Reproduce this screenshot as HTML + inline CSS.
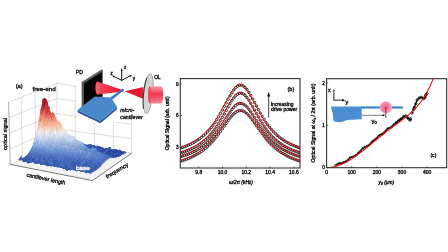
<!DOCTYPE html>
<html><head><meta charset="utf-8"><style>
html,body{margin:0;padding:0;background:#fff;}
body{width:448px;height:252px;overflow:hidden;}
svg{display:block;filter:blur(0.3px);}
text{font-family:'Liberation Sans', Arial, sans-serif;fill:#111;stroke:#111;stroke-width:0.34px;}
.fit{fill:none;stroke:#f01010;stroke-width:1.0;}
.ax{fill:none;stroke:#333;stroke-width:1.1;}
.tk{font-size:5px;}
</style></head><body>
<svg width="448" height="252" viewBox="0 0 448 252">
<defs>
<clipPath id="cb"><rect x="180.3" y="78.6" width="119.69999999999999" height="89.4"/></clipPath>
<clipPath id="cc"><rect x="326.6" y="78.7" width="120.1" height="89"/></clipPath>
<radialGradient id="pink" cx="0.5" cy="0.5" r="0.5"><stop offset="0" stop-color="#f0608a"/><stop offset="0.6" stop-color="#f37fa0"/><stop offset="1" stop-color="#f7b0c4"/></radialGradient>
<linearGradient id="cyl" x1="0" y1="0" x2="0" y2="1"><stop offset="0" stop-color="#f79aa6"/><stop offset="0.45" stop-color="#f2364a"/><stop offset="1" stop-color="#f58a96"/></linearGradient>
<linearGradient id="cone1" x1="0" y1="0" x2="1" y2="0"><stop offset="0" stop-color="#f04a5a"/><stop offset="1" stop-color="#e8102a"/></linearGradient>
</defs>
<rect width="448" height="252" fill="#fff"/>
<g id="pa"><polygon points="10.2,164.4 8.6,102 56.9,83.2 56.9,144" fill="#ffffff" stroke="none"/><polygon points="56.9,144 56.9,83.2 131.8,95.6 131.8,153.1" fill="#ffffff" stroke="none"/><polygon points="10.2,164.4 92.5,180.6 131.8,153.1 56.9,144" fill="#f2f2f2" stroke="none"/><polyline points="10.2,164.4 56.9,144 131.8,153.1" fill="none" stroke="#c8c8c8" stroke-width="0.6"/><polyline points="9.8,148.8 56.9,128.8 131.8,138.7" fill="none" stroke="#c8c8c8" stroke-width="0.6"/><polyline points="9.4,133.2 56.9,113.6 131.8,124.3" fill="none" stroke="#c8c8c8" stroke-width="0.6"/><polyline points="9,117.6 56.9,98.4 131.8,110" fill="none" stroke="#c8c8c8" stroke-width="0.6"/><polyline points="8.6,102 56.9,83.2 131.8,95.6" fill="none" stroke="#c8c8c8" stroke-width="0.6"/><line x1="22.3" y1="159.1" x2="21.1" y2="97.1" stroke="#c8c8c8" stroke-width="0.6"/><line x1="35.7" y1="153.3" x2="35" y2="91.7" stroke="#c8c8c8" stroke-width="0.6"/><line x1="49.1" y1="147.4" x2="48.8" y2="86.3" stroke="#c8c8c8" stroke-width="0.6"/><line x1="56.9" y1="144" x2="56.9" y2="83.2" stroke="#c8c8c8" stroke-width="0.6"/><line x1="75.2" y1="146.2" x2="75.2" y2="86.2" stroke="#c8c8c8" stroke-width="0.6"/><line x1="94.3" y1="148.5" x2="94.3" y2="89.4" stroke="#c8c8c8" stroke-width="0.6"/><line x1="113.3" y1="150.9" x2="113.3" y2="92.5" stroke="#c8c8c8" stroke-width="0.6"/><line x1="131.6" y1="153.1" x2="131.6" y2="95.6" stroke="#c8c8c8" stroke-width="0.6"/><line x1="10.2" y1="164.4" x2="8.6" y2="102" stroke="#888" stroke-width="0.7"/><path d="M59.9 139.8L61.6 139.2L62.2 138.1L60.6 139.4Z" fill="#3f66c0"/><path d="M59.2 139.8L60.9 139.1L61.6 139.1L59.9 139.8Z" fill="#3a5eb2"/><path d="M61.2 139.2L62.8 139.7L63.6 138.6L62 138Z" fill="#3b5fb1"/><path d="M58.6 140.6L60.3 139.8L60.9 139.1L59.2 139.7Z" fill="#3d63bc"/><path d="M60.5 139.2L62.3 139.5L62.9 139.5L61.2 139.1Z" fill="#4068c1"/><path d="M62.5 139.4L64.1 141.2L64.9 140L63.3 138.4Z" fill="#395eb4"/><path d="M57.9 140.2L59.6 139.7L60.3 139.7L58.6 140.7Z" fill="#385aab"/><path d="M59.8 139.8L61.5 139.9L62.3 139.4L60.6 139.1Z" fill="#4168c1"/><path d="M61.9 139.3L63.4 141.7L64.2 141.1L62.6 139.3Z" fill="#385cb3"/><path d="M63.8 141L65.5 141.2L66.2 140.8L64.6 139.8Z" fill="#375cb7"/><path d="M57.2 141.7L58.9 140.8L59.6 139.7L57.9 140Z" fill="#3a5fb6"/><path d="M59.2 139.8L60.9 140L61.6 139.8L59.8 139.8Z" fill="#3d63b7"/><path d="M61.2 139.6L62.7 142.1L63.5 141.7L62 139.2Z" fill="#385cb2"/><path d="M63.1 141.6L64.8 141.9L65.5 141L63.9 140.8Z" fill="#355ab7"/><path d="M56.5 141.6L58.2 140.9L58.9 140.6L57.3 141.7Z" fill="#3b61bc"/><path d="M65.1 141.2L66.8 139.9L67.5 139.8L65.8 140.9Z" fill="#3456a8"/><path d="M58.5 140.8L60.3 140.1L60.9 139.9L59.2 139.6Z" fill="#3c61b4"/><path d="M60.6 139.7L62.1 142.8L62.8 142.1L61.3 139.6Z" fill="#3b61bd"/><path d="M62.5 142L64.2 141.3L64.9 141.7L63.1 141.5Z" fill="#3255ad"/><path d="M55.9 141.8L57.6 140.9L58.3 140.9L56.5 141.6Z" fill="#375bae"/><path d="M64.5 141.8L66.1 139.8L66.8 139.9L65.2 141.2Z" fill="#385db4"/><path d="M57.8 141.1L59.6 140.8L60.2 140L58.5 140.8Z" fill="#3d62b8"/><path d="M66.5 139.9L68 142.6L68.7 142.6L67.2 139.7Z" fill="#3457af"/><path d="M59.9 139.9L61.4 142.9L62.2 142.8L60.7 139.7Z" fill="#375bb1"/><path d="M61.8 142.7L63.6 142L64.2 141.3L62.5 141.9Z" fill="#3255ad"/><path d="M55.2 142.5L56.9 141.5L57.6 140.9L55.8 141.7Z" fill="#385db2"/><path d="M63.8 141.5L65.5 141.3L66.1 139.9L64.6 141.9Z" fill="#385db5"/><path d="M57.2 141.1L58.9 141.3L59.6 140.7L57.8 141Z" fill="#3b60b3"/><path d="M65.8 139.9L67.3 142.5L68.1 142.6L66.6 139.8Z" fill="#3659b1"/><path d="M59.2 140.6L60.8 142.5L61.5 142.8L60 139.9Z" fill="#395db4"/><path d="M67.7 142.5L69.5 141.9L70.1 141L68.5 142.6Z" fill="#3255b2"/><path d="M61.1 142.7L62.8 143.1L63.5 141.9L61.8 142.6Z" fill="#3255af"/><path d="M54.5 142.3L56.2 141.2L56.9 141.5L55.3 142.5Z" fill="#3a5eb5"/><path d="M63.1 142.1L64.9 141.7L65.5 141.2L63.8 141.4Z" fill="#385cb5"/><path d="M56.5 141.6L58.2 141.6L58.9 141.2L57.2 140.9Z" fill="#3d63ba"/><path d="M65.1 141.2L66.7 143L67.5 142.5L65.9 139.8Z" fill="#375db8"/><path d="M58.5 141.1L60.1 142.9L60.9 142.4L59.3 140.5Z" fill="#3a5fb7"/><path d="M67.1 142.4L68.7 141.1L69.5 141.9L67.8 142.6Z" fill="#3559b7"/><path d="M60.5 142.3L62.2 142.8L62.9 142.9L61.1 142.6Z" fill="#3559b5"/><path d="M69.1 142L70.7 140.8L71.4 141.2L69.7 141.1Z" fill="#3659b1"/><path d="M53.9 143.2L55.6 142.7L56.2 141.3L54.5 142.2Z" fill="#385cb2"/><path d="M62.5 143L64.2 141.7L64.8 141.6L63.1 141.9Z" fill="#375cb6"/><path d="M55.8 141.4L57.6 141.3L58.3 141.5L56.5 141.6Z" fill="#3e65bb"/><path d="M64.5 141.5L66 143.4L66.8 142.9L65.2 141Z" fill="#3357af"/><path d="M57.9 141.3L59.4 144L60.2 142.8L58.6 141Z" fill="#3558ab"/><path d="M66.4 142.9L68.1 142.4L68.8 141.2L67.1 142.4Z" fill="#3051a5"/><path d="M59.8 142.7L61.5 143.1L62.2 142.8L60.5 142.2Z" fill="#3559b2"/><path d="M68.4 141.3L70.1 141.6L70.8 140.9L69.1 142.1Z" fill="#385db7"/><path d="M53.2 143.1L54.8 141.4L55.6 142.6L53.9 143.3Z" fill="#3b60b9"/><path d="M61.8 142.8L63.5 141.8L64.2 141.7L62.6 143.1Z" fill="#3456ab"/><path d="M70.3 141L72.1 141.1L72.7 140L71.1 141.4Z" fill="#3c62bb"/><path d="M55.2 142.7L56.9 141.3L57.6 141.3L55.9 141.3Z" fill="#3d62b6"/><path d="M63.8 141.7L65.3 144.6L66.2 143.3L64.6 141.4Z" fill="#3356b0"/><path d="M57.2 141.2L58.7 144.3L59.5 144L58 141.3Z" fill="#385cb5"/><path d="M65.8 143.3L67.4 141.9L68.1 142.2L66.4 142.9Z" fill="#3153aa"/><path d="M59.2 143.9L60.8 143.7L61.6 142.9L59.9 142.5Z" fill="#3254ab"/><path d="M67.7 142.4L69.4 142.5L70.1 141.5L68.5 141.2Z" fill="#3355a7"/><path d="M52.5 143.5L54.2 142.2L54.9 141.4L53.2 143.2Z" fill="#3a5eb2"/><path d="M61.2 143.1L62.8 141.6L63.5 141.9L61.9 142.9Z" fill="#3457aa"/><path d="M69.7 141.6L71.4 141.5L72.1 140.9L70.4 140.9Z" fill="#3a5fb7"/><path d="M54.5 141.5L56.3 141.9L56.9 141.4L55.3 142.8Z" fill="#3f65ba"/><path d="M63.2 141.8L64.7 144L65.4 144.6L63.9 141.6Z" fill="#3458b3"/><path d="M71.6 140.9L73.3 142.1L74 141.2L72.4 139.9Z" fill="#3a5fb7"/><path d="M56.6 141.3L58.1 143.8L58.8 144.3L57.3 141.2Z" fill="#385cb1"/><path d="M65.2 144.5L66.8 142.9L67.4 142L65.7 143.3Z" fill="#3154ae"/><path d="M58.5 144.1L60.2 143.4L60.9 143.5L59.1 143.9Z" fill="#3153ab"/><path d="M67.1 142.1L68.8 142.2L69.5 142.3L67.7 142.3Z" fill="#375bb5"/><path d="M51.8 143.7L53.5 142.5L54.2 142.2L52.6 143.5Z" fill="#3b60b8"/><path d="M60.5 143.7L62.2 142.9L62.8 141.6L61.1 143.1Z" fill="#3558ad"/><path d="M69.1 142.4L70.7 141.2L71.4 141.3L69.7 141.5Z" fill="#395db4"/><path d="M53.8 142.4L55.6 142.1L56.3 141.8L54.6 141.4Z" fill="#4066bb"/><path d="M62.5 141.6L64 144.4L64.8 144L63.3 141.8Z" fill="#3458af"/><path d="M71 141.4L72.7 140.8L73.4 142L71.7 140.8Z" fill="#3b61ba"/><path d="M55.9 141.7L57.4 144.4L58.2 143.8L56.6 141.2Z" fill="#3d64bf"/><path d="M64.4 143.9L66.1 142.8L66.8 142.9L65.2 144.6Z" fill="#2f51aa"/><path d="M73 141.8L74.6 143.1L75.4 142.2L73.7 141Z" fill="#3457ae"/><path d="M57.8 143.6L59.6 143.7L60.2 143.5L58.5 144.2Z" fill="#3051a3"/><path d="M66.4 143.1L68.1 142.2L68.8 142.2L67.1 142Z" fill="#365bb2"/><path d="M51.2 144.3L52.8 142.4L53.6 142.5L51.9 143.7Z" fill="#3a5eb4"/><path d="M59.8 143.6L61.4 142.2L62.2 142.8L60.5 143.7Z" fill="#3355a7"/><path d="M68.4 142.3L70.1 141.5L70.8 141.2L69.1 142.5Z" fill="#3a5fb6"/><path d="M53.2 142.7L54.9 142.1L55.6 142L53.8 142.4Z" fill="#4168be"/><path d="M61.8 142.8L63.4 144.8L64.1 144.4L62.6 141.6Z" fill="#3356ac"/><path d="M70.3 141.3L72 142.1L72.7 140.9L71 141.4Z" fill="#3a5fb5"/><path d="M55.2 141.9L56.8 143.8L57.5 144.3L56 141.6Z" fill="#3a5eb1"/><path d="M63.8 144.3L65.5 143.5L66.1 142.9L64.4 143.9Z" fill="#3356b1"/><path d="M72.4 140.8L74 142.6L74.7 143L73 141.8Z" fill="#3456aa"/><path d="M57.2 144.2L58.9 143.7L59.6 143.7L57.8 143.5Z" fill="#3558af"/><path d="M65.7 143.1L67.4 143.3L68.1 142.2L66.4 143.1Z" fill="#395fbc"/><path d="M50.5 143.8L52.1 141.6L52.9 142.5L51.3 144.4Z" fill="#3e63b9"/><path d="M74.3 142.9L75.9 143.1L76.6 141.7L75 142Z" fill="#3357b1"/><path d="M59.1 143.8L60.8 144L61.5 142.3L59.8 143.7Z" fill="#375bb2"/><path d="M67.7 142.3L69.4 142.5L70.1 141.5L68.4 142.3Z" fill="#375baf"/><path d="M52.5 142.7L54.1 141.1L54.9 142.2L53.2 142.8Z" fill="#4269bd"/><path d="M61.2 142.3L62.7 145.2L63.5 144.7L61.9 142.7Z" fill="#3559b2"/><path d="M69.7 141.6L71.3 142.7L72.1 141.9L70.4 141.1Z" fill="#395cb0"/><path d="M54.5 142.1L56.1 143.5L56.9 143.7L55.3 141.8Z" fill="#3f65bb"/><path d="M63.1 144.7L64.7 143.1L65.5 143.5L63.8 144.4Z" fill="#3458b4"/><path d="M71.7 141.9L73.2 143.4L74 142.5L72.5 140.7Z" fill="#3a5fb9"/><path d="M56.5 143.5L58.2 143.7L58.9 143.7L57.2 144.3Z" fill="#3457aa"/><path d="M65.1 143.6L66.8 144L67.5 143.1L65.8 142.9Z" fill="#3356ab"/><path d="M49.9 144.2L51.5 142.3L52.2 141.7L50.6 143.8Z" fill="#3d61b2"/><path d="M73.6 142.4L75.4 142.8L76 143L74.3 142.9Z" fill="#3459b4"/><path d="M58.5 143.8L60.1 142.1L60.9 143.9L59.2 143.8Z" fill="#3a5fb8"/><path d="M67.1 143.2L68.8 142.2L69.5 142.4L67.8 142.2Z" fill="#3a60b8"/><path d="M51.8 141.9L53.4 140.3L54.2 141.2L52.6 142.8Z" fill="#466dbd"/><path d="M75.6 143L77.2 143.8L78 142.8L76.4 141.6Z" fill="#3051a7"/><path d="M60.5 143.7L62.1 145.6L62.8 145.1L61.3 142.2Z" fill="#3357af"/><path d="M69 142.4L70.7 143.4L71.4 142.5L69.8 141.4Z" fill="#395eb5"/><path d="M53.9 141.2L55.5 141.8L56.2 143.5L54.5 142.2Z" fill="#4268b9"/><path d="M62.5 145.1L64.1 143.5L64.8 143.2L63.2 144.7Z" fill="#3356af"/><path d="M71 142.4L72.6 144L73.4 143.3L71.8 141.7Z" fill="#365bb5"/><path d="M55.8 143.3L57.5 144L58.2 143.7L56.5 143.5Z" fill="#3a5fb7"/><path d="M64.4 143.2L66.1 144.6L66.8 143.8L65.1 143.4Z" fill="#3255aa"/><path d="M49.2 144.4L50.7 141.7L51.5 142.3L49.9 144.2Z" fill="#3d60b0"/><path d="M73 143.2L74.6 143.9L75.4 142.7L73.7 142.3Z" fill="#3355ad"/><path d="M57.8 143.8L59.5 142.8L60.2 142.2L58.6 143.9Z" fill="#3c62b8"/><path d="M66.5 143.9L68 141.9L68.8 142.2L67.1 143.3Z" fill="#395db3"/><path d="M51.2 142.6L52.8 140L53.5 140.4L51.9 142Z" fill="#4c73c1"/><path d="M74.9 142.7L76.6 143.6L77.3 143.7L75.6 142.8Z" fill="#3052a9"/><path d="M59.9 142.1L61.4 145.2L62.1 145.6L60.5 143.6Z" fill="#375bb5"/><path d="M68.4 142.2L70.1 142.9L70.8 143.3L69.1 142.3Z" fill="#395eb5"/><path d="M53.2 140.4L54.9 141.4L55.5 142.1L53.8 141.3Z" fill="#4c74c4"/><path d="M77 143.8L78.6 142L79.2 141.3L77.6 142.9Z" fill="#3355ab"/><path d="M61.8 145.5L63.5 144.2L64.1 143.6L62.5 145.1Z" fill="#3052aa"/><path d="M70.4 143.2L72 144.2L72.7 143.9L71.1 142.3Z" fill="#3458b0"/><path d="M55.2 141.8L56.8 142.3L57.5 144.1L55.9 143.5Z" fill="#3e63b5"/><path d="M63.8 143.7L65.5 143.8L66.2 144.5L64.5 143.1Z" fill="#3456ab"/><path d="M48.5 143L50.1 140.7L50.9 141.8L49.3 144.4Z" fill="#466dbf"/><path d="M72.3 143.9L74 142.9L74.7 143.8L73 143.1Z" fill="#3458b4"/><path d="M57.2 144L58.9 143.1L59.5 142.8L57.9 143.9Z" fill="#3d62b9"/><path d="M65.8 144.5L67.5 143.2L68.1 141.9L66.5 144Z" fill="#3a60bb"/><path d="M50.5 142.1L52.1 138.6L52.9 140L51.3 142.7Z" fill="#527ac6"/><path d="M74.3 143.8L75.9 144.4L76.7 143.5L75.1 142.5Z" fill="#3052ab"/><path d="M59.2 142.7L60.7 145.3L61.5 145.2L60 142.1Z" fill="#375aad"/><path d="M67.8 141.9L69.3 143.8L70.1 142.8L68.5 142.1Z" fill="#3a5eb3"/><path d="M52.5 140.1L54.2 141.2L54.9 141.4L53.2 140.4Z" fill="#557fcf"/><path d="M76.3 143.6L77.9 141.9L78.6 142.1L77 143.8Z" fill="#3559b2"/><path d="M61.1 145.1L62.8 144.3L63.5 144.3L61.9 145.6Z" fill="#3357b2"/><path d="M69.7 142.7L71.4 144.1L72.1 144.1L70.4 143.1Z" fill="#365bb5"/><path d="M54.5 141.3L56.1 141L56.9 142.7L55.2 142Z" fill="#4971c3"/><path d="M78.2 142.1L79.8 143.9L80.6 143.2L79 141.2Z" fill="#3558b0"/><path d="M63.1 144.4L64.8 144.6L65.5 143.7L63.8 143.6Z" fill="#365bb3"/><path d="M47.9 143.7L49.4 140.6L50.2 140.8L48.6 143.1Z" fill="#4d76c8"/><path d="M71.7 144.1L73.4 144.2L74 142.9L72.3 143.8Z" fill="#3357b1"/><path d="M56.5 142.4L58.1 142L58.9 143.3L57.3 144.1Z" fill="#4269bf"/><path d="M65.1 143.8L66.8 143.5L67.5 143.2L65.9 144.6Z" fill="#375cb4"/><path d="M49.9 141.1L51.4 137.1L52.2 138.7L50.7 142.1Z" fill="#5b82c7"/><path d="M73.7 142.9L75.3 144.5L76 144.2L74.3 143.7Z" fill="#3153ab"/><path d="M58.5 143.1L60.1 145.4L60.8 145.3L59.3 142.7Z" fill="#385bb0"/><path d="M67.1 143.3L68.7 144L69.5 143.7L67.9 141.8Z" fill="#3c62bb"/><path d="M51.9 138.7L53.5 139.1L54.2 141.3L52.5 140.3Z" fill="#567bbe"/><path d="M75.6 144.3L77.3 143.3L77.9 142L76.3 143.6Z" fill="#3356ae"/><path d="M60.5 145.2L62.1 143.9L62.9 144.4L61.2 145.2Z" fill="#395fbe"/><path d="M69 143.6L70.7 144.7L71.4 144L69.8 142.6Z" fill="#3559b0"/><path d="M53.8 141L55.5 141.8L56.3 141.2L54.5 141.3Z" fill="#4c73be"/><path d="M77.6 142L79.1 144.3L79.9 143.8L78.3 142Z" fill="#3458b0"/><path d="M62.4 144.4L64.2 144.4L64.9 144.4L63.1 144.3Z" fill="#385eb9"/><path d="M47.2 143.2L48.7 138.3L49.5 140.7L48 143.7Z" fill="#537ac6"/><path d="M71 143.9L72.8 143.8L73.4 144.1L71.7 144.1Z" fill="#3458b2"/><path d="M55.8 141.1L57.4 140.3L58.2 142.3L56.6 142.7Z" fill="#4c74c4"/><path d="M79.5 143.7L81.1 144.4L81.9 143.7L80.3 142.9Z" fill="#2e50a8"/><path d="M64.5 144.5L66.2 143.5L66.8 143.5L65.1 143.7Z" fill="#3e66c5"/><path d="M49.3 141L50.7 135.8L51.5 137.1L50 141.2Z" fill="#6890d0"/><path d="M73 144.1L74.7 144.5L75.4 144.4L73.8 142.8Z" fill="#3154ab"/><path d="M57.9 142L59.5 144.5L60.1 145.4L58.6 143Z" fill="#3d62b6"/><path d="M66.4 143.6L68.1 144.4L68.8 143.8L67.2 143.1Z" fill="#395eb6"/><path d="M51.2 137.2L52.8 137.2L53.5 139.5L51.9 139.1Z" fill="#6e95d4"/><path d="M75 144.5L76.5 142.3L77.3 143.2L75.7 144.4Z" fill="#3559b4"/><path d="M59.8 145.3L61.5 144.1L62.2 144L60.5 145.3Z" fill="#375cb4"/><path d="M68.4 143.7L70 144.9L70.8 144.6L69.1 143.4Z" fill="#3355a9"/><path d="M53.2 139.2L54.8 138.9L55.5 141.9L53.9 141.3Z" fill="#5b84cd"/><path d="M76.9 143.2L78.5 144.5L79.3 144.2L77.7 141.9Z" fill="#3356ae"/><path d="M61.8 144L63.5 144.7L64.2 144.4L62.5 144.5Z" fill="#385cb2"/><path d="M46.6 142.8L48 137.6L48.8 138.3L47.3 143.2Z" fill="#597fc2"/><path d="M70.4 144.6L72.1 144.6L72.8 143.8L71.1 143.8Z" fill="#3356ad"/><path d="M55.2 141.8L56.8 139.8L57.6 140.4L55.9 141.3Z" fill="#537ac3"/><path d="M78.9 144.1L80.6 144.3L81.2 144.3L79.6 143.5Z" fill="#2e50aa"/><path d="M63.8 144.5L65.5 143.5L66.2 143.5L64.5 144.6Z" fill="#375aad"/><path d="M48.5 138.7L50.1 134.7L50.8 135.8L49.3 141.1Z" fill="#799cd5"/><path d="M72.3 143.8L74 144.6L74.7 144.4L73 144Z" fill="#3356af"/><path d="M57.3 140.3L58.8 144.5L59.5 144.5L57.9 142Z" fill="#4369b9"/><path d="M80.9 144.4L82.5 143L83.2 142.9L81.5 143.8Z" fill="#3052a9"/><path d="M65.8 143.6L67.4 144.5L68.2 144.2L66.5 143.4Z" fill="#385cb0"/><path d="M50.5 135.9L52.1 135.8L52.9 137.5L51.3 137.5Z" fill="#85a7dd"/><path d="M74.3 144.5L76 143.3L76.6 142.4L75.1 144.5Z" fill="#3152a4"/><path d="M59.1 144.4L60.8 143.3L61.6 144.3L59.9 145.4Z" fill="#3a5fb5"/><path d="M67.7 144.1L69.4 145.3L70.1 144.8L68.5 143.6Z" fill="#3254a8"/><path d="M52.5 137.2L54.1 137.6L54.9 139.3L53.3 139.5Z" fill="#6b92cf"/><path d="M76.3 142.4L77.9 145.1L78.6 144.4L77 143.1Z" fill="#355ab4"/><path d="M61.1 144.3L62.9 144.5L63.6 144.6L61.8 143.9Z" fill="#395db2"/><path d="M45.9 141.6L47.4 136.4L48.1 137.7L46.6 142.9Z" fill="#678fd0"/><path d="M69.7 144.8L71.4 145.2L72.1 144.4L70.4 144.4Z" fill="#3153aa"/><path d="M54.5 139L56.1 139.1L56.9 140L55.3 141.9Z" fill="#638dd7"/><path d="M78.2 144.2L79.9 145.1L80.6 144.2L78.9 143.9Z" fill="#3053af"/><path d="M63.1 144.7L64.8 143.4L65.5 143.6L63.8 144.6Z" fill="#3d64bd"/><path d="M47.9 138L49.4 132.1L50.2 134.7L48.7 138.7Z" fill="#89a5d2"/><path d="M71.7 144.4L73.3 145.3L74.1 144.5L72.4 143.7Z" fill="#3254a9"/><path d="M56.6 139.9L58.1 143.4L58.8 144.5L57.3 140.3Z" fill="#4f79cb"/><path d="M80.2 144.3L81.9 143.4L82.5 143.1L80.9 144.4Z" fill="#3153ac"/><path d="M65.1 143.6L66.8 144.5L67.5 144.4L65.8 143.5Z" fill="#3a5fb5"/><path d="M49.8 134.9L51.4 131.8L52.2 136.2L50.6 136.2Z" fill="#9cb6e1"/><path d="M73.7 144.6L75.3 143.1L76 143.4L74.4 144.5Z" fill="#3457ab"/><path d="M58.5 144.4L60.1 142.1L60.9 143.5L59.3 144.6Z" fill="#436ac0"/><path d="M82.1 143.1L83.7 144.9L84.5 144.2L82.9 142.8Z" fill="#3153ac"/><path d="M67.1 144.3L68.8 145.3L69.5 145.2L67.8 144Z" fill="#375bb4"/><path d="M51.9 135.9L53.6 137.1L54.2 137.9L52.5 137.5Z" fill="#7d9dd2"/><path d="M75.6 143.4L77.2 145.5L78 145L76.4 142.3Z" fill="#3559b3"/><path d="M60.5 143.4L62.1 143.1L62.9 144.6L61.2 144.5Z" fill="#3e63b6"/><path d="M45.2 141.7L46.7 135.6L47.4 136.4L46 141.7Z" fill="#759bd9"/><path d="M69.1 145.1L70.8 144.9L71.5 145.1L69.7 144.6Z" fill="#3559b5"/><path d="M53.9 137.7L55.4 137L56.2 139.5L54.6 139.4Z" fill="#7399d8"/><path d="M77.6 144.9L79.3 144.7L80 144.9L78.3 144.1Z" fill="#2f52ad"/><path d="M62.5 144.5L64.2 143.6L64.9 143.5L63.2 144.8Z" fill="#3e64bc"/><path d="M47.3 136.8L48.7 130.2L49.5 132.1L48 138.1Z" fill="#96abcf"/><path d="M71 145.1L72.7 145.7L73.4 145.1L71.8 144.2Z" fill="#3356b1"/><path d="M55.9 139.1L57.4 142.5L58.1 143.4L56.6 139.8Z" fill="#557dc6"/><path d="M79.6 145L81.3 144L81.9 143.4L80.2 144.2Z" fill="#3154ad"/><path d="M64.5 143.5L66.1 145.1L66.9 144.4L65.2 143.5Z" fill="#3b60b6"/><path d="M49.1 132.4L50.7 129.3L51.6 132L50 135.1Z" fill="#b0c1df"/><path d="M73.1 145.2L74.7 143.6L75.4 143.1L73.7 144.6Z" fill="#3659b0"/><path d="M57.8 143.3L59.4 141.6L60.2 142.2L58.6 144.5Z" fill="#4972c5"/><path d="M81.5 143.5L83.1 144.7L83.8 144.9L82.3 143Z" fill="#3357b4"/><path d="M66.4 144.3L68.1 145.4L68.8 145.2L67.2 144.2Z" fill="#365ab0"/><path d="M51.3 131.8L52.8 132.4L53.5 137.3L52 136.2Z" fill="#9cb3da"/><path d="M75 143.1L76.6 145L77.3 145.4L75.7 143.3Z" fill="#375db9"/><path d="M59.9 142.2L61.6 143.3L62.2 143.3L60.6 143.7Z" fill="#446abb"/><path d="M44.6 141.3L46 133.7L46.8 135.6L45.3 141.7Z" fill="#86a9e4"/><path d="M83.4 144.8L85.2 144.1L85.8 144.4L84.1 144Z" fill="#2e4fa9"/><path d="M68.4 145.1L70.1 146L70.8 144.9L69.1 145Z" fill="#3254aa"/><path d="M53.2 137.1L54.8 135.9L55.6 137.3L53.9 138Z" fill="#86a7de"/><path d="M76.9 145.3L78.7 144.6L79.3 144.7L77.6 144.8Z" fill="#3256b4"/><path d="M61.8 143.2L63.5 142.8L64.2 143.8L62.6 144.7Z" fill="#3f64b4"/><path d="M46.6 136L48 125.8L48.8 130.2L47.3 136.8Z" fill="#c4d6f4"/><path d="M70.4 144.9L72.1 145.4L72.8 145.6L71.1 145Z" fill="#3255ad"/><path d="M55.3 137L56.8 140.7L57.5 142.5L55.9 139.2Z" fill="#6891d7"/><path d="M78.9 144.7L80.6 144.7L81.3 144L79.6 145Z" fill="#3052aa"/><path d="M63.8 143.7L65.5 145.1L66.2 145L64.6 143.4Z" fill="#3a5eaf"/><path d="M48.5 130.6L50.1 126.8L50.9 129.4L49.3 132.6Z" fill="#d3def2"/><path d="M72.4 145.7L74.1 144.2L74.7 143.6L73.1 145.3Z" fill="#375bb6"/><path d="M57.2 142.3L58.8 140.6L59.6 141.8L58 143.4Z" fill="#5680d2"/><path d="M80.8 144L82.5 145.4L83.2 144.5L81.6 143.4Z" fill="#3458b6"/><path d="M65.8 144.9L67.5 145.7L68.2 145.2L66.5 144.2Z" fill="#395eb7"/><path d="M50.6 129.3L52.2 130.4L52.8 132.8L51.3 132.3Z" fill="#c2d1eb"/><path d="M74.4 143.7L75.9 145.6L76.7 144.9L75.1 143.1Z" fill="#3659b0"/><path d="M59.2 141.7L60.9 142.9L61.6 143.3L59.8 142.2Z" fill="#4b73c2"/><path d="M43.9 140.1L45.4 131.8L46.1 133.7L44.6 141.3Z" fill="#8da8d6"/><path d="M82.8 144.5L84.5 144.8L85.2 144.1L83.5 144.8Z" fill="#2e50a8"/><path d="M67.8 145.1L69.5 146L70.2 145.8L68.5 144.9Z" fill="#3051a2"/><path d="M52.6 132.4L54.1 132.2L54.8 136.3L53.3 137.3Z" fill="#a2bae2"/><path d="M76.3 144.8L78 145L78.7 144.6L77 145.4Z" fill="#3154ad"/><path d="M61.2 143.3L62.8 141.9L63.6 143L61.9 143.5Z" fill="#4d79d1"/><path d="M45.9 134.2L47.4 123.9L48.1 125.8L46.7 136.1Z" fill="#d7e0f3"/><path d="M84.8 144.1L86.4 145.7L87.1 145.1L85.5 144.2Z" fill="#2b4ca4"/><path d="M69.7 145.8L71.4 146.7L72.1 145.3L70.5 144.7Z" fill="#3356b0"/><path d="M54.6 135.9L56.1 139.5L56.8 140.7L55.3 137Z" fill="#7295cc"/><path d="M78.2 144.7L79.9 145.3L80.6 144.6L78.9 144.6Z" fill="#3052aa"/><path d="M63.2 142.8L64.9 143.7L65.5 145L63.8 143.8Z" fill="#3e62b2"/><path d="M47.8 125.9L49.4 122.2L50.2 127.1L48.7 130.7Z" fill="#f8f5f8"/><path d="M71.7 145.4L73.4 144.3L74.1 144.2L72.5 145.7Z" fill="#375bb5"/><path d="M56.5 140.5L58.1 139L58.9 140.9L57.3 142.5Z" fill="#5b81c4"/><path d="M80.2 144.6L81.8 145.6L82.6 145.3L81 143.9Z" fill="#3052ab"/><path d="M65.1 144.8L66.8 146.1L67.5 145.5L65.9 144.8Z" fill="#395fb9"/><path d="M49.9 126.8L51.4 126.2L52.1 130.8L50.6 129.7Z" fill="#e1e5f2"/><path d="M73.7 144.2L75.3 146.1L76.1 145.5L74.5 143.6Z" fill="#365ab3"/><path d="M58.6 140.7L60.3 141.6L60.9 142.9L59.2 141.8Z" fill="#5279c2"/><path d="M43.3 139.6L44.7 131.2L45.4 131.8L44 140.2Z" fill="#9cb4db"/><path d="M82.2 145.2L83.8 145.5L84.5 144.7L82.9 144.3Z" fill="#2e50aa"/><path d="M67.1 145.5L68.8 145.9L69.5 145.9L67.8 145Z" fill="#375cb6"/><path d="M51.8 130.5L53.4 127.9L54.2 132.6L52.7 132.8Z" fill="#c3d1e8"/><path d="M75.6 145.4L77.3 145.9L78 145L76.4 144.7Z" fill="#3051a7"/><path d="M60.5 142.8L62.1 141.1L62.9 142.1L61.3 143.4Z" fill="#527bcc"/><path d="M45.3 132.2L46.7 120.9L47.4 123.9L46 134.2Z" fill="#dfe0e7"/><path d="M84.1 144.7L85.7 145.8L86.5 145.6L84.9 144Z" fill="#2e50ad"/><path d="M69.1 145.8L70.8 145.8L71.5 146.6L69.8 145.7Z" fill="#3255ae"/><path d="M54 132.2L55.6 136.3L56.1 139.5L54.5 136.2Z" fill="#97b4e2"/><path d="M77.6 145L79.4 144.8L80 145.2L78.3 144.6Z" fill="#355ab7"/><path d="M62.5 142L64.2 142.3L64.9 143.9L63.2 143.1Z" fill="#4c75c7"/><path d="M47.2 124.3L48.7 119.1L49.6 122.3L48 126.2Z" fill="#fad8c7"/><path d="M86.1 145.7L87.8 144.7L88.4 144.4L86.7 145.1Z" fill="#2a4aa2"/><path d="M71.1 146.7L72.8 145L73.4 144.3L71.7 145.3Z" fill="#3457ad"/><path d="M55.8 139.3L57.5 138.2L58.3 139.2L56.7 140.7Z" fill="#6f96d5"/><path d="M79.6 145.2L81.2 146L82 145.5L80.3 144.4Z" fill="#3155b2"/><path d="M64.5 143.6L66.2 144.2L66.8 146.1L65.1 145Z" fill="#4067c0"/><path d="M49.3 122.2L50.8 123.4L51.5 126.6L50 127.2Z" fill="#fff1eb"/><path d="M73.1 144.4L74.7 145.9L75.4 146L73.8 144.1Z" fill="#365ab3"/><path d="M57.9 139L59.5 139.3L60.2 141.9L58.6 141Z" fill="#638ccf"/><path d="M42.6 138.3L44 128.8L44.7 131.2L43.3 139.6Z" fill="#b3c8ec"/><path d="M81.5 145.5L83.2 144.9L83.9 145.4L82.2 145.1Z" fill="#2e50aa"/><path d="M66.5 146L68.2 146L68.9 145.8L67.2 145.3Z" fill="#365ab2"/><path d="M51.3 126.2L52.8 126.4L53.6 128.2L52 130.8Z" fill="#dcdee7"/><path d="M75 145.9L76.7 146.1L77.4 145.7L75.7 145.2Z" fill="#3255b1"/><path d="M59.8 141.7L61.5 140.6L62.3 141.2L60.7 143Z" fill="#547bc2"/><path d="M44.6 131.7L46 117.6L46.7 120.9L45.3 132.2Z" fill="#f5e7e2"/><path d="M83.5 145.3L85.1 146.5L85.9 145.7L84.2 144.5Z" fill="#2a499f"/><path d="M68.4 145.7L70.1 146.8L70.9 145.9L69.1 145.7Z" fill="#355ab5"/><path d="M53.4 127.9L54.8 135.3L55.5 136.4L53.9 132.2Z" fill="#b1c3e1"/><path d="M77 145.9L78.7 145L79.4 144.8L77.6 144.9Z" fill="#3559b3"/><path d="M61.9 141.1L63.5 143.6L64.3 142.4L62.5 142Z" fill="#4d73bc"/><path d="M46.5 121.3L48.1 115.7L48.9 119.1L47.3 124.4Z" fill="#f1b79e"/><path d="M85.4 145.7L87.1 145L87.8 144.7L86.1 145.7Z" fill="#2d4fad"/><path d="M70.4 145.9L72.1 145.4L72.8 145L71.2 146.7Z" fill="#3356ac"/><path d="M55.3 136L56.8 136.5L57.6 138.5L56 139.5Z" fill="#83a4d8"/><path d="M78.9 144.8L80.7 145.7L81.3 145.9L79.6 145.1Z" fill="#3052aa"/><path d="M63.9 142.2L65.5 144.4L66.2 144.5L64.5 143.8Z" fill="#4165b3"/><path d="M48.6 119.1L50.1 117.5L50.8 123.9L49.3 122.6Z" fill="#f7c2a9"/><path d="M87.4 144.8L89 145.8L89.7 145.1L88.1 144.3Z" fill="#2d4faa"/><path d="M72.4 145.1L74.1 145.9L74.8 145.8L73.2 144.3Z" fill="#3558ad"/><path d="M57.2 138.3L58.9 138.7L59.6 139.6L57.9 139.3Z" fill="#759bd7"/><path d="M41.9 138.2L43.3 127.1L44 128.8L42.6 138.3Z" fill="#bacae5"/><path d="M80.9 145.9L82.6 146.1L83.2 144.9L81.5 145.4Z" fill="#2d4ea5"/><path d="M65.9 144.2L67.6 145.6L68.2 146L66.6 146.1Z" fill="#3a5fb6"/><path d="M50.6 123.5L52.1 122.3L52.8 126.8L51.3 126.6Z" fill="#eddad3"/><path d="M74.4 145.6L76 146.7L76.8 146L75 145.8Z" fill="#3459b8"/><path d="M59.2 139.4L60.8 138.4L61.6 141L60 141.9Z" fill="#6187c5"/><path d="M44 129.2L45.4 115.2L46.1 117.6L44.7 131.7Z" fill="#fad6c5"/><path d="M82.9 144.9L84.5 146.5L85.2 146.4L83.5 145.2Z" fill="#2d4fac"/><path d="M67.8 145.9L69.5 146.4L70.2 146.7L68.5 145.6Z" fill="#3253a6"/><path d="M52.7 126.4L54.1 132.3L54.8 135.3L53.4 127.9Z" fill="#c5cfe2"/><path d="M76.3 146.1L78.1 145.6L78.7 145L77 145.8Z" fill="#3357b1"/><path d="M61.2 140.7L62.9 141.5L63.5 143.5L61.9 141.1Z" fill="#577ec6"/><path d="M45.9 118L47.4 112.3L48.2 115.8L46.7 121.3Z" fill="#f29b7e"/><path d="M84.8 146.5L86.5 145.5L87.1 145L85.4 145.6Z" fill="#2d4fac"/><path d="M69.8 146.7L71.4 144.2L72.2 145.5L70.5 146Z" fill="#375bb1"/><path d="M54.5 135L56.1 132.5L56.9 136.9L55.3 136.4Z" fill="#9db4da"/><path d="M78.3 145L79.9 146.6L80.7 145.6L79 144.7Z" fill="#2e4ea0"/><path d="M63.2 143.3L64.8 144.3L65.6 144.3L64 142.2Z" fill="#4971c3"/><path d="M47.9 115.7L49.6 117.3L50.3 117.8L48.7 119.5Z" fill="#e99c81"/><path d="M86.7 145.1L88.5 145.1L89.1 145.7L87.4 144.7Z" fill="#2e50aa"/><path d="M71.7 145.5L73.4 146.4L74.2 145.8L72.5 144.9Z" fill="#375bb4"/><path d="M56.6 136.6L58.1 135.2L58.9 139L57.3 138.6Z" fill="#84a1d0"/><path d="M41.3 137.7L42.7 126.2L43.4 127.1L42 138.2Z" fill="#d4e2fa"/><path d="M80.2 145.5L82 145.4L82.6 146L80.9 145.9Z" fill="#3155b1"/><path d="M65.2 144.1L66.9 145L67.5 145.7L65.9 144.2Z" fill="#4269c0"/><path d="M50 117.5L51.5 118.8L52.2 122.7L50.7 123.9Z" fill="#ecb79e"/><path d="M88.7 145.8L90.3 144L91 144.3L89.3 145.2Z" fill="#2e50a8"/><path d="M73.7 145.6L75.4 146.9L76.1 146.6L74.4 145.5Z" fill="#3153ab"/><path d="M58.5 138.9L60.1 137L61 138.6L59.3 139.7Z" fill="#799bd3"/><path d="M43.3 127.5L44.7 113.1L45.4 115.2L44 129.2Z" fill="#ecb89f"/><path d="M82.2 145.9L83.8 146.8L84.6 146.4L83 144.8Z" fill="#2e4faa"/><path d="M67.2 145.5L68.9 145.5L69.5 146.4L67.8 146Z" fill="#395eb6"/><path d="M52 122.3L53.5 129.4L54.1 132.3L52.7 126.4Z" fill="#ecebf1"/><path d="M75.7 146.6L77.4 145.7L78.1 145.5L76.3 146Z" fill="#3154ab"/><path d="M60.6 138.4L62.3 140.2L62.9 141.7L61.3 141Z" fill="#6a93d7"/><path d="M45.3 115.7L46.7 105.6L47.6 112.5L46 118Z" fill="#e36e5c"/><path d="M84.2 146.4L85.8 145.1L86.5 145.5L84.9 146.5Z" fill="#29479a"/><path d="M69.1 146.4L70.9 145.6L71.5 144.3L69.9 146.8Z" fill="#385cb1"/><path d="M53.9 132L55.5 130.8L56.3 132.8L54.7 135.3Z" fill="#beceea"/><path d="M77.7 145.6L79.3 146.9L80 146.5L78.4 144.9Z" fill="#3356b2"/><path d="M62.6 141.4L64.3 142.8L64.9 144.3L63.2 143.5Z" fill="#4f77c4"/><path d="M47.3 112.4L48.8 113.2L49.5 117.6L48 116.1Z" fill="#e78269"/><path d="M86.1 145.6L87.7 146.3L88.5 145.1L86.8 145Z" fill="#2d4ea6"/><path d="M71.2 144.3L72.7 146.9L73.5 146.3L71.8 145.4Z" fill="#395eb7"/><path d="M56 132.6L57.5 133.4L58.3 135.5L56.7 137Z" fill="#a8bde0"/><path d="M40.6 136.8L42 124L42.7 126.2L41.3 137.7Z" fill="#d1d9ea"/><path d="M79.6 146.5L81.4 145.7L82 145.4L80.3 145.4Z" fill="#3052a9"/><path d="M64.5 144L66.3 144.8L66.9 145L65.2 144.1Z" fill="#456dc2"/><path d="M49.2 117.4L50.8 115.1L51.5 119.2L49.9 117.9Z" fill="#ec9a7e"/><path d="M88 145.2L89.7 144.6L90.4 144L88.8 145.8Z" fill="#2e4fa3"/><path d="M73.1 146.2L74.8 146.9L75.5 146.8L73.8 145.5Z" fill="#3458b2"/><path d="M57.9 135.2L59.5 133.7L60.3 137.4L58.7 139Z" fill="#94aed9"/><path d="M42.6 126.6L44 111.8L44.7 113.1L43.3 127.5Z" fill="#f5b095"/><path d="M81.6 145.3L83.2 147.3L83.9 146.7L82.3 145.7Z" fill="#2e4faa"/><path d="M66.5 144.8L68.2 144.8L68.9 145.7L67.2 145.7Z" fill="#4168c0"/><path d="M51.4 118.8L52.8 126.2L53.5 129.4L52 122.3Z" fill="#fbded0"/><path d="M90 144.1L91.7 144.5L92.3 145L90.6 144.3Z" fill="#3254ab"/><path d="M75.1 146.8L76.8 146.5L77.4 145.7L75.7 146.6Z" fill="#3254ac"/><path d="M60 137L61.6 139.4L62.2 140.4L60.6 138.5Z" fill="#7596cd"/><path d="M44.6 113.6L46.1 102L46.8 105.7L45.3 115.7Z" fill="#dc4744"/><path d="M83.5 146.7L85.3 146.3L85.8 145.1L84.2 146.4Z" fill="#2e4faa"/><path d="M68.5 145.6L70.1 144.4L70.9 145.7L69.3 146.5Z" fill="#3f65bf"/><path d="M53.3 129L54.8 127.8L55.6 131.1L54 132.3Z" fill="#d6ddec"/><path d="M77 145.7L78.7 146.7L79.4 146.8L77.7 145.4Z" fill="#2f50a3"/><path d="M61.9 140.1L63.6 140.7L64.2 143L62.5 141.7Z" fill="#638dd5"/><path d="M46.7 105.7L48.1 109.1L48.8 113.6L47.3 112.8Z" fill="#d74f48"/><path d="M85.5 145.2L87.1 146.9L87.8 146.2L86.2 145.4Z" fill="#2e4fa9"/><path d="M70.5 145.6L72.1 147L72.8 146.8L71.3 144.2Z" fill="#395eb5"/><path d="M55.3 130.8L56.9 131.5L57.6 133.8L56 132.9Z" fill="#c9d8f1"/><path d="M39.9 137L41.3 124.4L42 124L40.6 136.8Z" fill="#dfe5f2"/><path d="M79 146.8L80.7 147L81.3 145.6L79.6 146.4Z" fill="#2d4da3"/><path d="M63.9 142.7L65.6 143.4L66.2 144.8L64.6 144.3Z" fill="#4d76ca"/><path d="M48.6 113.3L50.1 112.4L50.9 115.4L49.4 117.6Z" fill="#e47d66"/><path d="M87.5 146.2L89.2 145.4L89.7 144.6L88.1 145.1Z" fill="#2f51a9"/><path d="M72.4 146.7L74.2 146.6L74.8 146.8L73.1 146Z" fill="#375cb9"/><path d="M57.2 133.6L58.8 131.7L59.7 133.9L58 135.6Z" fill="#bbceee"/><path d="M42 124.5L43.4 107.4L44.1 111.8L42.6 126.6Z" fill="#ec9679"/><path d="M81 145.7L82.6 147L83.3 147.2L81.7 145.3Z" fill="#2d4da1"/><path d="M65.8 144.6L67.6 144.8L68.3 145L66.5 144.9Z" fill="#436abe"/><path d="M50.7 115.1L52.1 124L52.8 126.2L51.4 118.8Z" fill="#f8bea5"/><path d="M89.3 144.7L91 145.7L91.7 144.4L90.1 144Z" fill="#3356af"/><path d="M74.4 146.7L76.2 146.4L76.8 146.5L75.1 146.8Z" fill="#3152a8"/><path d="M59.4 133.7L60.9 137.3L61.5 139.5L59.9 137.4Z" fill="#8fabd7"/><path d="M44 112.2L45.4 100.8L46.1 102L44.7 113.6Z" fill="#ba3035"/><path d="M82.9 147.1L84.6 146.6L85.3 146.1L83.5 146.6Z" fill="#2c4da8"/><path d="M67.8 145L69.5 144L70.2 144.5L68.6 145.8Z" fill="#446bc1"/><path d="M52.6 125.9L54.1 124L54.9 128.2L53.4 129.4Z" fill="#f8f0ef"/><path d="M91.3 144.3L92.9 146.3L93.7 145.3L92 144.8Z" fill="#2e4fa6"/><path d="M76.4 146.5L78 147.1L78.8 146.5L77.1 145.6Z" fill="#3356b0"/><path d="M61.3 139.1L62.9 140.8L63.6 141L61.9 140.3Z" fill="#6d95d5"/><path d="M46 102L47.5 104.7L48.1 109.5L46.5 106Z" fill="#b32530"/><path d="M84.8 146.2L86.5 146.8L87.2 146.8L85.6 145.1Z" fill="#2d4fa8"/><path d="M69.9 144.4L71.6 145.9L72.2 147L70.5 145.6Z" fill="#4068c3"/><path d="M54.7 127.8L56.2 128.6L56.9 131.9L55.4 131.2Z" fill="#dce2ef"/><path d="M39.2 137.3L40.7 127.2L41.4 124.4L39.9 137Z" fill="#dde4f4"/><path d="M78.3 146.5L80.1 147.1L80.7 146.8L79 146.7Z" fill="#2f50a8"/><path d="M63.3 140.7L65 142.8L65.6 143.7L63.9 143Z" fill="#5880c9"/><path d="M47.9 109.2L49.4 106.2L50.2 112.8L48.7 113.7Z" fill="#cb4943"/><path d="M86.8 146.8L88.5 145.4L89.1 145.3L87.4 146.2Z" fill="#2e50a9"/><path d="M71.8 146.9L73.5 146.9L74.2 146.5L72.4 146.7Z" fill="#375cb7"/><path d="M56.6 131.6L58.2 130.6L59 131.9L57.4 133.8Z" fill="#d6e4fd"/><path d="M41.3 124.8L42.7 108L43.4 107.4L42 124.5Z" fill="#f38c70"/><path d="M80.3 146.8L81.9 148.3L82.7 146.9L81.1 145.6Z" fill="#2e51ac"/><path d="M65.2 143.4L67 144.1L67.6 144.9L65.9 144.8Z" fill="#4870c2"/><path d="M50 112.4L51.5 121L52.1 124L50.7 115.1Z" fill="#ec9c80"/><path d="M88.7 145.4L90.4 146.2L91.1 145.5L89.5 144.5Z" fill="#3153ac"/><path d="M73.8 146.6L75.5 146.1L76.2 146.5L74.4 146.8Z" fill="#365bb5"/><path d="M58.7 131.7L60.3 134.5L60.9 137.4L59.3 133.7Z" fill="#adc0e1"/><path d="M43.3 107.9L44.7 98.3L45.4 100.8L44 112.2Z" fill="#b3212e"/><path d="M82.2 146.9L83.9 146.1L84.6 146.6L82.9 147.2Z" fill="#2c4da4"/><path d="M67.2 144.9L68.9 144L69.6 144.1L67.9 145.1Z" fill="#4268b6"/><path d="M51.9 123.8L53.5 120.7L54.3 124.3L52.7 126.2Z" fill="#edcab8"/><path d="M90.7 145.5L92.4 145.5L93 146.3L91.4 144.3Z" fill="#2d4ea3"/><path d="M75.7 146.5L77.5 146.9L78.1 147L76.4 146.4Z" fill="#3153a8"/><path d="M60.7 137L62.3 139L62.9 140.8L61.3 139.4Z" fill="#82a5dd"/><path d="M45.3 100.8L46.9 103.7L47.5 105.1L45.9 102Z" fill="#9f1825"/><path d="M84.2 146.6L85.9 147.3L86.6 146.6L84.9 146Z" fill="#2d4fa9"/><path d="M69.2 144.1L70.8 146.3L71.5 145.9L69.9 144.4Z" fill="#436bc2"/><path d="M54 124L55.5 124.7L56.2 129L54.7 128.2Z" fill="#faede9"/><path d="M38.6 138.8L40 128.2L40.7 127.2L39.3 137.3Z" fill="#cbd6ea"/><path d="M92.6 146.2L94.3 146.2L95 145.3L93.3 145.1Z" fill="#2e50ae"/><path d="M77.7 146.9L79.3 147.9L80.1 147L78.4 146.3Z" fill="#3053ad"/><path d="M62.6 140.5L64.3 141.4L64.9 142.8L63.3 140.7Z" fill="#638bce"/><path d="M47.3 104.7L48.9 108.1L49.6 106.3L48 109.5Z" fill="#c23137"/><path d="M86.2 146.7L87.9 145.9L88.5 145.4L86.9 146.8Z" fill="#2d4da3"/><path d="M71.2 145.7L72.9 146.7L73.5 146.9L71.8 147Z" fill="#375ab0"/><path d="M56 128.7L57.5 128.4L58.3 130.9L56.7 131.9Z" fill="#dbe0ed"/><path d="M40.6 127.6L42 109.2L42.7 108L41.3 124.8Z" fill="#f29375"/><path d="M79.7 146.9L81.3 148.7L82 148.2L80.4 146.6Z" fill="#2a4ba4"/><path d="M64.6 142.5L66.3 143L66.9 144.3L65.2 143.6Z" fill="#527ac6"/><path d="M49.4 106.2L50.8 117.6L51.5 121L50 112.4Z" fill="#eb7863"/><path d="M88.1 145.5L89.8 145.8L90.5 146.1L88.8 145.2Z" fill="#3357b4"/><path d="M73.1 146.9L74.8 147.3L75.5 146.2L73.8 146.5Z" fill="#375cb6"/><path d="M58 130.6L59.7 132.5L60.2 134.6L58.7 131.7Z" fill="#d0def7"/><path d="M42.6 108.4L44.1 97.7L44.8 98.3L43.3 107.9Z" fill="#9d1724"/><path d="M81.7 148.2L83.4 147.3L84 146.1L82.3 146.7Z" fill="#2d4ea7"/><path d="M66.5 144.3L68.1 142.2L69 144.2L67.3 145Z" fill="#4e76c6"/><path d="M51.2 120.7L52.8 119.2L53.7 120.9L52.1 124Z" fill="#f1b79d"/><path d="M90 146L91.6 147.2L92.4 145.4L90.8 145.3Z" fill="#2d4ea7"/><path d="M75.1 146.2L76.8 147.4L77.5 146.9L75.8 146.4Z" fill="#385eba"/><path d="M60 134.2L61.6 136.3L62.2 139.2L60.6 137.3Z" fill="#99b3dd"/><path d="M44.6 98.3L46.1 98.9L46.8 103.7L45.3 101.2Z" fill="#961321"/><path d="M83.6 146.2L85.2 147.4L85.9 147.2L84.2 146.5Z" fill="#2f51ac"/><path d="M68.6 144L70.1 146.7L70.9 146.3L69.3 144Z" fill="#4770c8"/><path d="M53.4 120.7L55 123.9L55.6 125.1L54 124.4Z" fill="#f6cdb8"/><path d="M37.9 139.5L39.3 128.6L40 128.2L38.6 138.8Z" fill="#d1dff7"/><path d="M92 145.4L93.7 145.9L94.3 146L92.6 146.3Z" fill="#2d4ea7"/><path d="M77.1 146.8L78.8 147.5L79.4 147.8L77.7 146.8Z" fill="#3052aa"/><path d="M62 138.8L63.5 138.9L64.2 141.5L62.7 140.8Z" fill="#7296cf"/><path d="M46.6 103.3L48.3 105.5L48.8 108.1L47.3 104.7Z" fill="#b0222e"/><path d="M85.6 147.3L87.2 145.7L87.9 145.9L86.2 146.7Z" fill="#3256b5"/><path d="M70.5 146.1L72.3 146.5L72.9 146.7L71.2 145.7Z" fill="#3a5eb1"/><path d="M55.4 124.7L56.9 124.8L57.6 128.8L56.1 129.1Z" fill="#fdf0ed"/><path d="M40 128.6L41.4 114.1L42 109.2L40.6 127.6Z" fill="#e99f84"/><path d="M93.9 146L95.5 146.7L96.3 146.2L94.6 145.2Z" fill="#2b4ca5"/><path d="M79 147.6L80.7 148.4L81.4 148.6L79.8 146.8Z" fill="#2d4eab"/><path d="M64 141.2L65.6 141.6L66.3 143.3L64.6 142.8Z" fill="#6089d0"/><path d="M48.7 107.7L50.1 115.7L50.8 117.6L49.4 106.2Z" fill="#db574d"/><path d="M87.5 146L89.1 146.8L89.8 145.7L88.2 145.4Z" fill="#2f50a4"/><path d="M72.5 146.7L74.1 145.3L74.9 147.3L73.2 147Z" fill="#3a5fb7"/><path d="M57.4 128.4L58.9 129.1L59.6 132.6L58 130.9Z" fill="#d5dae7"/><path d="M42 109.6L43.4 99L44.1 97.7L42.7 108.4Z" fill="#ae1a29"/><path d="M81 148.6L82.6 147L83.3 147.1L81.7 148.2Z" fill="#2b4ba5"/><path d="M65.9 143.2L67.5 141.1L68.3 142.4L66.7 144.4Z" fill="#5982ca"/><path d="M50.7 117.2L52.2 117.6L53 119.5L51.4 121Z" fill="#e89b7f"/><path d="M89.4 145.7L91.1 146.9L91.8 147.1L90.1 145.9Z" fill="#2d4ea6"/><path d="M74.4 147.2L76.1 147.9L76.9 147.3L75.2 146Z" fill="#3355aa"/><path d="M59.4 132.2L61 135.1L61.6 136.6L59.9 134.3Z" fill="#b9cdee"/><path d="M43.9 97.8L45.4 104L46.3 99L44.7 98.3Z" fill="#991422"/><path d="M82.9 147.2L84.6 147.9L85.3 147.3L83.7 146.1Z" fill="#2f51ac"/><path d="M68 142.2L69.6 145.1L70.2 146.6L68.6 144Z" fill="#4870bf"/><path d="M52.7 119.2L54.4 121.7L54.9 124L53.3 120.7Z" fill="#f0b59c"/><path d="M37.2 141.4L38.7 130.2L39.3 128.6L37.9 139.5Z" fill="#c9d9f5"/><path d="M91.4 147.1L93 145.5L93.7 145.8L92.1 145.3Z" fill="#2e4fa6"/><path d="M76.4 147.2L78.1 148.4L78.8 147.4L77.2 146.6Z" fill="#2f50a4"/><path d="M61.4 136.3L63 137.9L63.6 139.2L62 139.2Z" fill="#8faddd"/><path d="M46 98.9L47.6 102.1L48.2 105.7L46.7 103.7Z" fill="#951321"/><path d="M84.9 147.4L86.6 146.1L87.2 145.7L85.6 147.3Z" fill="#3052aa"/><path d="M69.9 146.4L71.6 147L72.3 146.4L70.6 146Z" fill="#3e65bd"/><path d="M54.6 123.8L56.2 122L57 125.1L55.4 125.1Z" fill="#efc9b6"/><path d="M39.3 129.1L40.7 114.5L41.4 114.1L40 128.6Z" fill="#f9b69a"/><path d="M93.3 145.8L94.9 147.4L95.6 146.6L94 145.8Z" fill="#2a4aa3"/><path d="M78.4 147.3L80 148.8L80.8 148.3L79.1 147.5Z" fill="#2f52b0"/><path d="M63.3 138.9L64.9 138.8L65.6 141.9L64.1 141.6Z" fill="#789edc"/><path d="M48.1 105.2L49.5 114.1L50.2 115.7L48.7 107.7Z" fill="#d14642"/><path d="M86.8 145.8L88.6 146.4L89.2 146.7L87.5 145.9Z" fill="#3255ad"/><path d="M71.8 146.5L73.6 145.9L74.2 145.4L72.6 146.8Z" fill="#3c61b4"/><path d="M56.7 124.8L58.2 125.9L58.9 129.6L57.4 128.8Z" fill="#f2e8e6"/><path d="M41.3 114.5L42.7 99L43.4 99L42 109.6Z" fill="#b3212e"/><path d="M95.2 146.7L97 146.1L97.5 145.4L95.8 146.2Z" fill="#2a4aa0"/><path d="M80.4 148.3L82 147.3L82.7 147.1L81.1 148.6Z" fill="#2e50ad"/><path d="M65.2 141.7L66.9 141.3L67.6 141.2L66 143.3Z" fill="#5e85c5"/><path d="M50 115.3L51.5 114.7L52.3 118L50.7 117.6Z" fill="#e48269"/><path d="M88.8 146.6L90.4 147.2L91.2 146.8L89.5 145.6Z" fill="#2c4ca1"/><path d="M73.9 145.3L75.5 147.7L76.2 147.8L74.5 147.3Z" fill="#3b62bf"/><path d="M58.7 129.1L60.3 131.4L60.9 135.2L59.3 132.6Z" fill="#cfdaee"/><path d="M43.3 99L44.8 102.5L45.5 104L44 97.7Z" fill="#9b1422"/><path d="M82.3 147.1L84 148.2L84.7 147.8L83 147Z" fill="#2d4ea6"/><path d="M67.3 141.1L68.9 143.8L69.5 145.1L68 142.3Z" fill="#5b84cf"/><path d="M52 117.6L53.6 117.5L54.2 121.8L52.6 119.5Z" fill="#e1977c"/><path d="M36.6 142.2L38 132.6L38.7 130.2L37.3 141.4Z" fill="#b4c7e7"/><path d="M90.7 146.8L92.5 146.6L93 145.5L91.4 147.1Z" fill="#3155b5"/><path d="M75.8 147.6L77.4 148.9L78.2 148.2L76.5 147Z" fill="#3052aa"/><path d="M60.7 134.8L62.3 135.3L62.9 138.2L61.3 136.6Z" fill="#a6bce2"/><path d="M45.3 104L47 101.4L47.6 102.4L46 98.9Z" fill="#9d1423"/><path d="M84.3 147.9L86 147.1L86.6 146.1L84.9 147.3Z" fill="#2f50a7"/><path d="M69.3 144.7L70.9 145.5L71.6 147L69.9 146.6Z" fill="#4268bd"/><path d="M53.9 121.6L55.5 119.1L56.4 122.3L54.8 124Z" fill="#fbbea4"/><path d="M38.6 130.7L40 115.8L40.7 114.5L39.3 129.1Z" fill="#f5b89e"/><path d="M92.7 145.5L94.3 147.5L95 147.3L93.4 145.7Z" fill="#2d4faa"/><path d="M77.7 148.2L79.5 147.8L80.1 148.7L78.5 147.2Z" fill="#2e50a8"/><path d="M62.6 137.9L64.3 138.1L65 139.1L63.3 139.3Z" fill="#8caadc"/><path d="M47.4 102L48.8 111.8L49.5 114.1L48.1 105.2Z" fill="#c23238"/><path d="M86.2 146.2L87.8 147.7L88.6 146.3L86.9 145.7Z" fill="#355ab6"/><path d="M71.2 147L72.9 145.8L73.6 145.9L71.8 146.5Z" fill="#4067be"/><path d="M56.1 122L57.7 124.3L58.3 126.3L56.7 125.2Z" fill="#f3cebc"/><path d="M40.6 114.9L42.1 104.9L42.7 99L41.3 114.5Z" fill="#b12c32"/><path d="M94.6 147.3L96.3 146.3L96.9 146L95.2 146.6Z" fill="#2c4eaa"/><path d="M79.7 148.7L81.4 148.5L82.1 147.3L80.3 148.3Z" fill="#2e50ac"/><path d="M64.7 138.9L66.2 137.8L66.9 141.6L65.4 142Z" fill="#7597cf"/><path d="M49.3 113.8L50.9 113.3L51.7 115L50.1 115.7Z" fill="#d46656"/><path d="M88.2 146.2L89.8 147.8L90.5 147.1L88.8 146.5Z" fill="#2d4ea4"/><path d="M73.2 145.9L74.9 146.2L75.5 147.7L73.9 145.3Z" fill="#3f66be"/><path d="M58.1 125.9L59.6 130.1L60.3 131.7L58.6 129.4Z" fill="#e1e0e6"/><path d="M42.6 99.1L44.1 104.1L44.9 102.4L43.3 99Z" fill="#981422"/><path d="M96.5 146.1L98.2 147.1L98.9 146.5L97.3 145.3Z" fill="#2c4ea8"/><path d="M81.7 147.4L83.3 149L84.1 148L82.4 147Z" fill="#3052af"/><path d="M66.7 141.3L68.2 143.8L68.9 143.8L67.4 141.1Z" fill="#5f87cc"/><path d="M51.4 114.7L52.9 114.8L53.6 117.9L52.1 118Z" fill="#e8826a"/><path d="M35.9 143.5L37.3 133.4L38 132.6L36.6 142.2Z" fill="#a6bcdf"/><path d="M90.1 147.1L91.8 147.1L92.5 146.5L90.7 146.7Z" fill="#3053b1"/><path d="M75.2 147.5L76.9 147.4L77.5 148.8L75.8 147.6Z" fill="#3559b5"/><path d="M60.1 131.3L61.6 132.8L62.3 135.7L60.8 135.2Z" fill="#c1d1eb"/><path d="M44.6 102.2L46.2 104.2L46.9 101.3L45.3 104Z" fill="#941321"/><path d="M83.6 148.1L85.4 147.3L86 147L84.3 147.8Z" fill="#2e4fa6"/><path d="M68.6 143.5L70.4 144.7L70.9 145.8L69.2 145Z" fill="#4e76c7"/><path d="M53.3 117.6L54.9 116.2L55.7 119.5L54.1 121.8Z" fill="#ea987c"/><path d="M37.9 133.1L39.4 119.6L40 115.8L38.6 130.7Z" fill="#fdceb5"/><path d="M92 146.5L93.6 148L94.4 147.4L92.8 145.4Z" fill="#2d4faa"/><path d="M77.1 148.7L78.8 149.1L79.5 147.8L77.8 148.1Z" fill="#2f51ab"/><path d="M62 135.3L63.6 135.6L64.3 138.5L62.8 138.2Z" fill="#a4bce5"/><path d="M46.7 101.2L48.2 115.2L48.9 111.8L47.4 102Z" fill="#bd2b34"/><path d="M85.6 147.1L87.3 147.3L87.9 147.6L86.3 146.1Z" fill="#3052a9"/><path d="M70.6 145.5L72.2 145.4L73 146L71.3 147.1Z" fill="#4268bb"/><path d="M55.4 119.2L57 121.5L57.6 124.6L56 122.3Z" fill="#ffc5a9"/><path d="M40 116.2L41.4 107.4L42.1 104.9L40.7 114.9Z" fill="#c73e3d"/><path d="M94 147.4L95.6 146.3L96.3 146.3L94.6 147.3Z" fill="#2b4ca4"/><path d="M79.1 147.9L80.7 146.9L81.5 148.5L79.8 148.8Z" fill="#3255b1"/><path d="M64 138.4L65.6 136L66.4 138.1L64.8 139.2Z" fill="#94afdc"/><path d="M48.6 111.5L50.2 110.9L51 113.6L49.4 114.1Z" fill="#d4534a"/><path d="M87.5 147.6L89.2 148.3L89.9 147.6L88.3 146.1Z" fill="#2c4ca2"/><path d="M72.5 145.9L74.2 147.4L74.9 146.2L73.2 145.8Z" fill="#4167be"/><path d="M57.4 124.2L59 127.9L59.6 130.1L58.1 125.9Z" fill="#f9e8e1"/><path d="M41.9 105.3L43.4 109.5L44.3 103.8L42.7 99Z" fill="#a71927"/><path d="M95.9 146.3L97.5 147.4L98.3 146.9L96.6 145.9Z" fill="#2c4da7"/><path d="M81 148.4L82.8 148.7L83.4 148.9L81.8 147.2Z" fill="#2f51ae"/><path d="M66.1 137.8L67.6 142.6L68.2 143.8L66.6 141.5Z" fill="#698ecb"/><path d="M50.7 113.3L52.4 114.2L53 115.2L51.4 115.1Z" fill="#e26b5a"/><path d="M35.2 144.9L36.7 137.4L37.3 133.4L35.9 143.5Z" fill="#96afda"/><path d="M89.5 147.7L91.2 146.5L91.9 147L90.1 147Z" fill="#2f51ab"/><path d="M74.6 146.1L76.2 147.6L76.9 147.7L75.2 147.7Z" fill="#3b60b9"/><path d="M59.4 129.7L61.1 131.5L61.6 133.2L60 131.6Z" fill="#dfe6f6"/><path d="M43.9 104L45.6 104.2L46.3 104.1L44.7 102.1Z" fill="#961421"/><path d="M97.8 146.9L99.5 147.3L100.1 145.8L98.5 146.4Z" fill="#2c4eac"/><path d="M83.1 149L84.7 147.1L85.4 147.3L83.6 148.1Z" fill="#2e50a8"/><path d="M67.9 143.5L69.7 143.9L70.3 144.8L68.6 143.5Z" fill="#5279c2"/><path d="M52.7 114.9L54.3 114.5L55.1 116.5L53.5 118Z" fill="#e57b65"/><path d="M37.3 133.8L38.7 120.9L39.4 119.6L38 133.1Z" fill="#e9ccbe"/><path d="M91.4 147L93.1 147.8L93.8 147.9L92.2 146.4Z" fill="#2c4ea7"/><path d="M76.5 147.5L78.2 148.1L78.9 149L77.2 148.8Z" fill="#3255ae"/><path d="M61.4 132.8L63.1 134.7L63.7 136L62.1 135.7Z" fill="#b9cae8"/><path d="M46.1 103.8L47.5 114.2L48.2 115.2L46.8 101.2Z" fill="#c23137"/><path d="M84.9 147.4L86.6 148L87.3 147.1L85.6 147Z" fill="#3153ab"/><path d="M69.9 144.6L71.5 143.8L72.3 145.7L70.7 145.8Z" fill="#4c74c4"/><path d="M54.8 116.2L56.4 119.1L56.9 121.8L55.3 119.5Z" fill="#e5967a"/><path d="M39.3 120L40.7 109.4L41.4 107.4L40 116.2Z" fill="#d9554c"/><path d="M93.4 147.9L95.1 146.8L95.7 146.3L94 147.4Z" fill="#2b4ba3"/><path d="M78.5 149.1L80.2 148.2L80.8 147L79.1 147.8Z" fill="#3254ac"/><path d="M63.3 135.7L64.9 135.1L65.7 136.2L64.1 138.5Z" fill="#a8bee2"/><path d="M48.1 115.2L49.6 113.7L50.3 110.9L48.7 111.4Z" fill="#da554c"/><path d="M86.9 147.1L88.6 148.1L89.3 148.2L87.5 147.4Z" fill="#2c4ca1"/><path d="M71.9 145.4L73.6 145.9L74.2 147.4L72.6 145.9Z" fill="#4065b4"/><path d="M56.8 121.4L58.3 126.1L58.9 127.9L57.4 124.2Z" fill="#f3cdbb"/><path d="M41.2 107.5L42.8 111.5L43.6 109.4L42 104.9Z" fill="#be2c35"/><path d="M95.3 146.4L97 147.2L97.6 147.3L96 146.2Z" fill="#2e50aa"/><path d="M80.5 147L82.1 148.9L82.8 148.6L81.1 148.5Z" fill="#3155b0"/><path d="M65.4 136L66.9 140.8L67.6 142.6L66.1 137.8Z" fill="#8cade1"/><path d="M50.1 110.9L51.7 113.6L52.3 114.5L50.7 113.7Z" fill="#dd594f"/><path d="M34.5 145.6L36 138L36.7 137.4L35.2 144.9Z" fill="#8aa8da"/><path d="M88.9 148.2L90.6 147.5L91.2 146.6L89.5 147.6Z" fill="#2d4ea5"/><path d="M73.9 147.2L75.6 147.4L76.3 147.6L74.6 146Z" fill="#3b5fb3"/><path d="M58.8 127.5L60.4 130.2L61 131.7L59.3 129.9Z" fill="#e5e4eb"/><path d="M43.4 109.5L44.8 108.7L45.5 103.9L44.1 103.7Z" fill="#af202d"/><path d="M97.2 147.2L98.9 146.7L99.6 147.2L97.8 146.8Z" fill="#2b4ba6"/><path d="M82.4 148.6L84 147.4L84.7 147.2L83.1 149Z" fill="#3052ac"/><path d="M67.3 142.3L69 142.4L69.7 144.1L68 143.8Z" fill="#5e86cb"/><path d="M52 114.3L53.6 113.1L54.4 114.8L52.7 115.3Z" fill="#e36859"/><path d="M36.6 137.8L38 124.4L38.7 120.9L37.3 133.8Z" fill="#f3e5e2"/><path d="M90.8 146.6L92.5 147.9L93.2 147.7L91.4 146.9Z" fill="#2f51ac"/><path d="M75.9 147.4L77.6 148.2L78.2 148.2L76.5 147.5Z" fill="#375cb4"/><path d="M60.7 131.3L62.3 131.8L63 134.9L61.3 133.1Z" fill="#ccd6ea"/><path d="M45.4 103.8L46.8 115.6L47.5 114.1L46.1 103.8Z" fill="#bd3236"/><path d="M99.1 147.1L100.7 148.7L101.5 148L99.9 145.7Z" fill="#2747a4"/><path d="M84.3 147.2L86 148L86.7 147.9L85 147.3Z" fill="#3356b0"/><path d="M69.3 143.9L71 143.7L71.7 144L70 144.9Z" fill="#557dc7"/><path d="M54.1 114.5L55.7 117.7L56.3 119.3L54.7 116.2Z" fill="#e68269"/><path d="M38.6 121.3L40.1 113.7L40.8 109.4L39.3 120Z" fill="#f27864"/><path d="M92.7 147.6L94.4 148L95.1 146.8L93.4 147.9Z" fill="#2b4ba3"/><path d="M77.8 148.1L79.6 148.6L80.2 148.1L78.5 149.1Z" fill="#3254ac"/><path d="M62.7 134.7L64.3 133.2L65.1 135.4L63.5 136.1Z" fill="#bdceeb"/><path d="M47.3 114L48.9 112L49.7 113.4L48.1 115.2Z" fill="#d3574d"/><path d="M86.3 147.8L87.9 149.3L88.7 147.9L87 147Z" fill="#2f50aa"/><path d="M71.3 143.9L73 144.6L73.6 146.1L72 145.7Z" fill="#517bcf"/><path d="M56.2 118.9L57.6 124.6L58.3 126.1L56.8 121.4Z" fill="#fbc0a6"/><path d="M40.5 109.5L42.1 113L42.9 111.4L41.4 107.4Z" fill="#cb393c"/><path d="M94.7 146.9L96.3 147.8L97 147.1L95.4 146.3Z" fill="#2f51ac"/><path d="M79.8 148.1L81.4 149.3L82.2 148.9L80.6 146.9Z" fill="#3255ae"/><path d="M64.8 135.1L66.3 140.4L66.9 140.8L65.5 136Z" fill="#9db8e4"/><path d="M49.3 113.6L51 113.8L51.7 113.5L50.1 110.9Z" fill="#d7524a"/><path d="M33.9 145.9L35.3 138.3L36 138L34.6 145.6Z" fill="#86a5d6"/><path d="M88.2 148L89.9 147.3L90.6 147.5L88.9 148.2Z" fill="#2f51ab"/><path d="M73.3 145.9L74.9 145.9L75.6 147.4L74 147.4Z" fill="#436ac1"/><path d="M58.1 125.7L59.7 127.1L60.3 130.2L58.7 127.6Z" fill="#f4e4df"/><path d="M42.6 111.4L44.3 110.2L44.9 108.3L43.3 109.1Z" fill="#c7353a"/><path d="M96.6 147L98.2 148.3L98.9 146.7L97.2 147.1Z" fill="#28479c"/><path d="M81.8 148.9L83.4 147.7L84.1 147.4L82.4 148.7Z" fill="#3357b3"/><path d="M66.7 140.5L68.3 140.3L69 142.8L67.4 142.6Z" fill="#78a1e1"/><path d="M51.3 113.4L53 113L53.8 113.3L52.1 114.5Z" fill="#e45e53"/><path d="M35.9 138.5L37.4 128.4L38 124.4L36.6 137.8Z" fill="#e1e3ec"/><path d="M90.2 147.5L91.8 148.7L92.5 147.7L90.9 146.5Z" fill="#2e4fa6"/><path d="M75.2 147.2L76.9 148.5L77.6 148.2L75.9 147.4Z" fill="#3a5fb6"/><path d="M60.1 129.9L61.7 129.8L62.4 132.2L60.8 131.7Z" fill="#dadde7"/><path d="M44.7 108.3L46.2 118.8L46.9 115.6L45.4 103.8Z" fill="#d54442"/><path d="M98.6 146.7L100.2 148.2L100.8 148.6L99.2 146.9Z" fill="#27469f"/><path d="M83.7 147.5L85.3 149.1L86.1 147.8L84.4 147.1Z" fill="#3458b3"/><path d="M68.7 142.5L70.3 142.2L71 144L69.4 144.1Z" fill="#648dd5"/><path d="M53.5 113.1L55 117.3L55.7 117.7L54.1 114.5Z" fill="#d56b59"/><path d="M38 124.8L39.5 120.7L40.1 113.7L38.6 121.3Z" fill="#f1987a"/><path d="M92.1 147.7L93.8 147L94.5 147.9L92.7 147.6Z" fill="#2d4ea5"/><path d="M77.2 148.1L78.8 147.3L79.6 148.7L77.8 148.2Z" fill="#3457ab"/><path d="M62 131.9L63.6 130.1L64.4 133.5L62.8 134.9Z" fill="#ced8ea"/><path d="M46.7 115.6L48.4 113.5L49 112L47.3 114Z" fill="#d9584e"/><path d="M100.5 148.6L102.1 147.2L102.8 146.8L101.1 148Z" fill="#2747a5"/><path d="M85.7 147.7L87.4 148.8L88 149.2L86.4 147.6Z" fill="#2c4ca2"/><path d="M70.6 143.7L72.3 144.8L73 144.9L71.3 143.9Z" fill="#5881ce"/><path d="M55.5 117.3L57 122.5L57.6 124.6L56.2 118.9Z" fill="#ffb193"/><path d="M39.9 114L41.5 115.6L42.3 112.7L40.7 109.4Z" fill="#da4c47"/><path d="M94 147.9L95.7 148.5L96.4 147.5L94.8 146.7Z" fill="#2d4eaa"/><path d="M79.1 148.5L80.8 149.5L81.5 149.1L79.9 148Z" fill="#3153ac"/><path d="M64.2 133.2L65.7 137.4L66.3 140.4L64.8 135.1Z" fill="#a7bbdc"/><path d="M48.7 112.1L50.4 112.5L51.1 113.7L49.4 113.7Z" fill="#db524a"/><path d="M33.2 147.9L34.7 139.9L35.3 138.3L33.9 145.9Z" fill="#81a3d9"/><path d="M87.7 149.2L89.4 148.3L89.9 147.3L88.3 147.8Z" fill="#2f52ad"/><path d="M72.6 144.7L74.3 145.1L75 146.2L73.3 146.2Z" fill="#507bd2"/><path d="M57.4 124.2L59 123.5L59.7 127.5L58.1 126.1Z" fill="#fad3bf"/><path d="M42 112.9L43.6 111.9L44.3 109.9L42.6 111.1Z" fill="#d0403f"/><path d="M96 147.6L97.7 147.2L98.3 148.3L96.7 146.9Z" fill="#2e50ae"/><path d="M81.1 149.2L82.8 148.1L83.5 147.7L81.8 148.9Z" fill="#3051a7"/><path d="M66 140.2L67.7 139.6L68.4 140.5L66.7 140.8Z" fill="#7e9dd0"/><path d="M50.7 113.7L52.3 112.2L53.1 113.1L51.4 113.5Z" fill="#d65249"/><path d="M35.2 138.7L36.7 130.1L37.4 128.4L35.9 138.5Z" fill="#d4dbe9"/><path d="M89.6 147.3L91.2 149.2L91.9 148.5L90.3 147.3Z" fill="#2f51ad"/><path d="M74.7 145.9L76.2 148.3L76.9 148.4L75.2 147.2Z" fill="#3d62b7"/><path d="M59.5 127.1L61.2 129L61.7 130.2L60.1 130.2Z" fill="#fdf7f7"/><path d="M44.1 109.9L45.5 118.4L46.2 118.8L44.8 108.3Z" fill="#e35a50"/><path d="M97.9 148.2L99.5 149.1L100.3 148L98.7 146.6Z" fill="#2849a6"/><path d="M83.1 147.8L84.8 148.5L85.4 149L83.8 147.4Z" fill="#3355ad"/><path d="M68.1 140.3L69.7 140.9L70.4 142.5L68.8 142.8Z" fill="#749ad7"/><path d="M52.8 113L54.5 114.6L55 117.3L53.5 113.1Z" fill="#e36557"/><path d="M37.3 128.8L38.8 120.4L39.5 120.3L37.9 124.8Z" fill="#ebae94"/><path d="M91.5 148.6L93.1 146.7L93.9 147.1L92.1 147.8Z" fill="#3153ae"/><path d="M76.6 148.4L78.3 147.6L78.9 147.4L77.2 148.2Z" fill="#3b61b9"/><path d="M61.4 129.9L63.1 130L63.8 130.2L62.2 132.2Z" fill="#e6e7f0"/><path d="M46.1 118.8L47.7 115.1L48.3 113.4L46.7 115.2Z" fill="#eb705e"/><path d="M99.8 148L101.6 147.6L102.2 147.2L100.6 148.7Z" fill="#2849a7"/><path d="M85 148.9L86.7 149.2L87.4 148.7L85.8 147.6Z" fill="#2e4fa6"/><path d="M70 142.2L71.6 141.7L72.3 144.8L70.7 144Z" fill="#628ace"/><path d="M54.8 116.9L56.4 120.2L57 122.4L55.5 117.3Z" fill="#e99275"/><path d="M39.3 120.7L40.8 121.3L41.5 115.2L40 113.7Z" fill="#ea7e67"/><path d="M93.5 147L95.1 148.8L95.8 148.4L94.1 147.8Z" fill="#2b4ba3"/><path d="M78.6 147.3L80.3 148.3L80.9 149.4L79.2 148.6Z" fill="#375cb7"/><path d="M63.5 130.1L65.1 134.3L65.6 137.4L64.1 133.2Z" fill="#cddaf1"/><path d="M48 113.7L49.6 115.1L50.4 112.6L48.8 112Z" fill="#de544c"/><path d="M101.8 147.2L103.3 149.3L104.1 148.4L102.5 146.7Z" fill="#25449f"/><path d="M32.5 149.1L34 142.7L34.7 139.9L33.2 147.9Z" fill="#698ec9"/><path d="M87 148.7L88.7 148.1L89.4 148.2L87.7 149.2Z" fill="#3154b2"/><path d="M72 144.6L73.7 145L74.4 145.3L72.6 144.7Z" fill="#527ac6"/><path d="M56.8 122.1L58.4 124.7L59.2 123.7L57.5 124.6Z" fill="#ffc7ad"/><path d="M41.3 115.5L42.8 116.7L43.6 111.5L42 112.5Z" fill="#dc564d"/><path d="M95.4 148.5L97.1 147.7L97.7 147.3L96 147.5Z" fill="#2e4fab"/><path d="M80.5 149.4L82.1 147.6L82.9 148.1L81.2 149.2Z" fill="#365bb9"/><path d="M65.5 137L67 137.4L67.7 139.9L66.2 140.4Z" fill="#9ab4e0"/><path d="M50 112.6L51.6 115.6L52.4 112.2L50.7 113.6Z" fill="#e2574e"/><path d="M34.6 140.3L36 132.9L36.7 130.1L35.3 138.7Z" fill="#c5d0e3"/><path d="M88.9 148.3L90.6 148.7L91.3 149.1L89.7 147.2Z" fill="#3053ae"/><path d="M74 145L75.6 147.9L76.3 148.3L74.7 145.9Z" fill="#436abd"/><path d="M58.9 123.5L60.4 125.5L61 129.3L59.5 127.5Z" fill="#f3d4c5"/><path d="M43.4 111.5L44.9 122.3L45.6 118.4L44.1 109.8Z" fill="#df6556"/><path d="M97.4 147.2L98.9 149.5L99.6 148.9L98 148Z" fill="#2747a3"/><path d="M82.4 148.2L84.1 149.2L84.8 148.4L83.2 147.6Z" fill="#375cb9"/><path d="M67.4 139.7L69 139.1L69.7 141.2L68 140.6Z" fill="#7f9ccd"/><path d="M52.1 112.2L53.6 118.3L54.5 114.6L52.8 112.9Z" fill="#dd6053"/><path d="M36.6 130.5L38.2 126L38.8 120.4L37.3 128.8Z" fill="#f0c5af"/><path d="M90.9 149.2L92.6 148.1L93.2 146.7L91.5 148.6Z" fill="#3154b0"/><path d="M75.9 148.2L77.6 147.2L78.3 147.7L76.6 148.4Z" fill="#3b60b5"/><path d="M60.7 129L62.3 127.1L63.1 130.3L61.5 130.2Z" fill="#f4ecec"/><path d="M45.3 118.3L47 118.7L47.6 115.1L46.1 118.8Z" fill="#e47b65"/><path d="M99.3 149L101 148L101.6 147.6L99.9 147.9Z" fill="#2848a5"/><path d="M84.4 148.3L86.1 149.7L86.8 149L85 148.8Z" fill="#3053b0"/><path d="M69.4 141L71.1 141.7L71.8 141.9L70.1 142.5Z" fill="#7196d0"/><path d="M54.2 114.4L55.7 119.4L56.4 120.2L54.8 116.9Z" fill="#e9836a"/><path d="M38.5 120.5L40.2 122.7L41 121.1L39.3 120.3Z" fill="#e5957a"/><path d="M92.9 146.7L94.4 149L95.1 148.8L93.5 147Z" fill="#3052ac"/><path d="M77.9 147.6L79.6 148.8L80.3 148.4L78.6 147.3Z" fill="#3c62ba"/><path d="M62.8 130L64.3 133.7L65 134.3L63.5 130.1Z" fill="#d8ddea"/><path d="M47.3 115.3L48.9 117.4L49.8 114.8L48.1 113.4Z" fill="#e56658"/><path d="M101.2 147.6L102.8 149L103.5 149.2L101.9 147.1Z" fill="#234096"/><path d="M31.8 149.9L33.3 144.3L34 142.7L32.5 149.1Z" fill="#5d82c2"/><path d="M86.4 149.1L88.1 148.5L88.7 148.2L87 148.7Z" fill="#2e4fa4"/><path d="M71.4 141.7L73.1 144.3L73.7 145.1L72.1 144.8Z" fill="#5c83c8"/><path d="M56.2 119.8L57.7 123.7L58.4 124.7L56.8 122.1Z" fill="#f3b297"/><path d="M40.7 121.3L42.2 120.6L42.9 116.3L41.4 115.1Z" fill="#e78068"/><path d="M94.8 148.7L96.5 148.1L97.1 147.6L95.4 148.4Z" fill="#2c4da6"/><path d="M79.9 148.4L81.5 146.9L82.2 147.8L80.6 149.5Z" fill="#3a5fb8"/><path d="M64.8 133.9L66.4 134.7L67 137.8L65.5 137.4Z" fill="#b5c7e5"/><path d="M49.4 115L51.1 114.1L51.7 115.5L50.2 112.5Z" fill="#d2554b"/><path d="M103.1 149.1L104.7 149.6L105.4 149.2L103.8 148.1Z" fill="#213e96"/><path d="M33.9 143.1L35.4 136.9L36.1 132.9L34.6 140.3Z" fill="#c3d6f7"/><path d="M88.3 148.1L89.9 150L90.7 148.5L89 148.1Z" fill="#2b4a9e"/><path d="M73.4 144.8L75 147.1L75.6 147.9L74.1 145Z" fill="#4971c2"/><path d="M58.1 124.5L59.8 125.6L60.5 125.8L58.9 123.5Z" fill="#ffcfb6"/><path d="M42.7 116.3L44.2 123.8L44.9 122.2L43.5 111.5Z" fill="#ec836b"/><path d="M96.7 147.6L98.3 149.8L99 149.5L97.4 147.1Z" fill="#28479f"/><path d="M81.8 147.7L83.6 148.1L84.2 149.1L82.4 148.2Z" fill="#375bb3"/><path d="M66.8 137.4L68.4 137.8L69.1 139.4L67.5 140Z" fill="#9fb9e4"/><path d="M51.4 115.3L53 117.7L53.7 118.3L52.2 112.2Z" fill="#e86e5d"/><path d="M35.9 133.3L37.6 129.6L38.1 125.9L36.5 130.5Z" fill="#ebdad3"/><path d="M90.2 148.6L92 148.1L92.6 148L91 149.2Z" fill="#3052ae"/><path d="M75.3 147.7L76.9 146.5L77.7 147.3L76 148.3Z" fill="#4168bd"/><path d="M60.1 125.5L61.7 125.3L62.5 127.4L60.9 129.3Z" fill="#fcded0"/><path d="M44.8 122.2L46.3 120.5L47 118.3L45.5 118Z" fill="#f79677"/><path d="M98.7 149.5L100.2 147.7L101 148L99.3 149Z" fill="#2746a0"/><path d="M83.8 148.9L85.4 150.2L86.2 149.6L84.5 148.2Z" fill="#2d4ea3"/><path d="M68.8 139.1L70.3 142L71.1 141.8L69.3 141.2Z" fill="#81a2d9"/><path d="M53.4 118.1L55 120.8L55.8 119.4L54.2 114.4Z" fill="#f58b70"/><path d="M38 126.3L39.5 126.1L40.2 122.3L38.7 120.4Z" fill="#f8b499"/><path d="M92.2 148.1L93.8 149.7L94.5 148.9L93 146.7Z" fill="#2f51ab"/><path d="M77.3 147.2L79 148.6L79.6 148.7L77.9 147.6Z" fill="#4169c5"/><path d="M62.2 127.1L63.7 131.6L64.4 133.7L62.8 130Z" fill="#e2e1e7"/><path d="M46.8 118.7L48.4 116.2L49.1 117.3L47.5 115.1Z" fill="#e97461"/><path d="M100.6 148L102.1 150.1L102.9 148.9L101.3 147.5Z" fill="#24439d"/><path d="M31.2 151.2L32.7 146.2L33.4 144.3L31.9 149.9Z" fill="#5981ca"/><path d="M85.8 149.6L87.5 148.8L88.1 148.5L86.3 149Z" fill="#3052ac"/><path d="M70.7 141.6L72.4 141.9L73 144.3L71.4 141.7Z" fill="#729adb"/><path d="M55.5 119L57.1 120.3L57.7 123.7L56.2 119.8Z" fill="#e99a7e"/><path d="M39.9 122.6L41.6 123L42.3 120.2L40.7 120.9Z" fill="#ec9c7f"/><path d="M94.1 148.8L95.9 148.5L96.5 148.1L94.8 148.7Z" fill="#2a4a9f"/><path d="M79.2 148.7L80.9 148.5L81.6 146.9L79.9 148.5Z" fill="#3c62b9"/><path d="M64.1 133.4L65.7 133.1L66.4 135L64.7 134.2Z" fill="#cbd6eb"/><path d="M48.8 117.4L50.3 117.1L51 114L49.5 114.7Z" fill="#e26758"/><path d="M102.5 148.7L104.1 149.9L104.8 149.5L103.1 148.9Z" fill="#213e97"/><path d="M33.2 144.7L34.7 137.7L35.4 136.9L33.9 143.1Z" fill="#a2b8df"/><path d="M87.7 148.5L89.4 149.6L90 150L88.4 148Z" fill="#3053af"/><path d="M72.7 144L74.4 145.4L75 147.1L73.4 144.8Z" fill="#537bc6"/><path d="M57.5 123.4L59.1 123.4L59.8 125.5L58.1 124.7Z" fill="#f9c2a9"/><path d="M42 120.2L43.5 127.3L44.3 123.8L42.8 116.3Z" fill="#f4a386"/><path d="M96.1 148L97.7 150.1L98.4 149.8L96.8 147.5Z" fill="#2848a2"/><path d="M81.2 146.9L82.9 148.3L83.6 148.3L81.8 147.9Z" fill="#395daf"/><path d="M66.2 134.7L67.7 135.4L68.4 138.1L66.9 137.8Z" fill="#bacdee"/><path d="M50.8 114L52.4 117.5L53.1 117.7L51.5 115.2Z" fill="#e16a5a"/><path d="M104.4 149.6L106 148.1L106.7 147.9L105.1 149.4Z" fill="#2342a1"/><path d="M35.3 137.3L36.9 132.4L37.5 129.5L35.8 133.1Z" fill="#d8d8e0"/><path d="M89.7 150L91.4 149.3L92 148.1L90.3 148.4Z" fill="#2c4ca1"/><path d="M74.6 146.9L76.3 145.9L77.1 146.7L75.4 147.9Z" fill="#4267b4"/><path d="M59.4 125.4L61.1 124L61.9 125.6L60.2 125.9Z" fill="#f0c3ab"/><path d="M44.1 123.8L45.8 121.8L46.3 120.1L44.6 122.1Z" fill="#f8a689"/><path d="M98 149.8L99.7 149.1L100.3 147.7L98.7 149.5Z" fill="#2747a4"/><path d="M83.2 148L84.8 149.8L85.5 150.1L83.8 148.9Z" fill="#3255ad"/><path d="M68.2 137.8L69.8 139L70.4 142L68.7 139.1Z" fill="#93afdd"/><path d="M52.9 117.3L54.4 121.8L55.1 120.8L53.5 117.9Z" fill="#f29274"/><path d="M37.3 129.9L38.8 130.3L39.5 125.7L38 125.9Z" fill="#f2cfbd"/><path d="M91.6 148.2L93.3 148.9L93.9 149.6L92.3 147.9Z" fill="#2f52ac"/><path d="M76.7 146.6L78.4 147.1L79 148.5L77.3 147.3Z" fill="#4269be"/><path d="M61.6 125.3L63.1 130L63.7 131.6L62.2 127.1Z" fill="#e2d2cc"/><path d="M46.1 120.5L47.8 118.6L48.3 116.2L46.7 118.6Z" fill="#e57d66"/><path d="M100 147.7L101.5 150.3L102.2 150.1L100.7 147.9Z" fill="#2747a6"/><path d="M30.5 151.5L32.1 148.5L32.7 146.2L31.2 151.2Z" fill="#4f77c3"/><path d="M85.1 150.1L86.8 149.1L87.5 148.8L85.7 149.6Z" fill="#2f51aa"/><path d="M70 141.9L71.8 141.4L72.5 142.1L70.7 141.6Z" fill="#7699d1"/><path d="M54.8 120.5L56.4 123.9L57.2 120.3L55.6 119Z" fill="#ec9b7f"/><path d="M39.3 126.1L40.9 126.5L41.6 122.6L40.1 122.3Z" fill="#fbb99e"/><path d="M93.5 149.6L95.3 148.7L95.9 148.4L94.1 148.7Z" fill="#2c4da6"/><path d="M78.6 148.4L80.2 147L81 148.4L79.3 148.7Z" fill="#3b5fb2"/><path d="M63.5 131.2L65.1 131.5L65.8 133.4L64.2 133.7Z" fill="#c8ccd8"/><path d="M48.1 116.3L49.7 118.7L50.5 116.8L48.7 117.2Z" fill="#df705d"/><path d="M101.9 150L103.5 150.1L104.2 149.8L102.6 148.6Z" fill="#203c93"/><path d="M32.6 146.6L34.1 141.7L34.7 137.7L33.2 144.7Z" fill="#88a3cf"/><path d="M87.1 148.8L88.7 150.4L89.4 149.5L87.8 148.4Z" fill="#3053af"/><path d="M72.1 141.8L73.7 144.6L74.4 145.6L72.7 144.2Z" fill="#638cd1"/><path d="M56.9 120.2L58.4 124L59.2 123.7L57.5 123.7Z" fill="#e4a58c"/><path d="M41.4 122.6L42.9 129.6L43.6 127.3L42.1 120.2Z" fill="#fabea3"/><path d="M95.5 148.4L97.1 150.1L97.8 150L96.2 148Z" fill="#2a4ba6"/><path d="M80.6 148.4L82.2 149.4L83 148.1L81.3 146.9Z" fill="#3a5fb3"/><path d="M65.5 133.1L67.1 133.8L67.8 135.7L66.1 135Z" fill="#d0ddf3"/><path d="M50.1 116.8L51.7 121L52.5 117.3L50.9 114Z" fill="#d86d5b"/><path d="M103.8 149.9L105.4 148.3L106.1 148.2L104.5 149.6Z" fill="#213e97"/><path d="M34.6 138.1L36.2 136.6L36.8 132.4L35.3 137.3Z" fill="#c8d1e4"/><path d="M89 149.5L90.7 148.7L91.4 149.1L89.7 150Z" fill="#2c4da3"/><path d="M74 145.3L75.6 144L76.4 146.2L74.8 147.1Z" fill="#557ecc"/><path d="M58.8 123.5L60.4 122.8L61.2 124.2L59.6 125.6Z" fill="#eab39b"/><path d="M43.4 127.3L45 126.4L45.6 121.6L44.1 123.4Z" fill="#ebb198"/><path d="M97.4 150L99 148L99.7 149L98.1 149.8Z" fill="#26459d"/><path d="M82.6 148L84.2 149.2L84.9 149.8L83.2 148Z" fill="#385cb4"/><path d="M67.5 135.4L69.2 137.4L69.7 139.4L68.1 138.1Z" fill="#aabfe2"/><path d="M52.2 117.1L53.7 121.4L54.4 121.8L52.9 117.3Z" fill="#f28e72"/><path d="M105.7 148.3L107.4 148.6L108 148.7L106.3 147.9Z" fill="#24439c"/><path d="M36.6 132.7L38.1 134.9L38.9 129.9L37.4 129.5Z" fill="#e7e1e1"/><path d="M91 149.2L92.6 150L93.3 148.7L91.7 148.1Z" fill="#2e50a8"/><path d="M76 146L77.7 147.1L78.4 147.3L76.6 146.7Z" fill="#4870c2"/><path d="M60.9 124L62.4 129L63.1 130L61.6 125.3Z" fill="#edcebf"/><path d="M45.4 122L47 122.5L47.7 118.4L46.1 120.1Z" fill="#f09577"/><path d="M99.3 149L100.9 150.8L101.6 150.2L100.1 147.7Z" fill="#2747a8"/><path d="M29.8 152.6L31.3 148.8L32.1 148.5L30.5 151.5Z" fill="#4970c0"/><path d="M84.5 149.7L86.1 148.6L86.9 149.1L85.2 150.1Z" fill="#3255ae"/><path d="M69.5 139L71 138.4L71.7 141.7L70.2 142.1Z" fill="#93b1e3"/><path d="M54.1 121.5L55.9 122.1L56.4 123.9L54.9 120.4Z" fill="#eca185"/><path d="M38.7 130.2L40.4 127.7L41 126.1L39.4 125.7Z" fill="#efc6b1"/><path d="M92.9 148.7L94.6 149.8L95.3 148.7L93.6 149.6Z" fill="#2b4ba2"/><path d="M78 147.2L79.6 146.2L80.4 147.2L78.7 148.6Z" fill="#456cc1"/><path d="M62.8 129.6L64.4 129.6L65.2 131.9L63.5 131.5Z" fill="#f1eef2"/><path d="M47.4 118.6L49 120.6L49.8 118.4L48.2 116.2Z" fill="#e57c65"/><path d="M101.2 150.1L102.9 150.7L103.6 149.9L101.9 149.8Z" fill="#22409c"/><path d="M31.9 148.9L33.4 143.1L34.1 141.7L32.6 146.6Z" fill="#7da2dd"/><path d="M86.4 149.1L88.2 149.8L88.8 150.3L87.2 148.7Z" fill="#3155b0"/><path d="M71.5 141.4L73 144.4L73.7 144.6L72.2 141.8Z" fill="#688dc8"/><path d="M56.2 123.8L57.8 124.2L58.5 123.9L57 120.2Z" fill="#f2ad92"/><path d="M40.7 126.1L42.2 132.1L43 129.6L41.5 122.5Z" fill="#f6cdb9"/><path d="M94.9 148.6L96.4 151.3L97.2 150L95.6 148.3Z" fill="#2a4aa7"/><path d="M80 147L81.6 147.7L82.3 149.3L80.6 148.5Z" fill="#3e63b8"/><path d="M64.9 131.6L66.5 133.7L67.2 134.2L65.4 133.4Z" fill="#d4dbe9"/><path d="M49.5 118.3L51 121.6L51.8 120.9L50.2 116.6Z" fill="#e7846b"/><path d="M103.2 150L104.9 149.8L105.5 148.3L103.8 149.9Z" fill="#203d94"/><path d="M33.9 142.1L35.5 139.8L36.1 136.2L34.6 137.7Z" fill="#b9cae8"/><path d="M88.4 150.3L90.1 149.3L90.7 148.8L89 149.4Z" fill="#2e50a7"/><path d="M73.4 144.5L75 142.9L75.8 144.2L74.2 145.6Z" fill="#618acf"/><path d="M58.2 123.9L59.7 120.4L60.6 123L58.9 123.8Z" fill="#eaa68c"/><path d="M42.8 129.6L44.4 127.2L45 126L43.4 127Z" fill="#f2cab5"/><path d="M96.8 150L98.5 148.8L99.1 148.1L97.5 150Z" fill="#28489f"/><path d="M81.9 149.2L83.6 149.7L84.3 149L82.7 147.9Z" fill="#3659ae"/><path d="M66.9 133.8L68.5 134.7L69.1 137.6L67.4 135.6Z" fill="#c8d7f1"/><path d="M51.5 120.9L53.1 121.8L53.8 121.3L52.3 117.1Z" fill="#ea8e71"/><path d="M105.1 148.5L106.7 149.7L107.4 148.5L105.8 148.2Z" fill="#2645a2"/><path d="M35.9 136.6L37.5 135.7L38.3 134.7L36.7 132.4Z" fill="#d5d9e6"/><path d="M90.3 148.8L92.1 149.6L92.7 149.9L91 149.1Z" fill="#2f51ab"/><path d="M75.5 144.1L77.1 145.9L77.7 147.1L76 146.2Z" fill="#4f74bc"/><path d="M60.3 122.8L61.7 128.8L62.4 129L61 124Z" fill="#f2c8b2"/><path d="M44.8 126.4L46.3 127.5L47 122L45.5 121.6Z" fill="#efaf95"/><path d="M98.8 148.1L100.3 150.6L101 150.7L99.4 148.9Z" fill="#2746a3"/><path d="M29.1 154.2L30.7 150.6L31.4 148.8L29.8 152.6Z" fill="#456cc0"/><path d="M83.9 149L85.5 148.3L86.2 148.8L84.6 149.9Z" fill="#375bb2"/><path d="M68.9 137.3L70.4 140.1L71.2 138.5L69.5 139.4Z" fill="#a6bee6"/><path d="M53.5 121L55.1 124.1L55.9 122.1L54.2 121.4Z" fill="#f2a487"/><path d="M107 148.6L108.7 148.4L109.3 148.5L107.6 148.7Z" fill="#2645a2"/><path d="M38.1 134.9L39.6 132.7L40.2 127.4L38.7 129.8Z" fill="#f7e9e5"/><path d="M92.3 149.9L94 149.6L94.7 149.7L93 148.6Z" fill="#2d4ea8"/><path d="M77.3 147L79 146.1L79.7 146.4L78 147.4Z" fill="#4971c1"/><path d="M62.2 128.7L63.9 130.2L64.6 129.9L62.8 129.9Z" fill="#f3e6e3"/><path d="M46.8 122.4L48.3 124.1L49.1 120.3L47.6 118.3Z" fill="#eb9477"/><path d="M100.6 150.6L102.3 151.1L103 150.5L101.3 149.9Z" fill="#22419e"/><path d="M31.2 149.2L32.8 146.2L33.4 143.2L31.9 148.9Z" fill="#6b95d7"/><path d="M85.8 148.7L87.5 150.2L88.2 149.7L86.5 149.1Z" fill="#3458b3"/><path d="M70.9 138.4L72.5 141.1L73 144.4L71.4 141.6Z" fill="#82a1d5"/><path d="M55.6 121.9L57.1 125L57.9 124L56.1 123.7Z" fill="#e9a990"/><path d="M40.1 127.4L41.6 135.6L42.3 132.1L40.8 126.1Z" fill="#f2ddd5"/><path d="M94.2 149.5L95.8 151.4L96.5 151.2L95 148.6Z" fill="#2746a1"/><path d="M79.3 146.3L81.1 147.2L81.7 148L79.9 147.2Z" fill="#4871c6"/><path d="M64.2 129.6L65.8 130.8L66.5 133.7L64.8 131.9Z" fill="#e5e5eb"/><path d="M48.8 120.3L50.4 123.6L51.2 121.4L49.6 118.2Z" fill="#ec9275"/><path d="M102.6 150.6L104.2 149.2L104.9 149.6L103.2 149.9Z" fill="#23419f"/><path d="M33.2 143.5L34.9 142.5L35.5 139.4L33.8 141.9Z" fill="#9db5dc"/><path d="M87.8 149.7L89.5 149L90.1 149.3L88.5 150.4Z" fill="#3053ab"/><path d="M72.7 144.2L74.5 143.8L75.1 142.9L73.5 144.6Z" fill="#6b95da"/><path d="M57.6 124.1L59.1 121.3L59.8 120.4L58.3 124Z" fill="#fbae91"/><path d="M42.1 132.1L43.8 129.7L44.3 127.1L42.7 129.3Z" fill="#f7ddd1"/><path d="M96.2 151.3L97.8 149.3L98.5 148.8L96.8 149.9Z" fill="#2848a4"/><path d="M81.3 147.7L83 148.4L83.6 149.7L82 149.3Z" fill="#3a5eb1"/><path d="M66.2 133.4L67.9 133.6L68.5 135L66.8 134Z" fill="#d7e0f2"/><path d="M50.8 121.2L52.4 124.8L53.2 121.4L51.6 120.5Z" fill="#f09f82"/><path d="M104.5 149.7L106.2 149.6L106.8 149.6L105.2 148.3Z" fill="#24439f"/><path d="M35.3 139.8L36.8 139.9L37.5 135.3L36 136.2Z" fill="#c3d1ea"/><path d="M89.7 149.3L91.4 150.3L92.1 149.5L90.4 148.7Z" fill="#3153ac"/><path d="M74.8 142.9L76.5 144.9L77 146.1L75.4 144.1Z" fill="#6087cb"/><path d="M59.7 120.4L61.1 126.9L61.8 128.8L60.3 122.8Z" fill="#f6bda3"/><path d="M44 127.3L45.7 129.3L46.5 127.2L44.8 126Z" fill="#ffd3bb"/><path d="M98.1 148.8L99.7 151.1L100.4 150.6L98.9 148Z" fill="#2849a4"/><path d="M28.4 154.5L30 151.4L30.7 150.6L29.2 154.2Z" fill="#3c61b1"/><path d="M83.3 149.7L85 148.7L85.6 148.4L83.9 149.1Z" fill="#385baf"/><path d="M68.3 134.7L69.9 137.6L70.4 140.1L68.8 137.4Z" fill="#aabcdb"/><path d="M52.9 121.4L54.4 126.3L55.2 124L53.6 121Z" fill="#eba58a"/><path d="M106.4 149.7L108.1 148.9L108.7 148.4L107 148.4Z" fill="#2646a2"/><path d="M37.3 135.7L38.9 136.6L39.6 132.3L37.9 134.7Z" fill="#e1e5f1"/><path d="M91.7 149.4L93.4 150L94 149.5L92.3 149.9Z" fill="#2d4ea6"/><path d="M76.7 145.8L78.3 145.1L79.1 146.3L77.5 147.2Z" fill="#527bc8"/><path d="M61.5 128.5L63.2 128.4L63.9 130.2L62.2 128.7Z" fill="#edd8d0"/><path d="M46.2 127.5L47.7 126.2L48.5 123.7L46.9 122Z" fill="#e8ac93"/><path d="M100 150.4L101.7 151.1L102.4 151L100.6 150.5Z" fill="#213d95"/><path d="M30.5 151L32.1 147.1L32.8 146.2L31.2 149.2Z" fill="#5c83c6"/><path d="M85.2 148.3L86.9 149.4L87.5 150.2L85.9 148.7Z" fill="#395fba"/><path d="M70.1 139.9L71.8 139L72.4 141.4L70.9 138.4Z" fill="#93acd5"/><path d="M54.8 123.9L56.5 125.7L57.2 124.9L55.6 121.9Z" fill="#fbb89c"/><path d="M108.3 148.6L110 147.2L110.6 146.9L109 148.7Z" fill="#2d4fad"/><path d="M39.3 132.3L40.9 138.9L41.7 135.5L40.1 127.4Z" fill="#e7e6ec"/><path d="M93.7 149.4L95.2 151.9L95.9 151.3L94.4 149.4Z" fill="#2746a1"/><path d="M78.7 146.2L80.4 147.1L81.1 147.3L79.3 146.3Z" fill="#4a72c0"/><path d="M63.5 130.1L65.1 128.3L65.9 131.2L64.1 129.8Z" fill="#f1e4e0"/><path d="M48.1 123.9L49.7 126.7L50.6 123.3L48.9 120.2Z" fill="#f6ac90"/><path d="M102 151.1L103.6 149.8L104.3 149.3L102.6 150.7Z" fill="#22409c"/><path d="M32.6 146.6L34.3 143.8L34.8 142.1L33.2 143.2Z" fill="#8faee0"/><path d="M87.2 150.2L88.8 148.5L89.5 149.1L87.8 149.8Z" fill="#365bb6"/><path d="M72.2 141L73.7 141L74.4 144L72.9 144.4Z" fill="#799dd6"/><path d="M56.9 124.9L58.6 123.4L59.2 121.3L57.6 124.1Z" fill="#f4ae92"/><path d="M41.5 135.5L43.1 133.2L43.7 129.4L42.1 131.7Z" fill="#efebed"/><path d="M95.6 151.3L97.2 149.6L97.9 149.3L96.3 151.3Z" fill="#2747a3"/><path d="M80.7 147L82.3 149.3L83 148.6L81.3 147.7Z" fill="#3f64b5"/><path d="M65.6 130.8L67.2 133.9L67.9 133.9L66.2 133.7Z" fill="#e1e5f1"/><path d="M50.2 123.2L51.7 127.2L52.6 124.7L51 121.1Z" fill="#f3ae93"/><path d="M103.9 149.3L105.5 150.8L106.2 149.4L104.5 149.6Z" fill="#224099"/><path d="M34.6 142.4L36.2 142.8L36.9 139.6L35.3 139.4Z" fill="#b4cbf2"/><path d="M89.1 149L90.7 150.7L91.5 150.1L89.8 149.2Z" fill="#2f51a7"/><path d="M74.1 143.8L75.8 143.1L76.4 144.9L74.8 142.9Z" fill="#678dcb"/><path d="M59 121.3L60.5 126.8L61.1 126.9L59.7 120.4Z" fill="#f4b297"/><path d="M43.4 129.7L45 130.8L45.8 129L44.2 127.1Z" fill="#e5c8b9"/><path d="M97.5 149.3L99.1 151.7L99.8 151.1L98.2 148.8Z" fill="#26449d"/><path d="M27.7 154.6L29.4 152.1L30.1 151.4L28.5 154.6Z" fill="#3c60b1"/><path d="M82.6 148.5L84.3 148.1L85 148.8L83.4 149.7Z" fill="#3b5fb2"/><path d="M67.6 133.5L69.3 135.5L69.8 137.7L68.2 134.7Z" fill="#c9d6ed"/><path d="M52.1 124.6L53.8 126.8L54.5 126.3L53 121.3Z" fill="#f5b69b"/><path d="M105.8 149.6L107.5 148.7L108.1 148.8L106.4 149.7Z" fill="#2747a5"/><path d="M36.7 139.9L38.2 139.8L39 136.3L37.4 135.3Z" fill="#cedbf3"/><path d="M91.1 150.1L92.8 149.7L93.4 149.9L91.7 149.3Z" fill="#3154b1"/><path d="M76.1 144.7L77.7 143.5L78.5 145.4L76.8 146.1Z" fill="#6089cf"/><path d="M60.9 126.5L62.6 127.4L63.3 128.7L61.6 128.7Z" fill="#f0d0c0"/><path d="M45.5 129.3L47.1 126L47.8 125.8L46.1 127.4Z" fill="#fdccb3"/><path d="M99.4 150.9L101.1 151.5L101.8 151L100.1 150.3Z" fill="#213f99"/><path d="M29.8 151.8L31.5 149L32.1 147.1L30.5 151Z" fill="#547cc4"/><path d="M84.6 148.7L86.2 150.3L87 149.4L85.3 148.3Z" fill="#3c62bd"/><path d="M69.6 137.3L71.1 141.2L71.9 139.1L70.2 140.1Z" fill="#a5bde5"/><path d="M54.2 126.2L55.8 127.5L56.6 125.4L55 123.7Z" fill="#f6bea5"/><path d="M107.8 149L109.3 147L110 147.3L108.4 148.6Z" fill="#2e50ab"/><path d="M38.7 136.3L40.2 140.9L41 138.8L39.5 132.3Z" fill="#d4dff4"/><path d="M93 149.8L94.6 151.7L95.3 151.9L93.8 149.3Z" fill="#27459c"/><path d="M78.1 145.1L79.8 146.3L80.4 147.1L78.7 146.4Z" fill="#537ac6"/><path d="M62.9 128.4L64.5 130.5L65.2 128.4L63.6 130.2Z" fill="#e9d6cf"/><path d="M47.5 125.9L49.1 129L49.9 126.5L48.3 123.7Z" fill="#f5bfa6"/><path d="M101.4 151.1L103.1 150.5L103.7 149.8L102 151.1Z" fill="#213f99"/><path d="M31.9 147.5L33.5 146.9L34.2 143.7L32.5 146.5Z" fill="#7ca1dd"/><path d="M86.5 149.4L88.2 148.7L88.9 148.6L87.3 150.3Z" fill="#395db6"/><path d="M71.6 139L73.2 139.8L73.8 141.4L72.2 141.4Z" fill="#91abd7"/><path d="M56.3 125.6L57.9 124L58.6 123.3L56.9 124.9Z" fill="#f2b298"/><path d="M109.7 147.2L111.2 149.6L111.9 150L110.4 146.8Z" fill="#27469d"/><path d="M40.8 138.9L42.4 136.6L43 132.8L41.4 135.2Z" fill="#d8dfee"/><path d="M95 151.9L96.6 149.7L97.3 149.7L95.6 151.4Z" fill="#2848a4"/><path d="M80.1 146.8L81.7 148.9L82.3 149.2L80.8 147Z" fill="#456cc0"/><path d="M65 128.3L66.5 132.1L67.2 133.9L65.5 130.9Z" fill="#e1dde0"/><path d="M49.5 126.5L51.1 128.3L51.9 127.1L50.3 123.1Z" fill="#f2bca3"/><path d="M103.3 149.9L105 150.2L105.6 150.8L104 149.2Z" fill="#2544a0"/><path d="M33.9 144L35.5 145L36.3 142.4L34.7 142.1Z" fill="#95b1de"/><path d="M88.5 148.6L90.2 150.3L90.8 150.6L89.2 149Z" fill="#365bb6"/><path d="M73.6 141L75.2 142.7L75.9 143.4L74.2 144Z" fill="#7495cc"/><path d="M58.3 123.2L59.8 129.3L60.6 126.8L59 121.3Z" fill="#f7bda3"/><path d="M42.8 133.1L44.3 134.6L45.1 130.4L43.6 129.4Z" fill="#ece1de"/><path d="M96.9 149.7L98.5 151.7L99.2 151.6L97.6 149.3Z" fill="#2746a2"/><path d="M27.1 156L28.7 153.2L29.4 152.1L27.7 154.6Z" fill="#3c62b9"/><path d="M82 149.2L83.7 147.9L84.4 148.2L82.6 148.5Z" fill="#4269bf"/><path d="M66.9 133.6L68.6 135L69.2 135.7L67.6 133.5Z" fill="#d0d9e9"/><path d="M51.5 127.1L53.2 127.5L54 126.7L52.3 124.4Z" fill="#f6c1a8"/><path d="M105.3 150.8L106.9 149.2L107.5 148.7L105.8 149.5Z" fill="#24429a"/><path d="M36 142.8L37.7 141.3L38.3 139.4L36.7 139.5Z" fill="#a7bbdb"/><path d="M90.4 150.5L92.2 150.5L92.8 149.7L91 150Z" fill="#3053ad"/><path d="M75.5 143.2L77.1 142.9L77.9 143.7L76.2 145Z" fill="#6c92d0"/><path d="M60.3 126.5L61.9 129L62.7 127.6L61 126.5Z" fill="#e9c3b0"/><path d="M44.9 130.8L46.4 129.8L47.1 126L45.4 129.2Z" fill="#eecbb9"/><path d="M98.8 151.5L100.5 151.7L101.2 151.3L99.5 150.8Z" fill="#22409c"/><path d="M29.1 152.5L30.8 149.9L31.5 149L29.9 151.8Z" fill="#547ece"/><path d="M84 148.1L85.6 149.9L86.3 150.3L84.6 148.6Z" fill="#3d63bc"/><path d="M69 135.3L70.5 138.9L71.1 141.2L69.6 137.3Z" fill="#b5c9eb"/><path d="M53.5 126.6L55.3 126.9L56 127.3L54.3 125.9Z" fill="#e8b9a2"/><path d="M107.1 149L108.8 147.5L109.4 147.1L107.8 149.1Z" fill="#2e4fa9"/><path d="M38 139.5L39.6 143.8L40.4 140.8L38.8 136.2Z" fill="#b8cbea"/><path d="M92.4 149.6L94 151.7L94.7 151.6L93.1 149.7Z" fill="#2b4ca7"/><path d="M77.5 143.6L79.2 144.7L79.7 146.4L78.1 145.4Z" fill="#6089ce"/><path d="M62.3 127.4L64 128.7L64.6 130.5L62.9 128.4Z" fill="#f1d6ca"/><path d="M46.9 126L48.4 129.3L49.2 129L47.6 125.7Z" fill="#ffd1b7"/><path d="M100.7 151.4L102.4 150.5L103.1 150.4L101.3 151.1Z" fill="#2443a3"/><path d="M31.2 149.3L32.8 150.1L33.5 146.5L31.9 147.1Z" fill="#638bcd"/><path d="M85.9 150.2L87.7 149.1L88.3 148.8L86.5 149.3Z" fill="#375baf"/><path d="M70.9 141.1L72.5 138.7L73.3 140.1L71.6 139Z" fill="#a9c3ed"/><path d="M55.7 127.4L57.2 124.2L57.9 124L56.2 125.5Z" fill="#efb59b"/><path d="M109.1 147.1L110.6 150.5L111.3 149.5L109.8 147.2Z" fill="#2c4dab"/><path d="M40.1 140.8L41.7 139.6L42.4 136.2L40.7 138.6Z" fill="#ccddf9"/><path d="M94.4 151.6L96 149.8L96.6 149.7L95.1 151.9Z" fill="#28479f"/><path d="M79.4 146.1L81.1 146.3L81.7 148.9L80 146.9Z" fill="#4e76c6"/><path d="M64.2 130.3L65.9 131.7L66.6 132.1L65 128.3Z" fill="#eee3e0"/><path d="M48.8 128.8L50.4 132.6L51.2 127.9L49.7 126.3Z" fill="#f8d4c3"/><path d="M102.7 150.6L104.4 150.6L105 150.1L103.3 149.8Z" fill="#2545a1"/><path d="M33.2 146.9L34.8 148.1L35.6 144.7L34 143.7Z" fill="#84a8e2"/><path d="M87.9 148.8L89.5 150.1L90.2 150.2L88.6 148.5Z" fill="#395eb7"/><path d="M72.9 139.8L74.6 141.1L75.1 142.9L73.5 141.2Z" fill="#8daada"/><path d="M57.7 124L59.2 128.5L59.9 129.3L58.4 123.2Z" fill="#fdc7ad"/><path d="M110.9 149.3L112.6 150.2L113.3 149.6L111.5 149.8Z" fill="#223f9a"/><path d="M42.1 136.6L43.7 137.7L44.5 134.2L42.9 132.8Z" fill="#dbdfeb"/><path d="M96.3 149.7L97.9 151.9L98.6 151.6L97 149.6Z" fill="#2b4dad"/><path d="M26.4 156.2L28.1 154.4L28.7 153.2L27.1 156Z" fill="#365aaf"/><path d="M81.4 148.7L83 147.5L83.8 148L82.1 149.3Z" fill="#4268bb"/><path d="M66.3 131.7L68 133.4L68.6 135L66.9 133.8Z" fill="#dfe3ee"/><path d="M50.8 128.1L52.5 130.6L53.3 127.2L51.7 126.7Z" fill="#edc6b2"/><path d="M104.6 150.1L106.3 149.8L106.9 149.2L105.3 150.8Z" fill="#234096"/><path d="M35.3 145L36.9 145.4L37.6 141L36 142.4Z" fill="#9bb6e4"/><path d="M89.8 150.1L91.5 149.9L92.2 150.4L90.5 150.6Z" fill="#3052a9"/><path d="M74.8 142.8L76.4 140.7L77.2 143.2L75.6 143.5Z" fill="#7b9dd2"/><path d="M59.6 129.2L61.2 130.2L62 128.8L60.4 126.4Z" fill="#f1d1c2"/><path d="M44.2 134.6L45.8 133.3L46.4 129.4L44.9 130.4Z" fill="#eaddd9"/><path d="M98.2 151.4L99.9 152.3L100.6 151.6L98.8 151.4Z" fill="#213e97"/><path d="M28.5 153.6L30.2 152L30.8 149.9L29.1 152.4Z" fill="#4a72c3"/><path d="M83.4 148L85 149.6L85.7 149.9L84.1 148.1Z" fill="#446cc7"/><path d="M68.3 134.7L69.9 135.5L70.5 138.9L69 135.3Z" fill="#ccdaf3"/><path d="M52.9 127.3L54.5 129.3L55.3 126.7L53.7 126.4Z" fill="#fbccb3"/><path d="M106.5 149.4L108.2 148.8L108.8 147.6L107.1 148.9Z" fill="#2b4ba1"/><path d="M37.4 141L38.9 146.3L39.7 143.7L38.2 139.3Z" fill="#9fb7df"/><path d="M91.8 150.3L93.4 151.7L94.1 151.6L92.5 149.6Z" fill="#2b4ba1"/><path d="M76.8 142.9L78.5 144.7L79.2 144.9L77.5 143.6Z" fill="#6d95d5"/><path d="M61.6 128.9L63.4 128.4L64 128.8L62.3 127.3Z" fill="#f2d1c1"/><path d="M46.1 129.7L47.8 132.8L48.6 129L47 126Z" fill="#f4d2c1"/><path d="M100.1 151.7L101.8 151.6L102.5 150.5L100.7 151.3Z" fill="#22409b"/><path d="M30.5 150.1L32.2 151L33 149.8L31.2 149Z" fill="#577ec5"/><path d="M85.3 149.8L87 148.9L87.7 149.1L86 150.3Z" fill="#385bad"/><path d="M70.2 138.6L71.9 137.9L72.6 138.9L71 141.2Z" fill="#acc2e7"/><path d="M54.9 126.9L56.7 126.3L57.2 124.2L55.7 127.5Z" fill="#eab59d"/><path d="M108.5 147.5L110 150.2L110.7 150.4L109.2 147Z" fill="#2949a0"/><path d="M39.5 143.8L41 143.2L41.7 139.2L40.2 140.4Z" fill="#a6bce0"/><path d="M93.7 151.6L95.5 151.1L96 149.8L94.4 151.6Z" fill="#2949a1"/><path d="M78.8 144.6L80.4 147L81.2 146.6L79.4 146.4Z" fill="#5981ca"/><path d="M63.7 128.5L65.3 129.3L65.9 131.7L64.3 130.5Z" fill="#f9e6de"/><path d="M48.3 128.9L49.8 132.8L50.5 132.6L49 128.6Z" fill="#f4ddd4"/><path d="M102.1 150.5L103.7 151.9L104.4 150.4L102.7 150.4Z" fill="#24429e"/><path d="M32.6 150L34.2 150.3L35 147.7L33.4 146.5Z" fill="#638bce"/><path d="M87.2 149.1L88.9 150.2L89.6 150L88 148.7Z" fill="#3b61b9"/><path d="M72.3 138.7L73.9 139.5L74.5 141.3L72.8 140.1Z" fill="#97aed3"/><path d="M57 124.2L58.5 130.9L59.3 128.4L57.7 123.9Z" fill="#f8c5ad"/><path d="M110.3 150.3L112.1 150.1L112.7 150.1L111 149.2Z" fill="#213e97"/><path d="M41.5 139.5L43 140.7L43.8 137.4L42.2 136.2Z" fill="#c0cde5"/><path d="M95.7 149.8L97.3 152.3L98 151.8L96.4 149.7Z" fill="#2949a4"/><path d="M25.7 157.4L27.4 155.2L28.1 154.4L26.4 156.2Z" fill="#3457ae"/><path d="M80.8 146.4L82.4 146.4L83.1 147.7L81.5 148.9Z" fill="#4e76c7"/><path d="M65.6 131.4L67.4 132.6L67.9 133.6L66.3 131.7Z" fill="#f2f0f5"/><path d="M50.3 132.5L51.8 133.6L52.6 130.2L51 127.9Z" fill="#e1cfc8"/><path d="M104 150.5L105.7 149.7L106.3 149.8L104.6 150.1Z" fill="#2747a1"/><path d="M34.7 148.1L36.4 146.4L37 145.1L35.4 144.6Z" fill="#84a8e2"/><path d="M89.2 149.9L91 149.8L91.6 150L89.8 150.2Z" fill="#375cb6"/><path d="M74.2 141.1L75.8 140L76.6 140.9L75 142.9Z" fill="#96b4e4"/><path d="M59 128.1L60.6 131L61.4 130.1L59.6 128.9Z" fill="#f4d8cc"/><path d="M112.3 150.1L113.9 149.2L114.6 149.1L112.8 149.7Z" fill="#213e96"/><path d="M43.6 137.7L45.1 136.1L45.8 132.9L44.2 134.2Z" fill="#d9dce6"/><path d="M97.6 151.6L99.3 152.5L99.9 152.2L98.3 151.3Z" fill="#23419f"/><path d="M27.8 154.7L29.6 153.4L30.1 151.8L28.4 153.5Z" fill="#446cc2"/><path d="M82.8 147.5L84.4 149.5L85.1 149.5L83.4 147.9Z" fill="#4167b9"/><path d="M67.7 133.2L69.2 137.4L70 135.8L68.3 134.7Z" fill="#d0d9ec"/><path d="M52.3 130.5L53.9 132L54.7 128.9L53.1 127.1Z" fill="#f5d6c8"/><path d="M105.9 150L107.6 149.1L108.2 148.7L106.5 149.3Z" fill="#29489e"/><path d="M36.6 145.2L38.3 148.3L39.1 146.2L37.5 140.9Z" fill="#85a4d6"/><path d="M91.2 149.8L92.8 152L93.5 151.7L91.9 150.2Z" fill="#3053b1"/><path d="M76.3 140.7L77.9 143.6L78.5 144.7L76.8 143.1Z" fill="#82a7e3"/><path d="M61 130.1L62.7 129.9L63.3 128.3L61.7 128.6Z" fill="#f2d5c8"/><path d="M45.5 133.2L47.1 135.4L48 132.5L46.3 129.4Z" fill="#fef3f2"/><path d="M99.5 152.3L101.2 151.1L101.9 151.4L100.1 151.6Z" fill="#213f99"/><path d="M29.8 152.1L31.5 152.8L32.3 150.6L30.6 149.9Z" fill="#4e75c0"/><path d="M84.7 149.4L86.4 148.8L87.1 149L85.4 149.9Z" fill="#3a5dac"/><path d="M69.7 135.5L71.2 136.4L71.9 138.3L70.4 138.9Z" fill="#c5d5f1"/><path d="M54.3 129.2L55.9 128.7L56.6 126.1L55 126.6Z" fill="#f3c5ad"/><path d="M107.8 148.7L109.4 151.3L110.1 150.1L108.6 147.5Z" fill="#2c4fb0"/><path d="M38.8 146.2L40.5 144.4L41.1 142.9L39.5 143.4Z" fill="#91aedd"/><path d="M93.1 151.6L94.8 150.7L95.5 151L93.7 151.6Z" fill="#2b4ca6"/><path d="M78.2 144.4L79.8 146.2L80.5 146.9L78.9 144.6Z" fill="#5a80c1"/><path d="M63 128.2L64.6 131.6L65.4 129.5L63.7 128.5Z" fill="#fee3d6"/><path d="M47.5 132.6L49.1 135.8L50 132.6L48.4 128.8Z" fill="#eee3e1"/><path d="M101.4 151.5L103.2 151.8L103.8 151.8L102.2 150.4Z" fill="#22409b"/><path d="M31.9 150.8L33.6 151.2L34.3 150.1L32.6 149.7Z" fill="#5176bb"/><path d="M86.7 149L88.3 150.6L89 150.1L87.3 149Z" fill="#3c62bb"/><path d="M71.6 138L73.3 139.2L73.9 139.8L72.2 138.9Z" fill="#b2c8eb"/><path d="M56.4 126.1L57.9 131.4L58.6 130.9L57.1 124.2Z" fill="#f1c7b2"/><path d="M109.7 149.9L111.4 150.9L112.1 149.9L110.3 150.2Z" fill="#22409c"/><path d="M40.8 143.2L42.4 143.1L43.2 140.3L41.6 139.2Z" fill="#afc4e7"/><path d="M95.1 150.9L96.6 153.3L97.4 152.2L95.8 149.8Z" fill="#2849a6"/><path d="M25 156.9L26.7 155.4L27.4 155.2L25.8 157.4Z" fill="#3357af"/><path d="M80.1 146.8L81.8 145.6L82.5 146.7L80.7 146.6Z" fill="#5b85d3"/><path d="M65.1 129.3L66.7 131.3L67.3 132.7L65.6 131.7Z" fill="#efe4e2"/><path d="M49.6 132.5L51.2 134.5L52 133.4L50.3 132.2Z" fill="#ebe7e9"/><path d="M103.4 151.9L105.1 150.1L105.7 149.7L104 150.4Z" fill="#26459f"/><path d="M34 150.3L35.6 149.3L36.3 146.1L34.7 147.7Z" fill="#5f84c0"/><path d="M88.6 150L90.3 150.7L91 149.8L89.2 149.8Z" fill="#3659ae"/><path d="M73.5 139.6L75.2 137.8L75.9 140.3L74.3 141.3Z" fill="#a9c0e8"/><path d="M58.3 130.7L59.9 132L60.7 130.8L59.1 128Z" fill="#f4ddd4"/><path d="M111.6 150.1L113.4 149.6L114 149.2L112.3 150.2Z" fill="#23419a"/><path d="M42.9 140.7L44.4 140.6L45.1 135.7L43.6 137.3Z" fill="#cad8f0"/><path d="M97 152.1L98.6 152.9L99.3 152.4L97.7 151.5Z" fill="#203c92"/><path d="M27.1 155.5L28.9 154.1L29.5 153.3L27.7 154.6Z" fill="#3e63b8"/><path d="M82.1 146.5L83.8 147.2L84.4 149.5L82.7 147.6Z" fill="#4c75c6"/><path d="M67.1 132.3L68.7 135.1L69.2 137.3L67.7 133.2Z" fill="#dfe5f3"/><path d="M51.6 133.5L53.2 134.8L54 131.6L52.4 130.2Z" fill="#ebe2e1"/><path d="M105.3 149.9L106.9 148.3L107.6 149.1L106 150Z" fill="#2f51ad"/><path d="M36.1 146.1L37.6 150.8L38.4 148.2L36.8 145Z" fill="#759ddd"/><path d="M90.6 149.7L92.2 152.2L92.9 152L91.3 149.8Z" fill="#3052a9"/><path d="M75.6 140.1L77.3 141.8L77.8 143.6L76.3 140.7Z" fill="#92afe0"/><path d="M60.3 130.8L62 131.3L62.7 129.6L61 129.8Z" fill="#e7d2c9"/><path d="M113.5 149.3L115.2 150L115.9 149.2L114.2 149.1Z" fill="#234096"/><path d="M44.8 136L46.5 139.3L47.3 135.1L45.7 132.9Z" fill="#e2e6f2"/><path d="M98.9 152.5L100.6 151.3L101.2 151.2L99.6 152.3Z" fill="#23419d"/><path d="M29.1 153.5L30.8 154.8L31.6 152.5L29.9 151.8Z" fill="#466dc0"/><path d="M84 149.4L85.7 148.2L86.4 149L84.7 149.5Z" fill="#4166b9"/><path d="M69 137.3L70.7 136.1L71.4 136.6L69.7 135.5Z" fill="#c9d5ec"/><path d="M53.7 131.9L55.3 131L56 128.3L54.4 128.8Z" fill="#f9dbcd"/><path d="M107.3 149L108.8 151.4L109.5 151.2L108 148.6Z" fill="#294baa"/><path d="M38.1 148.3L39.7 147.5L40.4 144.1L38.8 145.9Z" fill="#7a9cd4"/><path d="M92.5 151.9L94.2 151L94.8 150.8L93.1 151.7Z" fill="#2a4a9f"/><path d="M77.6 143.2L79.2 143.8L79.8 146.2L78.1 144.6Z" fill="#7098d9"/><path d="M62.4 129.6L63.9 132.9L64.7 131.5L63.1 128.2Z" fill="#f6e2da"/><path d="M46.9 135.2L48.5 137.5L49.3 135.7L47.7 132.3Z" fill="#e7e9f2"/><path d="M100.8 151.2L102.6 152L103.2 151.7L101.4 151.4Z" fill="#24429e"/><path d="M31.2 152.7L32.9 153.1L33.6 150.9L32 150.5Z" fill="#547fd2"/><path d="M86 148.8L87.7 150.2L88.3 150.6L86.7 148.9Z" fill="#3d63b8"/><path d="M71 136.4L72.7 138.2L73.3 139.3L71.6 138.2Z" fill="#bdcfed"/><path d="M55.7 128.3L57.2 132.9L58 131.3L56.5 126.1Z" fill="#e6c8b9"/><path d="M109.1 151.1L110.8 151.1L111.5 150.7L109.8 149.8Z" fill="#213f99"/><path d="M40.1 144.4L41.8 145.1L42.5 142.8L40.9 142.8Z" fill="#94aed9"/><path d="M94.5 150.7L96 153.1L96.7 153.2L95.2 150.8Z" fill="#2746a1"/><path d="M24.4 158.4L26.1 156L26.7 155.4L25 156.9Z" fill="#3356af"/><path d="M79.5 146L81.3 146.1L81.9 145.8L80.2 147Z" fill="#5a81c6"/><path d="M64.3 131.4L66 132.6L66.7 131.3L65.1 129.3Z" fill="#feefea"/><path d="M48.9 135.7L50.5 136.7L51.3 134.2L49.7 132.3Z" fill="#dedfe6"/><path d="M102.8 151.7L104.4 152.1L105.1 150.1L103.4 151.8Z" fill="#23419b"/><path d="M33.3 151.2L35 149.4L35.7 148.9L33.9 150.2Z" fill="#5d86cc"/><path d="M88 150.4L89.7 150.4L90.3 150.6L88.6 149.9Z" fill="#3558ac"/><path d="M72.9 139.2L74.6 137.9L75.3 137.9L73.7 139.9Z" fill="#b5c9ea"/><path d="M57.7 131L59.3 133.8L60.1 131.8L58.4 130.4Z" fill="#f6e8e4"/><path d="M111.1 150.8L112.7 150.8L113.3 149.5L111.7 149.9Z" fill="#23419c"/><path d="M42.2 143.1L43.8 142.6L44.5 140.2L42.9 140.3Z" fill="#b8cef2"/><path d="M96.4 153.1L98.1 153.1L98.7 152.7L97.1 151.9Z" fill="#22409c"/><path d="M26.4 155.7L28.2 155L28.8 154.1L27.1 155.5Z" fill="#3d62b9"/><path d="M81.5 145.7L83.1 148L83.8 147.4L82.1 146.5Z" fill="#5279c2"/><path d="M66.4 131.1L67.9 135.4L68.6 135.1L67.1 132.3Z" fill="#dadbe2"/><path d="M50.9 134.3L52.6 135.4L53.4 134.7L51.7 133.2Z" fill="#e4e3e9"/><path d="M104.7 150.4L106.4 149.1L107 148.3L105.4 150Z" fill="#2f51a9"/><path d="M35.3 149L37 152.4L37.7 150.7L36.2 146.1Z" fill="#5e86c9"/><path d="M89.9 150.4L91.5 152.5L92.2 152.2L90.7 149.6Z" fill="#3255b0"/><path d="M75 137.9L76.6 140.8L77.2 141.9L75.5 140.3Z" fill="#96acd0"/><path d="M59.7 131.8L61.3 132.4L62.1 131.1L60.4 130.6Z" fill="#e9dad5"/><path d="M112.9 149.6L114.6 150.4L115.3 149.9L113.6 149.1Z" fill="#234097"/><path d="M44.2 140.6L45.8 142L46.6 139L45 135.7Z" fill="#ccdbf6"/><path d="M98.3 152.8L100 151.4L100.6 151.3L99 152.5Z" fill="#23429b"/><path d="M28.5 154.1L30.1 155.7L31 154.6L29.3 153.2Z" fill="#3e64b7"/><path d="M83.5 147.2L85 146.5L85.8 148.5L84.2 149.5Z" fill="#496fbd"/><path d="M68.4 134.8L70 134.9L70.7 136.3L69.1 137.3Z" fill="#d8e1f4"/><path d="M53.1 134.8L54.8 132.1L55.3 130.6L53.7 131.6Z" fill="#eee2de"/><path d="M106.7 148.3L108.2 151.7L108.9 151.3L107.3 149Z" fill="#2a4ba5"/><path d="M37.5 150.7L39.2 148.9L39.8 147.1L38.1 147.9Z" fill="#6085c2"/><path d="M91.9 152.1L93.5 150.8L94.2 151L92.5 152Z" fill="#2f52af"/><path d="M77 141.6L78.7 143.2L79.2 144.1L77.6 143.5Z" fill="#82a3d9"/><path d="M61.7 131L63.3 134.7L64.1 132.8L62.5 129.5Z" fill="#f5eae8"/><path d="M114.8 149.9L116.4 151L117.2 149.4L115.5 149.1Z" fill="#2444a3"/><path d="M46.3 139.2L47.8 141.9L48.6 137.1L47.1 135Z" fill="#cbd7ec"/><path d="M100.2 151.4L101.9 152.3L102.6 151.9L100.9 151.1Z" fill="#25449f"/><path d="M30.6 154.7L32.2 154.6L33 152.7L31.3 152.4Z" fill="#456dc2"/><path d="M85.4 148.2L87.1 150L87.7 150.2L86.1 148.8Z" fill="#4269be"/><path d="M70.3 136L72.1 136.9L72.6 138.3L71 136.4Z" fill="#c7d4ec"/><path d="M55 130.7L56.6 134.7L57.4 132.8L55.8 128.2Z" fill="#f2e0d9"/><path d="M108.5 151.2L110.2 151.5L110.9 150.9L109.1 151Z" fill="#213f99"/><path d="M39.5 147.5L41.1 148.2L41.8 144.7L40.3 144.1Z" fill="#84a5db"/><path d="M93.9 150.9L95.4 154.1L96.1 153L94.6 150.6Z" fill="#294aa7"/><path d="M23.7 158.1L25.5 157.8L26.1 156L24.4 158.4Z" fill="#2f51aa"/><path d="M78.9 143.8L80.5 144.3L81.2 146.3L79.6 146.2Z" fill="#6d97db"/><path d="M63.7 132.6L65.3 134.6L66.1 132.3L64.5 131.2Z" fill="#e4e1e3"/><path d="M48.3 137.2L49.9 140.9L50.6 136.3L49.1 135.4Z" fill="#d0daec"/><path d="M102.2 151.9L103.9 151.1L104.5 152L102.8 151.6Z" fill="#2646a6"/><path d="M32.7 153.1L34.3 152L35 149.4L33.3 150.9Z" fill="#537bc5"/><path d="M87.3 150L89.1 149.6L89.7 150.5L88 150.6Z" fill="#385bad"/><path d="M72.3 138.2L73.9 136L74.7 138.1L73.1 139.3Z" fill="#c6d7f4"/><path d="M57 132.6L58.7 134.1L59.4 133.7L57.8 130.9Z" fill="#f4eded"/><path d="M110.4 151L112.1 151.3L112.8 150.6L111.1 150.6Z" fill="#213e96"/><path d="M41.5 145.1L43.2 145L43.9 142.2L42.3 142.7Z" fill="#9fb8e3"/><path d="M95.8 152.9L97.4 153.7L98.1 152.9L96.4 153Z" fill="#213e97"/><path d="M25.7 156.3L27.5 155.4L28.2 154.9L26.4 155.6Z" fill="#385caf"/><path d="M80.9 146L82.5 147.3L83.2 148L81.6 145.6Z" fill="#5981c8"/><path d="M65.7 132.2L67.3 135.5L68 135.4L66.5 131Z" fill="#e5e4ea"/><path d="M50.3 136.5L51.9 138.3L52.7 135L51.1 134.1Z" fill="#d6dae6"/><path d="M104.2 152.1L105.7 149.1L106.4 149.1L104.7 150.3Z" fill="#2d4da6"/><path d="M34.7 149.4L36.3 153.8L37.1 152.3L35.5 148.8Z" fill="#537ac2"/><path d="M89.4 150.2L90.9 152.7L91.6 152.5L90 150.3Z" fill="#3255ae"/><path d="M74.3 137.9L76.1 139.1L76.6 140.8L75 137.9Z" fill="#b2c5e6"/><path d="M59.1 133.8L60.8 133.1L61.4 132.2L59.8 131.6Z" fill="#f6eded"/><path d="M112.4 150.8L114.1 150L114.7 150.2L113 149.4Z" fill="#25439d"/><path d="M43.5 142.4L45.2 144.3L46 141.7L44.3 140.2Z" fill="#a4b8da"/><path d="M97.7 153.1L99.4 151.8L100 151.4L98.4 152.9Z" fill="#234198"/><path d="M27.8 155L29.5 156.1L30.3 155.6L28.6 154Z" fill="#3c62b7"/><path d="M82.8 147.9L84.6 147.3L85.2 146.6L83.4 147.4Z" fill="#5781d0"/><path d="M67.7 135.2L69.5 134.8L70.1 135.1L68.3 134.9Z" fill="#e1e6f4"/><path d="M52.4 135.4L54 132.5L54.7 132L53.1 134.8Z" fill="#ebe7e9"/><path d="M106.1 149.1L107.6 152.1L108.3 151.7L106.8 148.3Z" fill="#2c4eaa"/><path d="M36.8 152.4L38.5 151.1L39.1 148.6L37.4 150.5Z" fill="#567cc2"/><path d="M91.3 152.4L92.9 151L93.6 150.9L91.9 152.2Z" fill="#3154b0"/><path d="M76.3 140.5L78 142L78.6 143.3L76.9 141.7Z" fill="#90acd9"/><path d="M61.1 132.1L62.7 134.2L63.4 134.7L61.8 130.9Z" fill="#f5f0f2"/><path d="M114.3 150.2L115.9 151.1L116.6 150.9L115 149.7Z" fill="#23419f"/><path d="M45.6 141.8L47.2 144.1L48 141.7L46.4 138.9Z" fill="#aec2e3"/><path d="M99.6 151.5L101.3 153.2L102 152.2L100.3 151.3Z" fill="#2645a1"/><path d="M29.9 155.6L31.7 155.3L32.3 154.3L30.6 154.4Z" fill="#3c60b3"/><path d="M84.9 146.5L86.4 149.3L87.1 150L85.4 148.3Z" fill="#4870c1"/><path d="M69.8 134.9L71.3 138.3L72.1 137L70.4 136Z" fill="#d5e0f5"/><path d="M54.4 132L56 137.3L56.7 134.6L55.2 130.6Z" fill="#ffffff"/><path d="M107.9 151.6L109.6 150.6L110.3 151.4L108.5 151.1Z" fill="#2443a1"/><path d="M38.8 148.9L40.5 149.4L41.2 148L39.6 147.1Z" fill="#6c93d1"/><path d="M93.3 150.8L94.9 153L95.5 154.1L94 150.9Z" fill="#2949a0"/><path d="M23 159L24.8 157.7L25.5 157.6L23.6 158Z" fill="#2e51ad"/><path d="M78.2 143.1L79.9 142.4L80.6 144.6L78.9 144.1Z" fill="#7797cb"/><path d="M63.1 134.6L64.7 132.1L65.4 134.5L63.8 132.4Z" fill="#e6e4e8"/><path d="M116.2 150.9L117.8 151.1L118.5 150.5L116.9 149.3Z" fill="#22419d"/><path d="M47.7 141.9L49.2 142.8L50.1 140.7L48.4 137.1Z" fill="#b2c3e0"/><path d="M101.6 152.3L103.3 151.8L103.9 151.2L102.2 151.9Z" fill="#2848a7"/><path d="M32 154.6L33.7 153.7L34.3 151.7L32.6 152.7Z" fill="#4a74c8"/><path d="M86.7 149.8L88.5 149.4L89.1 149.8L87.4 150.2Z" fill="#3e64b7"/><path d="M71.7 136.9L73.3 136.1L74 136.1L72.4 138.4Z" fill="#c7d4ea"/><path d="M56.4 134.5L58 136L58.8 133.9L57.2 132.5Z" fill="#e1dfe4"/><path d="M109.8 151.4L111.6 151L112.2 151.1L110.5 150.9Z" fill="#213e96"/><path d="M40.9 148.2L42.5 147.2L43.2 144.6L41.6 144.7Z" fill="#85a6da"/><path d="M95.2 154L96.9 153.1L97.5 153.6L95.8 152.7Z" fill="#23419f"/><path d="M25.1 157.8L26.8 157.3L27.5 155.3L25.8 156Z" fill="#375bb4"/><path d="M80.3 144.3L81.9 145.4L82.5 147.3L80.9 146.3Z" fill="#648ccf"/><path d="M65 134.4L66.7 135.4L67.4 135.4L65.9 132.2Z" fill="#e0e2ea"/><path d="M49.7 140.9L51.3 139.9L52.1 138L50.5 136.2Z" fill="#ccd9f0"/><path d="M103.5 151.4L105.1 149.6L105.8 149.1L104.2 152.1Z" fill="#2b4ba0"/><path d="M34 151.7L35.6 155.4L36.4 153.8L34.8 149.4Z" fill="#4d75c4"/><path d="M88.8 149.6L90.4 151.9L91 152.6L89.4 150.2Z" fill="#395fba"/><path d="M73.8 136.1L75.4 138.6L76 139.2L74.3 138.1Z" fill="#c7d8f4"/><path d="M58.4 133.9L60 136L60.8 132.8L59.1 133.4Z" fill="#e7e6ea"/><path d="M111.8 151.2L113.5 150.7L114.1 149.9L112.3 150.7Z" fill="#24429d"/><path d="M42.9 144.8L44.5 147.2L45.3 144L43.7 142.2Z" fill="#9bb7e6"/><path d="M97.1 153.7L98.8 152.2L99.4 151.8L97.7 153.1Z" fill="#2647a7"/><path d="M27.1 155.4L28.8 157.4L29.6 155.9L27.9 154.8Z" fill="#385bad"/><path d="M82.2 147.1L83.8 146.3L84.6 147.3L82.9 148Z" fill="#567ec6"/><path d="M67 135.3L68.8 134.3L69.5 134.8L67.7 135.3Z" fill="#e0e4ef"/><path d="M51.8 138.3L53.4 136.7L54 132.5L52.4 135Z" fill="#ebedf6"/><path d="M105.5 149.1L107 152.3L107.7 152.1L106.2 149Z" fill="#2a4aa2"/><path d="M36.1 153.8L37.8 152.7L38.5 150.8L36.7 152.1Z" fill="#5078c8"/><path d="M90.7 152.6L92.3 150.1L93 151.1L91.4 152.5Z" fill="#3254ac"/><path d="M75.7 138.8L77.3 141.6L78 142.1L76.3 140.6Z" fill="#adc7f0"/><path d="M60.4 132.9L62.1 134.4L62.8 134.1L61.2 132Z" fill="#f3eef0"/><path d="M113.7 150L115.3 151.1L116 151.1L114.3 150.1Z" fill="#23429d"/><path d="M44.9 144.1L46.5 146.5L47.4 143.9L45.7 141.5Z" fill="#99b2dc"/><path d="M99 151.9L100.7 153.2L101.4 153.1L99.8 151.4Z" fill="#2747a5"/><path d="M29.2 155.9L30.9 156.8L31.7 155.1L29.9 155.4Z" fill="#3c62ba"/><path d="M84.2 147.2L85.8 149.1L86.5 149.3L84.9 146.5Z" fill="#4d73bf"/><path d="M69.1 134.7L70.7 137.6L71.4 138.2L69.8 134.9Z" fill="#d4ddef"/><path d="M53.8 132.5L55.3 138.5L56 137.3L54.5 132Z" fill="#dddde4"/><path d="M107.3 152L109 152.3L109.6 150.6L107.9 151.5Z" fill="#22409a"/><path d="M38.1 151.1L39.8 151.9L40.5 149L38.9 148.6Z" fill="#5b81c4"/><path d="M92.6 151L94.2 153.3L94.9 152.9L93.3 150.8Z" fill="#2c4ca2"/><path d="M22.3 159.3L24 157.5L24.8 157.8L23 159.1Z" fill="#2c4da4"/><path d="M77.6 141.9L79.3 141.7L80 142.6L78.4 143.3Z" fill="#8aa6d4"/><path d="M62.4 133.9L64 137.2L64.7 132.1L63 134.5Z" fill="#eaeaf1"/><path d="M115.6 151L117.3 150.8L117.9 150.9L116.2 150.8Z" fill="#2341a0"/><path d="M47 144L48.6 144.2L49.4 142.5L47.8 141.5Z" fill="#a3b9df"/><path d="M101 153.2L102.6 151.2L103.3 151.7L101.6 152.2Z" fill="#25439b"/><path d="M31.3 155.3L33 155.1L33.7 153.4L31.9 154.4Z" fill="#436bc1"/><path d="M86.1 149.1L87.8 148.1L88.5 149.6L86.8 150Z" fill="#4166b4"/><path d="M71.1 138.2L72.7 136.1L73.4 136.1L71.7 136.9Z" fill="#c1cce0"/><path d="M55.7 137.2L57.3 138.7L58.1 135.7L56.5 134.3Z" fill="#dfe5f3"/><path d="M109.3 150.7L111 150.9L111.6 151.1L109.9 151.5Z" fill="#2646a3"/><path d="M40.2 149.3L41.9 149L42.6 146.8L40.8 147.9Z" fill="#739ad8"/><path d="M94.6 152.7L96.3 153.6L96.9 153.2L95.2 154.1Z" fill="#23429d"/><path d="M24.4 157.9L26.2 157.8L26.9 157L25 157.7Z" fill="#3052a7"/><path d="M79.7 142.4L81.4 144.3L81.9 145.7L80.3 144.6Z" fill="#7699d1"/><path d="M64.5 132.1L66 136.6L66.8 135.3L65.1 134.3Z" fill="#e9eaf2"/><path d="M117.5 151.1L119.2 150L119.8 149.6L118.1 150.6Z" fill="#213f99"/><path d="M49.1 142.8L50.6 143L51.3 139.5L49.8 140.5Z" fill="#afc2e1"/><path d="M103 152L104.5 150L105.2 149.7L103.6 151.5Z" fill="#2c4ca2"/><path d="M33.4 153.5L35 156.7L35.8 155.3L34.2 151.6Z" fill="#4166b7"/><path d="M88.1 149.4L89.7 152.1L90.4 151.9L88.8 149.6Z" fill="#3c62bb"/><path d="M73.1 136.1L74.8 137.4L75.3 138.6L73.8 136.1Z" fill="#cedaf1"/><path d="M57.8 135.9L59.5 136L60.2 135.9L58.5 133.7Z" fill="#dbdde5"/><path d="M111.2 151L112.9 151.6L113.5 150.6L111.8 151.2Z" fill="#234099"/><path d="M42.2 147L43.9 148.9L44.7 147L43 144.5Z" fill="#7c9dd3"/><path d="M96.5 153.3L98.1 152.1L98.8 152.3L97.2 153.7Z" fill="#2746a3"/><path d="M26.4 157.1L28.1 158.9L29 157.2L27.3 155.3Z" fill="#3355aa"/><path d="M81.6 145.4L83.2 145.2L84 146.5L82.3 147.3Z" fill="#628acc"/><path d="M66.4 135.3L68.2 135.5L68.8 134.3L67.1 135.4Z" fill="#d2d4de"/><path d="M51.1 139.9L52.7 139.9L53.4 136.3L51.7 138Z" fill="#c6d1e5"/><path d="M104.9 149.6L106.4 152.9L107.1 152.3L105.6 149Z" fill="#2c4da8"/><path d="M35.5 155.3L37.1 154.6L37.8 152.4L36.1 153.4Z" fill="#476fc4"/><path d="M90 151.8L91.7 150.1L92.4 150.2L90.8 152.7Z" fill="#3558ad"/><path d="M75.1 138.3L76.6 141.4L77.3 141.6L75.8 138.8Z" fill="#a9bddf"/><path d="M59.8 135.9L61.4 136.8L62.2 134.1L60.6 132.8Z" fill="#ececf3"/><path d="M113.1 150.7L114.8 151.2L115.4 151L113.8 149.9Z" fill="#25439e"/><path d="M44.3 147.1L45.9 147.8L46.7 146.3L45.1 143.8Z" fill="#82a2d4"/><path d="M98.4 152.4L100.2 152.6L100.8 153.1L99.1 151.8Z" fill="#2848a4"/><path d="M28.5 157.3L30.3 157.1L31 156.6L29.3 155.7Z" fill="#385cb4"/><path d="M83.6 146.3L85.2 148.2L85.8 149.1L84.2 147.1Z" fill="#5881ce"/><path d="M68.5 134.3L70.1 137.4L70.7 137.6L69.2 134.6Z" fill="#dde4f3"/><path d="M53.1 136.4L54.7 140.1L55.4 138.5L53.9 132.5Z" fill="#d7dcea"/><path d="M106.7 152.2L108.5 151.8L109.1 152.1L107.3 151.8Z" fill="#23419c"/><path d="M37.5 152.7L39.2 153.1L39.9 151.7L38.3 150.7Z" fill="#527ac6"/><path d="M92.1 150.1L93.6 153.1L94.3 153.3L92.7 151Z" fill="#2f51a6"/><path d="M21.6 159.3L23.4 158.1L24.1 157.5L22.4 159.4Z" fill="#2d4da4"/><path d="M77 141.3L78.7 140.9L79.4 141.9L77.7 142.1Z" fill="#a0bae5"/><path d="M61.8 134.1L63.6 135L64.1 137.2L62.5 133.7Z" fill="#d9dae2"/><path d="M115 150.9L116.7 151.6L117.3 150.8L115.6 150.9Z" fill="#2342a0"/><path d="M46.4 146.5L48 147.1L48.7 143.8L47.1 143.7Z" fill="#90addd"/><path d="M100.4 153.1L102.1 152.6L102.6 151.3L101 153.2Z" fill="#26459f"/><path d="M30.7 156.8L32.4 155.6L33.1 154.8L31.3 155Z" fill="#3e65bb"/><path d="M85.5 148.9L87.3 149.1L87.9 148.2L86.2 149.2Z" fill="#4b74c6"/><path d="M70.4 137.5L72 135.2L72.8 136.2L71.2 138.3Z" fill="#d8e3f6"/><path d="M55.1 138.3L56.7 140.2L57.5 138.5L55.9 136.9Z" fill="#cbd6eb"/><path d="M108.7 152.2L110.4 151.2L111 150.9L109.3 150.6Z" fill="#2646a0"/><path d="M39.6 151.9L41.3 150.6L41.9 148.7L40.3 149Z" fill="#6189cc"/><path d="M93.9 153.1L95.7 153.6L96.3 153.6L94.6 152.6Z" fill="#294aab"/><path d="M23.7 157.6L25.5 157.4L26.2 157.7L24.4 158Z" fill="#3559b4"/><path d="M79.1 141.7L80.6 144.9L81.3 144.4L79.7 142.4Z" fill="#82a0d2"/><path d="M63.8 137.1L65.4 139L66.2 136.4L64.6 132.1Z" fill="#d9deeb"/><path d="M116.9 150.9L118.6 150.9L119.2 150L117.5 151.1Z" fill="#223f99"/><path d="M48.3 144L50 145.2L50.8 142.7L49.1 142.4Z" fill="#a1b9e0"/><path d="M102.3 151.5L104 150.3L104.6 150.1L103 152Z" fill="#2f51ab"/><path d="M32.7 154.8L34.3 157.8L35.1 156.6L33.5 153.4Z" fill="#4169c5"/><path d="M87.6 148.1L89.1 151.2L89.7 152.1L88.2 149.3Z" fill="#3d61b1"/><path d="M72.4 136.2L74.1 137.2L74.8 137.4L73.1 136.1Z" fill="#d7e1f5"/><path d="M57.2 138.7L58.8 138.1L59.5 135.6L57.9 135.6Z" fill="#dbe2f1"/><path d="M110.6 150.9L112.3 150.7L112.9 151.5L111.2 151Z" fill="#26449e"/><path d="M41.6 148.9L43.2 149.7L44 148.7L42.4 146.8Z" fill="#6f95d1"/><path d="M95.9 153.7L97.5 151.6L98.2 152.2L96.6 153.4Z" fill="#2948a2"/><path d="M25.8 157.7L27.5 159L28.3 158.8L26.6 156.9Z" fill="#3153ac"/><path d="M81 144.1L82.6 143.8L83.3 145.5L81.7 145.7Z" fill="#779dda"/><path d="M65.8 136.5L67.5 136.2L68.2 135.2L66.5 135Z" fill="#d3d7e3"/><path d="M118.8 150.1L120.5 150.2L121.1 150.4L119.4 149.5Z" fill="#2647a5"/><path d="M50.5 143L52.1 142L52.7 139.5L51.2 139.5Z" fill="#b8c9e6"/><path d="M104.3 150.1L105.8 152.8L106.5 152.9L105 149.6Z" fill="#2d50ae"/><path d="M34.8 156.6L36.6 155.7L37.2 154.3L35.4 155.1Z" fill="#3f65bb"/><path d="M89.4 152L91.2 151.1L91.7 150.1L90.1 151.9Z" fill="#3b61bb"/><path d="M74.5 137.1L76.1 139.7L76.7 141.4L75.1 138.3Z" fill="#bdceed"/><path d="M59.1 135.7L60.8 137.4L61.6 136.6L59.8 135.6Z" fill="#e4e9f6"/><path d="M112.5 151.5L114.1 151.8L114.8 151L113.2 150.5Z" fill="#24439f"/><path d="M43.6 148.7L45.3 150.7L46 147.5L44.4 146.8Z" fill="#6d92cd"/><path d="M97.8 152.2L99.5 153.3L100.2 152.6L98.4 152.3Z" fill="#2a4ba7"/><path d="M27.9 158.9L29.7 158.1L30.3 156.8L28.6 157Z" fill="#3457b2"/><path d="M83 145.2L84.6 147.5L85.2 148.2L83.6 146.3Z" fill="#658fd9"/><path d="M67.8 135.2L69.4 138.4L70.2 137.3L68.6 134.2Z" fill="#cbd1df"/><path d="M52.4 139.7L54 142.9L54.9 140L53.2 136.2Z" fill="#c5d3ec"/><path d="M106.2 152.8L107.9 152L108.5 151.8L106.7 152.1Z" fill="#2545a3"/><path d="M36.9 154.6L38.6 153.8L39.3 152.8L37.6 152.4Z" fill="#476ebb"/><path d="M91.4 150.1L93 152.8L93.7 153.1L92.1 150.1Z" fill="#365ab1"/><path d="M21 160L22.7 158.5L23.4 158.1L21.6 159.3Z" fill="#3054b3"/><path d="M76.4 141.2L78 140.1L78.8 141.1L77.1 141.5Z" fill="#acc4eb"/><path d="M61.2 136.7L62.8 137.2L63.5 134.9L61.9 134Z" fill="#dcdee7"/><path d="M114.4 151L116.1 151.5L116.7 151.5L115 150.8Z" fill="#2444a4"/><path d="M45.7 147.7L47.3 148.6L48.1 146.8L46.4 146.1Z" fill="#80a4dd"/><path d="M99.7 152.5L101.5 152.5L102.1 152.5L100.4 153.2Z" fill="#2848a5"/><path d="M30 157.1L31.8 156.3L32.4 155.5L30.6 156.7Z" fill="#3b61b8"/><path d="M84.9 148L86.5 147.4L87.2 149.1L85.6 149.1Z" fill="#517ac7"/><path d="M69.8 137.3L71.5 136L72.1 135.2L70.5 137.6Z" fill="#d0d8e8"/><path d="M54.4 139.9L56.1 141.8L56.9 140L55.2 138.1Z" fill="#c0cfe8"/><path d="M108.1 151.9L109.8 152.3L110.4 151.1L108.7 152.2Z" fill="#2646a3"/><path d="M38.9 153L40.6 152.6L41.2 150.2L39.5 151.7Z" fill="#567ec9"/><path d="M93.3 152.8L95.1 153.1L95.7 153.5L93.9 153.1Z" fill="#2c4fae"/><path d="M23 158.3L24.9 157.9L25.5 157.5L23.7 157.6Z" fill="#3457af"/><path d="M78.5 140.8L80 144L80.6 144.9L79.1 141.7Z" fill="#85a0cb"/><path d="M63.3 134.8L64.8 139.4L65.5 139L63.9 136.8Z" fill="#d0d9eb"/><path d="M116.3 151.5L118 150.9L118.6 150.8L116.9 150.8Z" fill="#23419e"/><path d="M47.7 147L49.3 148.5L50.1 144.8L48.5 143.7Z" fill="#8baadc"/><path d="M101.8 152.7L103.3 150L104 150.4L102.3 151.6Z" fill="#3153ac"/><path d="M32.1 155.5L33.7 158.5L34.4 157.7L32.8 154.7Z" fill="#385bb0"/><path d="M86.9 148.8L88.5 151.3L89.2 151.2L87.6 148.1Z" fill="#4871c7"/><path d="M71.8 135.2L73.5 137.1L74.2 137.2L72.4 136.2Z" fill="#d1d9e9"/><path d="M56.5 140.2L58.2 139.2L58.8 137.8L57.2 138.3Z" fill="#d0ddf3"/><path d="M110 151.2L111.6 152L112.3 150.8L110.6 150.8Z" fill="#2848a1"/><path d="M40.9 150.4L42.6 152.2L43.4 149.4L41.7 148.6Z" fill="#5f86c6"/><path d="M95.3 153.6L96.9 152L97.6 151.6L96 153.7Z" fill="#2e50ae"/><path d="M25.2 157.4L26.8 159.9L27.6 158.9L25.9 157.5Z" fill="#2d4c9f"/><path d="M80.4 144.8L82 143L82.7 144L81 144.4Z" fill="#7d9dd1"/><path d="M65.3 139L66.9 136.4L67.5 135.9L65.9 136.2Z" fill="#d9e1f1"/><path d="M118.2 150.9L119.8 151.2L120.5 150.1L118.8 149.9Z" fill="#24439d"/><path d="M49.8 145.2L51.4 144.2L52.1 141.7L50.5 142.6Z" fill="#a9c0e7"/><path d="M103.7 150.3L105.2 153.4L105.9 152.8L104.4 150Z" fill="#2c4da6"/><path d="M34.1 157.8L35.9 156.4L36.5 155.4L34.7 156.4Z" fill="#385db2"/><path d="M88.8 151L90.4 150L91.2 151.2L89.5 152.1Z" fill="#4068c3"/><path d="M73.8 136.9L75.4 139.4L76.1 139.7L74.5 137Z" fill="#c4d3eb"/><path d="M58.5 137.9L60.1 141.6L60.9 137.1L59.3 135.6Z" fill="#d1daed"/><path d="M111.9 150.7L113.6 151.6L114.2 151.7L112.5 151.5Z" fill="#25439b"/><path d="M43 149.4L44.6 151.7L45.4 150.6L43.8 148.5Z" fill="#6188c9"/><path d="M97.2 151.7L98.9 152.8L99.5 153.2L97.8 152.2Z" fill="#2d4fab"/><path d="M27.2 158.9L29 158.7L29.7 157.9L27.9 158.8Z" fill="#3053ad"/><path d="M82.4 143.8L84 146.3L84.6 147.5L83 145.3Z" fill="#6c93d1"/><path d="M67.2 135.9L68.8 138.5L69.5 138.3L67.9 135.1Z" fill="#d1d9e9"/><path d="M120.1 150L121.7 152.3L122.4 151.4L120.8 150.2Z" fill="#23419f"/><path d="M51.8 141.7L53.4 145.9L54.2 142.8L52.6 139.4Z" fill="#a5b8d9"/><path d="M105.5 152.6L107.3 152.7L107.9 152L106.2 152.8Z" fill="#24439d"/><path d="M36.2 155.7L37.8 155.9L38.6 153.5L36.9 154.3Z" fill="#4269bc"/><path d="M90.8 151L92.4 153.4L93.1 152.7L91.5 150Z" fill="#3559ae"/><path d="M20.3 160L22.1 159.1L22.8 158.5L21 160Z" fill="#2d4ea8"/><path d="M75.8 139.4L77.5 140.6L78.2 140.3L76.5 141.4Z" fill="#abbfe0"/><path d="M60.5 137.2L62.1 139.6L62.9 136.9L61.3 136.3Z" fill="#d0d8e8"/><path d="M113.8 151.7L115.5 152.2L116.1 151.3L114.5 150.8Z" fill="#2545a6"/><path d="M45.1 150.6L46.7 150.9L47.4 148.2L45.8 147.4Z" fill="#6c94d5"/><path d="M99.2 153.2L100.8 151.5L101.5 152.6L99.8 152.6Z" fill="#2d4eac"/><path d="M29.3 158.1L31.1 157.8L31.7 156.2L30 156.8Z" fill="#385cb4"/><path d="M84.3 147.3L86 147.3L86.7 147.6L85 148.2Z" fill="#5d86d0"/><path d="M69.2 138.3L70.8 134.9L71.6 136.1L69.9 137.4Z" fill="#dce4f3"/><path d="M53.8 142.9L55.4 143.5L56.2 141.6L54.6 139.7Z" fill="#baceef"/><path d="M107.5 152.1L109.2 151.7L109.8 152.2L108.1 151.8Z" fill="#2a4bad"/><path d="M38.2 153.8L40 153.6L40.6 152.3L38.9 152.7Z" fill="#4e76c3"/><path d="M92.7 152.6L94.5 152.7L95.1 153.2L93.3 152.9Z" fill="#2f51ab"/><path d="M22.4 158.7L24.1 159.2L24.9 157.7L23.1 158.1Z" fill="#3255ae"/><path d="M77.8 140.1L79.4 143L80 143.9L78.5 140.8Z" fill="#8da3c8"/><path d="M62.6 136.8L64.1 141.2L64.9 139.4L63.3 134.8Z" fill="#c8d2e4"/><path d="M115.7 151.4L117.4 150.9L118 150.9L116.3 151.6Z" fill="#24439e"/><path d="M47 148.4L48.7 150L49.5 148.3L47.8 146.7Z" fill="#759bd7"/><path d="M101.1 152.7L102.8 151.9L103.3 150L101.8 152.7Z" fill="#2e4fa7"/><path d="M31.4 156.2L33 158.6L33.8 158.4L32.2 155.4Z" fill="#395fb9"/><path d="M86.3 147.4L87.9 150.9L88.5 151.3L86.9 148.8Z" fill="#4b75ca"/><path d="M71.1 136.1L72.8 137.4L73.5 137L71.9 135.2Z" fill="#d6dceb"/><path d="M55.9 141.8L57.5 141.6L58.2 138.9L56.5 139.8Z" fill="#c8d9f5"/><path d="M109.4 152.2L111.1 152L111.7 151.8L110.1 151Z" fill="#294aaa"/><path d="M40.3 152.5L41.9 153.1L42.7 152L41.1 150.2Z" fill="#5981cc"/><path d="M94.7 153.2L96.3 152L97 152L95.4 153.7Z" fill="#2d4ea5"/><path d="M24.5 157.7L26.1 160.5L26.9 159.8L25.3 157.3Z" fill="#3256b3"/><path d="M79.7 143.8L81.4 142.7L82.1 143.1L80.5 144.9Z" fill="#88a7d8"/><path d="M64.6 139.4L66.2 137.2L66.9 136.4L65.3 139Z" fill="#ced8eb"/><path d="M117.6 150.9L119.3 151.1L119.9 151L118.2 150.7Z" fill="#25439f"/><path d="M49.2 148.5L50.8 146.5L51.4 143.8L49.9 144.8Z" fill="#8ba8d7"/><path d="M103.1 150L104.6 153.6L105.3 153.4L103.8 150.3Z" fill="#2f51ae"/><path d="M33.5 158.4L35.2 156.6L35.9 156.3L34.1 157.7Z" fill="#385db7"/><path d="M88.2 151.2L89.9 149.9L90.6 150.1L88.9 151.2Z" fill="#446cc3"/><path d="M73.2 136.7L74.8 139.2L75.5 139.3L73.9 136.9Z" fill="#cedbf2"/><path d="M57.9 139L59.5 141.1L60.2 141.6L58.6 137.7Z" fill="#c1d0e8"/><path d="M111.3 151.8L112.9 152.9L113.6 151.4L112 150.6Z" fill="#2645a0"/><path d="M42.3 152.1L44 153.3L44.8 151.5L43.1 149.3Z" fill="#5d86cf"/><path d="M96.6 152.1L98.2 154.1L99 152.7L97.3 151.6Z" fill="#2d4ea7"/><path d="M26.5 159.7L28.3 159.8L29 158.6L27.3 158.7Z" fill="#3155b7"/><path d="M81.8 143L83.5 144.5L84 146.3L82.4 143.8Z" fill="#7d9fd5"/><path d="M66.6 136.4L68.1 139.3L68.9 138.4L67.3 135.8Z" fill="#d0d9ea"/><path d="M119.5 150.9L121.1 152.7L121.8 152.2L120.2 149.9Z" fill="#2342a1"/><path d="M51.1 143.9L52.7 147.1L53.5 145.8L51.9 141.6Z" fill="#9fb9e4"/><path d="M104.9 153.2L106.6 153.5L107.3 152.6L105.6 152.4Z" fill="#24439e"/><path d="M35.5 156.5L37.3 156.2L38 155.6L36.2 155.4Z" fill="#3e63b8"/><path d="M90.2 150L91.8 152.3L92.4 153.4L90.8 151Z" fill="#3a60b8"/><path d="M19.6 160.3L21.5 159.7L22.1 159.1L20.3 159.9Z" fill="#2d4fab"/><path d="M75.1 139L76.9 139.7L77.5 140.7L75.8 139.4Z" fill="#bdcfee"/><path d="M59.9 141.6L61.5 143.1L62.2 139.3L60.7 137Z" fill="#c0cfea"/><path d="M113.2 151.4L114.9 152L115.5 152.1L113.8 151.6Z" fill="#2544a0"/><path d="M44.3 151.5L46 152.6L46.8 150.5L45.1 150.3Z" fill="#5e87d0"/><path d="M98.5 152.8L100.3 152.2L100.9 151.6L99.3 153.3Z" fill="#2f51ad"/><path d="M28.6 158.8L30.5 158L31.1 157.5L29.3 158Z" fill="#2f4fa0"/><path d="M83.7 146L85.3 146L86 147.5L84.4 147.5Z" fill="#6188c9"/><path d="M68.6 138.4L70.3 137.3L70.8 134.9L69.3 138.4Z" fill="#d1d8e8"/><path d="M121.4 152.1L123.1 152L123.7 151.5L122 151.2Z" fill="#22409b"/><path d="M53.2 145.9L54.8 146.3L55.5 143.1L54 142.5Z" fill="#9db6e0"/><path d="M106.9 152.7L108.6 152.9L109.2 151.7L107.5 152Z" fill="#2849a6"/><path d="M37.6 155.8L39.3 154.7L40 153.3L38.3 153.5Z" fill="#4971c5"/><path d="M92.1 153.2L93.7 154.3L94.5 152.7L92.8 152.4Z" fill="#2f51aa"/><path d="M21.7 159.2L23.4 160.4L24.2 159L22.5 158.4Z" fill="#2f51aa"/><path d="M77.2 140.4L78.8 142.5L79.4 143L77.9 140.1Z" fill="#afc6ee"/><path d="M61.9 139.3L63.5 141.6L64.2 141.1L62.7 136.8Z" fill="#c2d1e9"/><path d="M115.1 152.1L116.8 151.9L117.4 150.9L115.7 151.3Z" fill="#2544a0"/><path d="M46.4 150.7L48 151.9L48.9 149.7L47.2 148.2Z" fill="#6993d8"/><path d="M100.5 151.7L102.2 151.3L102.8 151.8L101.2 152.8Z" fill="#3154ae"/><path d="M30.7 157.5L32.4 159.8L33.2 158.5L31.5 156.1Z" fill="#3153a5"/><path d="M85.7 147.2L87.3 150L87.9 150.9L86.4 147.4Z" fill="#527bc8"/><path d="M70.6 134.9L72.1 138.4L72.9 137.3L71.2 136Z" fill="#d7ddeb"/><path d="M55.2 143.4L56.9 143.3L57.6 141.2L55.9 141.4Z" fill="#b0c4e5"/><path d="M108.8 151.8L110.5 152.4L111.1 151.9L109.4 152.2Z" fill="#294aa7"/><path d="M39.6 153.5L41.3 154.2L42.1 152.8L40.4 152.2Z" fill="#517ac8"/><path d="M94.1 152.8L95.7 151.7L96.4 152.1L94.8 153.3Z" fill="#3255ad"/><path d="M23.8 159L25.5 161.6L26.3 160.4L24.6 157.6Z" fill="#2e50ac"/><path d="M79.1 142.8L80.7 141.8L81.5 142.9L79.8 144Z" fill="#98b3e0"/><path d="M64 141.1L65.6 140.5L66.2 137.2L64.5 139.1Z" fill="#c8d6ef"/><path d="M117 151L118.7 151.6L119.3 151L117.6 150.8Z" fill="#2646a2"/><path d="M48.5 149.9L50.2 147.4L50.8 146.2L49.1 148.5Z" fill="#7b9ed7"/><path d="M102.4 151.7L104 153.9L104.7 153.5L103.2 149.9Z" fill="#2c4da6"/><path d="M32.8 158.5L34.6 157.4L35.2 156.6L33.5 158.5Z" fill="#3558af"/><path d="M87.6 150.8L89.2 148.4L90 150.1L88.3 151.3Z" fill="#476ec1"/><path d="M72.6 137L74.1 139.9L74.9 139.1L73.3 136.7Z" fill="#c6d2e7"/><path d="M57.2 141.4L58.8 143.4L59.6 140.9L58 138.9Z" fill="#b5c5e1"/><path d="M110.7 151.8L112.4 152.5L113 152.7L111.4 151.7Z" fill="#2747a6"/><path d="M41.6 152.9L43.3 154.1L44.1 153.1L42.4 151.8Z" fill="#5178c5"/><path d="M96 152L97.7 153.3L98.3 154.1L96.7 152Z" fill="#2f51aa"/><path d="M25.9 160.3L27.7 160.1L28.4 159.6L26.6 159.5Z" fill="#2a4ba5"/><path d="M81.1 142.7L82.7 145.3L83.4 144.6L81.8 143Z" fill="#88a7d9"/><path d="M65.9 137.3L67.5 139.7L68.3 139.2L66.7 136.4Z" fill="#d2dbee"/><path d="M119 150.9L120.5 153.2L121.2 152.6L119.6 150.8Z" fill="#22409c"/><path d="M50.5 146.3L52.1 150.1L52.9 146.9L51.3 143.8Z" fill="#83a2d4"/><path d="M104.3 153.4L106.1 152.8L106.7 153.4L104.9 153.2Z" fill="#2646a4"/><path d="M34.8 156.8L36.5 157.7L37.3 156L35.5 156.3Z" fill="#3a5fb3"/><path d="M89.6 149.9L91.2 152.4L91.9 152.3L90.3 150Z" fill="#4168c0"/><path d="M18.9 160L20.8 159.9L21.5 159.7L19.6 160.4Z" fill="#2a499e"/><path d="M74.5 138.9L76.2 140L76.9 139.7L75.1 139Z" fill="#bac9e4"/><path d="M59.3 140.8L60.9 143L61.6 143L60 141.2Z" fill="#b8cced"/><path d="M112.6 152.7L114.3 152.8L115 151.8L113.3 151.3Z" fill="#24439e"/><path d="M43.7 153.1L45.4 154L46.2 152.3L44.5 151.3Z" fill="#5179c3"/><path d="M98 154.1L99.7 152.5L100.3 152.1L98.6 152.6Z" fill="#2e50aa"/><path d="M28 159.8L29.8 158.7L30.4 157.9L28.6 158.6Z" fill="#3052a8"/><path d="M83.1 144.3L84.8 145.4L85.4 146.3L83.7 146.3Z" fill="#7499d4"/><path d="M67.9 139.2L69.6 138.9L70.2 137.1L68.5 138.3Z" fill="#c2ccde"/><path d="M120.8 152.6L122.5 152.4L123.1 151.8L121.4 152Z" fill="#223f9a"/><path d="M52.5 146.9L54.1 148.8L54.9 146L53.3 145.5Z" fill="#83a2d4"/><path d="M106.3 153.4L108 152.8L108.6 152.7L106.9 152.5Z" fill="#2646a3"/><path d="M36.9 156.2L38.7 155.6L39.3 154.4L37.6 155.8Z" fill="#446cc2"/><path d="M91.5 152L93.2 152.8L93.8 154.2L92.1 153.3Z" fill="#3153a9"/><path d="M21 159.7L22.8 160.4L23.5 160.3L21.8 159Z" fill="#2f52b0"/><path d="M76.6 139.5L78.1 142.7L78.8 142.5L77.2 140.3Z" fill="#a9bde0"/><path d="M61.3 143L62.9 144.1L63.7 141.3L62 139.2Z" fill="#a8bad9"/><path d="M114.5 151.9L116.2 151.5L116.9 151.8L115.1 152.1Z" fill="#223f94"/><path d="M45.8 152.5L47.5 152.6L48.2 151.7L46.5 150.4Z" fill="#5e88d3"/><path d="M99.9 152.4L101.5 150.6L102.2 151.4L100.5 151.8Z" fill="#3559b1"/><path d="M30.1 157.9L31.7 160.9L32.5 159.7L30.8 157.4Z" fill="#2f51a8"/><path d="M85.1 146L86.7 149.1L87.3 150L85.7 147.2Z" fill="#5980c6"/><path d="M69.9 137.3L71.5 138.4L72.2 138.3L70.7 134.9Z" fill="#d1d7e6"/><path d="M122.7 151.9L124.4 152.3L125 151.3L123.3 151.4Z" fill="#2343a2"/><path d="M54.6 146.3L56.2 145.4L56.9 142.9L55.3 143.1Z" fill="#9fb7df"/><path d="M108.2 152.8L109.9 152.5L110.5 152.3L108.9 151.7Z" fill="#2b4cac"/><path d="M38.9 154.5L40.6 156.5L41.4 153.9L39.7 153.3Z" fill="#476fc0"/><path d="M93.5 154.3L95.2 152.3L95.8 151.7L94 152.7Z" fill="#2f50a2"/><path d="M23.1 160.2L24.9 161.3L25.6 161.5L23.9 158.8Z" fill="#2a4ba8"/><path d="M78.5 142.4L80.1 140.7L80.9 142L79.2 143Z" fill="#a1b8df"/><path d="M63.3 141.5L64.9 139.3L65.7 140.2L63.9 141.1Z" fill="#bfcfea"/><path d="M116.4 151.8L118.1 152.5L118.8 151.4L117.1 150.8Z" fill="#2747a7"/><path d="M47.9 151.9L49.6 150.3L50.1 147.4L48.4 149.7Z" fill="#6890cf"/><path d="M101.9 151.3L103.4 154.2L104.1 153.8L102.5 151.6Z" fill="#2e50ad"/><path d="M32.1 159.7L33.9 159.2L34.5 157.4L32.8 158.3Z" fill="#3255ad"/><path d="M87 149.9L88.6 148.5L89.3 148.5L87.7 150.9Z" fill="#4d74c0"/><path d="M71.9 138L73.5 141.1L74.3 139.9L72.7 137Z" fill="#cbd9f2"/><path d="M56.5 143.1L58.2 144.8L59 143.2L57.4 141.2Z" fill="#a9bee0"/><path d="M110.1 152.3L111.8 152.8L112.5 152.4L110.8 151.7Z" fill="#2949a8"/><path d="M41 154L42.7 156.1L43.5 153.9L41.8 152.7Z" fill="#4c75c9"/><path d="M95.4 151.7L97.2 152.3L97.7 153.3L96 152.1Z" fill="#3558b1"/><path d="M25.2 161.5L27 161.3L27.7 159.9L25.9 160.1Z" fill="#2848a5"/><path d="M80.5 141.8L82.2 143.9L82.7 145.3L81.2 142.7Z" fill="#94b1e0"/><path d="M65.3 140.4L66.9 141.7L67.7 139.4L66.1 137.2Z" fill="#c6d4ec"/><path d="M118.4 151.3L119.9 153.3L120.6 153.1L119.1 150.8Z" fill="#2342a0"/><path d="M49.9 147.4L51.5 151.3L52.2 150L50.6 146.2Z" fill="#7498d2"/><path d="M103.7 153.7L105.4 154.1L106.1 152.8L104.3 153.3Z" fill="#2646a3"/><path d="M34.2 157.6L35.9 158.2L36.7 157.6L34.9 156.6Z" fill="#375baf"/><path d="M89 148.4L90.6 152.1L91.2 152.4L89.6 149.9Z" fill="#456cbf"/><path d="M18.3 158.9L20 158.2L20.8 160L19 160.2Z" fill="#3357b1"/><path d="M73.9 139.7L75.5 141L76.3 139.8L74.6 138.8Z" fill="#bacae5"/><path d="M58.6 143.3L60.2 144.2L61 142.9L59.4 140.7Z" fill="#adc1e2"/><path d="M112 152.4L113.7 153.1L114.4 152.6L112.6 152.6Z" fill="#23419b"/><path d="M43 154L44.8 154.4L45.5 153.8L43.8 152.9Z" fill="#4f78c8"/><path d="M97.3 153.1L99 152.5L99.7 152.5L98.1 154.1Z" fill="#2e4fa6"/><path d="M27.3 160.1L29.1 159.3L29.8 158.6L28 159.8Z" fill="#3052ad"/><path d="M82.4 145.1L84.2 145.1L84.8 145.6L83.1 144.3Z" fill="#84a7e0"/><path d="M67.3 139.5L69 139.4L69.7 138.6L67.9 139Z" fill="#cedaf1"/><path d="M120.2 153.1L121.9 152.2L122.6 152.3L120.8 152.5Z" fill="#203d94"/><path d="M51.9 150L53.6 149.2L54.3 148.6L52.7 146.7Z" fill="#769ad5"/><path d="M105.7 152.9L107.4 153.7L108 152.7L106.3 153.4Z" fill="#2848a6"/><path d="M36.3 157.7L38 156.8L38.7 155.4L36.9 155.9Z" fill="#3e64b8"/><path d="M90.9 152.1L92.6 153.2L93.3 153L91.6 152Z" fill="#3a5fba"/><path d="M20.4 159.9L22.2 160L22.9 160.3L21.1 159.6Z" fill="#2f52ad"/><path d="M75.9 139.7L77.5 142.2L78.2 142.7L76.6 139.5Z" fill="#b4c8e9"/><path d="M60.6 142.7L62.2 145.5L63 143.9L61.4 142.7Z" fill="#a3bae0"/><path d="M113.9 152.7L115.6 153.1L116.2 151.5L114.6 151.7Z" fill="#24439d"/><path d="M45.1 153.9L46.8 154.8L47.5 152.2L45.9 152.2Z" fill="#5077c4"/><path d="M99.3 152.8L101 151.9L101.6 150.7L99.9 152.4Z" fill="#3659b2"/><path d="M29.4 158.6L31.1 161.1L31.8 160.8L30.2 157.8Z" fill="#2f51ac"/><path d="M84.5 145.3L86 148.4L86.7 149.1L85.1 146Z" fill="#668fd1"/><path d="M69.3 138.8L70.9 140.1L71.7 138.1L70 137Z" fill="#ced8ec"/><path d="M122.1 152.4L123.8 151.7L124.4 152.1L122.7 151.8Z" fill="#22409c"/><path d="M54 148.8L55.6 148.2L56.2 145L54.7 145.9Z" fill="#88a8db"/><path d="M107.6 152.9L109.3 152.3L109.9 152.4L108.2 152.8Z" fill="#27469c"/><path d="M38.3 155.5L40 156.2L40.7 156.4L39.1 154.3Z" fill="#4268b9"/><path d="M92.8 152.9L94.5 151.2L95.2 152.4L93.6 154.3Z" fill="#3558ae"/><path d="M22.5 160.1L24.2 161.9L25 161.2L23.2 160Z" fill="#2848a2"/><path d="M77.9 142.6L79.6 142L80.2 140.8L78.5 142.5Z" fill="#a6bce1"/><path d="M62.7 144.1L64.3 143.2L64.9 139.3L63.3 141.2Z" fill="#b4c6e6"/><path d="M115.8 151.5L117.6 152L118.2 152.4L116.4 151.7Z" fill="#24439c"/><path d="M47.2 152.5L48.9 152.3L49.5 150L47.8 151.7Z" fill="#5f88cf"/><path d="M101.3 150.7L102.8 154.4L103.5 154.1L102 151.3Z" fill="#3052ac"/><path d="M31.5 160.8L33.3 159.9L33.9 158.9L32.1 159.5Z" fill="#2a4a9f"/><path d="M86.3 149L88 147.8L88.7 148.7L87.1 150Z" fill="#567ec8"/><path d="M71.3 138L72.9 141.3L73.6 141L72 137.9Z" fill="#bfcde5"/><path d="M124 152.1L125.6 153.2L126.3 152.2L124.7 151.2Z" fill="#2443a4"/><path d="M55.9 145.2L57.6 147.5L58.4 144.5L56.7 142.9Z" fill="#99b2dc"/><path d="M109.5 152.3L111.2 153.7L111.9 152.6L110.2 152.1Z" fill="#2746a0"/><path d="M40.3 156.4L42 157.9L42.8 155.9L41.2 153.8Z" fill="#4167bc"/><path d="M94.8 152.4L96.4 153.9L97.2 152.3L95.5 151.7Z" fill="#3559b1"/><path d="M24.5 161.1L26.4 161.1L27.1 161.1L25.2 161.4Z" fill="#2645a0"/><path d="M79.9 140.7L81.5 143.4L82.1 143.9L80.5 141.8Z" fill="#a8c1eb"/><path d="M64.7 139.3L66.2 143.7L67 141.6L65.4 140.1Z" fill="#bdceeb"/><path d="M117.7 152.3L119.4 153.2L120 153.2L118.5 151.2Z" fill="#2342a0"/><path d="M49.2 150.1L50.8 153.1L51.6 151.2L50 147.4Z" fill="#6993d6"/><path d="M103.1 154L104.9 154.3L105.5 154L103.8 153.5Z" fill="#24429b"/><path d="M33.5 159.1L35.2 159.2L36 157.9L34.3 157.3Z" fill="#385eba"/><path d="M88.4 148.5L90 150.7L90.6 152L89.1 148.4Z" fill="#4e77c8"/><path d="M17.6 159.9L19.4 158.2L20.1 158.4L18.3 159.1Z" fill="#395eb9"/><path d="M73.2 140.9L75 141L75.7 140.8L74 139.5Z" fill="#b6c7e4"/><path d="M57.9 144.6L59.6 146.4L60.4 143.9L58.7 143Z" fill="#a5bde6"/><path d="M111.4 152.6L113.1 153.7L113.8 153L112.1 152.2Z" fill="#2544a1"/><path d="M42.4 156L44.1 156.4L44.8 154.1L43.2 153.7Z" fill="#456cbd"/><path d="M96.7 152.3L98.5 152.5L99.1 152.6L97.4 153.3Z" fill="#375dbc"/><path d="M26.7 161.3L28.4 159.7L29.1 159.2L27.3 160Z" fill="#2e50ab"/><path d="M81.8 143.6L83.5 143.5L84.2 145.2L82.5 145.3Z" fill="#88a7d8"/><path d="M66.7 141.7L68.4 139.8L69 139.2L67.3 139.3Z" fill="#c8d6ef"/><path d="M119.7 153.2L121.3 152.2L122 152.3L120.3 153.1Z" fill="#2342a0"/><path d="M51.2 151.2L52.9 152.1L53.6 148.9L52 149.6Z" fill="#6892d6"/><path d="M105.1 154L106.8 154.2L107.4 153.5L105.8 152.8Z" fill="#2746a3"/><path d="M35.6 158.1L37.4 157.1L38 156.6L36.2 157.6Z" fill="#3d64bd"/><path d="M90.3 151.8L92 151.9L92.6 153.2L90.9 152.2Z" fill="#3e65bf"/><path d="M19.7 158.4L21.4 155.6L22.1 160.2L20.5 160.1Z" fill="#375bae"/><path d="M75.2 140.7L76.9 142.4L77.6 142.2L76 139.6Z" fill="#b1c4e4"/><path d="M60 143.9L61.6 146.6L62.4 145.4L60.8 142.6Z" fill="#9ab2d9"/><path d="M113.3 153L115.1 152.2L115.7 152.9L113.9 152.5Z" fill="#24439f"/><path d="M44.4 154.2L46.2 155.4L46.9 154.7L45.2 153.6Z" fill="#4d76cb"/><path d="M98.7 152.8L100.3 151.1L101 151.9L99.4 152.8Z" fill="#385cb6"/><path d="M28.7 159.2L30.4 162.2L31.2 161L29.5 158.5Z" fill="#2b4aa2"/><path d="M83.9 144.9L85.4 147.4L86.1 148.3L84.5 145.3Z" fill="#6f94d1"/><path d="M68.6 139.2L70.3 141.2L71.1 139.9L69.4 138.5Z" fill="#cfddf5"/><path d="M121.5 152.4L123.3 152.3L123.9 151.8L122.1 152.4Z" fill="#213f9a"/><path d="M53.2 149.1L54.9 150.2L55.7 147.8L53.9 148.5Z" fill="#7499d3"/><path d="M107 153.6L108.8 152.7L109.3 152.3L107.6 152.8Z" fill="#2a4ba6"/><path d="M37.6 156.7L39.3 157.4L40.1 156L38.4 155.3Z" fill="#3d61b1"/><path d="M92.3 153.2L93.9 150.6L94.6 151.3L93 153.1Z" fill="#3e64bc"/><path d="M21.8 159.8L23.5 162.1L24.3 161.8L22.6 160.1Z" fill="#2a4ba6"/><path d="M77.2 142.1L78.9 141.2L79.6 142L77.9 142.7Z" fill="#adc3e8"/><path d="M62 145.4L63.8 144.4L64.3 142.8L62.6 143.7Z" fill="#9eb5da"/><path d="M115.3 153L117 152.7L117.6 151.9L115.9 151.4Z" fill="#25439d"/><path d="M46.6 154.8L48.2 152.2L48.9 152L47.2 152.2Z" fill="#547bc4"/><path d="M100.7 151.8L102.2 154.3L102.9 154.4L101.4 150.6Z" fill="#3154ae"/><path d="M30.8 161L32.5 159.3L33.3 159.8L31.5 160.8Z" fill="#2c4da7"/><path d="M85.7 148.2L87.4 146.9L88.1 148L86.5 149.1Z" fill="#6088cd"/><path d="M70.7 139.7L72.2 142.9L73 141.2L71.4 138Z" fill="#cbdcf8"/><path d="M123.5 151.7L125.1 153.5L125.7 153.1L124.1 152Z" fill="#2343a2"/><path d="M55.3 148.1L56.9 149.5L57.7 147.2L56.1 145Z" fill="#82a1d4"/><path d="M108.9 152.3L110.6 153.7L111.3 153.6L109.6 152.2Z" fill="#27469f"/><path d="M39.7 155.9L41.4 158.1L42.1 157.8L40.5 156.1Z" fill="#4067c2"/><path d="M94.3 151.2L96 152.7L96.5 153.9L94.8 152.4Z" fill="#385cb2"/><path d="M23.9 161.8L25.7 161.6L26.4 161.1L24.6 161Z" fill="#2849a8"/><path d="M79.2 141.9L80.8 145.1L81.6 143.3L80 140.7Z" fill="#a9c2eb"/><path d="M64 143L65.6 145.1L66.4 143.6L64.8 139.3Z" fill="#adc1e2"/><path d="M117.2 151.9L118.8 153.8L119.5 153.1L117.8 152.2Z" fill="#22409b"/><path d="M48.5 152.2L50.2 153.7L51 153L49.4 149.9Z" fill="#5b83cb"/><path d="M102.5 154.3L104.3 153.7L104.9 154.2L103.1 153.9Z" fill="#26459d"/><path d="M32.9 160L34.7 159.5L35.3 158.9L33.5 158.9Z" fill="#3051a8"/><path d="M87.8 147.9L89.3 150.9L90 150.7L88.4 148.5Z" fill="#5279c4"/><path d="M72.6 141.1L74.4 141.1L75 140.8L73.2 140.8Z" fill="#bfd1ef"/><path d="M57.3 147.3L58.9 149.3L59.7 146L58.1 144.3Z" fill="#89a7d7"/><path d="M110.8 153.5L112.6 153.1L113.2 153.6L111.5 152.5Z" fill="#25439e"/><path d="M41.8 157.8L43.5 157.2L44.2 156.1L42.5 155.7Z" fill="#3d62b7"/><path d="M96.2 153.8L97.8 152.2L98.5 152.5L96.8 152.2Z" fill="#3456ab"/><path d="M26 161.2L27.8 160.4L28.4 159.7L26.7 161.3Z" fill="#2d50ae"/><path d="M81.2 143.2L82.9 143.1L83.6 143.7L81.8 143.9Z" fill="#8da6ce"/><path d="M66.1 143.6L67.8 141.9L68.3 139.7L66.6 141.4Z" fill="#b6c7e4"/><path d="M119.1 153.1L120.8 152.9L121.4 152.2L119.7 153.2Z" fill="#23419f"/><path d="M50.6 152.9L52.2 154.1L53 151.8L51.4 150.9Z" fill="#547bc1"/><path d="M104.5 154.2L106.2 153.6L106.8 154.1L105.1 154Z" fill="#2747a3"/><path d="M34.9 159.1L36.6 159.2L37.3 157L35.6 157.9Z" fill="#395fba"/><path d="M89.7 150.3L91.4 151.6L92 152.1L90.3 152Z" fill="#4167b9"/><path d="M19 158.4L20.7 160.6L21.4 155.6L19.7 158.5Z" fill="#3d63b9"/><path d="M74.7 140.7L76.3 143.2L77 142.3L75.4 140.6Z" fill="#acbfdf"/><path d="M59.3 146.1L61 148.9L61.8 146.4L60.1 143.8Z" fill="#91afdf"/><path d="M112.8 153.7L114.5 152.8L115.1 152.3L113.3 153Z" fill="#2544a0"/><path d="M43.8 156.3L45.5 156.3L46.3 155.2L44.6 154Z" fill="#466dc1"/><path d="M98.1 152.7L99.7 150.3L100.4 151.2L98.8 152.8Z" fill="#3d64be"/><path d="M28.1 159.7L29.7 162.5L30.5 162.1L28.9 159.1Z" fill="#2a4ba7"/><path d="M83.3 143.5L84.8 147.9L85.5 147.3L83.9 144.9Z" fill="#80a4de"/><path d="M68 139.8L69.6 142.2L70.4 141L68.8 139.1Z" fill="#c8d7f1"/><path d="M121 152.3L122.7 152.3L123.3 152.3L121.5 152.4Z" fill="#213e96"/><path d="M52.7 152.1L54.4 151.1L55 149.8L53.4 148.8Z" fill="#6890d1"/><path d="M106.4 154.1L108 154.7L108.7 152.6L107 153.4Z" fill="#2747a4"/><path d="M37 157.2L38.7 158.2L39.5 157.2L37.7 156.5Z" fill="#3b5fb0"/><path d="M91.6 152L93.3 150.9L93.9 150.7L92.4 153.3Z" fill="#436bc3"/><path d="M21.3 155.6L22.8 161.6L23.5 162.1L21.8 160.1Z" fill="#3457b0"/><path d="M76.6 142.3L78.3 141.3L79 141.3L77.3 142.2Z" fill="#b2c6e8"/><path d="M61.4 146.5L63.1 144.8L63.7 144.2L62 145.3Z" fill="#96afd8"/><path d="M114.7 152.3L116.4 153.3L117 152.5L115.3 153Z" fill="#2544a0"/><path d="M45.9 155.4L47.7 153.9L48.2 152.2L46.6 154.8Z" fill="#4f78c7"/><path d="M100.1 151.1L101.6 154.7L102.3 154.3L100.8 151.7Z" fill="#3254ac"/><path d="M30.2 162.1L32 160.9L32.5 159.4L30.8 160.9Z" fill="#2a4aa5"/><path d="M85.1 147.1L86.8 146.6L87.5 147.1L85.9 148.3Z" fill="#6288c3"/><path d="M70 140.9L71.7 142.6L72.3 142.9L70.8 139.6Z" fill="#c1d4f3"/><path d="M122.9 152.2L124.5 153.4L125.1 153.4L123.6 151.6Z" fill="#213e97"/><path d="M54.6 150L56.3 151.1L57.1 149.2L55.4 147.8Z" fill="#698cc5"/><path d="M108.3 152.7L110 154L110.7 153.6L109 152.2Z" fill="#28479f"/><path d="M39 157.2L40.7 158.8L41.5 157.9L39.8 155.9Z" fill="#3a5fb3"/><path d="M93.6 150.7L95.2 153.1L95.9 152.7L94.3 151.2Z" fill="#3f66bc"/><path d="M23.2 162L25 162.1L25.7 161.5L23.9 161.7Z" fill="#25439c"/><path d="M78.7 141.2L80.3 143.5L80.9 145.1L79.3 141.8Z" fill="#a5bce3"/><path d="M63.3 144.4L65.1 144.8L65.8 145L64.1 142.7Z" fill="#a0b6db"/><path d="M116.6 152.5L118.2 154L118.9 153.8L117.3 151.8Z" fill="#2444a6"/><path d="M47.9 152.2L49.5 155.9L50.4 153.5L48.7 151.9Z" fill="#557dca"/><path d="M101.9 154.1L103.7 154.3L104.3 153.8L102.6 154.3Z" fill="#2b4dad"/><path d="M32.2 159.5L33.9 160.6L34.7 159.3L32.8 159.9Z" fill="#2f50a6"/><path d="M87.2 146.9L88.8 149.8L89.4 150.9L87.8 147.8Z" fill="#5d85ce"/><path d="M72.1 142.8L73.8 141.8L74.4 140.9L72.7 140.9Z" fill="#b2c3e1"/><path d="M56.7 149.4L58.4 149.6L59.1 149.2L57.5 147Z" fill="#7a9ed8"/><path d="M110.2 153.5L112 153.7L112.6 153.1L110.8 153.5Z" fill="#2746a4"/><path d="M41.1 157.9L42.8 158.9L43.5 157L41.8 157.6Z" fill="#3759ac"/><path d="M95.5 152.6L97.2 151.9L97.9 152.2L96.3 153.9Z" fill="#375aae"/><path d="M25.3 161.7L27 160.1L27.8 160.4L26 161.2Z" fill="#2a4aa1"/><path d="M80.6 145.1L82.4 143.8L82.9 143.1L81.3 143Z" fill="#91aad4"/><path d="M65.5 145.1L67.1 142.9L67.7 141.7L66 143.5Z" fill="#a9bddf"/><path d="M118.5 153.8L120.1 152.3L120.8 152.8L119.1 153Z" fill="#213e98"/><path d="M49.9 153.5L51.6 154.5L52.4 154L50.7 152.7Z" fill="#4d73bd"/><path d="M103.9 153.8L105.6 153.4L106.2 153.7L104.5 154.3Z" fill="#2a4aa5"/><path d="M34.3 159.5L36.1 158.6L36.8 159L34.9 158.9Z" fill="#365ab4"/><path d="M89.1 150.7L90.8 151.3L91.4 151.6L89.7 150.3Z" fill="#456cba"/><path d="M74.1 140.9L75.6 143.6L76.4 143.2L74.8 140.6Z" fill="#afc2e2"/><path d="M58.7 149.2L60.3 150.5L61.1 148.7L59.5 145.9Z" fill="#799dd5"/><path d="M112.2 153.1L113.9 152.6L114.5 152.8L112.8 153.7Z" fill="#2746a0"/><path d="M43.1 157.1L44.8 158.3L45.6 156L43.9 156Z" fill="#3d62b6"/><path d="M97.5 152.4L99.2 151.2L99.8 150.4L98.2 152.8Z" fill="#3f66bd"/><path d="M27.4 160.4L29.1 162.8L29.8 162.4L28.2 159.6Z" fill="#2a4ba8"/><path d="M82.7 143L84.2 146.8L84.8 147.9L83.3 143.5Z" fill="#88a9dd"/><path d="M67.4 141.9L69 142.7L69.8 142.1L68.2 139.7Z" fill="#bccde9"/><path d="M120.4 152.9L122.1 152.9L122.7 152.3L121 152.2Z" fill="#2444a5"/><path d="M52.1 154.1L53.7 153.4L54.3 150.7L52.7 151.7Z" fill="#5e88d4"/><path d="M105.8 153.7L107.4 152.6L108.1 154.6L106.4 154.2Z" fill="#2848a2"/><path d="M36.4 159.2L38 159.5L38.8 157.9L37.1 157Z" fill="#385db4"/><path d="M91 151.6L92.7 150.6L93.4 151.1L91.7 152.2Z" fill="#4770c6"/><path d="M20.5 160.5L22.2 158.2L22.8 161.6L21.3 155.6Z" fill="#395db1"/><path d="M76 143.1L77.7 143L78.3 141.3L76.6 142.1Z" fill="#afc4e7"/><path d="M60.8 148.9L62.5 147.1L63 144.8L61.4 146.2Z" fill="#8daadb"/><path d="M114.1 152.9L115.8 152.9L116.4 153.2L114.7 152.2Z" fill="#26459e"/><path d="M45.3 156.3L47 155L47.6 153.8L45.8 155.3Z" fill="#4870c1"/><path d="M99.5 150.3L101 154.3L101.7 154.7L100.2 151.1Z" fill="#3457ab"/><path d="M29.5 162.4L31.3 161.8L31.9 160.8L30.1 162.1Z" fill="#25449e"/><path d="M84.5 147.8L86.2 146.5L86.9 146.7L85.1 147.2Z" fill="#698dc6"/><path d="M69.4 142L71 143.3L71.8 142.4L70.1 140.7Z" fill="#c3d7f8"/><path d="M122.3 152.2L123.9 153.7L124.6 153.3L122.9 152.1Z" fill="#2443a3"/><path d="M54 150.8L55.6 153.4L56.4 150.8L54.8 149.7Z" fill="#6790d5"/><path d="M107.8 154.6L109.4 154.4L110.1 153.8L108.5 152.6Z" fill="#2747a3"/><path d="M38.4 157.9L40.1 159.7L40.9 158.6L39.2 157Z" fill="#3a60ba"/><path d="M93 151L94.7 152.6L95.3 153.1L93.7 150.6Z" fill="#446cc3"/><path d="M22.5 161.3L24.3 160.3L25 162.1L23.3 162.1Z" fill="#2c4daa"/><path d="M78 141.3L79.6 143.8L80.3 143.5L78.7 141.1Z" fill="#b0c6ea"/><path d="M62.7 144.9L64.4 147.7L65.1 144.5L63.5 144.1Z" fill="#97b0d9"/><path d="M116 153.1L117.6 154.3L118.3 153.9L116.7 152.4Z" fill="#22419e"/><path d="M47.3 153.9L48.9 156.5L49.7 155.8L48.1 152.2Z" fill="#4b73c1"/><path d="M101.4 154.6L103.1 154.6L103.7 154.2L102 154Z" fill="#28489f"/><path d="M31.5 161L33.3 161.1L34 160.4L32.3 159.3Z" fill="#2c4da3"/><path d="M86.6 146.6L88.1 150.1L88.8 149.8L87.2 146.9Z" fill="#638cd0"/><path d="M71.4 142.3L73.1 143.4L73.8 141.6L72 142.8Z" fill="#b7cbed"/><path d="M56.1 151L57.7 151.6L58.4 149.2L56.8 149.1Z" fill="#678cc8"/><path d="M109.7 153.8L111.3 154.4L112 153.6L110.3 153.4Z" fill="#2849a9"/><path d="M40.4 158.6L42.3 158.5L42.9 158.7L41.2 157.7Z" fill="#3a60bb"/><path d="M95 153L96.6 151.3L97.3 152.1L95.6 152.8Z" fill="#3d62b6"/><path d="M24.7 162.1L26.5 161L27.1 160.1L25.3 161.7Z" fill="#2b4ca4"/><path d="M79.9 143.3L81.6 142.1L82.4 143.8L80.7 145.1Z" fill="#9eb7df"/><path d="M64.7 144.7L66.5 144.7L67.1 142.9L65.5 145.1Z" fill="#abc2e9"/><path d="M117.9 153.9L119.6 153.7L120.2 152.4L118.5 153.8Z" fill="#223f9a"/><path d="M49.3 155.8L51 156.2L51.7 154.2L50.1 153.3Z" fill="#476ebc"/><path d="M103.3 154.3L105.1 153.7L105.6 153.5L103.9 153.8Z" fill="#2d4ea9"/><path d="M33.7 160.6L35.4 158.9L36.1 158.6L34.3 159.4Z" fill="#3153a5"/><path d="M88.5 149.4L90.2 150.7L90.8 151.4L89.1 150.8Z" fill="#4f77c6"/><path d="M73.4 141.6L75 144.6L75.7 143.5L74.2 140.8Z" fill="#b5caed"/><path d="M58.1 149.2L59.7 152.4L60.5 150.3L58.8 148.9Z" fill="#6b93d3"/><path d="M111.6 153.7L113.2 154L113.9 152.6L112.2 153Z" fill="#2949a6"/><path d="M42.5 158.8L44.3 158.3L45 158.1L43.3 156.9Z" fill="#3a60b8"/><path d="M96.9 152.2L98.5 150.4L99.2 151.3L97.6 152.5Z" fill="#4269bf"/><path d="M26.8 160.1L28.4 163.2L29.2 162.7L27.5 160.3Z" fill="#2949a4"/><path d="M82 143.6L83.5 147.5L84.2 146.8L82.7 143Z" fill="#87a4d4"/><path d="M66.8 143L68.4 146.6L69.1 142.4L67.5 141.6Z" fill="#acc1e3"/><path d="M119.8 152.5L121.5 153.1L122.1 152.8L120.4 152.9Z" fill="#23419d"/><path d="M51.3 154.4L53.1 154.1L53.8 153.1L52 153.9Z" fill="#547ecd"/><path d="M105.2 153.6L106.9 154.2L107.5 152.6L105.8 153.8Z" fill="#2f52b0"/><path d="M35.7 158.7L37.4 160.1L38.2 159.3L36.3 158.9Z" fill="#365ab3"/><path d="M90.4 151.3L92.1 150.6L92.8 150.7L91.1 151.7Z" fill="#486fbe"/><path d="M75.4 143.5L77.1 142.5L77.8 142.8L76 143Z" fill="#a7bcdf"/><path d="M60.2 150.5L61.9 148.6L62.4 146.8L60.7 148.7Z" fill="#7a9dd4"/><path d="M113.5 152.7L115.2 153.4L115.8 152.9L114.1 152.8Z" fill="#2b4cab"/><path d="M44.6 158.3L46.4 156.8L46.9 154.9L45.3 156Z" fill="#436abf"/><path d="M98.9 151.2L100.4 154.2L101.1 154.2L99.6 150.3Z" fill="#3a5fb5"/><path d="M28.8 162.6L30.6 162.1L31.3 161.7L29.5 162.3Z" fill="#24429c"/><path d="M83.9 146.6L85.6 145.5L86.3 146.7L84.6 147.9Z" fill="#7ca0da"/><path d="M68.8 142.4L70.4 145.7L71.2 143L69.5 141.8Z" fill="#b0c4e7"/><path d="M121.7 152.7L123.3 155L124 153.6L122.4 152.1Z" fill="#22409c"/><path d="M53.4 153.3L55.1 153.6L55.8 153.3L54.2 150.7Z" fill="#5a82ca"/><path d="M107.2 152.6L108.9 153.6L109.5 154.4L107.8 154.7Z" fill="#2c4ead"/><path d="M37.7 159.3L39.4 160.9L40.2 159.5L38.5 157.8Z" fill="#3457af"/><path d="M92.4 150.6L94.1 151.1L94.7 152.5L93 151Z" fill="#4a73ca"/><path d="M22 158.2L23.6 161.6L24.4 160.5L22.7 161.6Z" fill="#355ab5"/><path d="M77.4 142.8L79 145.2L79.7 143.7L78.1 141.2Z" fill="#a7bde3"/><path d="M62.1 147L63.7 149L64.5 147.5L62.9 144.7Z" fill="#90aee0"/><path d="M115.4 152.7L117 154.7L117.7 154.2L116.1 153Z" fill="#23419c"/><path d="M46.6 154.9L48.3 157.9L49.1 156.4L47.4 153.8Z" fill="#456bbc"/><path d="M100.8 154L102.5 154L103.1 154.5L101.4 154.6Z" fill="#2c4da7"/><path d="M30.9 161.9L32.7 161.3L33.4 160.8L31.6 160.8Z" fill="#2a4aa1"/><path d="M85.9 146.5L87.6 148.5L88.1 150.1L86.6 146.6Z" fill="#6a93d3"/><path d="M70.7 143.1L72.5 143.7L73.2 143.2L71.5 142.2Z" fill="#b0c4e6"/><path d="M55.4 153.3L57.1 153.6L57.8 151.3L56.2 150.7Z" fill="#5f87cf"/><path d="M109.1 154.3L110.8 154.9L111.4 154.2L109.7 153.6Z" fill="#2646a4"/><path d="M39.8 159.6L41.5 159.9L42.3 158.4L40.5 158.4Z" fill="#3151a1"/><path d="M94.3 152.5L96 151.2L96.7 151.3L95.1 153.1Z" fill="#4269be"/><path d="M24 160.5L25.7 158.8L26.5 161.1L24.8 162.2Z" fill="#2f50a4"/><path d="M79.3 143.7L81.1 143.8L81.7 142.2L79.9 143.4Z" fill="#a7bde3"/><path d="M64.2 147.6L65.8 146.6L66.5 144.4L64.9 144.4Z" fill="#96afd8"/><path d="M117.3 154.2L119.1 154L119.6 153.6L117.9 153.7Z" fill="#22409c"/><path d="M48.6 156.3L50.4 156.5L51.1 156L49.4 155.5Z" fill="#4770c6"/><path d="M102.7 154.6L104.5 154.2L105 153.7L103.3 154.2Z" fill="#2a4a9f"/><path d="M33 161L34.7 159.2L35.4 158.9L33.7 160.6Z" fill="#3357b0"/><path d="M87.8 149.8L89.6 150.5L90.2 150.8L88.5 149.4Z" fill="#557dc7"/><path d="M72.7 143.1L74.4 144.4L75.1 144.5L73.5 141.5Z" fill="#a2b5d7"/><path d="M57.4 151.4L59.1 153.7L59.8 152.3L58.2 149.1Z" fill="#638cd1"/><path d="M111 154.3L112.7 153.1L113.3 153.9L111.6 153.6Z" fill="#2847a2"/><path d="M41.9 158.4L43.5 160.2L44.3 158.1L42.5 158.6Z" fill="#3659b0"/><path d="M96.3 151.5L98 151.1L98.6 150.5L97 152.3Z" fill="#4369bb"/><path d="M26.1 160.9L27.7 163.5L28.5 163.2L26.9 160Z" fill="#2d50b3"/><path d="M81.4 142.1L82.9 146.8L83.6 147.5L82.1 143.6Z" fill="#8fabd9"/><path d="M66.1 144.5L67.8 146L68.5 146.5L66.9 142.9Z" fill="#99afd4"/><path d="M119.2 153.7L120.9 153.7L121.5 152.9L119.9 152.3Z" fill="#224099"/><path d="M50.7 156.2L52.4 155.9L53.1 153.8L51.4 154.1Z" fill="#4a71c1"/><path d="M104.6 153.8L106.4 153.9L107 154L105.2 153.4Z" fill="#2d4ea7"/><path d="M35 158.9L36.7 160.7L37.5 160L35.8 158.6Z" fill="#3559b1"/><path d="M89.8 150.7L91.5 149.5L92.2 150.7L90.5 151.4Z" fill="#4e74bf"/><path d="M74.8 144.5L76.5 144L77.1 142.5L75.4 143.3Z" fill="#abc1e7"/><path d="M59.5 152.4L61.2 150.7L61.8 148.5L60.1 150.2Z" fill="#6990ce"/><path d="M112.9 154L114.6 153.7L115.3 153.2L113.6 152.5Z" fill="#27469d"/><path d="M43.9 158.4L45.7 157L46.3 156.6L44.6 158.3Z" fill="#3c61b5"/><path d="M98.3 150.4L99.9 153L100.5 154.2L98.9 151.2Z" fill="#3d63b7"/><path d="M28.2 163.1L29.9 161.8L30.6 162.1L28.8 162.6Z" fill="#2646a4"/><path d="M83.3 147.4L85 146L85.7 145.6L83.9 146.7Z" fill="#81a3da"/><path d="M68.2 146.5L69.8 147.5L70.6 145.5L68.9 142.3Z" fill="#9ab3dc"/><path d="M121.1 152.9L122.9 153.5L123.4 155L121.8 152.6Z" fill="#22409c"/><path d="M52.7 154L54.4 155.3L55.2 153.3L53.5 153Z" fill="#537bc8"/><path d="M106.6 154.1L108.2 154.4L108.9 153.7L107.3 152.6Z" fill="#3054b3"/><path d="M37.1 159.9L38.8 161.7L39.6 160.8L37.9 159.1Z" fill="#2f50a8"/><path d="M91.8 150.6L93.4 152.3L94.1 151.2L92.4 150.6Z" fill="#4b74c6"/><path d="M76.8 142.5L78.4 145.5L79.1 145.2L77.5 142.6Z" fill="#a7bee6"/><path d="M61.5 148.6L63.1 150.9L63.9 148.8L62.3 146.8Z" fill="#799ad0"/><path d="M114.9 153.1L116.4 155.8L117.1 154.6L115.6 152.7Z" fill="#23419e"/><path d="M46 156.6L47.6 158.9L48.4 157.8L46.8 154.8Z" fill="#4167bc"/><path d="M100.2 153.9L101.9 154.7L102.5 154.1L100.8 154Z" fill="#3051a9"/><path d="M30.2 162.2L32 162L32.7 161.1L30.9 161.7Z" fill="#2a4ba7"/><path d="M85.4 145.6L86.9 148.4L87.6 148.5L86 146.5Z" fill="#789eda"/><path d="M70.2 145.6L71.8 145.4L72.5 143.4L70.9 142.9Z" fill="#acc3ea"/><path d="M54.7 153.4L56.4 154.6L57.2 153.3L55.5 153Z" fill="#547cc6"/><path d="M108.5 153.6L110.2 153.8L110.8 154.8L109.1 154.3Z" fill="#2949a4"/><path d="M39.2 160.8L40.9 160.7L41.6 159.6L39.9 159.3Z" fill="#3459b8"/><path d="M93.7 151.1L95.5 151.1L96.1 151.3L94.4 152.6Z" fill="#446aba"/><path d="M23.4 161.6L25 157.4L25.8 158.9L24.1 160.7Z" fill="#3a5fb6"/><path d="M78.8 145.2L80.5 144.6L81.1 143.5L79.4 143.4Z" fill="#a4bde6"/><path d="M63.6 148.9L65.2 147L65.9 146.3L64.1 147.4Z" fill="#8ba9db"/><path d="M116.7 154.6L118.5 154.5L119.1 153.8L117.3 154.1Z" fill="#23419f"/><path d="M48 157.8L49.7 157.9L50.4 156.2L48.8 156.1Z" fill="#4167bc"/><path d="M102.1 154.1L103.9 154L104.5 154.2L102.7 154.6Z" fill="#3052ae"/><path d="M32.3 161.4L34.1 159.8L34.7 159.2L33 161.1Z" fill="#3458b5"/><path d="M87.3 148.2L89 149.4L89.6 150.5L87.9 150Z" fill="#5d84ca"/><path d="M72.2 143.4L73.8 146.1L74.6 144.2L72.9 143Z" fill="#a7bee4"/><path d="M56.8 153.4L58.4 155.1L59.2 153.6L57.6 151.2Z" fill="#567ec8"/><path d="M110.4 154.8L112.2 154.3L112.7 153.1L111 154.3Z" fill="#2747a0"/><path d="M41.2 159.7L43 159.7L43.7 160.1L42 158.3Z" fill="#3559b1"/><path d="M95.7 151.4L97.4 150.8L98 151.1L96.3 151.6Z" fill="#456bbb"/><path d="M25.5 158.8L27.1 159.6L27.8 163.5L26.1 161.2Z" fill="#3357b2"/><path d="M80.8 143.5L82.3 148.4L83 146.7L81.5 142.1Z" fill="#9bb8e8"/><path d="M65.5 146.5L67.1 148.1L67.9 145.7L66.3 144.4Z" fill="#a0bbe9"/><path d="M118.6 154L120.4 154L121 153.5L119.2 153.5Z" fill="#2342a2"/><path d="M50 156.4L51.8 157.1L52.5 155.6L50.7 155.9Z" fill="#4269b9"/><path d="M104 154.2L105.8 154.4L106.4 153.9L104.7 153.6Z" fill="#3154b2"/><path d="M34.4 159.3L36.1 160.3L36.8 160.7L35.1 158.8Z" fill="#3558ae"/><path d="M89.2 150.4L90.9 149.5L91.6 149.7L89.9 150.8Z" fill="#577fc8"/><path d="M74.1 144.2L75.9 144.7L76.5 143.8L74.7 144.4Z" fill="#aec6ee"/><path d="M58.9 153.7L60.6 152L61.2 150.4L59.4 152.2Z" fill="#5c83c6"/><path d="M112.3 153.2L114 154.4L114.7 153.5L112.9 153.9Z" fill="#2a4ba8"/><path d="M43.3 160.2L45.1 158.4L45.7 157L43.9 158.1Z" fill="#3b60b7"/><path d="M97.7 151L99.2 154.4L100 153L98.4 150.4Z" fill="#4066ba"/><path d="M27.5 163.4L29.3 162.8L29.9 161.9L28.2 163.1Z" fill="#24429b"/><path d="M82.7 146.6L84.3 144.5L85.1 146.1L83.4 147.5Z" fill="#88a8db"/><path d="M67.5 145.6L69.2 147.1L69.9 147.4L68.1 146.2Z" fill="#90acd9"/><path d="M120.5 153.5L122.1 154.9L122.9 153.5L121.2 152.8Z" fill="#2342a1"/><path d="M52.1 155.8L53.7 157L54.5 155L52.9 153.8Z" fill="#4c76ca"/><path d="M106 153.8L107.6 154.9L108.3 154.3L106.6 153.9Z" fill="#2a4aa0"/><path d="M36.4 160.5L38.2 161.3L38.9 161.6L37.2 159.7Z" fill="#2e50a8"/><path d="M91.2 149.6L92.9 150.9L93.5 152.3L91.8 150.6Z" fill="#4f77c3"/><path d="M76.1 143.8L77.8 145.3L78.5 145.5L76.9 142.5Z" fill="#9eb4d9"/><path d="M60.8 150.6L62.5 152.2L63.3 150.7L61.6 148.4Z" fill="#6a8fca"/><path d="M114.3 153.4L115.9 155.3L116.5 155.8L115 153.1Z" fill="#23429e"/><path d="M45.4 157L47 159.4L47.7 158.9L46.1 156.5Z" fill="#3d62b7"/><path d="M99.6 152.7L101.3 154.3L101.9 154.7L100.2 154Z" fill="#3254a8"/><path d="M29.6 162L31.3 162.7L32.1 161.9L30.2 162.1Z" fill="#2848a1"/><path d="M84.7 146L86.3 149.7L87 148.3L85.4 145.5Z" fill="#799dd8"/><path d="M69.6 147.4L71.2 147.4L71.9 145L70.2 145.3Z" fill="#8fa9d5"/><path d="M54.1 155.2L55.8 155.6L56.6 154.4L54.9 153.2Z" fill="#4d74c0"/><path d="M107.9 154.3L109.6 154.4L110.2 153.9L108.5 153.5Z" fill="#2e51af"/><path d="M38.5 161.6L40.3 160.9L41 160.5L39.2 160.6Z" fill="#2f52b0"/><path d="M93.1 152.2L94.8 150.8L95.5 151.3L93.7 151.1Z" fill="#476db9"/><path d="M78.1 145.4L79.9 145.1L80.5 144.3L78.7 145.1Z" fill="#94add5"/><path d="M62.9 150.9L64.6 149.6L65.2 147L63.5 148.6Z" fill="#7ea0d8"/><path d="M116.2 155.7L117.9 154.4L118.5 154.3L116.8 154.4Z" fill="#213e96"/><path d="M47.4 158.8L49.1 159.2L49.8 157.6L48.1 157.5Z" fill="#3a5fb5"/><path d="M101.5 154.6L103.2 154.9L103.9 154L102.1 154Z" fill="#3051a9"/><path d="M31.7 162.1L33.5 161L34.1 159.8L32.3 161.3Z" fill="#3153ae"/><path d="M86.7 148L88.3 150.2L89 149.5L87.3 148.2Z" fill="#5d82bf"/><path d="M71.5 145.1L73.1 147.4L73.9 146L72.3 143.3Z" fill="#92aad0"/><path d="M56.1 154.4L57.8 156.1L58.6 154.9L56.9 153.2Z" fill="#4b72be"/><path d="M109.8 153.8L111.6 154.2L112.2 154.2L110.5 154.9Z" fill="#2b4ca9"/><path d="M40.6 160.6L42.3 161L43 159.5L41.3 159.5Z" fill="#3255ad"/><path d="M95.1 151.4L96.7 149.2L97.4 151L95.8 151.5Z" fill="#4a70bb"/><path d="M24.8 157.5L26.4 160.5L27.2 159.9L25.4 158.9Z" fill="#3f65bc"/><path d="M80.2 144.2L81.7 148.4L82.4 148.3L80.9 143.4Z" fill="#8faedf"/><path d="M64.9 147L66.5 149.5L67.3 147.9L65.6 146.2Z" fill="#89a7d8"/><path d="M118.1 154.4L119.7 154.8L120.4 153.9L118.7 153.8Z" fill="#223f9a"/><path d="M49.4 157.9L51.2 157.5L51.9 156.9L50.2 156.1Z" fill="#4269bf"/><path d="M103.4 154L105.1 154.9L105.8 154.2L104 154.1Z" fill="#3154b1"/><path d="M33.7 159.9L35.4 161.7L36.2 160.2L34.5 159.2Z" fill="#3559b2"/><path d="M88.6 149.4L90.2 148.4L91 149.7L89.3 150.5Z" fill="#6189cf"/><path d="M73.5 146L75.2 145.5L75.9 144.4L74.2 144Z" fill="#a0b8e0"/><path d="M58.2 155L59.9 154.8L60.5 151.9L58.8 153.4Z" fill="#547bc5"/><path d="M111.7 154.3L113.5 154.3L114.1 154.2L112.4 153.1Z" fill="#2948a0"/><path d="M42.6 159.7L44.4 158.6L45.1 158.3L43.4 160.2Z" fill="#385db5"/><path d="M97.1 150.8L98.7 153.6L99.3 154.4L97.8 151Z" fill="#4167ba"/><path d="M26.9 159.6L28.6 162.4L29.3 162.9L27.6 163.5Z" fill="#2c4ca6"/><path d="M82.2 148.3L83.8 146.2L84.4 144.5L82.7 146.6Z" fill="#8babdf"/><path d="M66.9 148L68.5 149L69.3 146.9L67.7 145.6Z" fill="#8fadde"/><path d="M120 153.8L121.6 155.3L122.3 154.8L120.7 153.4Z" fill="#2342a0"/><path d="M51.4 157L53.2 157.3L53.9 156.8L52.2 155.5Z" fill="#4066b5"/><path d="M105.4 154.2L107.1 154.9L107.7 154.8L106 153.7Z" fill="#2e50ab"/><path d="M35.8 160L37.5 162.2L38.3 161.2L36.5 160.4Z" fill="#2f51a8"/><path d="M90.6 149.6L92.3 150.1L92.9 151L91.2 149.6Z" fill="#577ec5"/><path d="M75.5 144.5L77.2 145.8L77.9 145.1L76.2 143.7Z" fill="#9eb5db"/><path d="M60.2 152.1L61.9 153.6L62.6 151.9L61 150.4Z" fill="#668fd5"/><path d="M113.7 154.1L115.3 155.7L116 155.2L114.4 153.4Z" fill="#2545a2"/><path d="M44.7 158.4L46.4 160L47.1 159.3L45.5 156.9Z" fill="#3a5eb2"/><path d="M99 154.2L100.7 154.5L101.3 154.3L99.7 152.6Z" fill="#3558ad"/><path d="M28.9 162.9L30.7 161.7L31.4 162.6L29.6 161.8Z" fill="#2a4aa5"/><path d="M84.2 144.5L85.7 148.5L86.3 149.7L84.8 145.9Z" fill="#7c9dd3"/><path d="M68.9 146.9L70.6 148L71.3 147.2L69.5 147.2Z" fill="#94b3e5"/><path d="M53.5 156.8L55.2 157.6L55.9 155.3L54.3 154.9Z" fill="#4369b8"/><path d="M107.3 154.8L108.9 156.2L109.6 154.2L108 154.1Z" fill="#27469b"/><path d="M37.8 161.1L39.7 161.4L40.3 160.8L38.5 161.6Z" fill="#2d4fa8"/><path d="M92.5 150.9L94.2 150.5L94.9 150.9L93.2 152.3Z" fill="#4f77c5"/><path d="M77.5 145.1L79.3 144.8L79.9 145L78.1 145.4Z" fill="#9eb7e0"/><path d="M62.3 152.1L64 151.4L64.6 149.3L62.9 150.6Z" fill="#6e96d6"/><path d="M115.6 155.1L117.2 154.2L117.9 154.4L116.3 155.8Z" fill="#2444a6"/><path d="M46.7 159.2L48.4 160.1L49.2 159L47.4 158.5Z" fill="#365ab1"/><path d="M100.9 154.2L102.6 153.5L103.3 154.8L101.5 154.7Z" fill="#3355ac"/><path d="M31 162.7L32.7 161L33.5 160.9L31.7 162Z" fill="#2b4ba0"/><path d="M86 149.5L87.7 150.5L88.4 150.1L86.8 147.9Z" fill="#648ccf"/><path d="M70.9 147.2L72.5 149.3L73.3 147.2L71.7 145Z" fill="#91afe0"/><path d="M55.5 155.4L57.2 157.1L58 155.9L56.3 154.2Z" fill="#4870c1"/><path d="M109.2 154.3L110.9 155.2L111.6 154.2L109.9 153.7Z" fill="#2d4fac"/><path d="M39.9 160.9L41.7 161.2L42.4 160.8L40.6 160.4Z" fill="#3052ab"/><path d="M94.5 151.1L96.1 149L96.8 149.2L95.2 151.5Z" fill="#5a83d1"/><path d="M79.6 144.8L81.1 148.4L81.8 148.3L80.3 144.2Z" fill="#8eacdd"/><path d="M64.2 149.5L65.9 151.5L66.7 149.3L65 146.9Z" fill="#7899cf"/><path d="M117.5 154.5L119.2 154.8L119.8 154.6L118.1 154.3Z" fill="#213f99"/><path d="M48.8 159.2L50.6 158.3L51.2 157.2L49.5 157.6Z" fill="#3a5eb0"/><path d="M102.9 154.8L104.5 153.6L105.2 154.9L103.5 153.9Z" fill="#2f50a4"/><path d="M33 161.1L34.8 161.7L35.5 161.5L33.8 159.8Z" fill="#3255af"/><path d="M88 150.1L89.7 148.6L90.3 148.4L88.6 149.5Z" fill="#6790d4"/><path d="M72.9 147.4L74.6 145.4L75.3 145.3L73.5 145.8Z" fill="#a2bdeb"/><path d="M57.6 156L59.3 155.8L60 154.4L58.2 154.7Z" fill="#4b73c3"/><path d="M111.1 154.2L112.9 154.5L113.5 154.2L111.7 154.2Z" fill="#2a4aa4"/><path d="M42 161L43.8 159.6L44.4 158.6L42.6 159.5Z" fill="#3558ad"/><path d="M96.5 149.2L98 153.4L98.7 153.6L97.1 150.8Z" fill="#4a73c8"/><path d="M26.2 160.3L27.8 158.3L28.6 162.5L26.9 159.6Z" fill="#3a5fb7"/><path d="M81.5 148.3L83.2 146.7L83.8 146.1L82.2 148.3Z" fill="#7e9fd3"/><path d="M66.2 149.3L67.9 151.2L68.7 148.7L67 147.7Z" fill="#7ea1da"/><path d="M119.4 154.6L121 155.7L121.7 155.1L120.1 153.7Z" fill="#23419f"/><path d="M50.8 157.3L52.5 158.6L53.3 157.1L51.5 156.8Z" fill="#3d61b1"/><path d="M104.8 154.8L106.5 155.4L107.1 154.7L105.4 154.1Z" fill="#2f51ad"/><path d="M35.1 161.4L36.8 162.8L37.6 162.1L35.9 160Z" fill="#2e50aa"/><path d="M90 148.4L91.7 150L92.3 150.2L90.5 149.7Z" fill="#5f87ca"/><path d="M74.9 145.3L76.5 148.2L77.3 145.6L75.6 144.3Z" fill="#98b1db"/><path d="M59.6 154.7L61.3 154.7L62 153.3L60.4 151.8Z" fill="#5c86d3"/><path d="M113.1 154.1L114.7 156.6L115.4 155.6L113.8 154Z" fill="#2545a5"/><path d="M44 158.7L45.8 160L46.5 159.9L44.8 158.3Z" fill="#3d63bf"/><path d="M98.4 153.3L100.1 154L100.7 154.4L99 154.3Z" fill="#375aae"/><path d="M28.2 162.4L29.9 160.3L30.8 161.9L29 163Z" fill="#2e4fa7"/><path d="M83.5 146.1L85 149L85.7 148.5L84.2 144.5Z" fill="#87a8de"/><path d="M68.3 148.9L69.9 150.1L70.7 147.7L69 146.8Z" fill="#7f9ed0"/><path d="M52.8 157.1L54.5 158.4L55.3 157.4L53.6 156.6Z" fill="#3f65b7"/><path d="M106.7 154.7L108.4 154.6L109 156.1L107.3 154.6Z" fill="#28479c"/><path d="M37.2 162.1L39 161.3L39.7 161.3L37.9 161Z" fill="#3154b3"/><path d="M91.9 150L93.6 149.9L94.3 150.8L92.6 151.1Z" fill="#5b84cf"/><path d="M76.9 145.7L78.5 146.5L79.3 144.8L77.5 144.9Z" fill="#9fb8e2"/><path d="M61.6 153.6L63.3 152.9L64 151.1L62.3 151.8Z" fill="#628ace"/><path d="M115 155.6L116.7 154.7L117.3 154.2L115.6 155.2Z" fill="#23419b"/><path d="M46.1 159.8L47.8 160.4L48.6 159.9L46.8 159Z" fill="#3558af"/><path d="M100.3 154.4L102.1 153.8L102.7 153.6L100.9 154.3Z" fill="#395eb7"/><path d="M30.3 161.9L32.1 161.2L32.8 161L31.1 162.8Z" fill="#2f50a7"/><path d="M85.5 148.1L87 151.5L87.8 150.4L86.1 149.3Z" fill="#6790d5"/><path d="M70.3 147.7L71.9 149.9L72.7 149.2L71 147Z" fill="#81a1d4"/><path d="M54.9 157.5L56.5 158.4L57.3 156.9L55.7 155.2Z" fill="#4167b8"/><path d="M108.7 156.1L110.4 154.9L111 155L109.3 154.1Z" fill="#2b4caa"/><path d="M39.3 161.4L41.1 161.4L41.8 161.1L39.9 160.8Z" fill="#3052aa"/><path d="M93.9 150.9L95.5 148.5L96.2 149.1L94.6 151.2Z" fill="#5d85ce"/><path d="M79 144.7L80.5 149.4L81.2 148.4L79.6 144.8Z" fill="#8aa8d8"/><path d="M63.6 151.3L65.3 152L66 151.4L64.4 149.3Z" fill="#668ac3"/><path d="M116.9 154.3L118.6 154.8L119.2 154.7L117.5 154.4Z" fill="#2544a1"/><path d="M48.2 160L50 158.9L50.6 158.1L48.8 159Z" fill="#375bae"/><path d="M102.3 153.6L104 153.7L104.6 153.8L103 154.9Z" fill="#385eb8"/><path d="M32.4 161.1L34.1 162.4L34.9 161.6L33.1 160.9Z" fill="#2f4fa4"/><path d="M87.4 150.5L89.1 149L89.7 148.6L88 150.1Z" fill="#5f85c3"/><path d="M72.4 149.2L74.1 147.4L74.6 145.4L72.9 147.2Z" fill="#90addd"/><path d="M56.9 157L58.7 156.7L59.3 155.5L57.6 155.7Z" fill="#4870c3"/><path d="M110.6 155.1L112.3 154.2L112.9 154.4L111.2 154.1Z" fill="#2c4da7"/><path d="M41.4 161.2L43.1 159.5L43.8 159.5L42 161Z" fill="#3356ab"/><path d="M95.9 149L97.4 152.5L98.1 153.4L96.6 149.2Z" fill="#537ccb"/><path d="M80.9 148.3L82.5 146.7L83.2 146.7L81.5 148.3Z" fill="#7d9cce"/><path d="M65.6 151.4L67.3 152.2L68.1 151L66.4 149.1Z" fill="#6b91ce"/><path d="M118.8 154.6L120.4 156.3L121.1 155.6L119.5 154.4Z" fill="#213e98"/><path d="M50.2 158.2L51.8 159.8L52.6 158.3L50.9 157.1Z" fill="#3d62b6"/><path d="M104.2 153.7L105.9 155.4L106.5 155.3L104.8 154.8Z" fill="#3255b0"/><path d="M34.5 161.5L36.2 162.8L36.9 162.7L35.2 161.3Z" fill="#2c4da5"/><path d="M89.4 148.7L91.1 149.7L91.7 150L90 148.4Z" fill="#6891d3"/><path d="M74.3 145.4L75.9 148.4L76.6 148.1L75 145.2Z" fill="#96b2e1"/><path d="M58.9 155.7L60.6 156.7L61.3 154.4L59.7 154.4Z" fill="#496fba"/><path d="M112.5 154.3L114.1 156.2L114.8 156.5L113.2 154Z" fill="#24419a"/><path d="M43.4 159.6L45.1 161.6L45.9 159.8L44.2 158.6Z" fill="#375ab1"/><path d="M97.8 153.1L99.5 153.6L100.1 154.1L98.4 153.4Z" fill="#3d62b6"/><path d="M27.7 158.4L29.3 162.3L30.1 160.5L28.4 162.5Z" fill="#385cb5"/><path d="M82.9 146.7L84.4 150.1L85.2 149L83.6 146.1Z" fill="#7595c9"/><path d="M67.7 151.1L69.4 150.1L70.1 149.9L68.4 148.6Z" fill="#799ed9"/><path d="M52.2 158.4L53.9 158.9L54.7 158.2L53 156.9Z" fill="#4066be"/><path d="M106.1 155.2L107.9 155.3L108.5 154.7L106.7 154.6Z" fill="#2d4fa8"/><path d="M36.6 162.7L38.4 161.8L39 161.2L37.2 162Z" fill="#2b4ba1"/><path d="M91.3 149.9L93 149.4L93.7 150.1L91.9 150.2Z" fill="#5f87cc"/><path d="M76.3 148.1L78 147.5L78.6 146.2L77 145.4Z" fill="#8fabd8"/><path d="M61 154.6L62.7 154.4L63.3 152.6L61.6 153.2Z" fill="#5a83cd"/><path d="M114.4 156.5L116.1 156.1L116.7 154.6L115 155.4Z" fill="#22409c"/><path d="M45.4 159.8L47.2 160.9L47.9 160.2L46.1 159.6Z" fill="#375bb5"/><path d="M99.7 154L101.5 153.8L102.1 153.9L100.3 154.4Z" fill="#395eb3"/><path d="M29.7 160.5L31.3 158.5L32.1 161.5L30.5 162.1Z" fill="#3b61bc"/><path d="M84.8 148.7L86.4 151L87.1 151.4L85.6 148.1Z" fill="#5f85c1"/><path d="M69.6 150L71.3 150.6L72.1 149.8L70.4 147.6Z" fill="#7799cf"/><path d="M54.2 158.2L56 158.8L56.7 158.2L55 157.2Z" fill="#3f65bc"/><path d="M108.1 154.6L109.7 154.4L110.4 154.9L108.8 156.2Z" fill="#2a499f"/><path d="M38.6 161.3L40.4 162.4L41.1 161.3L39.3 161.3Z" fill="#3053ae"/><path d="M93.3 150.2L94.9 148.4L95.6 148.6L94 150.9Z" fill="#5d84c5"/><path d="M78.3 146.2L79.9 148.9L80.5 149.4L79 144.7Z" fill="#8baadb"/><path d="M63 152.9L64.6 153.8L65.4 151.7L63.7 151.1Z" fill="#6087c8"/><path d="M116.3 154.8L118 155.5L118.7 154.7L117 154.2Z" fill="#25449e"/><path d="M47.5 160.3L49.3 159.6L49.9 158.8L48.1 160Z" fill="#385db5"/><path d="M101.6 153.9L103.4 154.4L104 153.8L102.3 153.5Z" fill="#395eb5"/><path d="M31.7 161.3L33.6 161.6L34.2 162.4L32.5 161Z" fill="#3254ac"/><path d="M86.9 151.4L88.4 148.2L89.1 149L87.5 150.5Z" fill="#6c97dc"/><path d="M71.7 149.9L73.4 149.2L74 147.2L72.3 149.2Z" fill="#81a2d7"/><path d="M56.3 158.4L58.1 157.6L58.7 156.5L57 156.7Z" fill="#4066b7"/><path d="M110 154.9L111.6 155.7L112.3 154.2L110.6 155Z" fill="#2c4eab"/><path d="M40.7 161.5L42.5 160.1L43.1 159.5L41.4 161.3Z" fill="#375cb6"/><path d="M95.3 148.5L96.8 152.3L97.5 152.5L96 149Z" fill="#5a84d0"/><path d="M80.3 149.3L82 148.7L82.5 146.7L80.8 148.2Z" fill="#86a9e2"/><path d="M65 151.8L66.7 152.8L67.4 152.1L65.7 151.1Z" fill="#638ac9"/><path d="M118.2 154.6L119.9 155.6L120.5 156.2L118.9 154.5Z" fill="#2342a1"/><path d="M49.5 158.9L51.2 160.3L52 159.6L50.3 158Z" fill="#3c62bc"/><path d="M103.6 153.7L105.3 155.3L105.9 155.3L104.3 153.6Z" fill="#3559b1"/><path d="M33.8 162.2L35.6 163.4L36.3 162.7L34.6 161.4Z" fill="#2d4ea9"/><path d="M88.7 149.1L90.4 150.1L91.1 149.6L89.4 148.6Z" fill="#5f83bd"/><path d="M73.6 147.3L75.3 150.3L76 148.3L74.4 145.4Z" fill="#89a6d6"/><path d="M58.3 156.6L60 157.8L60.8 156.4L59.1 155.4Z" fill="#4a74cb"/><path d="M112 154.2L113.5 156.4L114.2 156.2L112.6 154.2Z" fill="#26449a"/><path d="M42.8 159.5L44.4 162.7L45.2 161.5L43.5 159.4Z" fill="#3356ad"/><path d="M97.2 152.2L98.9 153.5L99.5 153.7L97.8 153.2Z" fill="#436bbf"/><path d="M82.3 146.7L83.8 150.5L84.5 150.1L83 146.6Z" fill="#7ca0d9"/><path d="M67 152.1L68.7 152.8L69.4 149.9L67.7 150.8Z" fill="#6f98db"/><path d="M51.6 159.6L53.3 160L54 158.6L52.3 158.2Z" fill="#375aac"/><path d="M105.5 155.2L107.2 155.8L107.9 155.2L106.1 155.1Z" fill="#2e50a9"/><path d="M35.9 162.7L37.7 162.6L38.4 161.8L36.6 162.7Z" fill="#2d4fac"/><path d="M90.7 149.6L92.5 149.6L93.1 149.6L91.3 150Z" fill="#6087c6"/><path d="M75.6 148.2L77.3 149.8L78 147.2L76.3 147.8Z" fill="#85a5d8"/><path d="M60.4 156.6L62.1 155.4L62.7 154.1L61.1 154.3Z" fill="#557fd1"/><path d="M113.8 156.1L115.5 155.6L116.2 155.9L114.5 156.5Z" fill="#2343a2"/><path d="M44.8 161.5L46.5 162.2L47.3 160.7L45.6 159.6Z" fill="#3356b0"/><path d="M99.1 153.6L100.8 152.5L101.5 154L99.8 154.2Z" fill="#3a5dac"/><path d="M29.1 162.3L30.8 160.8L31.4 158.5L29.7 160.6Z" fill="#3b60b6"/><path d="M84.2 149.9L85.8 151.3L86.6 150.9L84.9 148.6Z" fill="#6890d2"/><path d="M69 150L70.7 152.6L71.4 150.4L69.7 149.7Z" fill="#7095d1"/><path d="M53.6 158.7L55.3 160.3L56.1 158.5L54.3 158Z" fill="#3b60b6"/><path d="M107.5 155.3L109.2 154.2L109.8 154.6L108 154.7Z" fill="#355bbc"/><path d="M38 161.9L39.7 162.7L40.5 162.2L38.7 161.2Z" fill="#2e50a9"/><path d="M92.7 149.7L94.3 148.3L95 148.5L93.4 150.3Z" fill="#648bc9"/><path d="M77.7 147.2L79.2 151.4L80 148.7L78.4 146.1Z" fill="#83a4d9"/><path d="M62.4 154.3L64 155.2L64.8 153.5L63.1 152.6Z" fill="#5980c8"/><path d="M115.7 156L117.4 156.2L118.1 155.3L116.4 154.6Z" fill="#23419c"/><path d="M46.9 160.8L48.7 160.3L49.3 159.5L47.5 160.2Z" fill="#365ab2"/><path d="M101.1 153.9L102.8 153.3L103.4 154.4L101.6 153.9Z" fill="#3d64bc"/><path d="M31.2 158.5L32.8 162.4L33.6 161.7L31.8 161.5Z" fill="#395db5"/><path d="M86.2 151L87.8 148.2L88.5 148.2L86.9 151.5Z" fill="#668cc9"/><path d="M71 150.5L72.7 150.6L73.4 149L71.7 149.6Z" fill="#789bd4"/><path d="M55.6 158.7L57.4 158.6L58.1 157.3L56.3 158.2Z" fill="#4066bd"/><path d="M109.4 154.5L111.1 155.8L111.7 155.6L110 154.8Z" fill="#2c4ca5"/><path d="M40.1 162.3L41.9 161.1L42.5 160.1L40.7 161.4Z" fill="#355ab5"/><path d="M94.7 148.5L96.2 152.5L96.9 152.2L95.4 148.5Z" fill="#5e87cf"/><path d="M79.6 148.7L81.3 147.4L82 148.5L80.3 149.3Z" fill="#7c9cd0"/><path d="M64.4 153.7L66 155L66.8 152.5L65.1 151.6Z" fill="#6088ce"/><path d="M117.6 155.3L119.3 156.7L120 155.5L118.3 154.5Z" fill="#2444a5"/><path d="M48.9 159.6L50.6 160.6L51.4 160.2L49.6 158.7Z" fill="#3b62bd"/><path d="M103 154.3L104.8 154.7L105.3 155.2L103.7 153.6Z" fill="#375cb3"/><path d="M33.2 161.4L34.9 163.7L35.6 163.3L33.9 162.1Z" fill="#2e51ad"/><path d="M88.2 148.3L89.9 149.3L90.5 150.1L88.7 149.1Z" fill="#6c91cd"/><path d="M73 149.1L74.7 151L75.4 150.3L73.8 147.1Z" fill="#7899cd"/><path d="M57.7 157.5L59.4 158.6L60.1 157.6L58.4 156.4Z" fill="#436bc0"/><path d="M111.3 155.5L112.9 156.8L113.6 156.3L112.1 154.1Z" fill="#2848a3"/><path d="M42.1 160.1L43.9 161.6L44.5 162.7L42.9 159.5Z" fill="#365ab3"/><path d="M96.6 151.9L98.3 153.1L98.9 153.5L97.2 152.2Z" fill="#4870c2"/><path d="M81.6 148.4L83.2 151.1L83.9 150.4L82.4 146.7Z" fill="#789cd6"/><path d="M66.4 152.6L68.1 153.4L68.8 152.6L67.1 151.8Z" fill="#6188ca"/><path d="M50.9 160.1L52.6 161.1L53.4 159.7L51.7 159.4Z" fill="#375cb5"/><path d="M104.9 155L106.7 154.8L107.3 155.8L105.5 155.2Z" fill="#3256b1"/><path d="M35.2 163.2L37 163.9L37.7 162.5L36 162.5Z" fill="#2a4ba5"/><path d="M90.1 150L91.8 148.9L92.5 149.6L90.7 149.6Z" fill="#6b94d5"/><path d="M75 150.2L76.7 150.7L77.4 149.5L75.8 148Z" fill="#7394ca"/><path d="M59.8 157.8L61.4 155.4L62.1 155.1L60.3 156.6Z" fill="#486fbe"/><path d="M113.2 156.3L115 155.8L115.6 155.6L113.8 156.1Z" fill="#2646a5"/><path d="M44.1 162.6L45.9 162.9L46.6 162L44.9 161.2Z" fill="#2f52b0"/><path d="M98.5 153.5L100.2 151.5L100.9 152.7L99.2 153.8Z" fill="#466ec1"/><path d="M83.6 150.2L85.3 150.9L85.9 151.2L84.3 149.7Z" fill="#668ecf"/><path d="M68.4 152.7L70.1 153.4L70.8 152.4L69.2 149.9Z" fill="#6289c7"/><path d="M53 159.8L54.7 160.9L55.4 160.1L53.7 158.5Z" fill="#385db5"/><path d="M106.9 155.8L108.5 153.9L109.2 154.2L107.5 155.3Z" fill="#3458b2"/><path d="M37.3 162.6L39.1 163L39.8 162.6L38.1 161.7Z" fill="#2c4ca1"/><path d="M92.1 149.8L93.7 147.6L94.4 148.5L92.8 149.8Z" fill="#7097d5"/><path d="M77 149.5L78.7 150.7L79.3 151.4L77.8 147.1Z" fill="#7a9ed8"/><path d="M61.7 155.3L63.4 157L64.2 155L62.5 154Z" fill="#527ac8"/><path d="M115.1 155.7L116.8 154.8L117.5 156.1L115.8 156Z" fill="#24419a"/><path d="M46.2 162.1L48 161.4L48.6 160.2L46.9 160.6Z" fill="#3458b2"/><path d="M100.5 152.6L102.2 153.6L102.8 153.5L101.1 154.1Z" fill="#3e63b4"/><path d="M30.4 160.7L32.2 161.8L32.9 162.4L31.3 158.5Z" fill="#3e64bf"/><path d="M85.6 151.3L87.3 149.8L87.8 148.2L86.3 151Z" fill="#6a92d1"/><path d="M70.5 152.5L72.2 150.6L72.8 150.4L71.1 150.3Z" fill="#6c91cb"/><path d="M55.1 160.2L56.8 159.7L57.4 158.4L55.7 158.4Z" fill="#3d64be"/><path d="M108.8 154.2L110.5 155.3L111.1 155.7L109.4 154.4Z" fill="#3256b2"/><path d="M39.4 162.7L41.2 161.8L41.8 161L40.1 162.3Z" fill="#3052a9"/><path d="M94.1 148.3L95.6 151.7L96.3 152.5L94.8 148.4Z" fill="#6691da"/><path d="M79.1 151.4L80.7 148.5L81.3 147.5L79.7 148.5Z" fill="#7a9bd0"/><path d="M63.7 155L65.4 156.6L66.2 154.7L64.5 153.4Z" fill="#547cc9"/><path d="M117.1 156L118.7 157.2L119.4 156.6L117.8 155.1Z" fill="#2342a2"/><path d="M48.2 160.3L50 161L50.7 160.4L49 159.4Z" fill="#3456a7"/><path d="M102.5 153.4L104.1 154.9L104.8 154.7L103 154.3Z" fill="#3d63bc"/><path d="M32.5 162.2L34.3 161.3L34.9 163.7L33.3 161.4Z" fill="#3255ae"/><path d="M87.5 148.3L89.2 150.2L89.9 149.3L88.2 148.2Z" fill="#7499d3"/><path d="M72.4 150.4L74 152.3L74.8 150.8L73.2 148.9Z" fill="#7093cc"/><path d="M57 158.5L58.8 158.7L59.5 158.5L57.8 157.3Z" fill="#4167bd"/><path d="M110.7 155.5L112.4 156.6L113.1 156.7L111.4 155.3Z" fill="#26459d"/><path d="M41.4 161.1L43.2 162.4L43.9 161.5L42.2 160Z" fill="#3356ac"/><path d="M96 152.2L97.6 153.7L98.3 153L96.7 151.9Z" fill="#4a71c1"/><path d="M81.1 147.5L82.6 151.7L83.3 151.1L81.7 148.3Z" fill="#7194cc"/><path d="M65.8 154.9L67.4 155.1L68.2 153.1L66.5 152.4Z" fill="#5f89d4"/><path d="M50.3 160.3L52 161.7L52.8 160.9L51 159.9Z" fill="#3255a9"/><path d="M104.4 154.6L106.1 155.2L106.7 154.9L104.9 155.1Z" fill="#3458ae"/><path d="M34.6 163.5L36.4 163.5L37.1 163.7L35.3 163.1Z" fill="#2949a3"/><path d="M89.5 149.2L91.3 149.5L91.9 149L90.2 150.1Z" fill="#6e94d2"/><path d="M74.4 150.8L76.1 149.6L76.8 150.6L75 150Z" fill="#799ed9"/><path d="M59.1 158.6L60.9 157.6L61.4 155.4L59.7 157.8Z" fill="#476fc4"/><path d="M112.7 156.7L114.4 156.7L115 155.8L113.2 156.1Z" fill="#24429d"/><path d="M43.5 161.3L45.3 162.7L46 162.8L44.2 162.6Z" fill="#2d4ea7"/><path d="M97.9 153L99.7 152.8L100.2 151.6L98.6 153.6Z" fill="#4971c3"/><path d="M83 151L84.8 150.8L85.4 150.8L83.6 150.1Z" fill="#6b94d5"/><path d="M67.8 153.2L69.4 154.6L70.2 153.2L68.5 152.4Z" fill="#6089d0"/><path d="M52.3 160.9L54 162L54.8 160.7L53.1 159.6Z" fill="#3355ad"/><path d="M106.3 154.9L108 154.4L108.6 154L107 155.9Z" fill="#3254a6"/><path d="M36.7 163.8L38.5 163.4L39.2 162.8L37.4 162.4Z" fill="#2f52b1"/><path d="M91.5 149.2L93.2 148.1L93.8 147.6L92.2 149.8Z" fill="#789eda"/><path d="M76.4 150.5L78 152.9L78.8 150.5L77.2 149.3Z" fill="#6f96d3"/><path d="M61.1 155.5L62.8 157.9L63.5 156.8L61.9 155.1Z" fill="#4c75c5"/><path d="M114.6 155.9L116.3 155.6L116.9 154.9L115.2 155.8Z" fill="#2847a1"/><path d="M45.6 162.9L47.4 161.8L48 161.1L46.2 162Z" fill="#2e4fa6"/><path d="M99.9 151.6L101.6 153.3L102.2 153.6L100.5 152.7Z" fill="#476ec0"/><path d="M84.9 150.8L86.6 149.7L87.3 149.8L85.7 151.3Z" fill="#6990cf"/><path d="M69.8 153.4L71.5 152.7L72.1 150.5L70.4 152.4Z" fill="#658ccc"/><path d="M54.4 160.8L56.1 160.9L56.8 159.4L55 160Z" fill="#3457ab"/><path d="M108.2 154L109.9 155.6L110.6 155.3L108.9 154.2Z" fill="#3457af"/><path d="M38.8 162.9L40.5 161.8L41.2 161.7L39.4 162.7Z" fill="#3255af"/><path d="M93.5 147.6L95 152.6L95.7 151.7L94.2 148.3Z" fill="#638bcc"/><path d="M78.4 150.6L80.1 149L80.7 148.5L79.1 151.4Z" fill="#789cd5"/><path d="M63.1 156.8L64.8 157.6L65.6 156.4L63.9 154.8Z" fill="#456bb7"/><path d="M116.6 154.8L118.2 156.8L118.8 157.1L117.1 156Z" fill="#22409c"/><path d="M47.6 161.3L49.3 162.1L50.1 160.7L48.4 160.1Z" fill="#3558b0"/><path d="M101.8 153.4L103.6 154L104.1 154.9L102.5 153.3Z" fill="#3d62b3"/><path d="M31.9 161.6L33.6 160.3L34.4 161.5L32.6 162.4Z" fill="#3659ab"/><path d="M86.9 149.9L88.6 150.9L89.3 150L87.7 148.2Z" fill="#7198d5"/><path d="M71.8 150.6L73.5 152.7L74.2 152.2L72.5 150.3Z" fill="#6b91cd"/><path d="M56.4 159.6L58.1 160.3L58.8 158.4L57.1 158.3Z" fill="#3e64bb"/><path d="M110.2 155.1L111.9 156.1L112.5 156.6L110.7 155.5Z" fill="#2b4ca5"/><path d="M40.8 161.7L42.5 163.9L43.3 162.2L41.6 160.9Z" fill="#3255b0"/><path d="M95.4 151.4L97.2 152.5L97.7 153.7L96 152.2Z" fill="#4f77c3"/><path d="M80.5 148.5L82 152.5L82.7 151.6L81.2 147.4Z" fill="#7092ca"/><path d="M65.2 156.6L66.8 156.4L67.5 154.7L65.9 154.5Z" fill="#5078c5"/><path d="M49.7 160.7L51.4 162L52.1 161.6L50.4 160.2Z" fill="#3457ae"/><path d="M103.8 154.7L105.4 155.8L106.1 155.1L104.4 154.5Z" fill="#395eb7"/><path d="M34 161.4L35.7 161.5L36.4 163.6L34.7 163.7Z" fill="#3153ab"/><path d="M88.9 150.1L90.7 149.7L91.3 149.4L89.5 149.1Z" fill="#6f94d0"/><path d="M73.8 152.2L75.4 152.6L76.1 149.6L74.5 150.6Z" fill="#7299d7"/><path d="M58.4 158.6L60.2 158.5L60.9 157.4L59.1 158.5Z" fill="#446cc3"/><path d="M112.1 156.4L113.8 156.3L114.4 156.6L112.7 156.7Z" fill="#2646a4"/><path d="M42.9 162.2L44.6 163.4L45.3 162.6L43.6 161.2Z" fill="#3154b0"/><path d="M97.4 153.6L99 152.2L99.7 152.7L97.9 153Z" fill="#4c74c6"/><path d="M82.4 151.5L84.1 152L84.7 150.7L83 150.8Z" fill="#6992d4"/><path d="M67.1 154.9L68.8 156.5L69.6 154.3L67.9 153Z" fill="#5982ce"/><path d="M51.7 161.5L53.5 162.1L54.2 161.8L52.4 160.7Z" fill="#3254ae"/><path d="M105.7 155.2L107.4 153.8L108.1 154.5L106.3 155Z" fill="#395eb5"/><path d="M36 163.5L37.8 164.1L38.5 163.2L36.7 163.7Z" fill="#2b4ba6"/><path d="M90.9 149.6L92.5 147.4L93.2 148.2L91.5 149.3Z" fill="#83a8e4"/><path d="M75.9 149.5L77.4 153.2L78.1 152.9L76.5 150.3Z" fill="#6b92d1"/><path d="M60.5 157.5L62.1 159L62.9 157.7L61.3 155.4Z" fill="#466dbf"/><path d="M114 156.7L115.7 156.5L116.3 155.5L114.6 155.7Z" fill="#2746a0"/><path d="M44.9 162.6L46.7 162.1L47.4 161.8L45.6 162.9Z" fill="#2f51aa"/><path d="M99.3 152.8L101.1 152.6L101.6 153.3L100 151.5Z" fill="#4d75c5"/><path d="M84.3 150.7L86 152.2L86.7 149.7L84.9 150.7Z" fill="#658cc9"/><path d="M69.2 154.5L70.9 154.2L71.5 152.4L69.8 153.1Z" fill="#597fc0"/><path d="M53.8 161.9L55.6 161.3L56.2 160.7L54.4 160.6Z" fill="#3357b0"/><path d="M107.6 154.5L109.4 155.1L109.9 155.6L108.3 153.9Z" fill="#3457aa"/><path d="M38.1 163.4L39.9 163L40.5 161.8L38.7 162.9Z" fill="#3053ad"/><path d="M92.9 148L94.4 152.8L95.1 152.6L93.6 147.5Z" fill="#668fd0"/><path d="M77.9 152.9L79.5 151.3L80.1 149L78.4 150.4Z" fill="#749bda"/><path d="M62.5 157.8L64.3 157.4L64.9 157.5L63.2 156.6Z" fill="#4a73ca"/><path d="M115.9 155.5L117.6 156.8L118.2 156.8L116.6 154.8Z" fill="#2747a3"/><path d="M47 161.9L48.7 162.4L49.4 162L47.7 161.1Z" fill="#3153ab"/><path d="M101.2 153L102.9 154.5L103.6 154L101.8 153.4Z" fill="#4166b7"/><path d="M86.3 149.7L88 151.5L88.7 150.7L87 149.7Z" fill="#6a90cc"/><path d="M71.2 152.6L72.8 154.7L73.6 152.5L71.9 150.5Z" fill="#668ecf"/><path d="M55.8 160.9L57.5 160.8L58.2 160.1L56.5 159.4Z" fill="#3557a9"/><path d="M109.6 155.3L111.2 157.2L111.9 156L110.3 155Z" fill="#2e50a9"/><path d="M40.2 161.8L41.9 163.8L42.6 163.8L40.9 161.6Z" fill="#2f51ab"/><path d="M94.8 152.4L96.6 152.1L97.1 152.6L95.5 151.3Z" fill="#5780cc"/><path d="M79.9 149L81.4 154.2L82.1 152.5L80.5 148.4Z" fill="#6d93d0"/><path d="M64.5 157.5L66.2 157.7L66.9 156.1L65.2 156.3Z" fill="#4870c3"/><path d="M49 162L50.8 162.1L51.5 161.8L49.8 160.6Z" fill="#3254ab"/><path d="M103.2 153.8L104.9 154.3L105.5 155.8L103.8 154.8Z" fill="#3b60b5"/><path d="M33.3 160.4L35.1 161L35.8 161.8L34 161.7Z" fill="#395cae"/><path d="M88.3 150.8L90.1 149.9L90.7 149.6L88.9 149.9Z" fill="#6f95d3"/><path d="M73.2 152.5L74.9 152.9L75.6 152.4L73.8 151.9Z" fill="#6b95d9"/><path d="M57.9 160.2L59.6 159L60.2 158.3L58.5 158.4Z" fill="#3f66bb"/><path d="M111.5 156L113.2 155.7L113.8 156.4L112.1 156.6Z" fill="#2b4ca7"/><path d="M42.2 163.8L44 163.4L44.7 163.2L43 162Z" fill="#2c4ca3"/><path d="M96.7 152.5L98.4 152L99.1 152.3L97.5 153.7Z" fill="#537dce"/><path d="M81.7 152.4L83.4 153L84.1 151.7L82.5 151.3Z" fill="#6087c9"/><path d="M66.5 156.3L68.2 157.1L69 156.4L67.3 154.6Z" fill="#5079c9"/><path d="M51.1 161.8L52.9 162L53.5 162L51.7 161.3Z" fill="#3154ad"/><path d="M105.1 155.8L106.9 154.7L107.4 153.8L105.7 155.2Z" fill="#385cb0"/><path d="M35.4 161.6L37 160L37.8 164.1L36.2 163.7Z" fill="#375bb6"/><path d="M90.3 149.8L92 148.1L92.6 147.4L91 149.7Z" fill="#7c9fd6"/><path d="M75.2 152.4L76.8 154.4L77.5 153.2L76 149.5Z" fill="#678fd0"/><path d="M59.8 158.4L61.6 159.3L62.3 158.9L60.6 157.3Z" fill="#436abf"/><path d="M113.4 156.3L115.2 156.8L115.8 156.4L114 156.7Z" fill="#2746a1"/><path d="M44.3 163.3L46.1 163.1L46.7 162.1L44.9 162.5Z" fill="#2e50a8"/><path d="M98.7 152.3L100.5 152.5L101.1 152.6L99.3 152.8Z" fill="#5079c8"/><path d="M83.7 151.9L85.5 150.8L86.1 152.2L84.4 150.6Z" fill="#668dcd"/><path d="M68.6 156.5L70.3 155.6L70.9 153.9L69.3 154.2Z" fill="#567ec8"/><path d="M53.1 162L54.9 161.9L55.6 161.2L53.7 161.8Z" fill="#3052aa"/><path d="M107.1 153.8L108.8 155L109.4 155L107.6 154.5Z" fill="#385bae"/><path d="M37.5 164L39.2 162.2L39.9 162.8L38.1 163.4Z" fill="#2e50a7"/><path d="M92.3 147.4L93.8 152.3L94.5 152.8L93 148Z" fill="#6990ce"/><path d="M77.2 153.1L78.9 153.4L79.5 151L77.8 152.8Z" fill="#648cce"/><path d="M61.9 158.9L63.5 159.8L64.2 157.2L62.6 157.5Z" fill="#446cc3"/><path d="M115.3 156.4L117 157L117.7 156.7L116 155.4Z" fill="#254399"/><path d="M46.3 162.2L48.1 163.2L48.8 162.2L47 161.7Z" fill="#3154ad"/><path d="M100.7 152.4L102.3 154.2L103 154.4L101.3 153Z" fill="#4267b4"/><path d="M85.7 152.2L87.4 152.3L88.1 151.3L86.5 149.6Z" fill="#638ac9"/><path d="M70.5 154.1L72.2 155.1L73 154.6L71.3 152.3Z" fill="#5c83c8"/><path d="M55.1 161.3L56.9 162.2L57.6 160.5L55.8 160.6Z" fill="#3152a5"/><path d="M109 154.8L110.7 156.5L111.3 157.1L109.6 155.3Z" fill="#2e4ea2"/><path d="M39.5 162.8L41.2 164.1L42 163.7L40.3 161.7Z" fill="#3052ab"/><path d="M94.2 152.7L96 152.3L96.6 152L94.8 152.4Z" fill="#577fc9"/><path d="M79.2 151L80.8 154.3L81.5 154.2L79.9 148.9Z" fill="#668ece"/><path d="M63.9 157.3L65.7 157.6L66.3 157.5L64.5 157.4Z" fill="#456cbc"/><path d="M48.4 162.2L50.1 163.3L50.8 161.9L49.1 161.8Z" fill="#3459b7"/><path d="M102.6 154.2L104.3 155.2L104.9 154.4L103.2 153.8Z" fill="#4066ba"/><path d="M87.7 151.4L89.4 151.3L90 149.9L88.3 150.6Z" fill="#688ecb"/><path d="M72.6 154.7L74.2 155.1L74.9 152.6L73.3 152.3Z" fill="#648ed6"/><path d="M57.2 160.7L59 160.2L59.6 158.9L57.8 160.2Z" fill="#3d62ba"/><path d="M110.9 157.1L112.6 156.8L113.2 155.7L111.5 155.9Z" fill="#2c4ca5"/><path d="M41.6 163.6L43.4 163.8L44.1 163.2L42.2 163.7Z" fill="#2d4fad"/><path d="M96.1 152.1L97.9 151.7L98.5 152.2L96.8 152.6Z" fill="#5780c9"/><path d="M81.1 154.1L82.8 155.1L83.5 152.7L81.9 152.1Z" fill="#5c84ce"/><path d="M65.9 157.5L67.6 159.4L68.3 156.8L66.7 156Z" fill="#476fc2"/><path d="M50.4 161.9L52.1 163.2L52.9 161.9L51.1 161.7Z" fill="#3051a7"/><path d="M104.5 154.3L106.2 153.8L106.9 154.8L105.2 155.8Z" fill="#3f66be"/><path d="M34.8 161.3L36.4 156.3L37.2 160.3L35.5 162Z" fill="#466ec1"/><path d="M89.7 150.1L91.4 149.4L92 148.1L90.3 149.8Z" fill="#7698cf"/><path d="M74.6 152.7L76.2 155.1L76.9 154.3L75.3 152.2Z" fill="#5d84c7"/><path d="M59.2 159L60.9 160.4L61.7 159L59.9 158.2Z" fill="#4269c0"/><path d="M112.8 155.7L114.6 156L115.2 156.8L113.4 156.5Z" fill="#2b4ca5"/><path d="M43.6 163.3L45.4 163.6L46.1 162.9L44.3 163.1Z" fill="#2e4fa9"/><path d="M98.1 152.2L99.9 152L100.5 152.6L98.7 152.4Z" fill="#567fcb"/><path d="M83.2 152.9L84.9 151.8L85.5 150.8L83.7 151.8Z" fill="#678fd0"/><path d="M67.9 157L69.7 156.5L70.3 155.4L68.5 156.3Z" fill="#4b71bc"/><path d="M52.5 161.9L54.3 162.3L54.9 161.8L53.1 162Z" fill="#3356b1"/><path d="M106.4 154.8L108.2 155.3L108.8 154.9L107.2 153.7Z" fill="#3e64bd"/><path d="M36.9 160L38.5 160.7L39.3 162.5L37.6 164.1Z" fill="#3b61ba"/><path d="M91.7 148.1L93.2 152.7L93.9 152.3L92.4 147.4Z" fill="#759cdc"/><path d="M76.6 154.4L78.3 152.9L79 153.2L77.2 152.9Z" fill="#6189cf"/><path d="M61.2 159L63 159.6L63.7 159.7L61.9 158.7Z" fill="#4067be"/><path d="M114.7 156.7L116.4 157.5L117.1 156.8L115.4 156.2Z" fill="#2849a8"/><path d="M45.7 163L47.5 163L48.2 163.1L46.4 162Z" fill="#3052aa"/><path d="M100.1 152.4L101.7 154.4L102.4 154.2L100.7 152.4Z" fill="#4e79cd"/><path d="M85.1 150.8L86.8 152.4L87.5 152.2L85.7 152.1Z" fill="#6b95da"/><path d="M69.9 155.5L71.6 156.9L72.3 154.8L70.7 153.8Z" fill="#5881cd"/><path d="M54.5 161.8L56.2 162.8L57 162L55.2 161.1Z" fill="#3559b7"/><path d="M108.4 154.7L110 156.6L110.7 156.5L109.1 154.8Z" fill="#365bb5"/><path d="M38.9 162.2L40.6 164.7L41.3 164L39.6 162.7Z" fill="#2e4fa6"/><path d="M93.6 152L95.3 151.6L96 152.3L94.2 152.8Z" fill="#5e87d1"/><path d="M78.5 153.2L80.2 155L80.9 154.3L79.3 150.9Z" fill="#6089ce"/><path d="M63.3 159.8L65 159L65.7 157.4L64 157.2Z" fill="#446cc0"/><path d="M47.7 163L49.5 163.3L50.2 163.1L48.5 162Z" fill="#2f52ab"/><path d="M102 154L103.7 155L104.3 155.2L102.6 154.2Z" fill="#446cc4"/><path d="M87.1 152.2L88.9 151.8L89.5 151.1L87.7 151.1Z" fill="#6891d3"/><path d="M71.9 154.9L73.7 154.7L74.4 154.9L72.6 154.4Z" fill="#577ec5"/><path d="M56.6 162.1L58.4 161L59 160L57.2 160.5Z" fill="#395eb6"/><path d="M110.3 156.4L112 155.5L112.7 156.7L111 157.2Z" fill="#2f52ad"/><path d="M40.9 163.9L42.7 164.5L43.4 163.7L41.6 163.5Z" fill="#2b4ba3"/><path d="M95.5 152.3L97.3 152.6L97.9 151.8L96.1 152Z" fill="#5980c7"/><path d="M80.5 154L82.2 156L82.9 154.9L81.2 153.8Z" fill="#527ac5"/><path d="M65.3 157.4L67 159.7L67.7 159.3L66 157.3Z" fill="#4167ba"/><path d="M49.8 163.1L51.5 164.5L52.3 163L50.6 161.7Z" fill="#2e50aa"/><path d="M104 155.2L105.6 153.8L106.3 153.9L104.5 154.4Z" fill="#446cc2"/><path d="M89.1 151.3L90.7 149.1L91.4 149.2L89.6 150Z" fill="#7ea3e0"/><path d="M73.9 154.9L75.6 157L76.4 154.9L74.7 152.6Z" fill="#5b84d0"/><path d="M58.6 160.1L60.3 161.6L61 160.2L59.3 158.8Z" fill="#3e64bd"/><path d="M112.2 156.7L113.9 157.1L114.6 156L112.9 155.6Z" fill="#2f52ae"/><path d="M43 163.8L44.8 163.2L45.5 163.5L43.6 163.2Z" fill="#3053b0"/><path d="M97.5 151.8L99.3 152.3L99.9 152.1L98.1 152.3Z" fill="#5880c7"/><path d="M82.6 155.1L84.3 153.1L84.8 151.6L83.2 152.6Z" fill="#6189d0"/><path d="M67.4 159.3L69 158.6L69.6 156.2L68 156.7Z" fill="#476fc2"/><path d="M51.8 163.1L53.6 163.1L54.3 162.1L52.6 161.8Z" fill="#3053ab"/><path d="M105.9 153.8L107.6 155.1L108.2 155.2L106.4 154.8Z" fill="#3e63b7"/><path d="M36.3 156.3L37.8 155.7L38.5 161.1L37 160.4Z" fill="#5279c4"/><path d="M91.1 149.2L92.6 153.3L93.3 152.7L91.8 148.1Z" fill="#6b91cf"/><path d="M76 155L77.7 154.4L78.3 152.9L76.5 154.3Z" fill="#5980c3"/><path d="M60.6 160.2L62.3 161.5L63 159.4L61.4 158.9Z" fill="#3d63ba"/><path d="M114.2 155.9L115.8 157.8L116.5 157.4L114.8 156.6Z" fill="#2848a3"/><path d="M45 163.5L46.8 164.7L47.5 162.8L45.8 162.8Z" fill="#2e50aa"/><path d="M99.5 152L101.2 152.9L101.7 154.4L100.1 152.4Z" fill="#527ac8"/><path d="M84.5 151.8L86.2 153L86.9 152.3L85.2 150.7Z" fill="#6a93d4"/><path d="M69.3 156.3L71 158.7L71.7 156.7L70.1 155.3Z" fill="#4b72c0"/><path d="M53.9 162.2L55.7 162.3L56.3 162.7L54.6 161.7Z" fill="#3255ad"/><path d="M107.8 155L109.5 156.7L110.1 156.6L108.5 154.6Z" fill="#3457aa"/><path d="M38.3 160.7L40 163L40.6 164.7L38.9 162.3Z" fill="#3354a6"/><path d="M93 152.5L94.7 152.8L95.4 151.7L93.6 152Z" fill="#587ec0"/><path d="M78 152.9L79.6 155.9L80.3 154.9L78.7 153Z" fill="#5f89d4"/><path d="M62.6 159.5L64.4 160.2L65 158.7L63.3 159.7Z" fill="#3b5fb0"/><path d="M47.1 162.9L48.9 163.6L49.6 163.1L47.7 162.9Z" fill="#3053ad"/><path d="M101.4 154.2L103.1 153.8L103.7 155L102 153.9Z" fill="#4972c8"/><path d="M86.5 152.3L88.2 151.5L88.9 151.7L87.1 152.2Z" fill="#658dcd"/><path d="M71.4 156.9L73 157.1L73.7 154.6L72.1 154.7Z" fill="#5781d1"/><path d="M56 162.7L57.7 161L58.3 160.8L56.6 162.1Z" fill="#385ebb"/><path d="M109.7 156.5L111.5 156.7L112.1 155.6L110.3 156.4Z" fill="#3457b3"/><path d="M40.3 164.5L42.1 164.7L42.8 164.4L41 163.8Z" fill="#2e51b2"/><path d="M94.9 151.7L96.7 151.7L97.3 152.5L95.6 152.4Z" fill="#5f88cf"/><path d="M79.9 154.7L81.6 156.8L82.3 155.9L80.7 153.9Z" fill="#4f76c1"/><path d="M64.7 158.7L66.3 160.4L67.1 159.6L65.4 157.4Z" fill="#4269bf"/><path d="M49.2 163L50.9 164.6L51.6 164.4L49.9 162.9Z" fill="#2b4ba4"/><path d="M103.3 154.9L105.1 153.9L105.7 153.9L104 155.2Z" fill="#4166b6"/><path d="M88.5 151.9L90.2 149.9L90.8 149.1L89.1 151.3Z" fill="#7093cb"/><path d="M73.4 154.6L75 157.8L75.7 157L74.1 154.6Z" fill="#5781d4"/><path d="M57.9 161L59.7 161.3L60.4 161.4L58.7 159.9Z" fill="#385db2"/><path d="M111.7 155.5L113.4 156.8L114 157L112.3 156.8Z" fill="#2f51ab"/><path d="M42.4 164.5L44.2 163.9L44.8 163.2L43 163.7Z" fill="#2d4ea6"/><path d="M96.9 152.5L98.6 152.8L99.3 152.2L97.6 151.7Z" fill="#5b83cb"/><path d="M82 156L83.6 153.2L84.2 152.9L82.6 155.1Z" fill="#587fc8"/><path d="M66.7 159.6L68.5 158.5L69.1 158.3L67.3 159.3Z" fill="#4066ba"/><path d="M51.3 164.5L53 163L53.7 162.8L51.9 162.8Z" fill="#2c4ca2"/><path d="M105.3 153.9L107 154.8L107.6 155.1L105.9 153.8Z" fill="#4065b5"/><path d="M90.5 149.1L92 153.9L92.7 153.3L91.2 149.1Z" fill="#678ecc"/><path d="M75.4 157L77.1 156L77.7 154.1L76 154.7Z" fill="#557ec9"/><path d="M60 161.4L61.7 162.4L62.4 161.3L60.7 159.9Z" fill="#3a61be"/><path d="M113.6 156.8L115.2 158.2L115.9 157.7L114.3 155.9Z" fill="#2b4ca9"/><path d="M44.4 163.2L46.2 164.8L46.9 164.5L45.1 163.3Z" fill="#2f52b1"/><path d="M98.9 152.1L100.5 154.4L101.2 152.9L99.6 151.9Z" fill="#567fcb"/><path d="M83.9 153.1L85.5 154.7L86.3 152.7L84.6 151.6Z" fill="#6189cd"/><path d="M68.7 158.4L70.3 160.1L71.1 158.5L69.5 156.2Z" fill="#4267b7"/><path d="M53.2 162.9L55 163.8L55.7 162.2L54 162Z" fill="#3153ac"/><path d="M107.3 154.8L108.9 156.6L109.5 156.6L107.9 154.9Z" fill="#3658a9"/><path d="M37.7 155.7L39.2 164.2L40 163.1L38.2 160.9Z" fill="#4269bc"/><path d="M92.4 153.2L94.1 153.5L94.8 152.6L93 152.3Z" fill="#608ad4"/><path d="M77.4 154.1L78.9 157.4L79.7 155.8L78.1 152.8Z" fill="#5880cb"/><path d="M62.1 161.5L63.8 160.4L64.5 160L62.7 159.3Z" fill="#3e65be"/><path d="M46.5 164.6L48.2 164.7L48.9 163.4L47.2 162.7Z" fill="#2d4ea6"/><path d="M100.8 152.8L102.6 153.8L103.2 154L101.5 154.4Z" fill="#4970bc"/><path d="M85.9 152.8L87.6 153.3L88.2 151.5L86.5 152.1Z" fill="#648bcc"/><path d="M70.8 158.6L72.5 157.7L73.1 156.8L71.4 156.5Z" fill="#4870c0"/><path d="M55.3 162.3L57.1 162.1L57.7 161L56 162.8Z" fill="#375cb8"/><path d="M109.1 156.5L110.9 156.2L111.5 156.5L109.7 156.4Z" fill="#375cba"/><path d="M39.7 162.7L41.4 163L42.1 164.7L40.4 164.7Z" fill="#3052a9"/><path d="M94.4 152.7L96.1 152.3L96.7 151.8L95 151.6Z" fill="#5f87cb"/><path d="M79.3 155.6L81 157.6L81.7 156.7L80.1 154.6Z" fill="#4d75c4"/><path d="M64 160.1L65.7 160.8L66.5 160.3L64.8 158.6Z" fill="#3d62b7"/><path d="M48.5 163.3L50.2 165.2L51 164.5L49.3 162.9Z" fill="#2a4aa1"/><path d="M102.8 153.9L104.5 154.3L105.1 154L103.4 155Z" fill="#476fc2"/><path d="M87.9 151.7L89.6 150.9L90.2 149.9L88.5 151.9Z" fill="#7499d5"/><path d="M72.7 156.9L74.3 159.2L75.1 157.7L73.5 154.5Z" fill="#4c75c6"/><path d="M57.3 161.1L59 162.8L59.8 161.2L58 160.8Z" fill="#3659ad"/><path d="M111.1 156.6L112.8 155.7L113.4 156.8L111.7 155.5Z" fill="#3457af"/><path d="M41.7 164.6L43.5 164.7L44.2 163.8L42.3 164.4Z" fill="#2a4a9f"/><path d="M96.3 151.8L98.1 151.9L98.7 152.7L96.9 152.5Z" fill="#618ad2"/><path d="M81.4 156.8L83 154.4L83.6 153.2L82 156Z" fill="#5279c2"/><path d="M66.1 160.4L67.9 159.5L68.4 158.5L66.7 159.5Z" fill="#3f65b9"/><path d="M50.6 164.5L52.3 162.4L53 163L51.3 164.5Z" fill="#2d4ea7"/><path d="M104.7 154L106.5 154.6L107 154.8L105.3 153.8Z" fill="#456bbd"/><path d="M89.9 149.9L91.4 154.5L92.1 153.8L90.6 149.1Z" fill="#658cca"/><path d="M74.8 157.8L76.5 156.3L77.1 155.7L75.3 156.9Z" fill="#496fba"/><path d="M59.4 161.1L61.1 162.4L61.8 162.3L60 161.2Z" fill="#395ebb"/><path d="M113 156.6L114.7 157.7L115.3 158.1L113.6 156.7Z" fill="#2b4ca7"/><path d="M43.8 163.8L45.5 165.4L46.2 164.7L44.5 163.1Z" fill="#2d4faa"/><path d="M98.3 152.5L100 154L100.6 154.4L99 152.1Z" fill="#5a85d4"/><path d="M83.3 153.2L84.9 155.6L85.7 154.5L84 152.9Z" fill="#5c84ca"/><path d="M68.1 158.5L69.8 159.9L70.5 160L68.8 158.2Z" fill="#4269bf"/><path d="M52.6 163L54.3 164.5L55.1 163.7L53.3 162.7Z" fill="#2e50aa"/><path d="M106.7 154.5L108.3 156.4L108.9 156.6L107.3 154.8Z" fill="#3f66bf"/><path d="M91.8 153.7L93.5 153.9L94.2 153.3L92.4 153Z" fill="#5b84cd"/><path d="M76.7 155.8L78.3 158.9L79.1 157.3L77.5 154.1Z" fill="#4f77c7"/><path d="M61.4 162.3L63.2 161.9L63.8 160.2L62 161.3Z" fill="#375bb2"/><path d="M45.8 164.6L47.6 165.2L48.3 164.5L46.5 164.3Z" fill="#2a4ba6"/><path d="M100.2 154.4L102 153.6L102.6 153.8L100.9 152.7Z" fill="#537ccd"/><path d="M85.3 154.6L87 153.8L87.7 153L86 152.6Z" fill="#5a7fc0"/><path d="M70.1 160L71.8 159.4L72.4 157.4L70.7 158.3Z" fill="#4369bd"/><path d="M54.7 163.8L56.5 162.9L57.1 162L55.4 162.1Z" fill="#3255ac"/><path d="M108.6 156.5L110.3 156.7L110.9 156.2L109.1 156.5Z" fill="#3659b1"/><path d="M39.1 164.2L40.7 154.1L41.4 163.3L39.8 163.1Z" fill="#4064b3"/><path d="M93.8 153.4L95.5 153.1L96.1 152.2L94.4 152.5Z" fill="#6089d0"/><path d="M78.7 157.2L80.4 158.2L81.1 157.5L79.5 155.5Z" fill="#476ebd"/><path d="M63.4 160.3L65.1 162.8L65.9 160.6L64.2 159.9Z" fill="#3a5eb4"/><path d="M47.9 164.5L49.6 165.4L50.4 165L48.7 163.2Z" fill="#2a4aa3"/><path d="M102.2 153.8L103.9 153.5L104.5 154.4L102.7 153.9Z" fill="#496fba"/><path d="M87.3 153.3L88.9 150.7L89.6 150.8L87.8 151.6Z" fill="#6f94d0"/><path d="M72.1 157.4L73.7 160.1L74.5 159.1L72.9 156.7Z" fill="#4166b5"/><path d="M56.7 162.1L58.5 162.6L59.1 162.7L57.4 161Z" fill="#3558ad"/><path d="M110.5 156.3L112.2 157.2L112.8 155.7L111.1 156.6Z" fill="#3558b0"/><path d="M41.1 163L42.9 163.9L43.5 164.7L41.8 164.7Z" fill="#3153ac"/><path d="M95.7 152.3L97.4 152.7L98.1 152L96.4 151.7Z" fill="#628ace"/><path d="M80.8 157.6L82.5 156L83 154.4L81.4 156.8Z" fill="#4f76c4"/><path d="M65.4 160.7L67.3 160.1L67.8 159.4L66.1 160.3Z" fill="#426ac5"/><path d="M50 165.1L51.8 163.7L52.3 162.5L50.6 164.5Z" fill="#2e50ab"/><path d="M104.1 154.3L105.9 154.2L106.5 154.5L104.7 154Z" fill="#466cbb"/><path d="M89.3 150.7L90.8 154.9L91.5 154.4L90 149.8Z" fill="#648bcb"/><path d="M74.2 159.2L75.9 158.3L76.4 156.3L74.7 157.5Z" fill="#466dbe"/><path d="M58.7 162.7L60.4 163.2L61.2 162.3L59.5 161Z" fill="#3458b0"/><path d="M112.5 155.7L114.1 157.6L114.7 157.7L113 156.6Z" fill="#3052a9"/><path d="M43.1 164.6L45 165L45.6 165.3L43.9 163.7Z" fill="#2c4ca4"/><path d="M97.7 151.9L99.4 153.6L100 154L98.3 152.5Z" fill="#5e88d4"/><path d="M82.7 154.5L84.3 156.2L85.1 155.4L83.4 153.1Z" fill="#5981ca"/><path d="M67.4 159.5L69.1 160.7L69.9 159.8L68.2 158.4Z" fill="#4066ba"/><path d="M52 162.5L53.7 164.2L54.4 164.4L52.7 162.9Z" fill="#3052aa"/><path d="M106.1 154.3L107.7 156L108.4 156.4L106.7 154.5Z" fill="#4067bb"/><path d="M91.2 154.3L92.9 155.1L93.6 153.7L91.9 153.5Z" fill="#5b84d1"/><path d="M76.2 156.3L77.7 159.4L78.4 158.8L76.9 155.7Z" fill="#4972c5"/><path d="M60.8 162.3L62.6 161.8L63.2 161.7L61.4 162.3Z" fill="#385db8"/><path d="M45.2 165.2L47 164.2L47.7 165.1L45.8 164.5Z" fill="#274597"/><path d="M99.6 153.8L101.4 154.4L102 153.6L100.2 154.4Z" fill="#517ac8"/><path d="M84.7 155.4L86.3 155.9L87 153.5L85.3 154.3Z" fill="#5b84d0"/><path d="M69.5 159.7L71.2 160.2L71.9 159.1L70.1 159.9Z" fill="#436bc5"/><path d="M54.1 164.4L55.9 163.3L56.5 162.7L54.7 163.7Z" fill="#3052ab"/><path d="M108 156.2L109.7 155.3L110.3 156.7L108.6 156.6Z" fill="#375aac"/><path d="M93.2 153.8L94.9 153.9L95.5 152.9L93.8 153.2Z" fill="#5d86ce"/><path d="M78.1 158.8L79.8 159.3L80.5 157.9L78.8 157Z" fill="#4269bb"/><path d="M62.8 161.8L64.5 162.9L65.2 162.7L63.6 160.1Z" fill="#3356a9"/><path d="M47.2 165L49 165.9L49.7 165.2L48 164.3Z" fill="#2847a0"/><path d="M101.6 153.6L103.3 154L104 153.6L102.2 153.8Z" fill="#547dcd"/><path d="M86.7 153.9L88.4 152L88.9 150.7L87.3 153.3Z" fill="#6f98d9"/><path d="M71.5 159.1L73.1 161.8L73.9 160L72.3 157.4Z" fill="#4168bf"/><path d="M56.1 162.9L57.8 163.6L58.5 162.4L56.8 161.9Z" fill="#3356ab"/><path d="M109.9 156.6L111.7 156.3L112.3 157.1L110.5 156.2Z" fill="#3b62c0"/><path d="M40.6 154.1L42.1 158.7L42.8 164.2L41.3 163.4Z" fill="#4970bd"/><path d="M95.1 153.1L96.8 153.7L97.5 152.5L95.8 152.1Z" fill="#5f87cc"/><path d="M80.1 158.1L81.9 156.7L82.4 155.9L80.7 157.5Z" fill="#476ebb"/><path d="M64.9 162.7L66.6 160.9L67.2 160L65.5 160.5Z" fill="#3d63bd"/><path d="M49.3 165.3L51.1 164.8L51.7 163.7L50 165.1Z" fill="#2c4da9"/><path d="M103.5 153.6L105.3 153.7L105.9 154.3L104.2 154.4Z" fill="#5079ca"/><path d="M88.7 150.7L90.2 155.5L90.9 154.9L89.4 150.7Z" fill="#658ecf"/><path d="M73.5 160L75.3 159.4L75.9 158L74.1 159Z" fill="#4268bc"/><path d="M58.1 162.4L59.9 163L60.6 163.1L58.7 162.6Z" fill="#3457b0"/><path d="M111.8 157L113.5 158.3L114.2 157.5L112.6 155.6Z" fill="#2f50a4"/><path d="M42.5 164L44.2 161.1L44.9 165L43.3 164.8Z" fill="#375cb7"/><path d="M97.1 152.4L98.7 154.5L99.4 153.6L97.8 151.8Z" fill="#5f88d1"/><path d="M82.1 156.1L83.7 157.1L84.5 156L82.8 154.4Z" fill="#527ac5"/><path d="M66.8 160.1L68.6 161L69.3 160.6L67.6 159.3Z" fill="#3f65ba"/><path d="M51.3 163.8L53 165.7L53.8 164.1L52.1 162.4Z" fill="#3052ac"/><path d="M105.5 154L107.1 156.7L107.8 155.9L106.2 154.3Z" fill="#4770c7"/><path d="M90.6 154.7L92.3 155.5L93 154.9L91.3 154.1Z" fill="#567fca"/><path d="M75.5 158L77.1 160.6L77.9 159.3L76.3 156.2Z" fill="#456cbf"/><path d="M60.2 163.2L61.9 161.6L62.6 161.8L60.8 162.3Z" fill="#3659b0"/><path d="M44.5 164.9L46.4 165.2L47 164.3L45.2 165.3Z" fill="#2b4ba1"/><path d="M99 153.4L100.8 153.6L101.4 154.3L99.6 153.9Z" fill="#537bc4"/><path d="M84.1 156.1L85.9 155.4L86.5 155.7L84.7 155.2Z" fill="#547dc8"/><path d="M68.9 160.6L70.7 160.2L71.3 160L69.5 159.6Z" fill="#3f64b9"/><path d="M53.4 164.1L55.2 163.3L55.9 163.3L54.1 164.5Z" fill="#3053ac"/><path d="M107.4 155.8L109.2 156L109.8 155.4L108 156.4Z" fill="#4067be"/><path d="M92.6 155L94.3 154.9L94.9 153.6L93.2 153.6Z" fill="#5981cc"/><path d="M77.5 159.2L79.2 160L79.9 159L78.2 158.5Z" fill="#4067bd"/><path d="M62.2 161.8L63.9 163.3L64.6 162.8L62.9 161.6Z" fill="#365bb5"/><path d="M46.6 164.3L48.4 165.6L49.1 165.9L47.2 165Z" fill="#2b4ca7"/><path d="M101 154.3L102.8 153.7L103.4 153.9L101.6 153.5Z" fill="#537bc7"/><path d="M86.2 155.9L87.8 153.3L88.3 152L86.6 153.6Z" fill="#648dd1"/><path d="M70.9 159.9L72.6 161.5L73.2 161.8L71.6 159Z" fill="#395cae"/><path d="M55.4 163.4L57.2 163.9L57.9 163.4L56.1 162.7Z" fill="#3559b5"/><path d="M109.4 155.4L111.1 155.9L111.7 156.5L110 156.8Z" fill="#3a5eb0"/><path d="M94.5 153.8L96.3 153.2L96.9 153.6L95.2 152.9Z" fill="#608ad1"/><path d="M79.5 159.2L81.3 157.9L81.8 156.7L80.1 158Z" fill="#476fc1"/><path d="M64.2 162.9L66 161.5L66.6 160.8L64.9 162.7Z" fill="#395fb9"/><path d="M48.7 165.9L50.5 164.8L51.1 164.7L49.3 165.2Z" fill="#2a4ba6"/><path d="M102.9 153.9L104.6 154.6L105.3 153.7L103.6 153.5Z" fill="#4f76c1"/><path d="M88.1 152L89.6 156.5L90.3 155.5L88.8 150.6Z" fill="#668fd4"/><path d="M72.9 161.8L74.7 159.9L75.2 159.1L73.5 159.8Z" fill="#3e64ba"/><path d="M57.5 163.4L59.2 163.9L59.9 162.9L58.2 162.3Z" fill="#3457b0"/><path d="M111.3 156.3L113 157.6L113.6 158.2L111.9 156.9Z" fill="#3457b0"/><path d="M42 158.7L43.6 160.5L44.3 161.4L42.7 164.2Z" fill="#4871c6"/><path d="M96.5 153.5L98.2 154.2L98.8 154.4L97.2 152.3Z" fill="#5d86d0"/><path d="M81.5 156.8L83.1 158L83.9 156.8L82.2 155.8Z" fill="#4f77c6"/><path d="M66.2 160.9L67.9 162.7L68.7 160.8L67 159.9Z" fill="#395daf"/><path d="M50.7 164.7L52.5 165.5L53.2 165.6L51.5 163.6Z" fill="#2b4ca5"/><path d="M105 153.6L106.5 156.1L107.2 156.6L105.6 154Z" fill="#476fc2"/><path d="M90 155.3L91.7 155.8L92.4 155.3L90.7 154.5Z" fill="#5983d2"/><path d="M74.9 159.2L76.5 161.6L77.3 160.5L75.6 157.9Z" fill="#4066bc"/><path d="M59.5 163L61.3 163.2L61.9 161.7L60.2 163.2Z" fill="#365ab2"/><path d="M44.1 161.1L45.6 165.2L46.3 165.2L44.7 165.1Z" fill="#375bb7"/><path d="M98.4 154.3L100.2 154.6L100.8 153.6L99.1 153.3Z" fill="#577fc8"/><path d="M83.5 157L85.3 156.2L85.8 155.4L84.1 155.9Z" fill="#537bc7"/><path d="M68.2 160.9L70 160.9L70.7 160.1L68.8 160.5Z" fill="#3f65bb"/><path d="M52.8 165.7L54.6 163.9L55.2 163.3L53.4 164Z" fill="#2d4ea3"/><path d="M106.8 156.5L108.6 155.7L109.2 156L107.4 155.7Z" fill="#4269c1"/><path d="M92 155.3L93.7 155.6L94.3 154.7L92.6 154.8Z" fill="#557eca"/><path d="M76.9 160.5L78.5 161.9L79.3 159.7L77.6 159Z" fill="#3b60b6"/><path d="M61.6 161.7L63.2 164.1L64 163.2L62.3 161.7Z" fill="#3456ac"/><path d="M46 165L47.7 166.3L48.5 165.5L46.7 164.2Z" fill="#2d4ea9"/><path d="M100.4 153.7L102.2 153.9L102.8 153.7L101 154.4Z" fill="#5a84d1"/><path d="M85.5 155.6L87.2 154.1L87.8 153.3L86.2 155.9Z" fill="#5c83c8"/><path d="M70.3 160L71.9 162.9L72.7 161.3L71 159.8Z" fill="#395db1"/><path d="M54.8 163.4L56.6 164L57.3 163.8L55.5 163.2Z" fill="#3457b1"/><path d="M108.7 156L110.5 156.5L111.1 156L109.4 155.3Z" fill="#3c61b2"/><path d="M94 154.9L95.7 154.4L96.3 153.1L94.6 153.6Z" fill="#567bbe"/><path d="M78.9 159.9L80.7 158.7L81.2 157.8L79.5 159.2Z" fill="#4269bc"/><path d="M63.6 163.2L65.4 162.7L66 161.5L64.2 162.8Z" fill="#3558af"/><path d="M48 165.5L49.9 165.8L50.5 164.8L48.7 165.9Z" fill="#2a4ba4"/><path d="M102.4 153.7L104.1 154.6L104.7 154.4L103 153.8Z" fill="#5279c4"/><path d="M87.5 153.3L89 157.2L89.7 156.5L88.2 151.9Z" fill="#5e86cd"/><path d="M72.3 161.4L74 160.4L74.6 159.8L73 161.8Z" fill="#3b60b6"/><path d="M56.8 163.8L58.6 164.2L59.3 163.7L57.5 163.2Z" fill="#3153aa"/><path d="M110.7 155.8L112.3 158L113 157.6L111.3 156.2Z" fill="#385cb2"/><path d="M95.9 153.1L97.6 155.2L98.3 154.1L96.5 153.4Z" fill="#5d86cf"/><path d="M80.9 158L82.5 158.9L83.3 157.8L81.6 156.6Z" fill="#4b75c8"/><path d="M65.6 161.5L67.3 163.1L68 162.6L66.3 160.7Z" fill="#3a60b9"/><path d="M50.1 164.8L51.9 165.5L52.6 165.4L50.8 164.6Z" fill="#2e50ac"/><path d="M104.3 154.3L105.9 156.4L106.6 156L105 153.6Z" fill="#4367b0"/><path d="M89.4 156.4L91.1 156.4L91.8 155.6L90.1 155.1Z" fill="#5077c1"/><path d="M74.3 159.9L75.9 162.4L76.7 161.5L75 159.1Z" fill="#3b60b6"/><path d="M58.9 163.8L60.7 163.8L61.3 162.9L59.6 162.8Z" fill="#3458b1"/><path d="M43.3 160.5L45 159.1L45.6 165.2L43.9 161.2Z" fill="#4268b7"/><path d="M97.9 154L99.5 155.4L100.2 154.4L98.5 154.2Z" fill="#5a83d1"/><path d="M82.9 158L84.7 156.8L85.2 156L83.4 156.8Z" fill="#5079c7"/><path d="M67.7 162.7L69.3 162.6L70 160.6L68.3 160.6Z" fill="#395db3"/><path d="M52.1 165.4L54 165.1L54.6 163.9L52.9 165.7Z" fill="#2d4fa9"/><path d="M106.2 155.9L108 155.8L108.6 155.8L106.9 156.6Z" fill="#4268bb"/><path d="M91.4 155.7L93.2 155.6L93.8 155.5L92 155.2Z" fill="#5279c3"/><path d="M76.3 161.3L77.9 162.7L78.7 161.7L77 160.2Z" fill="#375cb5"/><path d="M60.9 163L62.6 164.2L63.3 164L61.7 161.6Z" fill="#3457ae"/><path d="M45.3 165L47.1 163.7L47.8 166.3L46 165.1Z" fill="#2e4fa4"/><path d="M99.8 154.5L101.5 155L102.2 153.8L100.5 153.5Z" fill="#557dc5"/><path d="M84.9 156.3L86.6 154.6L87.2 154.1L85.5 155.6Z" fill="#5d85cb"/><path d="M69.7 160.6L71.3 163.3L72 162.8L70.4 159.9Z" fill="#375baf"/><path d="M54.2 164L55.9 165L56.7 163.9L54.9 163.3Z" fill="#3559b5"/><path d="M108.2 155.7L109.9 156.5L110.5 156.4L108.8 155.9Z" fill="#3f64b6"/><path d="M93.4 155.6L95 153.7L95.7 154.2L93.9 154.8Z" fill="#5f89d5"/><path d="M78.4 161.9L80 160.6L80.6 158.6L78.9 159.6Z" fill="#3f66be"/><path d="M63 164.1L64.8 162.7L65.4 162.5L63.6 163Z" fill="#3355ab"/><path d="M47.4 166.2L49.3 165.7L49.9 165.7L48.1 165.3Z" fill="#2b4ca7"/><path d="M101.8 153.8L103.5 154.4L104.1 154.6L102.4 153.6Z" fill="#5983d0"/><path d="M86.9 154.1L88.5 157.4L89.1 157.1L87.6 153.2Z" fill="#5981c9"/><path d="M71.7 162.8L73.4 162.5L74 160.4L72.3 161.1Z" fill="#375aae"/><path d="M56.2 163.9L58 164.3L58.7 164.1L56.9 163.7Z" fill="#3356af"/><path d="M110.1 156.2L111.7 158.5L112.4 157.9L110.8 155.8Z" fill="#3d64c0"/><path d="M95.3 154.2L97 155.8L97.7 155.1L96 153Z" fill="#567cc1"/><path d="M80.2 158.7L81.9 160.2L82.7 158.7L81 157.7Z" fill="#466ec3"/><path d="M65 162.6L66.7 163.7L67.4 163L65.7 161.4Z" fill="#375bb3"/><path d="M49.4 165.7L51.2 166.6L51.9 165.3L50.2 164.7Z" fill="#2c4ca6"/><path d="M103.8 154.3L105.4 156.6L106 156.3L104.4 154.2Z" fill="#4a72c1"/><path d="M88.8 157L90.5 157.6L91.2 156.2L89.5 156.1Z" fill="#4e75c3"/><path d="M73.7 160.4L75.3 162.6L76 162.4L74.4 159.8Z" fill="#3c62bc"/><path d="M58.3 164.2L60.1 163.5L60.7 163.6L58.9 163.7Z" fill="#3458b2"/><path d="M97.3 155L98.9 155.9L99.6 155.2L98 153.8Z" fill="#5279c2"/><path d="M82.3 158.9L83.9 159.1L84.6 156.7L82.9 157.7Z" fill="#4d77cc"/><path d="M67 163L68.8 163.1L69.4 162.3L67.6 162.4Z" fill="#3456ab"/><path d="M51.5 165.4L53.2 164.1L54 165.1L52.2 165.5Z" fill="#3053ae"/><path d="M105.6 156.2L107.4 156.7L108 155.8L106.3 155.8Z" fill="#456cc0"/><path d="M90.8 156.4L92.5 155.2L93.2 155.6L91.4 155.6Z" fill="#5982cf"/><path d="M75.6 162.2L77.4 163.2L78.1 162.5L76.4 161.2Z" fill="#3458b1"/><path d="M60.3 163.6L62 164.8L62.8 164L61 162.8Z" fill="#3458b4"/><path d="M44.9 159.1L46.4 165.9L47.2 164L45.5 165.2Z" fill="#3c61b7"/><path d="M99.2 155.3L101 154.3L101.6 154.8L99.8 154.3Z" fill="#5882ce"/><path d="M84.3 157L86 155.3L86.6 154.6L84.9 156.3Z" fill="#5c84cd"/><path d="M69 162.3L70.7 164.2L71.4 163.2L69.8 160.6Z" fill="#3960be"/><path d="M53.6 165.1L55.3 165.7L56 164.8L54.3 163.8Z" fill="#2f50a8"/><path d="M107.6 155.9L109.3 155.2L109.9 156.5L108.2 155.8Z" fill="#4770c6"/><path d="M92.8 155.7L94.5 155.2L95.1 153.8L93.4 155.6Z" fill="#5b84cd"/><path d="M77.7 162.6L79.4 160.9L80 160.3L78.3 161.8Z" fill="#395db5"/><path d="M62.3 164.1L64.2 163.6L64.7 162.7L63 164.1Z" fill="#3355ac"/><path d="M46.8 163.7L48.5 164L49.2 165.9L47.5 166.3Z" fill="#3356b0"/><path d="M101.2 154.8L102.8 155.7L103.5 154.2L101.9 153.7Z" fill="#5278bf"/><path d="M86.3 154.6L87.9 157.3L88.5 157.4L87 154Z" fill="#567cc2"/><path d="M71.1 163.3L72.7 161.1L73.5 162.3L71.7 162.8Z" fill="#385db7"/><path d="M55.6 164.8L57.3 165.9L58 164.1L56.3 163.7Z" fill="#2e4fa4"/><path d="M109.6 156.2L111.2 158.1L111.8 158.5L110.2 156.2Z" fill="#3e65bf"/><path d="M94.8 153.8L96.4 155.5L97.1 155.7L95.4 154.1Z" fill="#5a82c9"/><path d="M79.7 160.6L81.3 161.2L82.1 160L80.4 158.5Z" fill="#4067bc"/><path d="M64.4 162.8L66.1 163.9L66.8 163.6L65.1 162.4Z" fill="#365ab2"/><path d="M48.8 165.7L50.7 165.8L51.3 166.5L49.5 165.6Z" fill="#2c4ea9"/><path d="M103.2 154.2L104.8 156.1L105.4 156.5L103.8 154.3Z" fill="#4e76c4"/><path d="M88.2 157.2L90 157.3L90.6 157.4L88.8 156.8Z" fill="#4d74c3"/><path d="M73 162.3L74.7 164L75.5 162.4L73.8 160.3Z" fill="#375bb2"/><path d="M57.6 164.2L59.4 164.5L60.1 163.5L58.3 164.1Z" fill="#355ab5"/><path d="M96.7 155.5L98.3 156.9L99.1 155.7L97.4 154.8Z" fill="#557ecd"/><path d="M81.7 160.1L83.5 159.2L84.1 158.9L82.3 158.6Z" fill="#4770c6"/><path d="M66.4 163.6L68.2 163L68.8 162.9L67 162.8Z" fill="#365ab4"/><path d="M50.9 166.5L52.7 164.9L53.3 164.1L51.5 165.4Z" fill="#2f51aa"/><path d="M105.1 156.4L106.8 156L107.4 156.6L105.7 156.1Z" fill="#4268b7"/><path d="M90.2 157.5L91.9 157.1L92.5 155.2L90.8 156.1Z" fill="#547dcb"/><path d="M75 162.3L76.8 163.4L77.5 163L75.7 162.1Z" fill="#3458b3"/><path d="M59.7 163.5L61.4 165.6L62.1 164.7L60.4 163.5Z" fill="#3153ab"/><path d="M98.7 155.8L100.4 154.4L101 154.4L99.2 155.3Z" fill="#5982ce"/><path d="M83.7 159.1L85.4 156.7L85.9 155.2L84.2 156.8Z" fill="#5781cf"/><path d="M68.4 162.8L70.1 165.1L70.8 164.1L69.2 162.2Z" fill="#3255ae"/><path d="M53 164.1L54.7 165.9L55.4 165.6L53.6 165Z" fill="#3155b1"/><path d="M107 156.6L108.7 157.1L109.3 155.3L107.6 155.8Z" fill="#466ec2"/><path d="M92.1 155.3L93.9 156.3L94.5 155.1L92.7 155.6Z" fill="#547abf"/><path d="M77.1 163.1L78.8 161.7L79.4 160.9L77.7 162.6Z" fill="#3659b0"/><path d="M61.7 164.7L63.5 163.8L64.2 163.5L62.3 164Z" fill="#3255ad"/><path d="M46.2 165.8L47.8 162.5L48.6 164.2L46.8 163.8Z" fill="#3b60b9"/><path d="M100.6 154.3L102.3 156.3L103 155.5L101.2 154.6Z" fill="#5279c2"/><path d="M85.7 155.2L87.2 159.1L88 157.2L86.4 154.5Z" fill="#567dc6"/><path d="M70.5 164.2L72.2 163.1L72.8 161.2L71 163.2Z" fill="#3457ad"/><path d="M55 165.5L56.7 166.1L57.4 165.7L55.7 164.6Z" fill="#2d4ea8"/><path d="M109 155.2L110.6 157.6L111.2 158.1L109.6 156.2Z" fill="#4167bc"/><path d="M94.1 155.1L95.8 157.1L96.5 155.3L94.9 153.7Z" fill="#5c85d0"/><path d="M79 161L80.7 162.1L81.5 161L79.7 160.3Z" fill="#3d63bc"/><path d="M63.7 163.6L65.5 164.6L66.2 163.7L64.5 162.7Z" fill="#3559b2"/><path d="M48.2 164.1L50 164.5L50.6 165.9L48.9 165.9Z" fill="#3457b1"/><path d="M102.5 155.4L104.2 157.7L104.9 156L103.3 154.1Z" fill="#4e76c5"/><path d="M87.6 157L89.3 159L90 157.2L88.3 157Z" fill="#4d76c5"/><path d="M72.5 161.2L74.1 164L74.8 163.9L73.1 162.1Z" fill="#385eba"/><path d="M57.1 165.8L58.8 165.3L59.5 164.3L57.7 164Z" fill="#2d4da0"/><path d="M96.1 155.2L97.8 156.9L98.4 156.8L96.8 155.4Z" fill="#5279c6"/><path d="M81.1 161.1L82.8 161.1L83.4 159L81.7 159.9Z" fill="#4167bd"/><path d="M65.8 163.7L67.6 163.2L68.2 163L66.4 163.6Z" fill="#385db8"/><path d="M50.2 165.8L52.1 165.2L52.7 164.9L51 166.6Z" fill="#2e4fa5"/><path d="M104.5 155.9L106.2 155.2L106.9 156.1L105.1 156.5Z" fill="#4c74c6"/><path d="M89.6 157.3L91.3 158L92 156.8L90.2 157.4Z" fill="#5079ca"/><path d="M74.4 163.8L76.1 164.3L76.9 163.1L75.2 162.2Z" fill="#3052aa"/><path d="M59 164.4L60.9 164.8L61.5 165.6L59.8 163.4Z" fill="#2f50a4"/><path d="M98.1 156.9L99.8 155.9L100.4 154.4L98.6 155.7Z" fill="#537bc5"/><path d="M83.1 159.3L84.8 158.3L85.3 156.6L83.7 159.1Z" fill="#4a70bd"/><path d="M67.8 162.9L69.5 164.9L70.2 165.1L68.5 162.8Z" fill="#3356b1"/><path d="M52.3 164.9L54.1 165.6L54.7 165.8L53 164.1Z" fill="#3153aa"/><path d="M106.4 156L108.2 156.3L108.8 157L107 156.6Z" fill="#4a73cb"/><path d="M91.6 157L93.2 157.8L93.9 156.1L92.3 155.1Z" fill="#547dc8"/><path d="M76.5 163.3L78.2 161.9L78.8 161.7L77.1 163.1Z" fill="#3558ae"/><path d="M61.1 165.6L62.9 164.5L63.5 163.7L61.7 164.6Z" fill="#3153aa"/><path d="M100 154.4L101.7 156.1L102.3 156.2L100.7 154.3Z" fill="#547ac2"/><path d="M85.1 156.6L86.6 160.7L87.4 159L85.8 155.2Z" fill="#5078c8"/><path d="M69.9 165.1L71.6 163.6L72.2 162.9L70.4 164.1Z" fill="#3357b5"/><path d="M54.3 165.7L56.2 165.4L56.8 166L55 165.4Z" fill="#2e4fa9"/><path d="M108.4 156.9L110 158.4L110.7 157.5L109.1 155.2Z" fill="#446bc2"/><path d="M93.5 156.1L95.2 158L95.9 156.9L94.3 154.9Z" fill="#5178c2"/><path d="M78.4 161.8L80.1 163.1L80.9 161.9L79.2 160.8Z" fill="#395eb7"/><path d="M63.1 163.8L64.8 165.8L65.6 164.4L63.8 163.4Z" fill="#365bba"/><path d="M47.6 162.7L49.2 159.3L49.9 164.8L48.3 164.4Z" fill="#4166b6"/><path d="M102 156L103.7 156.6L104.3 157.6L102.7 155.3Z" fill="#4f78cb"/><path d="M87 158.9L88.7 159.8L89.4 158.9L87.8 156.9Z" fill="#4b74c9"/><path d="M71.8 163L73.5 165.3L74.2 163.9L72.6 161.1Z" fill="#3153a7"/><path d="M56.4 166.1L58.2 165L58.9 165.1L57 165.8Z" fill="#2d4da3"/><path d="M95.5 156.9L97.2 156.9L97.9 156.8L96.2 155.1Z" fill="#5077c1"/><path d="M80.5 162.1L82.2 160.9L82.8 160.8L81.1 160.9Z" fill="#3e65bd"/><path d="M65.2 164.5L66.9 164.8L67.6 163.1L65.8 163.5Z" fill="#3457ae"/><path d="M49.6 164.6L51.4 164.6L52.1 165.4L50.3 166Z" fill="#3558b0"/><path d="M104 157.6L105.7 156.2L106.2 155.3L104.5 155.8Z" fill="#4d76c8"/><path d="M89 158.9L90.7 158.7L91.4 157.8L89.7 157.1Z" fill="#4b73c4"/><path d="M73.8 163.8L75.6 163.7L76.3 164.2L74.4 163.7Z" fill="#3053ad"/><path d="M58.4 165.2L60.2 165.9L60.9 164.7L59.1 164.2Z" fill="#3154ac"/><path d="M97.5 156.8L99.2 155.9L99.8 155.7L98.1 156.9Z" fill="#557ecd"/><path d="M82.5 161.1L84.2 159.3L84.8 158.1L83.1 159.1Z" fill="#456cbd"/><path d="M67.2 163.1L68.9 165.3L69.6 164.9L67.9 162.8Z" fill="#365bb8"/><path d="M51.7 165.3L53.4 166.2L54.2 165.4L52.4 164.8Z" fill="#3255ad"/><path d="M105.9 155.3L107.6 156.4L108.2 156.4L106.4 156.1Z" fill="#4a71c0"/><path d="M91 157.9L92.7 158.3L93.4 157.6L91.7 156.7Z" fill="#4f78c9"/><path d="M75.9 164.3L77.7 163.2L78.2 161.9L76.4 163.2Z" fill="#3559b3"/><path d="M60.5 164.7L62.3 164.4L62.9 164.5L61.2 165.6Z" fill="#2f50a4"/><path d="M99.4 155.9L101.1 156.4L101.8 156L100.1 154.4Z" fill="#577fca"/><path d="M84.5 158.2L86.1 161L86.7 160.7L85.2 156.6Z" fill="#456cba"/><path d="M69.2 164.8L71 164L71.6 163.6L69.9 165.1Z" fill="#2f51a8"/><path d="M53.7 165.4L55.5 166.2L56.2 165.4L54.3 165.7Z" fill="#3255b0"/><path d="M107.8 156.2L109.6 157.5L110.1 158.3L108.4 156.8Z" fill="#4167b9"/><path d="M92.9 157.6L94.6 158.5L95.3 157.8L93.7 155.9Z" fill="#4f78c7"/><path d="M77.9 162L79.5 164L80.3 163L78.6 161.6Z" fill="#365ab1"/><path d="M62.5 164.5L64.3 165.5L64.9 165.7L63.2 163.7Z" fill="#3559b7"/><path d="M101.4 155.8L103.1 157.3L103.8 156.5L102 155.9Z" fill="#4f77c5"/><path d="M86.4 160.6L88.2 160.2L88.8 159.5L87.1 158.6Z" fill="#4167b7"/><path d="M71.2 163.6L72.9 165.8L73.6 165.2L72 162.8Z" fill="#2e4fa6"/><path d="M55.8 165.4L57.6 166.1L58.2 165.1L56.4 166.1Z" fill="#2f50a7"/><path d="M94.9 157.8L96.6 158.6L97.3 156.6L95.6 156.7Z" fill="#4d76c5"/><path d="M79.9 163.1L81.7 162L82.2 160.9L80.4 161.9Z" fill="#3a5fb6"/><path d="M64.6 165.7L66.3 164.2L67 164.6L65.2 164.3Z" fill="#3357b2"/><path d="M49.1 159.3L50.7 160.6L51.3 164.9L49.8 164.9Z" fill="#4870c3"/><path d="M103.3 156.4L105 157.6L105.7 156.1L104 157.6Z" fill="#4a72c4"/><path d="M88.4 159.7L90.2 158.7L90.8 158.5L89 158.8Z" fill="#4871c4"/><path d="M73.2 165.2L74.9 165.6L75.6 163.6L73.9 163.6Z" fill="#2e4fa9"/><path d="M57.8 165.1L59.5 166.6L60.3 165.7L58.5 165Z" fill="#3053ad"/><path d="M96.9 156.8L98.7 156.7L99.2 155.9L97.5 156.9Z" fill="#557ecc"/><path d="M81.9 161.2L83.5 159.4L84.2 159.2L82.5 161.1Z" fill="#466ec3"/><path d="M66.5 164.6L68.2 166L69 165.2L67.3 163Z" fill="#3053aa"/><path d="M51 164.7L52.8 163.8L53.5 166.1L51.7 165.5Z" fill="#3557aa"/><path d="M105.3 156.2L106.9 157.7L107.6 156.2L106 155.2Z" fill="#4b72c0"/><path d="M90.4 158.6L92.1 159L92.8 158.1L91 157.7Z" fill="#4c74c5"/><path d="M75.2 163.8L77.1 163.7L77.6 163.1L75.9 164.3Z" fill="#2f4fa2"/><path d="M59.9 165.8L61.6 165.9L62.3 164.4L60.5 164.6Z" fill="#3154ab"/><path d="M98.8 156L100.5 157L101.2 156.3L99.5 155.7Z" fill="#567eca"/><path d="M83.9 159.2L85.5 162.7L86.2 160.9L84.6 158.1Z" fill="#4269bb"/><path d="M68.6 165.2L70.4 164.9L71 164L69.2 164.8Z" fill="#2f50a7"/><path d="M53.1 166L54.8 167L55.6 166.1L53.8 165.3Z" fill="#3357b5"/><path d="M107.3 156.1L108.8 158.7L109.6 157.5L107.9 156.2Z" fill="#4972c8"/><path d="M92.3 158.2L94.1 158.4L94.7 158.3L93 157.4Z" fill="#4b73c3"/><path d="M77.2 163.2L79 164.1L79.6 163.9L78 161.9Z" fill="#375cb8"/><path d="M61.9 164.5L63.6 166L64.3 165.3L62.6 164.4Z" fill="#3459b5"/><path d="M100.8 156.1L102.4 158.7L103.2 157.1L101.5 155.7Z" fill="#4b72be"/><path d="M85.8 160.8L87.5 161.6L88.2 159.9L86.4 160.4Z" fill="#456eca"/><path d="M70.6 164L72.3 166L73 165.7L71.3 163.5Z" fill="#2e4fa6"/><path d="M55.1 166.1L57 165.9L57.6 166L55.8 165.3Z" fill="#3153ab"/><path d="M94.3 158.2L96 159.1L96.7 158.4L95 157.6Z" fill="#466dbc"/><path d="M79.3 163.9L81 162.7L81.6 161.8L79.8 163Z" fill="#375bb3"/><path d="M63.9 165.3L65.7 165.9L66.3 164.2L64.6 165.7Z" fill="#2f50a6"/><path d="M102.7 157.1L104.5 157.8L105.1 157.4L103.4 156.3Z" fill="#4a73c3"/><path d="M87.8 160.1L89.5 160.5L90.1 158.6L88.4 159.5Z" fill="#4770c6"/><path d="M72.6 165.6L74.4 166L75 165.4L73.3 164.9Z" fill="#2a4ba6"/><path d="M57.2 165.9L58.9 167.3L59.7 166.4L57.9 164.9Z" fill="#2e50a9"/><path d="M96.3 158.5L98.1 157.1L98.6 156.5L96.9 156.6Z" fill="#547ecf"/><path d="M81.3 162.1L83 160.7L83.6 159.4L81.8 161.1Z" fill="#4167b8"/><path d="M66 164.2L67.6 167.1L68.4 165.9L66.7 164.5Z" fill="#3053af"/><path d="M50.5 160.6L52.1 159.3L52.8 164.2L51.2 165Z" fill="#4a72c2"/><path d="M104.7 157.4L106.4 157.9L107.1 157.5L105.4 156Z" fill="#4971c4"/><path d="M89.8 158.7L91.5 159.2L92.2 158.8L90.4 158.4Z" fill="#4a72c3"/><path d="M74.7 165.6L76.4 164.1L77 163.6L75.3 163.6Z" fill="#3254ae"/><path d="M59.2 166.5L61 165.1L61.7 165.7L59.8 165.7Z" fill="#3053ac"/><path d="M98.2 156.6L99.9 158L100.6 156.8L98.9 155.8Z" fill="#5178c2"/><path d="M83.3 159.4L84.9 163.4L85.6 162.6L84 159.1Z" fill="#3f64b8"/><path d="M68 165.9L69.8 164.8L70.4 164.8L68.6 165Z" fill="#3153ae"/><path d="M52.6 163.8L54.2 166.5L54.9 167L53.1 166.1Z" fill="#3457b0"/><path d="M106.6 157.4L108.3 159.1L109 158.6L107.4 156Z" fill="#4267b8"/><path d="M91.7 158.9L93.4 159.8L94.1 158.2L92.4 158Z" fill="#486fbf"/><path d="M76.6 163.7L78.4 164.5L79.1 163.9L77.3 163Z" fill="#3356ac"/><path d="M61.3 165.8L63 166.8L63.7 165.8L62 164.4Z" fill="#3153ac"/><path d="M100.2 156.7L101.9 158.9L102.5 158.6L100.9 156Z" fill="#4c74c5"/><path d="M85.2 162.6L86.9 163L87.6 161.3L85.9 160.6Z" fill="#3b60b7"/><path d="M70 164.7L71.7 166.8L72.4 165.9L70.7 163.9Z" fill="#2d4ea6"/><path d="M54.5 166.9L56.4 166.6L57 165.8L55.2 166Z" fill="#3053ac"/><path d="M93.7 158.2L95.5 159.3L96.1 159L94.4 158.1Z" fill="#466dbb"/><path d="M78.6 164L80.4 163L81 162.7L79.3 163.9Z" fill="#3152a3"/><path d="M63.3 165.8L65.1 165.7L65.8 165.8L64 165.1Z" fill="#3052ac"/><path d="M102.2 158.6L104 157.6L104.5 157.6L102.8 156.9Z" fill="#466cb9"/><path d="M87.2 161.5L88.9 161.3L89.6 160.2L87.9 159.8Z" fill="#3f64b6"/><path d="M72 165.8L73.8 166.1L74.4 165.9L72.6 165.5Z" fill="#29489f"/><path d="M56.6 165.8L58.3 167.1L59 167.2L57.3 165.8Z" fill="#3052ad"/><path d="M95.7 159.1L97.5 158.7L98 157L96.3 158.5Z" fill="#496fbd"/><path d="M80.7 162.9L82.4 161.2L83 160.6L81.3 162.1Z" fill="#4066bc"/><path d="M65.3 165.7L67.1 166.7L67.7 167L66.1 164.1Z" fill="#2e4fa7"/><path d="M104.1 157.6L105.9 157.8L106.5 157.8L104.7 157.3Z" fill="#466cbb"/><path d="M89.2 160.4L90.8 161.4L91.5 158.9L89.9 158.5Z" fill="#4268b7"/><path d="M74 166L75.8 165.1L76.4 164L74.6 165.6Z" fill="#2f51ac"/><path d="M58.7 167.2L60.4 165.7L61 165.1L59.3 166.5Z" fill="#3154ae"/><path d="M97.6 157.1L99.5 157.4L100 157.9L98.3 156.4Z" fill="#557ecb"/><path d="M82.7 160.6L84.3 163.7L84.9 163.4L83.4 159.4Z" fill="#426ac4"/><path d="M67.4 167L69.1 165.2L69.7 164.7L68 165.9Z" fill="#2f51ab"/><path d="M52 159.3L53.6 164.7L54.2 166.6L52.5 164.2Z" fill="#446cc0"/><path d="M106.1 157.6L107.7 159.9L108.4 159L106.8 157.3Z" fill="#4268bc"/><path d="M91.2 159L92.8 160.4L93.6 159.6L91.8 158.6Z" fill="#486fc2"/><path d="M76 164.1L77.8 165L78.5 164.3L76.7 163.6Z" fill="#3356ad"/><path d="M60.7 165.1L62.4 167.1L63.1 166.7L61.3 165.6Z" fill="#2f50a7"/><path d="M99.6 157.7L101.3 159.1L102 158.8L100.3 156.6Z" fill="#4f79cf"/><path d="M84.6 163.3L86.4 163.2L87 162.7L85.3 162.3Z" fill="#3456a9"/><path d="M69.4 164.7L71.1 167.3L71.8 166.7L70.1 164.6Z" fill="#2d4fa9"/><path d="M53.9 166.5L55.6 162.9L56.3 166.6L54.7 167Z" fill="#375cb5"/><path d="M93.1 159.7L94.8 160.1L95.5 159.1L93.8 158.1Z" fill="#4870c3"/><path d="M78 164.4L79.8 163.7L80.4 163L78.6 164Z" fill="#3457ad"/><path d="M62.7 166.7L64.5 166.3L65.1 165.6L63.3 165.7Z" fill="#2f51aa"/><path d="M101.6 158.8L103.4 158.6L103.9 157.5L102.2 158.5Z" fill="#466ebf"/><path d="M86.7 162.9L88.4 161.7L89 161.1L87.2 161.3Z" fill="#3b5fb2"/><path d="M71.4 166.7L73.2 166.5L73.8 166L72.1 165.7Z" fill="#2a4aa4"/><path d="M55.9 166.5L57.7 167.5L58.4 166.9L56.7 165.7Z" fill="#2f51a9"/><path d="M95.1 159.2L96.9 158.8L97.5 158.5L95.7 159Z" fill="#4870bf"/><path d="M80 163.2L81.8 162.6L82.4 161.2L80.7 162.9Z" fill="#3e65bc"/><path d="M64.7 165.6L66.4 167.5L67.2 166.5L65.4 165.6Z" fill="#2c4ca3"/><path d="M103.5 157.5L105.2 159.1L105.9 157.7L104.2 157.4Z" fill="#4a72c5"/><path d="M88.6 161.3L90.4 160.5L91 161.2L89.2 160.2Z" fill="#4166b9"/><path d="M73.4 166.1L75.2 165.1L75.8 165.1L74 166Z" fill="#2e50ab"/><path d="M58 167L59.8 166.7L60.4 165.7L58.7 167.2Z" fill="#3052ab"/><path d="M97.1 158.6L98.7 159.5L99.4 157.2L97.8 156.9Z" fill="#4f78c6"/><path d="M82.1 161.2L83.7 164.8L84.4 163.7L82.8 160.5Z" fill="#3a5eb2"/><path d="M66.7 166.5L68.6 166.4L69.1 165.2L67.4 167Z" fill="#2c4da5"/><path d="M105.5 157.6L107.2 159L107.8 159.9L106.2 157.6Z" fill="#4269ba"/><path d="M90.6 161.3L92.2 161.7L93 160.1L91.3 158.9Z" fill="#436abe"/><path d="M75.4 165.2L77.1 166.3L77.8 164.8L76.1 164Z" fill="#3154af"/><path d="M60 165.7L61.7 167.4L62.5 167L60.8 165.1Z" fill="#3356b2"/><path d="M99.1 157.1L100.7 160.9L101.4 159L99.7 157.5Z" fill="#476fbf"/><path d="M84 163.5L85.8 163.8L86.4 163.1L84.6 163.1Z" fill="#365ab2"/><path d="M68.8 165.2L70.5 167.5L71.1 167.2L69.5 164.7Z" fill="#2b4ba0"/><path d="M53.3 164.3L55 166.3L55.6 162.9L54 166.6Z" fill="#395cac"/><path d="M92.5 160.2L94.2 161.6L94.9 159.9L93.2 159.4Z" fill="#4268b9"/><path d="M77.4 164.9L79.2 164.8L79.8 163.6L78 164.2Z" fill="#3356ac"/><path d="M62.1 167L63.9 166.6L64.5 166.1L62.7 166.6Z" fill="#2c4da2"/><path d="M101 158.9L102.8 159.1L103.4 158.4L101.6 158.7Z" fill="#4369b7"/><path d="M86 163.2L87.8 162.3L88.4 161.6L86.6 162.9Z" fill="#3c61b9"/><path d="M70.8 167.1L72.5 167.5L73.2 166.3L71.4 166.5Z" fill="#27469f"/><path d="M55.4 162.9L57 162L57.7 167.5L56.1 166.7Z" fill="#3b5eb0"/><path d="M94.5 160.1L96.3 159.8L96.9 158.7L95.1 159Z" fill="#4d78cf"/><path d="M79.5 163.9L81.1 162L81.8 162.5L80 163.2Z" fill="#3d62b9"/><path d="M64.1 166.1L65.8 167.4L66.5 167.5L64.8 165.5Z" fill="#2d4fa7"/><path d="M102.9 158.5L104.7 159.2L105.3 159L103.6 157.4Z" fill="#4972c5"/><path d="M88 161.7L89.6 163.2L90.3 160.5L88.6 161Z" fill="#3e63b6"/><path d="M72.8 166.5L74.6 165.9L75.2 165.1L73.4 166.1Z" fill="#3053b1"/><path d="M57.4 167.4L59.2 166.6L59.8 166.6L58 166.9Z" fill="#2e4ea3"/><path d="M96.5 158.8L98.3 159.2L98.9 159.3L97.1 158.4Z" fill="#486ebb"/><path d="M81.5 162.4L83.1 164.9L83.8 164.8L82.2 161.2Z" fill="#395eb4"/><path d="M66.2 167.5L67.8 165.1L68.6 166.3L66.7 166.6Z" fill="#2e4fa6"/><path d="M104.9 158.9L106.5 160.8L107.3 158.8L105.6 157.5Z" fill="#466fc6"/><path d="M90 160.5L91.7 162.1L92.4 161.6L90.6 161.1Z" fill="#3d62b2"/><path d="M74.8 165.1L76.5 166.7L77.2 166.2L75.5 165Z" fill="#2d4ea5"/><path d="M59.4 166.6L61.2 167.4L61.9 167.3L60.1 165.6Z" fill="#3154ad"/><path d="M98.5 159.2L100.1 161.7L100.8 160.8L99.2 157.1Z" fill="#466dc2"/><path d="M83.4 164.7L85.1 164.9L85.8 163.6L84.1 163.3Z" fill="#3559b4"/><path d="M68.2 166.3L69.8 168L70.6 167.4L68.9 165.1Z" fill="#2d4ea9"/><path d="M91.9 161.6L93.6 162.5L94.4 161.4L92.7 160Z" fill="#436cc6"/><path d="M76.9 166.2L78.6 165.5L79.2 164.5L77.5 164.7Z" fill="#3052aa"/><path d="M61.4 167.2L63.3 166.8L63.9 166.5L62.1 166.9Z" fill="#2f51ab"/><path d="M100.5 160.8L102.2 159.8L102.8 158.9L101.1 158.7Z" fill="#466ec3"/><path d="M85.4 163.8L87.2 163.3L87.8 162.2L86 163.1Z" fill="#395db3"/><path d="M70.2 167.3L71.9 168.2L72.6 167.3L70.8 166.9Z" fill="#26459f"/><path d="M54.8 166.3L56.4 167L57 162L55.5 162.9Z" fill="#4066b9"/><path d="M94 161.6L95.7 160.2L96.3 159.5L94.6 159.8Z" fill="#436abb"/><path d="M78.9 164.8L80.6 162.8L81.2 162.1L79.5 163.9Z" fill="#3a5eb1"/><path d="M63.5 166.5L65.2 168.2L65.9 167.3L64.2 166Z" fill="#2d4ea6"/><path d="M102.4 159L104.1 159.9L104.7 159L103 158.3Z" fill="#4369b8"/><path d="M87.4 162.3L89.1 163.2L89.8 163L88.1 161.5Z" fill="#3d62b9"/><path d="M72.2 167.5L74 165.9L74.6 165.8L72.8 166.4Z" fill="#2b4aa0"/><path d="M56.9 162L58.6 165.6L59.1 166.9L57.5 167.5Z" fill="#3f66c2"/><path d="M95.9 159.7L97.6 160.9L98.3 159L96.6 158.6Z" fill="#4c76cc"/><path d="M80.9 162L82.5 165L83.2 164.9L81.5 162.4Z" fill="#3c62bb"/><path d="M65.5 167.4L67.4 166.5L67.9 165.1L66.2 167.5Z" fill="#2f51aa"/><path d="M104.3 158.9L106.1 160.2L106.6 160.7L105 158.7Z" fill="#4167b9"/><path d="M89.4 163.1L91.1 162.8L91.8 161.9L90.1 160.4Z" fill="#4067c0"/><path d="M74.2 165.8L76 166.7L76.6 166.6L74.9 165Z" fill="#2f50aa"/><path d="M58.8 166.6L60.5 168L61.3 167.2L59.5 166.5Z" fill="#3154af"/><path d="M97.9 158.9L99.5 161.7L100.2 161.7L98.6 159Z" fill="#4167b9"/><path d="M82.8 164.7L84.5 165.8L85.2 164.6L83.4 164.5Z" fill="#3256b1"/><path d="M67.6 165.1L69.2 168.2L69.9 168L68.2 166.2Z" fill="#2c4da4"/><path d="M91.3 161.9L93.2 161.6L93.7 162.3L92 161.4Z" fill="#3e64ba"/><path d="M76.2 166.6L78 166L78.6 165.3L76.8 166.1Z" fill="#2c4ba0"/><path d="M60.8 167.2L62.6 168L63.3 166.7L61.4 167.1Z" fill="#2e4fa7"/><path d="M99.9 161.6L101.6 160.8L102.2 159.6L100.4 160.7Z" fill="#4168bd"/><path d="M84.8 164.8L86.6 164.2L87.2 163.1L85.4 163.5Z" fill="#3659b0"/><path d="M69.6 167.8L71.4 167.8L72 168.1L70.2 167.1Z" fill="#26459f"/><path d="M93.4 162.4L95.1 160.6L95.7 160.1L93.9 161.5Z" fill="#436bc1"/><path d="M78.3 165.6L80 163.7L80.6 162.8L78.9 164.8Z" fill="#395db4"/><path d="M62.9 166.7L64.6 168.6L65.3 168.1L63.6 166.4Z" fill="#2f51ae"/><path d="M101.8 159.8L103.5 160.2L104.2 159.7L102.5 158.8Z" fill="#4065b2"/><path d="M86.8 163.2L88.5 164.2L89.2 163L87.5 162.1Z" fill="#3b61b9"/><path d="M71.6 168.1L73.4 167.3L74 165.9L72.2 167.5Z" fill="#2b4ca7"/><path d="M56.2 166.9L57.9 166L58.6 165.7L56.9 162Z" fill="#3d61b2"/><path d="M95.3 160.2L97 161.3L97.7 160.7L96 159.5Z" fill="#4369b8"/><path d="M80.3 162.9L81.9 165.8L82.6 165L81 162Z" fill="#3c62ba"/><path d="M64.9 168.1L66.7 167.8L67.3 166.4L65.5 167.2Z" fill="#2b4ca2"/><path d="M103.7 159.6L105.4 161.7L106.1 160L104.4 158.8Z" fill="#4066b9"/><path d="M88.8 163L90.6 163L91.2 162.6L89.4 163Z" fill="#3c62ba"/><path d="M73.6 165.9L75.3 167.4L76 166.6L74.3 165.7Z" fill="#2e4fa8"/><path d="M58.2 165.4L59.9 167.8L60.6 168L58.8 166.6Z" fill="#3559b2"/><path d="M97.3 160.6L98.9 162.3L99.6 161.6L98 158.9Z" fill="#4066b8"/><path d="M82.2 164.7L84 165.8L84.6 165.7L82.9 164.5Z" fill="#3254ae"/><path d="M66.9 166.5L68.6 168.3L69.3 168.2L67.7 165.1Z" fill="#3053af"/><path d="M90.8 162.7L92.4 163.8L93.1 161.6L91.4 161.7Z" fill="#3d63ba"/><path d="M75.6 166.6L77.4 166.5L78 165.9L76.2 166.6Z" fill="#2b4a9e"/><path d="M60.2 167.9L62.1 167.4L62.7 167.8L60.9 167.1Z" fill="#3053ae"/><path d="M99.2 161.5L101 161.6L101.6 160.6L99.8 161.6Z" fill="#3e64b9"/><path d="M84.2 165.7L86 164.9L86.6 164L84.8 164.6Z" fill="#3153aa"/><path d="M68.9 168L70.7 168.8L71.4 167.7L69.6 167.7Z" fill="#294aa8"/><path d="M92.7 161.7L94.5 162.3L95.1 160.6L93.4 162.4Z" fill="#3d61b1"/><path d="M77.7 166.1L79.4 164.6L80 163.7L78.3 165.5Z" fill="#3960bc"/><path d="M62.2 167.8L64 169.2L64.7 168.4L63 166.6Z" fill="#2b4ba3"/><path d="M101.2 160.8L102.9 161.3L103.6 160L101.9 159.5Z" fill="#466fc6"/><path d="M86.2 164.2L88 163.8L88.6 164L86.9 163Z" fill="#395db4"/><path d="M71 167.8L72.8 167.5L73.4 167.2L71.6 168.1Z" fill="#28469d"/><path d="M94.7 160.7L96.4 162.2L97.1 161.1L95.4 160Z" fill="#446bbf"/><path d="M79.7 163.7L81.3 166.8L82 165.7L80.4 162.8Z" fill="#385cb5"/><path d="M64.3 168.4L66.1 167.9L66.7 167.6L64.9 168Z" fill="#2c4da8"/><path d="M103.2 160L104.9 161.3L105.5 161.6L103.9 159.5Z" fill="#436ac1"/><path d="M88.2 164.1L89.9 164.4L90.6 162.9L88.9 162.8Z" fill="#385cb0"/><path d="M73 167.3L74.7 168L75.4 167.2L73.7 165.8Z" fill="#2d4faa"/><path d="M57.6 165.7L59.4 166.8L60 167.7L58.3 165.4Z" fill="#3a60b9"/><path d="M96.7 161L98.4 161.9L99 162.2L97.4 160.5Z" fill="#4066ba"/><path d="M81.6 165.6L83.4 166.3L84 165.6L82.3 164.6Z" fill="#3052a8"/><path d="M66.3 167.7L68 169L68.8 168.2L67.1 166.4Z" fill="#2b4ba2"/><path d="M90.2 162.9L91.9 164.7L92.6 163.7L90.9 162.4Z" fill="#3a60b9"/><path d="M75 167.3L76.8 166.2L77.4 166.5L75.6 166.5Z" fill="#3052ae"/><path d="M59.6 167.7L61.3 165.3L62.1 167.5L60.3 168Z" fill="#3356ac"/><path d="M98.7 162.1L100.4 162L101 161.5L99.3 161.4Z" fill="#3b60b1"/><path d="M83.6 165.7L85.3 164.4L86 164.8L84.3 165.8Z" fill="#3559b5"/><path d="M68.3 168L70.1 169.4L70.8 168.6L69 167.8Z" fill="#25439a"/><path d="M92.2 163.8L94 162.3L94.6 162.1L92.9 161.5Z" fill="#3f65ba"/><path d="M77.1 166.7L78.7 164L79.4 164.6L77.7 166.2Z" fill="#3558ae"/><path d="M61.7 167.3L63.4 169.3L64.1 169.1L62.3 167.6Z" fill="#2a499e"/><path d="M100.6 161.6L102.4 161.4L103 161.1L101.3 160.6Z" fill="#4167bc"/><path d="M85.6 165L87.4 165L88 163.7L86.2 164Z" fill="#375bb2"/><path d="M70.4 168.7L72.2 167.4L72.8 167.5L71 167.8Z" fill="#2c4eac"/><path d="M94.1 162.2L95.8 162.8L96.5 162.1L94.9 160.6Z" fill="#456ec8"/><path d="M79.1 164.6L80.7 167.2L81.4 166.7L79.8 163.7Z" fill="#3457af"/><path d="M63.7 169.1L65.5 168.2L66.1 167.9L64.3 168.3Z" fill="#2c4eab"/><path d="M102.6 161.1L104.2 162.7L105 161.1L103.3 159.9Z" fill="#4169c0"/><path d="M87.6 163.8L89.3 164.8L90 164.2L88.2 163.9Z" fill="#375bb1"/><path d="M72.4 167.5L74.2 168.3L74.8 167.9L73.1 167.1Z" fill="#2949a1"/><path d="M96.1 162L97.8 163.8L98.5 161.7L96.8 160.9Z" fill="#426ac3"/><path d="M81 166.7L82.8 166.6L83.4 166.1L81.7 165.4Z" fill="#2f50a9"/><path d="M65.7 167.9L67.5 168.8L68.1 168.9L66.4 167.5Z" fill="#2b4ca6"/><path d="M89.6 164.2L91.3 165.1L92 164.6L90.3 162.8Z" fill="#375bb1"/><path d="M74.4 168L76.2 167.3L76.8 166.2L75 167.2Z" fill="#2d4fa8"/><path d="M59 166.8L60.7 165L61.4 165.3L59.7 167.8Z" fill="#3b60b4"/><path d="M98.1 161.7L99.8 162.7L100.5 161.9L98.6 162Z" fill="#4066bd"/><path d="M83 166.2L84.8 166L85.4 164.4L83.6 165.6Z" fill="#3559b5"/><path d="M67.7 168.8L69.5 169.6L70.2 169.2L68.5 167.9Z" fill="#26459f"/><path d="M91.6 164.7L93.3 164.3L93.9 162.2L92.1 163.6Z" fill="#375aad"/><path d="M76.4 166.5L78.2 165.4L78.8 164L77.1 166.7Z" fill="#375bb3"/><path d="M61.1 165.3L62.8 168.6L63.4 169.3L61.6 167.4Z" fill="#3152a7"/><path d="M100 162L101.9 161.6L102.4 161.2L100.6 161.5Z" fill="#3f65b7"/><path d="M85 164.5L86.8 164.6L87.4 164.9L85.6 164.9Z" fill="#395fba"/><path d="M69.8 169.3L71.6 168.2L72.2 167.4L70.4 168.7Z" fill="#2c4eaf"/><path d="M93.5 162.3L95.3 163.5L95.9 162.6L94.2 162Z" fill="#4066bc"/><path d="M78.5 164L80.1 166.8L80.8 167.2L79.1 164.5Z" fill="#3557ac"/><path d="M63.1 169.2L64.9 168.2L65.5 168.2L63.7 169.1Z" fill="#2c4eaa"/><path d="M102 161.2L103.7 162.8L104.4 162.6L102.7 160.9Z" fill="#3a5dac"/><path d="M87 164.8L88.7 166.2L89.4 164.6L87.7 163.6Z" fill="#3558ae"/><path d="M71.8 167.4L73.6 168.4L74.2 168.2L72.4 167.4Z" fill="#2e50ae"/><path d="M95.5 162.5L97.2 164.6L97.9 163.6L96.2 161.8Z" fill="#3c62ba"/><path d="M80.4 167.1L82.2 166.4L82.9 166.5L81 166.6Z" fill="#2d4da3"/><path d="M65.1 168.2L66.8 169.4L67.6 168.7L65.8 167.8Z" fill="#2a499e"/><path d="M89 164.6L90.7 165.4L91.4 165L89.7 164Z" fill="#375cb6"/><path d="M73.8 168.3L75.6 167.5L76.2 167.2L74.4 167.9Z" fill="#2c4da7"/><path d="M97.5 163.7L99.3 163.2L99.9 162.5L98.2 161.6Z" fill="#3b60b4"/><path d="M82.4 166.5L84.2 167L84.8 165.8L83 166Z" fill="#3153ae"/><path d="M67.1 168.6L68.9 169.7L69.6 169.5L67.8 168.7Z" fill="#27469f"/><path d="M91 165L92.8 164.9L93.4 164L91.6 164.5Z" fill="#3355a8"/><path d="M75.9 167.4L77.6 166.3L78.2 165.4L76.4 166.3Z" fill="#365bb5"/><path d="M60.4 165.3L62.1 158.1L62.7 168.6L61.2 165.7Z" fill="#486fbf"/><path d="M99.5 162.6L101.2 162.8L101.8 161.4L100.1 161.8Z" fill="#3d62b4"/><path d="M84.5 166L86.2 165.3L86.8 164.6L85.1 164.4Z" fill="#3558ac"/><path d="M69.2 169.5L71 169L71.6 168.1L69.8 169.3Z" fill="#2848a3"/><path d="M93 164.2L94.7 164.1L95.4 163.3L93.7 162.1Z" fill="#3b5fb3"/><path d="M77.8 165.4L79.5 167.8L80.2 166.7L78.6 164Z" fill="#385cb6"/><path d="M62.4 168.4L64.1 166L64.9 168.4L63.2 169.3Z" fill="#3254ac"/><path d="M101.4 161.4L103.1 163.5L103.8 162.7L102.1 161.1Z" fill="#4067bf"/><path d="M86.4 164.6L88.1 166.2L88.8 166.1L87.1 164.7Z" fill="#3458af"/><path d="M71.2 168.3L73 168.5L73.6 168.3L71.9 167.3Z" fill="#2c4da5"/><path d="M94.9 163.2L96.6 165.1L97.3 164.6L95.7 162.4Z" fill="#3658aa"/><path d="M79.8 166.5L81.5 168.2L82.2 166.4L80.4 167Z" fill="#2d4ea4"/><path d="M64.5 168.2L66.2 170.3L66.9 169.3L65.2 168.1Z" fill="#2c4da9"/><path d="M88.4 166.1L90.1 166.3L90.8 165.2L89.1 164.5Z" fill="#385ebf"/><path d="M73.2 168.4L74.9 166.7L75.6 167.5L73.9 168.3Z" fill="#2d4da3"/><path d="M96.9 164.6L98.7 164L99.3 162.9L97.5 163.5Z" fill="#375aaf"/><path d="M81.8 166.4L83.7 166.8L84.3 166.9L82.4 166.4Z" fill="#3154ae"/><path d="M66.5 169.2L68.3 170.2L69 169.6L67.2 168.5Z" fill="#2949a5"/><path d="M90.4 165.3L92.2 164.5L92.8 164.8L91 164.9Z" fill="#3559af"/><path d="M75.2 167.7L77 166.1L77.6 166.2L75.9 167.4Z" fill="#3457b0"/><path d="M98.9 163L100.6 163.7L101.3 162.6L99.5 162.4Z" fill="#3a5daf"/><path d="M83.9 167L85.6 166.5L86.2 165.1L84.4 165.8Z" fill="#3356ae"/><path d="M68.5 169.6L70.3 168.5L71 169L69.2 169.6Z" fill="#2a4ba8"/><path d="M92.4 164.9L94.1 165.3L94.7 163.8L93 164Z" fill="#3b61bc"/><path d="M77.3 166.2L78.9 168.9L79.6 167.6L78 165.3Z" fill="#3255ad"/><path d="M62 158.1L63.6 165.8L64.2 166.4L62.6 168.6Z" fill="#4970c1"/><path d="M100.8 162.6L102.5 163.8L103.2 163.4L101.6 161.4Z" fill="#3e64ba"/><path d="M85.8 165.2L87.5 166.9L88.2 166L86.5 164.5Z" fill="#385db7"/><path d="M70.6 169.1L72.4 169.2L73 168.3L71.2 168.1Z" fill="#2c4da9"/><path d="M94.4 163.8L96 165.7L96.7 165L95.1 163.1Z" fill="#375aaf"/><path d="M79.2 167.6L81 167.7L81.6 168.1L79.9 166.4Z" fill="#2f51ab"/><path d="M64 166L65.6 166.9L66.2 170.3L64.5 168.5Z" fill="#365bb5"/><path d="M87.8 165.9L89.6 166.7L90.2 166.1L88.4 165.9Z" fill="#3052a9"/><path d="M72.6 168.4L74.3 168.9L75 166.7L73.2 168.4Z" fill="#2d4ea3"/><path d="M96.3 165L98.1 164.7L98.7 163.8L96.9 164.4Z" fill="#385cb5"/><path d="M81.3 168.1L83.1 167L83.7 166.6L81.9 166.3Z" fill="#3154ae"/><path d="M65.9 170.1L67.7 170.6L68.4 170.1L66.6 169.1Z" fill="#2848a5"/><path d="M89.8 166.3L91.6 165.6L92.2 164.5L90.4 165.1Z" fill="#365ab2"/><path d="M74.6 166.9L76.4 165.9L77 166.2L75.3 167.8Z" fill="#365aaf"/><path d="M98.3 164L100 164.2L100.7 163.5L99 162.8Z" fill="#3a5fb4"/><path d="M83.2 166.7L85.1 166.6L85.7 166.3L83.8 166.9Z" fill="#3153a9"/><path d="M68 170.2L69.7 168.9L70.4 168.5L68.6 169.6Z" fill="#2949a0"/><path d="M91.8 164.6L93.5 165.8L94.2 165.2L92.4 164.7Z" fill="#365ab0"/><path d="M76.7 166.2L78.3 168.7L79 168.9L77.4 166.1Z" fill="#3153ab"/><path d="M100.3 163.5L101.9 165.3L102.7 163.6L101 162.4Z" fill="#3b61bb"/><path d="M85.2 166.4L87 167.1L87.6 166.7L86 165Z" fill="#3254a9"/><path d="M70 168.6L71.8 169.5L72.4 169.1L70.6 169Z" fill="#2c4ca6"/><path d="M93.8 165.1L95.4 166.6L96.2 165.5L94.5 163.7Z" fill="#3457ae"/><path d="M78.7 168.8L80.4 168.4L81 167.5L79.3 167.4Z" fill="#2f52af"/><path d="M63.3 165.5L65.1 166.7L65.7 167.3L63.9 166.1Z" fill="#4167bc"/><path d="M87.2 166.7L89 167.2L89.6 166.5L87.9 165.8Z" fill="#3153ab"/><path d="M72 169.1L73.8 168.9L74.4 168.7L72.6 168.2Z" fill="#2e50ac"/><path d="M95.8 165.6L97.5 164.7L98.1 164.5L96.3 164.8Z" fill="#365ab2"/><path d="M80.6 167.6L82.4 168L83 166.9L81.3 168.1Z" fill="#2e50a8"/><path d="M65.4 166.9L67 170.7L67.7 170.6L66 170.3Z" fill="#2e50ae"/><path d="M89.2 166.6L91 166.6L91.6 165.4L89.8 166.1Z" fill="#3458b2"/><path d="M74.1 168.9L75.8 167.1L76.4 166L74.6 166.8Z" fill="#395fbb"/><path d="M97.7 164.6L99.4 165.2L100.1 163.9L98.4 163.8Z" fill="#3b60ba"/><path d="M82.6 167L84.5 166.5L85.1 166.6L83.2 166.7Z" fill="#365ab4"/><path d="M67.4 170.6L69.2 169.5L69.7 168.9L68 170.2Z" fill="#2a4aa5"/><path d="M91.2 165.5L92.9 166.4L93.6 165.7L91.9 164.4Z" fill="#3558ad"/><path d="M76.1 165.9L77.7 168.8L78.4 168.6L76.8 166.1Z" fill="#365ab4"/><path d="M99.7 163.9L101.4 165.1L102 165.3L100.4 163.3Z" fill="#385cb4"/><path d="M84.6 166.6L86.4 167.7L87.1 166.9L85.3 166.2Z" fill="#3457b2"/><path d="M69.3 169L71.1 169.7L71.8 169.4L70 168.5Z" fill="#2d4fa8"/><path d="M93.2 165.6L94.9 166.9L95.6 166.5L93.9 164.9Z" fill="#3254ab"/><path d="M78 168.5L79.8 168.9L80.5 168.3L78.6 168.7Z" fill="#2b4ba2"/><path d="M86.6 166.9L88.4 167.7L89.1 167.1L87.3 166.5Z" fill="#3255af"/><path d="M71.4 169.4L73.2 168.6L73.8 168.8L72 169.1Z" fill="#2f52af"/><path d="M95.2 166.5L96.9 166.3L97.5 164.6L95.8 165.4Z" fill="#3356ae"/><path d="M80.1 168.4L81.8 167.4L82.5 167.8L80.6 167.5Z" fill="#3153ae"/><path d="M64.8 166.4L66.4 170.3L67 170.7L65.4 166.9Z" fill="#375cb8"/><path d="M88.6 167.2L90.3 165.6L91 166.4L89.2 166.6Z" fill="#3355ab"/><path d="M73.4 169L75.2 167.3L75.8 167L74.1 168.9Z" fill="#3356ad"/><path d="M97.1 164.7L98.9 165.8L99.5 165L97.8 164.4Z" fill="#3558ad"/><path d="M82.1 168L83.8 167.9L84.4 166.4L82.7 166.8Z" fill="#3559b5"/><path d="M66.8 170.6L68.4 167.2L69.2 169.6L67.5 170.7Z" fill="#2e50aa"/><path d="M90.6 166.5L92.4 166.1L93 166.2L91.3 165.4Z" fill="#3558af"/><path d="M75.4 167L77.1 169.3L77.8 168.7L76.2 165.9Z" fill="#3254a8"/><path d="M99.1 165L100.8 166.4L101.5 164.9L99.8 163.8Z" fill="#365ab1"/><path d="M84.1 166.5L85.8 167.7L86.5 167.6L84.7 166.4Z" fill="#355ab5"/><path d="M68.7 169.6L70.5 170.5L71.2 169.6L69.4 168.8Z" fill="#2c4da6"/><path d="M92.6 166.1L94.3 167.4L95 166.7L93.3 165.5Z" fill="#3254ab"/><path d="M77.4 168.6L79.2 169.2L79.9 168.8L78.1 168.4Z" fill="#2e50ab"/><path d="M86 167.4L87.8 168.6L88.5 167.6L86.7 166.7Z" fill="#2e4fa4"/><path d="M70.8 169.6L72.6 169.7L73.2 168.6L71.4 169.3Z" fill="#2e50a9"/><path d="M94.6 166.7L96.3 165.8L97 166.1L95.2 166.4Z" fill="#3357b1"/><path d="M79.5 168.9L81.3 168.4L81.8 167.4L80 168.4Z" fill="#2f50a7"/><path d="M88.1 167.7L89.8 167.1L90.4 165.6L88.6 167.2Z" fill="#3255ab"/><path d="M72.8 168.8L74.6 167.4L75.2 167.4L73.5 169Z" fill="#3559b2"/><path d="M96.6 166.2L98.3 166L99 165.7L97.2 164.6Z" fill="#365ab1"/><path d="M81.4 167.5L83.3 168.1L83.9 167.8L82 167.9Z" fill="#3254ac"/><path d="M66.2 170.2L67.8 164L68.5 167.3L66.9 170.7Z" fill="#3a5fb6"/><path d="M90 165.7L91.9 166.2L92.4 166.1L90.7 166.6Z" fill="#385db5"/><path d="M74.9 167.3L76.5 170L77.2 169.2L75.6 166.9Z" fill="#3254aa"/><path d="M98.5 165.6L100.3 166.5L100.9 166.3L99.2 164.8Z" fill="#3355ac"/><path d="M83.4 167.8L85.2 168.7L85.9 167.6L84.2 166.4Z" fill="#3357b1"/><path d="M68.2 167.2L69.8 165.5L70.5 170.5L68.9 169.8Z" fill="#3a5fba"/><path d="M92 166L93.7 167.6L94.4 167.3L92.7 166Z" fill="#3559b5"/><path d="M76.8 169.1L78.7 169.2L79.3 169.1L77.5 168.5Z" fill="#2d4ea5"/><path d="M85.4 167.5L87.3 168L87.8 168.5L86.1 167.3Z" fill="#3255b1"/><path d="M70.2 170.4L72 169.2L72.6 169.5L70.8 169.5Z" fill="#2f51ad"/><path d="M94 167.3L95.7 167.3L96.3 165.8L94.6 166.6Z" fill="#3254ad"/><path d="M78.9 169.2L80.6 168L81.3 168.3L79.5 168.9Z" fill="#3153ae"/><path d="M87.5 168.5L89.3 167.5L89.8 166.9L88 167.5Z" fill="#3255b1"/><path d="M72.2 169.7L74 168.5L74.6 167.4L72.8 168.8Z" fill="#375dba"/><path d="M96 165.9L97.7 166.8L98.4 165.8L96.5 166.1Z" fill="#3356ab"/><path d="M80.9 168.4L82.7 168.5L83.3 168L81.5 167.4Z" fill="#3458b2"/><path d="M89.4 167.1L91.1 167.9L91.8 166L90.1 165.6Z" fill="#365ab2"/><path d="M74.3 167.4L75.9 170.2L76.6 170L75 167.3Z" fill="#3356ae"/><path d="M98 165.8L99.6 167.5L100.3 166.3L98.6 165.5Z" fill="#3559b4"/><path d="M82.9 168L84.6 168.7L85.3 168.5L83.5 167.6Z" fill="#3256b1"/><path d="M67.6 164L69.2 162.9L70 165.8L68.3 167.6Z" fill="#4c73bf"/><path d="M91.5 166L93.1 167.9L93.8 167.5L92.1 165.9Z" fill="#3457af"/><path d="M76.2 169.8L78 170.6L78.7 169L76.9 168.9Z" fill="#2d4ea9"/><path d="M84.9 168.6L86.6 168.6L87.3 167.9L85.5 167.4Z" fill="#2f50a5"/><path d="M69.7 165.5L71.3 166.9L71.9 169.5L70.3 170.5Z" fill="#3c62bb"/><path d="M93.4 167.4L95.2 166.7L95.8 167.2L94 167.2Z" fill="#3154ad"/><path d="M78.2 169.1L80 169.6L80.6 168L78.8 169.2Z" fill="#3053ac"/><path d="M86.8 168L88.7 167.6L89.3 167.4L87.5 168.6Z" fill="#3255af"/><path d="M71.6 169.4L73.3 168L74 168.4L72.3 169.7Z" fill="#385eba"/><path d="M95.4 167.3L97.1 167.5L97.8 166.6L96.1 165.7Z" fill="#3357af"/><path d="M80.3 168.1L82.1 168.8L82.7 168.3L80.8 168.3Z" fill="#3356ad"/><path d="M88.8 167.5L90.6 168L91.3 167.7L89.5 166.9Z" fill="#365bb8"/><path d="M73.6 168.4L75.3 170.6L76 170.2L74.4 167.4Z" fill="#3255ac"/><path d="M97.4 166.6L99.1 167.7L99.7 167.4L98.1 165.7Z" fill="#3153ab"/><path d="M82.3 168.3L84 169.7L84.7 168.6L82.9 167.9Z" fill="#2f50a5"/><path d="M90.8 167.7L92.5 169.1L93.3 167.8L91.6 165.9Z" fill="#3457b3"/><path d="M75.6 170L77.5 170.1L78.1 170.5L76.3 169.7Z" fill="#2c4da8"/><path d="M84.3 168.6L86 169.4L86.7 168.4L84.9 168.4Z" fill="#3053ad"/><path d="M69.1 162.9L70.6 169.7L71.4 167.2L69.7 165.5Z" fill="#4870c2"/><path d="M92.8 167.8L94.6 167.5L95.2 166.8L93.4 167.4Z" fill="#3356ae"/><path d="M77.7 170.5L79.5 169.2L80.1 169.4L78.3 168.9Z" fill="#2d4ea6"/><path d="M86.3 168.5L88.1 168.1L88.7 167.6L86.9 167.9Z" fill="#3254ab"/><path d="M71 167L72.7 165.7L73.4 168.3L71.8 169.6Z" fill="#4066bc"/><path d="M94.8 166.8L96.6 167.5L97.2 167.3L95.4 167.2Z" fill="#3357af"/><path d="M79.7 169.5L81.5 169.4L82.1 168.6L80.4 168Z" fill="#355ab6"/><path d="M88.3 167.7L90 168.3L90.7 167.9L88.9 167.4Z" fill="#3356ac"/><path d="M73.1 168L74.7 170.3L75.4 170.6L73.7 168.3Z" fill="#3356ad"/><path d="M96.8 167.2L98.5 168.8L99.2 167.5L97.5 166.4Z" fill="#2f50a6"/><path d="M81.7 168.6L83.5 169.4L84.1 169.6L82.4 168.2Z" fill="#3357b4"/><path d="M90.3 167.7L92 169L92.6 169L90.9 167.5Z" fill="#2e4fa5"/><path d="M75 170.4L76.8 170.8L77.5 170L75.7 169.9Z" fill="#2e50ac"/><path d="M83.7 169.5L85.5 169.7L86.1 169.2L84.4 168.4Z" fill="#3154b1"/><path d="M92.3 169L94 168.8L94.6 167.3L92.9 167.6Z" fill="#3052aa"/><path d="M77.1 170.1L78.9 169.6L79.5 169.2L77.7 170.6Z" fill="#3053ae"/><path d="M85.7 169.3L87.5 168.8L88.1 168L86.3 168.4Z" fill="#2f4fa2"/><path d="M70.5 169.7L72.2 167.6L72.7 165.7L71.1 166.9Z" fill="#4167ba"/><path d="M94.2 167.5L96 168.2L96.6 167.4L94.9 166.7Z" fill="#3253a7"/><path d="M79.1 169.3L80.9 169.7L81.5 169.2L79.7 169.5Z" fill="#3255ae"/><path d="M87.7 168.1L89.4 168.7L90.1 168.1L88.3 167.5Z" fill="#3558b0"/><path d="M72.5 165.7L74.1 170L74.8 170.3L73.1 168Z" fill="#3a5eb3"/><path d="M96.2 167.3L98 168.4L98.6 168.7L96.9 167.1Z" fill="#3155b0"/><path d="M81.1 169.2L82.8 170.3L83.5 169.3L81.8 168.5Z" fill="#3255af"/><path d="M89.7 168L91.4 170L92.1 168.9L90.4 167.6Z" fill="#2f51a9"/><path d="M74.5 170.1L76.2 171.3L76.9 170.7L75.1 170.3Z" fill="#2d4ea6"/><path d="M83.1 169.2L84.9 169.5L85.5 169.6L83.7 169.5Z" fill="#2e4ea4"/><path d="M91.6 168.9L93.5 169.3L94.1 168.6L92.2 168.9Z" fill="#2d4fa8"/><path d="M76.5 170.7L78.3 170.1L78.9 169.6L77.1 170Z" fill="#3357b6"/><path d="M85.1 169.6L86.9 168.9L87.5 168.7L85.7 169.3Z" fill="#3052a9"/><path d="M93.7 168.7L95.4 168.8L96.1 167.9L94.3 167.3Z" fill="#3255af"/><path d="M78.5 169.7L80.3 169.7L80.9 169.6L79.1 169.2Z" fill="#3254ac"/><path d="M87.1 168.8L88.8 169.5L89.5 168.5L87.8 167.9Z" fill="#3559b3"/><path d="M71.9 167.4L73.5 170.9L74.2 169.9L72.6 165.7Z" fill="#3f65bb"/><path d="M95.6 167.9L97.3 169.6L98 168.2L96.3 167.2Z" fill="#3052aa"/><path d="M80.5 169.5L82.2 170.9L82.9 170.1L81.2 169Z" fill="#2d4ea2"/><path d="M89.1 168.4L90.8 170.2L91.5 169.9L89.8 167.9Z" fill="#2f50a8"/><path d="M73.8 169.7L75.6 168.7L76.2 171.3L74.4 170.2Z" fill="#365ab6"/><path d="M82.5 170.1L84.2 170.9L84.9 169.4L83.2 169.1Z" fill="#2f51a9"/><path d="M91.1 169.9L92.9 169.4L93.5 169.1L91.7 168.7Z" fill="#2e50ac"/><path d="M75.9 171.2L77.7 170.8L78.3 170L76.5 170.6Z" fill="#2e4fa7"/><path d="M84.5 169.5L86.3 169.4L86.9 168.9L85.1 169.6Z" fill="#2f50a4"/><path d="M93.1 169.2L94.8 169.6L95.5 168.6L93.7 168.5Z" fill="#2f52ac"/><path d="M77.9 170.1L79.6 170.8L80.3 169.6L78.5 169.6Z" fill="#3356b0"/><path d="M86.5 168.9L88.3 169.6L88.9 169.3L87.1 168.6Z" fill="#3255ac"/><path d="M95 168.6L96.8 169.9L97.4 169.5L95.7 167.8Z" fill="#2e4fa8"/><path d="M79.9 169.6L81.7 170.9L82.3 170.8L80.6 169.4Z" fill="#3154ae"/><path d="M88.5 169.2L90.2 171.2L90.9 170L89.2 168.3Z" fill="#2e4fa7"/><path d="M73.3 170.8L75 168.6L75.7 168.8L73.9 169.9Z" fill="#3a5fb7"/><path d="M81.9 170.7L83.6 171.6L84.3 170.6L82.6 169.9Z" fill="#2c4da6"/><path d="M90.5 170L92.3 169.2L92.9 169.3L91.1 169.9Z" fill="#2b4a9d"/><path d="M75.3 168.7L77 169.3L77.7 170.9L76 171.4Z" fill="#3559b0"/><path d="M84 170.8L85.7 169.3L86.3 169.3L84.5 169.4Z" fill="#3153ab"/><path d="M92.5 169.4L94.3 168.6L94.9 169.5L93.1 169.1Z" fill="#2f50a7"/><path d="M77.3 170.8L79.1 170.8L79.7 170.6L77.9 169.9Z" fill="#3255af"/><path d="M85.9 169.4L87.8 169.4L88.3 169.5L86.5 168.8Z" fill="#3457ae"/><path d="M94.5 169.4L96.2 170.2L96.9 169.7L95.2 168.4Z" fill="#2e50ab"/><path d="M79.3 170.6L81 171.8L81.7 170.7L80 169.5Z" fill="#3255b1"/><path d="M87.9 169.4L89.6 171.2L90.3 171.1L88.6 169.1Z" fill="#2e4fa9"/><path d="M81.3 170.6L83.1 171.7L83.7 171.5L82 170.5Z" fill="#2a4aa0"/><path d="M90 171.1L91.7 170.2L92.3 169.2L90.5 169.9Z" fill="#2c4da5"/><path d="M74.7 168.9L76.3 165.2L77 169.6L75.4 169.1Z" fill="#456dc3"/><path d="M83.4 171.6L85.2 170.8L85.7 169.3L83.9 170.7Z" fill="#2f50a9"/><path d="M91.9 169.4L93.7 169.6L94.3 168.7L92.5 169.5Z" fill="#3153aa"/><path d="M76.7 169.3L78.5 170L79.1 170.8L77.4 170.9Z" fill="#365ab1"/><path d="M85.3 169.4L87.1 169.9L87.8 169.3L85.9 169.4Z" fill="#365bb4"/><path d="M93.9 168.6L95.6 170.5L96.3 170.1L94.5 169.3Z" fill="#2f51ab"/><path d="M78.7 170.6L80.5 171.3L81.1 171.7L79.4 170.4Z" fill="#3154af"/><path d="M87.4 169.2L89.1 171L89.7 171.1L88 169.3Z" fill="#2f51a8"/><path d="M80.7 171.6L82.6 171.6L83.2 171.6L81.4 170.5Z" fill="#2d4ea7"/><path d="M89.3 171L91.1 170.1L91.7 170L90 171.1Z" fill="#2c4da6"/><path d="M82.7 171.6L84.5 170.5L85.2 170.7L83.4 171.6Z" fill="#2e50a9"/><path d="M91.3 170.2L93.1 170.6L93.7 169.4L92 169.2Z" fill="#2e4ea2"/><path d="M76.2 165.2L77.9 167.6L78.4 170.3L76.8 169.7Z" fill="#446bbe"/><path d="M84.8 170.8L86.5 171.3L87.2 169.6L85.4 169.2Z" fill="#3153a8"/><path d="M93.3 169.4L95 170.8L95.7 170.4L94 168.5Z" fill="#3256b3"/><path d="M78.1 170.1L79.8 168.5L80.5 171.4L78.8 170.9Z" fill="#3b61bc"/><path d="M86.8 169.6L88.5 171.6L89.2 170.9L87.5 169.1Z" fill="#3459b6"/><path d="M80.1 171.2L82 171.5L82.6 171.5L80.7 171.7Z" fill="#3053ae"/><path d="M88.7 170.8L90.6 170.4L91.2 170.2L89.4 171.1Z" fill="#2e50a8"/><path d="M82.2 171.6L83.9 170.4L84.6 170.5L82.8 171.7Z" fill="#3256b1"/><path d="M90.7 170.2L92.5 171L93.2 170.4L91.3 170Z" fill="#2f51aa"/><path d="M84.2 170.5L85.9 171.5L86.6 171.2L84.8 170.6Z" fill="#3255af"/><path d="M92.7 170.4L94.5 171.1L95.1 170.6L93.4 169.3Z" fill="#2e4fa6"/><path d="M77.5 167.7L79.2 166.5L80 168.8L78.3 170.3Z" fill="#446bbc"/><path d="M86.2 171.2L87.9 171.8L88.6 171.4L86.9 169.5Z" fill="#3154ae"/><path d="M79.6 168.5L81.3 169L81.9 171.7L80.3 171.4Z" fill="#3d64bf"/><path d="M88.2 171.4L89.9 171.8L90.6 170.4L88.8 170.6Z" fill="#2f50aa"/><path d="M81.6 171.5L83.4 171.5L84 170.4L82.2 171.6Z" fill="#365bb9"/><path d="M90.1 170.4L92 170.8L92.6 170.9L90.8 170.1Z" fill="#355bbb"/><path d="M83.6 170.4L85.4 171.6L86 171.5L84.2 170.5Z" fill="#3153a8"/><path d="M92.1 170.8L93.9 171.9L94.6 170.9L92.8 170.2Z" fill="#2e4fa9"/><path d="M85.6 171.3L87.3 172.5L88 171.6L86.2 171Z" fill="#2d4ea5"/><path d="M79.1 166.5L80.6 171.3L81.4 169.3L79.6 168.6Z" fill="#436abd"/><path d="M87.6 171.6L89.4 171.8L90 171.6L88.2 171.2Z" fill="#2d4ea6"/><path d="M81.1 169L82.8 171.4L83.4 171.5L81.6 171.7Z" fill="#375cb3"/><path d="M89.6 171.7L91.4 171.7L92 170.7L90.2 170.3Z" fill="#3255b1"/><path d="M83 171.5L84.8 171.2L85.4 171.5L83.7 170.4Z" fill="#365bb6"/><path d="M91.6 170.6L93.4 171.7L94 171.8L92.2 170.7Z" fill="#2f51ab"/><path d="M85 171.3L86.7 172.8L87.4 172.4L85.7 171.2Z" fill="#2f51aa"/><path d="M87 172.4L88.8 172.3L89.4 171.6L87.6 171.4Z" fill="#2e50aa"/><path d="M80.4 171.2L82.1 171.5L82.8 171.3L81.1 169Z" fill="#3b60b7"/><path d="M89 171.7L90.8 172.2L91.4 171.5L89.6 171.6Z" fill="#2f52ad"/><path d="M82.4 171.3L84.1 169.2L84.8 171.2L83.1 171.6Z" fill="#395eb5"/><path d="M91 171.5L92.7 172.6L93.4 171.6L91.7 170.5Z" fill="#3052ad"/><path d="M84.5 171L86.1 173.3L86.8 172.7L85.1 171.2Z" fill="#2e4fa5"/><path d="M86.4 172.7L88.3 172.6L88.8 172.1L87 172.3Z" fill="#2e51ac"/><path d="M88.4 172.2L90.2 171.5L90.8 172.1L89 171.6Z" fill="#3357b4"/><path d="M81.9 171.5L83.5 169.4L84.2 169.2L82.5 171.4Z" fill="#3f65ba"/><path d="M90.4 172.1L92.2 172.3L92.8 172.5L91.1 171.4Z" fill="#2c4ca2"/><path d="M83.9 169.2L85.5 173L86.2 173.3L84.5 171Z" fill="#385eb9"/><path d="M85.8 173.2L87.7 172.8L88.3 172.5L86.4 172.6Z" fill="#2d4ea7"/><path d="M87.8 172.6L89.6 172.8L90.2 171.5L88.4 172.1Z" fill="#2c4b9d"/><path d="M89.8 171.5L91.6 172.8L92.3 172.2L90.4 172.1Z" fill="#3052ab"/><path d="M83.3 169.4L84.9 173.1L85.6 173L84 169.2Z" fill="#3c62ba"/><path d="M85.2 172.8L87 172.1L87.7 172.8L85.9 173.3Z" fill="#3154ae"/><path d="M87.2 172.8L89.1 173L89.7 172.6L87.8 172.4Z" fill="#3255b2"/><path d="M89.2 172.6L91 174L91.7 172.6L90 171.4Z" fill="#3053ae"/><path d="M84.7 173L86.3 167.7L87 172.4L85.4 173Z" fill="#3b60b7"/><path d="M86.7 172.2L88.5 172.8L89.1 172.9L87.2 172.8Z" fill="#3051a4"/><path d="M88.7 172.8L90.5 173.9L91.1 173.9L89.3 172.4Z" fill="#2c4da4"/><path d="M86.2 167.7L87.9 171.9L88.4 172.9L86.8 172.5Z" fill="#3f65bb"/><path d="M88.1 172.7L89.9 173.3L90.5 173.8L88.7 172.8Z" fill="#3256b0"/><path d="M87.6 171.5L89.3 173.6L89.9 173.4L88.1 172.7Z" fill="#3558ad"/><polyline points="10.2,164.4 92.5,180.6 131.8,153.1" fill="none" stroke="#6a6a6a" stroke-width="0.9"/></g>
<rect x="77" y="60" width="90" height="62" fill="#fff"/>
<polygon points="81.6,82.0 101.6,69.4 102.8,70.2 102.8,97 84,110 81.6,109.4" fill="#5a5a5a"/><polygon points="83.9,83.6 101.9,72.0 101.9,96.4 83.9,108.6" fill="#060606"/><path d="M97.6 81.4 L124.0 90.6 L124.0 91.6 L97.6 94.6 Z" fill="url(#cone1)"/><ellipse cx="97.6" cy="88" rx="2.2" ry="6.6" fill="#f25c6c"/><path d="M124.6 91.2 L143.5 87.0 L143.5 99.0 Z" fill="#e81a30"/><ellipse cx="148.3" cy="93.7" rx="4.6" ry="20.2" transform="rotate(6 148.3 93.7)" fill="#d4d4d4" stroke="#6a6a6a" stroke-width="0.5"/><path d="M145.1 78 C143.1 86 143.1 101 145.1 109.4" fill="none" stroke="#3a3a3a" stroke-width="1.0" transform="rotate(6 148.3 93.7)"/><rect x="149.5" y="86.3" width="11.5" height="17.2" fill="url(#cyl)"/><ellipse cx="161" cy="94.9" rx="2.2" ry="8.6" fill="url(#cyl)"/><ellipse cx="149.6" cy="94.9" rx="1.6" ry="8.6" fill="#f04a5c"/><polygon points="77.5,110.0 100.4,120.7 116.9,107.1 116.9,109.6 100.4,123.2 77.7,112.4" fill="#2b5e9f"/><polygon points="77.5,110.0 94.7,96.4 111.2,97.6 116.9,107.1 100.4,120.7" fill="#4a88cc"/><polygon points="110.2,97.6 122.8,88.6 124.2,90.1 112.4,99.4" fill="#3a7cc4"/><g stroke="#111" stroke-width="1.0" fill="none"><line x1="121.7" y1="80.4" x2="121.7" y2="70.2"/><line x1="121.7" y1="80.4" x2="113.6" y2="76.2"/><line x1="121.7" y1="80.4" x2="130.6" y2="75.6"/></g><g fill="#111"><polygon points="121.7,68.3 120.6,71.0 122.8,71.0"/><polygon points="112.0,75.4 114.9,75.9 113.9,77.7"/><polygon points="132.2,74.7 129.4,75.2 130.4,77.0"/></g>
<g id="pb">
<g fill="none" stroke="#081010" stroke-width="0.85"><g clip-path="url(#cb)"><circle cx="180.8" cy="148" r="1.2"/><circle cx="182.7" cy="147.4" r="1.2"/><circle cx="184.6" cy="146.7" r="1.2"/><circle cx="186.5" cy="145.9" r="1.2"/><circle cx="188.4" cy="145.1" r="1.2"/><circle cx="190.3" cy="144.3" r="1.2"/><circle cx="192.2" cy="143.3" r="1.2"/><circle cx="194" cy="142.3" r="1.2"/><circle cx="195.9" cy="141.2" r="1.2"/><circle cx="197.8" cy="139.9" r="1.2"/><circle cx="199.7" cy="138.6" r="1.2"/><circle cx="201.6" cy="137.2" r="1.2"/><circle cx="203.5" cy="135.6" r="1.2"/><circle cx="205.4" cy="133.8" r="1.2"/><circle cx="207.3" cy="131.9" r="1.2"/><circle cx="209.2" cy="129.9" r="1.2"/><circle cx="211.1" cy="127.6" r="1.2"/><circle cx="213" cy="125.2" r="1.2"/><circle cx="214.9" cy="122.6" r="1.2"/><circle cx="216.7" cy="119.7" r="1.2"/><circle cx="218.6" cy="116.7" r="1.2"/><circle cx="220.5" cy="113.4" r="1.2"/><circle cx="222.4" cy="110" r="1.2"/><circle cx="224.3" cy="106.5" r="1.2"/><circle cx="226.2" cy="102.9" r="1.2"/><circle cx="228.1" cy="99.3" r="1.2"/><circle cx="230" cy="95.9" r="1.2"/><circle cx="231.9" cy="92.7" r="1.2"/><circle cx="233.8" cy="89.9" r="1.2"/><circle cx="235.7" cy="87.6" r="1.2"/><circle cx="237.6" cy="86" r="1.2"/><circle cx="239.5" cy="85.1" r="1.2"/><circle cx="241.3" cy="85.1" r="1.2"/><circle cx="243.2" cy="85.9" r="1.2"/><circle cx="245.1" cy="87.4" r="1.2"/><circle cx="247" cy="89.6" r="1.2"/><circle cx="248.9" cy="92.4" r="1.2"/><circle cx="250.8" cy="95.5" r="1.2"/><circle cx="252.7" cy="98.9" r="1.2"/><circle cx="254.6" cy="102.5" r="1.2"/><circle cx="256.5" cy="106.1" r="1.2"/><circle cx="258.4" cy="109.6" r="1.2"/><circle cx="260.3" cy="113.1" r="1.2"/><circle cx="262.2" cy="116.3" r="1.2"/><circle cx="264.1" cy="119.4" r="1.2"/><circle cx="265.9" cy="122.3" r="1.2"/><circle cx="267.8" cy="124.9" r="1.2"/><circle cx="269.7" cy="127.4" r="1.2"/><circle cx="271.6" cy="129.7" r="1.2"/><circle cx="273.5" cy="131.7" r="1.2"/><circle cx="275.4" cy="133.6" r="1.2"/><circle cx="277.3" cy="135.4" r="1.2"/><circle cx="279.2" cy="137" r="1.2"/><circle cx="281.1" cy="138.5" r="1.2"/><circle cx="283" cy="139.8" r="1.2"/><circle cx="284.9" cy="141" r="1.2"/><circle cx="286.8" cy="142.2" r="1.2"/><circle cx="288.6" cy="143.2" r="1.2"/><circle cx="290.5" cy="144.2" r="1.2"/><circle cx="292.4" cy="145" r="1.2"/><circle cx="294.3" cy="145.8" r="1.2"/><circle cx="296.2" cy="146.6" r="1.2"/><circle cx="298.1" cy="147.3" r="1.2"/><circle cx="300" cy="147.9" r="1.2"/><path d="M180.3 147.5L181.3 147.2L182.3 146.9L183.3 146.5L184.3 146.1L185.3 145.8L186.3 145.4L187.3 144.9L188.3 144.5L189.3 144L190.3 143.6L191.3 143.1L192.3 142.5L193.3 142L194.3 141.4L195.3 140.8L196.3 140.2L197.3 139.5L198.3 138.8L199.3 138.1L200.2 137.4L201.2 136.6L202.2 135.8L203.2 134.9L204.2 134L205.2 133.1L206.2 132.1L207.2 131L208.2 129.9L209.2 128.8L210.2 127.6L211.2 126.4L212.2 125.1L213.2 123.7L214.2 122.3L215.2 120.8L216.2 119.3L217.2 117.7L218.2 116.1L219.2 114.4L220.2 112.7L221.2 110.9L222.2 109.1L223.2 107.2L224.2 105.3L225.2 103.4L226.2 101.5L227.2 99.7L228.2 97.8L229.2 96L230.2 94.2L231.2 92.6L232.2 91L233.2 89.6L234.2 88.3L235.2 87.2L236.2 86.2L237.2 85.5L238.2 84.9L239.2 84.6L240.2 84.6L241.1 84.7L242.1 85.1L243.1 85.7L244.1 86.5L245.1 87.5L246.1 88.7L247.1 90L248.1 91.5L249.1 93.1L250.1 94.8L251.1 96.5L252.1 98.3L253.1 100.2L254.1 102.1L255.1 104L256.1 105.9L257.1 107.8L258.1 109.6L259.1 111.4L260.1 113.2L261.1 114.9L262.1 116.6L263.1 118.2L264.1 119.8L265.1 121.3L266.1 122.7L267.1 124.1L268.1 125.5L269.1 126.7L270.1 128L271.1 129.1L272.1 130.3L273.1 131.3L274.1 132.4L275.1 133.3L276.1 134.3L277.1 135.2L278.1 136L279.1 136.8L280.1 137.6L281 138.3L282 139.1L283 139.7L284 140.4L285 141L286 141.6L287 142.2L288 142.7L289 143.2L290 143.7L291 144.2L292 144.6L293 145.1L294 145.5L295 145.9L296 146.3L297 146.6L298 147L299 147.3L300 147.6" class="fit"/><circle cx="180.8" cy="152.8" r="1.2"/><circle cx="182.7" cy="152.2" r="1.2"/><circle cx="184.6" cy="151.6" r="1.2"/><circle cx="186.5" cy="150.9" r="1.2"/><circle cx="188.4" cy="150.2" r="1.2"/><circle cx="190.3" cy="149.4" r="1.2"/><circle cx="192.2" cy="148.5" r="1.2"/><circle cx="194" cy="147.6" r="1.2"/><circle cx="195.9" cy="146.5" r="1.2"/><circle cx="197.8" cy="145.4" r="1.2"/><circle cx="199.7" cy="144.2" r="1.2"/><circle cx="201.6" cy="142.8" r="1.2"/><circle cx="203.5" cy="141.3" r="1.2"/><circle cx="205.4" cy="139.7" r="1.2"/><circle cx="207.3" cy="138" r="1.2"/><circle cx="209.2" cy="136.1" r="1.2"/><circle cx="211.1" cy="134" r="1.2"/><circle cx="213" cy="131.7" r="1.2"/><circle cx="214.9" cy="129.2" r="1.2"/><circle cx="216.7" cy="126.5" r="1.2"/><circle cx="218.6" cy="123.6" r="1.2"/><circle cx="220.5" cy="120.5" r="1.2"/><circle cx="222.4" cy="117.3" r="1.2"/><circle cx="224.3" cy="113.9" r="1.2"/><circle cx="226.2" cy="110.5" r="1.2"/><circle cx="228.1" cy="107" r="1.2"/><circle cx="230" cy="103.7" r="1.2"/><circle cx="231.9" cy="100.6" r="1.2"/><circle cx="233.8" cy="97.9" r="1.2"/><circle cx="235.7" cy="95.6" r="1.2"/><circle cx="237.6" cy="94.1" r="1.2"/><circle cx="239.5" cy="93.2" r="1.2"/><circle cx="241.3" cy="93.2" r="1.2"/><circle cx="243.2" cy="93.9" r="1.2"/><circle cx="245.1" cy="95.4" r="1.2"/><circle cx="247" cy="97.6" r="1.2"/><circle cx="248.9" cy="100.3" r="1.2"/><circle cx="250.8" cy="103.4" r="1.2"/><circle cx="252.7" cy="106.7" r="1.2"/><circle cx="254.6" cy="110.1" r="1.2"/><circle cx="256.5" cy="113.6" r="1.2"/><circle cx="258.4" cy="116.9" r="1.2"/><circle cx="260.3" cy="120.2" r="1.2"/><circle cx="262.2" cy="123.3" r="1.2"/><circle cx="264.1" cy="126.2" r="1.2"/><circle cx="265.9" cy="128.9" r="1.2"/><circle cx="267.8" cy="131.4" r="1.2"/><circle cx="269.7" cy="133.7" r="1.2"/><circle cx="271.6" cy="135.8" r="1.2"/><circle cx="273.5" cy="137.8" r="1.2"/><circle cx="275.4" cy="139.6" r="1.2"/><circle cx="277.3" cy="141.2" r="1.2"/><circle cx="279.2" cy="142.7" r="1.2"/><circle cx="281.1" cy="144" r="1.2"/><circle cx="283" cy="145.3" r="1.2"/><circle cx="284.9" cy="146.4" r="1.2"/><circle cx="286.8" cy="147.5" r="1.2"/><circle cx="288.6" cy="148.4" r="1.2"/><circle cx="290.5" cy="149.3" r="1.2"/><circle cx="292.4" cy="150.1" r="1.2"/><circle cx="294.3" cy="150.8" r="1.2"/><circle cx="296.2" cy="151.5" r="1.2"/><circle cx="298.1" cy="152.2" r="1.2"/><circle cx="300" cy="152.8" r="1.2"/><path d="M180.3 152.4L181.3 152.1L182.3 151.7L183.3 151.4L184.3 151.1L185.3 150.7L186.3 150.4L187.3 150L188.3 149.6L189.3 149.1L190.3 148.7L191.3 148.2L192.3 147.8L193.3 147.2L194.3 146.7L195.3 146.2L196.3 145.6L197.3 145L198.3 144.4L199.3 143.7L200.2 143L201.2 142.3L202.2 141.5L203.2 140.7L204.2 139.9L205.2 139L206.2 138.1L207.2 137.1L208.2 136.1L209.2 135L210.2 133.9L211.2 132.7L212.2 131.5L213.2 130.2L214.2 128.9L215.2 127.5L216.2 126.1L217.2 124.6L218.2 123.1L219.2 121.5L220.2 119.8L221.2 118.1L222.2 116.4L223.2 114.6L224.2 112.8L225.2 111L226.2 109.1L227.2 107.3L228.2 105.5L229.2 103.8L230.2 102.1L231.2 100.5L232.2 99L233.2 97.6L234.2 96.3L235.2 95.2L236.2 94.3L237.2 93.6L238.2 93L239.2 92.7L240.2 92.7L241.1 92.8L242.1 93.2L243.1 93.7L244.1 94.5L245.1 95.5L246.1 96.7L247.1 98L248.1 99.4L249.1 101L250.1 102.6L251.1 104.3L252.1 106.1L253.1 107.9L254.1 109.7L255.1 111.5L256.1 113.3L257.1 115.1L258.1 116.9L259.1 118.6L260.1 120.3L261.1 121.9L262.1 123.5L263.1 125.1L264.1 126.5L265.1 128L266.1 129.3L267.1 130.6L268.1 131.9L269.1 133.1L270.1 134.2L271.1 135.3L272.1 136.4L273.1 137.4L274.1 138.3L275.1 139.2L276.1 140.1L277.1 140.9L278.1 141.7L279.1 142.5L280.1 143.2L281 143.9L282 144.5L283 145.2L284 145.8L285 146.3L286 146.9L287 147.4L288 147.9L289 148.4L290 148.8L291 149.3L292 149.7L293 150.1L294 150.5L295 150.8L296 151.2L297 151.5L298 151.8L299 152.2L300 152.5" class="fit"/><circle cx="180.8" cy="156.6" r="1.2"/><circle cx="182.7" cy="156" r="1.2"/><circle cx="184.6" cy="155.4" r="1.2"/><circle cx="186.5" cy="154.8" r="1.2"/><circle cx="188.4" cy="154.1" r="1.2"/><circle cx="190.3" cy="153.3" r="1.2"/><circle cx="192.2" cy="152.5" r="1.2"/><circle cx="194" cy="151.6" r="1.2"/><circle cx="195.9" cy="150.6" r="1.2"/><circle cx="197.8" cy="149.5" r="1.2"/><circle cx="199.7" cy="148.3" r="1.2"/><circle cx="201.6" cy="147.1" r="1.2"/><circle cx="203.5" cy="145.7" r="1.2"/><circle cx="205.4" cy="144.2" r="1.2"/><circle cx="207.3" cy="142.6" r="1.2"/><circle cx="209.2" cy="140.8" r="1.2"/><circle cx="211.1" cy="138.8" r="1.2"/><circle cx="213" cy="136.7" r="1.2"/><circle cx="214.9" cy="134.5" r="1.2"/><circle cx="216.7" cy="132.1" r="1.2"/><circle cx="218.6" cy="129.5" r="1.2"/><circle cx="220.5" cy="126.7" r="1.2"/><circle cx="222.4" cy="123.9" r="1.2"/><circle cx="224.3" cy="120.9" r="1.2"/><circle cx="226.2" cy="117.9" r="1.2"/><circle cx="228.1" cy="115" r="1.2"/><circle cx="230" cy="112.2" r="1.2"/><circle cx="231.9" cy="109.5" r="1.2"/><circle cx="233.8" cy="107.3" r="1.2"/><circle cx="235.7" cy="105.4" r="1.2"/><circle cx="237.6" cy="104.1" r="1.2"/><circle cx="239.5" cy="103.4" r="1.2"/><circle cx="241.3" cy="103.4" r="1.2"/><circle cx="243.2" cy="104" r="1.2"/><circle cx="245.1" cy="105.2" r="1.2"/><circle cx="247" cy="107" r="1.2"/><circle cx="248.9" cy="109.3" r="1.2"/><circle cx="250.8" cy="111.9" r="1.2"/><circle cx="252.7" cy="114.7" r="1.2"/><circle cx="254.6" cy="117.6" r="1.2"/><circle cx="256.5" cy="120.6" r="1.2"/><circle cx="258.4" cy="123.6" r="1.2"/><circle cx="260.3" cy="126.4" r="1.2"/><circle cx="262.2" cy="129.2" r="1.2"/><circle cx="264.1" cy="131.8" r="1.2"/><circle cx="265.9" cy="134.2" r="1.2"/><circle cx="267.8" cy="136.5" r="1.2"/><circle cx="269.7" cy="138.6" r="1.2"/><circle cx="271.6" cy="140.6" r="1.2"/><circle cx="273.5" cy="142.4" r="1.2"/><circle cx="275.4" cy="144" r="1.2"/><circle cx="277.3" cy="145.5" r="1.2"/><circle cx="279.2" cy="146.9" r="1.2"/><circle cx="281.1" cy="148.2" r="1.2"/><circle cx="283" cy="149.4" r="1.2"/><circle cx="284.9" cy="150.5" r="1.2"/><circle cx="286.8" cy="151.5" r="1.2"/><circle cx="288.6" cy="152.4" r="1.2"/><circle cx="290.5" cy="153.2" r="1.2"/><circle cx="292.4" cy="154" r="1.2"/><circle cx="294.3" cy="154.7" r="1.2"/><circle cx="296.2" cy="155.4" r="1.2"/><circle cx="298.1" cy="156" r="1.2"/><circle cx="300" cy="156.6" r="1.2"/><path d="M180.3 156.2L181.3 155.9L182.3 155.6L183.3 155.2L184.3 154.9L185.3 154.6L186.3 154.2L187.3 153.8L188.3 153.5L189.3 153.1L190.3 152.6L191.3 152.2L192.3 151.7L193.3 151.3L194.3 150.8L195.3 150.2L196.3 149.7L197.3 149.1L198.3 148.5L199.3 147.9L200.2 147.2L201.2 146.5L202.2 145.8L203.2 145.1L204.2 144.3L205.2 143.5L206.2 142.6L207.2 141.7L208.2 140.8L209.2 139.8L210.2 138.8L211.2 137.7L212.2 136.6L213.2 135.4L214.2 134.2L215.2 133L216.2 131.7L217.2 130.3L218.2 128.9L219.2 127.5L220.2 126L221.2 124.5L222.2 123L223.2 121.5L224.2 119.9L225.2 118.3L226.2 116.7L227.2 115.2L228.2 113.7L229.2 112.2L230.2 110.7L231.2 109.4L232.2 108.1L233.2 106.9L234.2 105.9L235.2 105L236.2 104.2L237.2 103.6L238.2 103.2L239.2 102.9L240.2 102.9L241.1 103L242.1 103.3L243.1 103.8L244.1 104.4L245.1 105.2L246.1 106.2L247.1 107.3L248.1 108.5L249.1 109.8L250.1 111.2L251.1 112.6L252.1 114.1L253.1 115.7L254.1 117.2L255.1 118.8L256.1 120.4L257.1 121.9L258.1 123.5L259.1 125L260.1 126.5L261.1 127.9L262.1 129.4L263.1 130.7L264.1 132.1L265.1 133.3L266.1 134.6L267.1 135.8L268.1 136.9L269.1 138L270.1 139.1L271.1 140.1L272.1 141L273.1 142L274.1 142.9L275.1 143.7L276.1 144.5L277.1 145.3L278.1 146L279.1 146.7L280.1 147.4L281 148.1L282 148.7L283 149.3L284 149.8L285 150.4L286 150.9L287 151.4L288 151.9L289 152.3L290 152.8L291 153.2L292 153.6L293 154L294 154.3L295 154.7L296 155L297 155.3L298 155.7L299 156L300 156.2" class="fit"/><circle cx="180.8" cy="161.1" r="1.2"/><circle cx="182.7" cy="160.5" r="1.2"/><circle cx="184.6" cy="159.9" r="1.2"/><circle cx="186.5" cy="159.2" r="1.2"/><circle cx="188.4" cy="158.5" r="1.2"/><circle cx="190.3" cy="157.7" r="1.2"/><circle cx="192.2" cy="156.8" r="1.2"/><circle cx="194" cy="155.9" r="1.2"/><circle cx="195.9" cy="154.8" r="1.2"/><circle cx="197.8" cy="153.7" r="1.2"/><circle cx="199.7" cy="152.6" r="1.2"/><circle cx="201.6" cy="151.3" r="1.2"/><circle cx="203.5" cy="149.9" r="1.2"/><circle cx="205.4" cy="148.4" r="1.2"/><circle cx="207.3" cy="146.7" r="1.2"/><circle cx="209.2" cy="145" r="1.2"/><circle cx="211.1" cy="143" r="1.2"/><circle cx="213" cy="141" r="1.2"/><circle cx="214.9" cy="138.8" r="1.2"/><circle cx="216.7" cy="136.5" r="1.2"/><circle cx="218.6" cy="134" r="1.2"/><circle cx="220.5" cy="131.5" r="1.2"/><circle cx="222.4" cy="128.8" r="1.2"/><circle cx="224.3" cy="126.1" r="1.2"/><circle cx="226.2" cy="123.4" r="1.2"/><circle cx="228.1" cy="120.7" r="1.2"/><circle cx="230" cy="118.2" r="1.2"/><circle cx="231.9" cy="115.9" r="1.2"/><circle cx="233.8" cy="113.9" r="1.2"/><circle cx="235.7" cy="112.3" r="1.2"/><circle cx="237.6" cy="111.2" r="1.2"/><circle cx="239.5" cy="110.6" r="1.2"/><circle cx="241.3" cy="110.6" r="1.2"/><circle cx="243.2" cy="111.1" r="1.2"/><circle cx="245.1" cy="112.2" r="1.2"/><circle cx="247" cy="113.7" r="1.2"/><circle cx="248.9" cy="115.7" r="1.2"/><circle cx="250.8" cy="117.9" r="1.2"/><circle cx="252.7" cy="120.4" r="1.2"/><circle cx="254.6" cy="123.1" r="1.2"/><circle cx="256.5" cy="125.8" r="1.2"/><circle cx="258.4" cy="128.5" r="1.2"/><circle cx="260.3" cy="131.2" r="1.2"/><circle cx="262.2" cy="133.8" r="1.2"/><circle cx="264.1" cy="136.2" r="1.2"/><circle cx="265.9" cy="138.6" r="1.2"/><circle cx="267.8" cy="140.8" r="1.2"/><circle cx="269.7" cy="142.8" r="1.2"/><circle cx="271.6" cy="144.8" r="1.2"/><circle cx="273.5" cy="146.5" r="1.2"/><circle cx="275.4" cy="148.2" r="1.2"/><circle cx="277.3" cy="149.7" r="1.2"/><circle cx="279.2" cy="151.1" r="1.2"/><circle cx="281.1" cy="152.4" r="1.2"/><circle cx="283" cy="153.6" r="1.2"/><circle cx="284.9" cy="154.7" r="1.2"/><circle cx="286.8" cy="155.8" r="1.2"/><circle cx="288.6" cy="156.7" r="1.2"/><circle cx="290.5" cy="157.6" r="1.2"/><circle cx="292.4" cy="158.4" r="1.2"/><circle cx="294.3" cy="159.1" r="1.2"/><circle cx="296.2" cy="159.8" r="1.2"/><circle cx="298.1" cy="160.5" r="1.2"/><circle cx="300" cy="161.1" r="1.2"/><path d="M180.3 160.7L181.3 160.4L182.3 160L183.3 159.7L184.3 159.4L185.3 159L186.3 158.6L187.3 158.2L188.3 157.8L189.3 157.4L190.3 157L191.3 156.5L192.3 156L193.3 155.5L194.3 155L195.3 154.5L196.3 153.9L197.3 153.3L198.3 152.7L199.3 152.1L200.2 151.4L201.2 150.7L202.2 150L203.2 149.2L204.2 148.4L205.2 147.6L206.2 146.8L207.2 145.9L208.2 144.9L209.2 144L210.2 143L211.2 141.9L212.2 140.8L213.2 139.7L214.2 138.5L215.2 137.3L216.2 136.1L217.2 134.8L218.2 133.5L219.2 132.2L220.2 130.8L221.2 129.4L222.2 128L223.2 126.5L224.2 125.1L225.2 123.7L226.2 122.2L227.2 120.8L228.2 119.5L229.2 118.2L230.2 116.9L231.2 115.7L232.2 114.6L233.2 113.6L234.2 112.6L235.2 111.9L236.2 111.2L237.2 110.7L238.2 110.3L239.2 110.1L240.2 110.1L241.1 110.2L242.1 110.4L243.1 110.8L244.1 111.4L245.1 112.1L246.1 112.9L247.1 113.9L248.1 114.9L249.1 116L250.1 117.3L251.1 118.5L252.1 119.9L253.1 121.3L254.1 122.7L255.1 124.1L256.1 125.5L257.1 127L258.1 128.4L259.1 129.8L260.1 131.2L261.1 132.6L262.1 133.9L263.1 135.2L264.1 136.5L265.1 137.7L266.1 138.9L267.1 140L268.1 141.2L269.1 142.2L270.1 143.3L271.1 144.3L272.1 145.2L273.1 146.1L274.1 147L275.1 147.9L276.1 148.7L277.1 149.5L278.1 150.2L279.1 150.9L280.1 151.6L281 152.3L282 152.9L283 153.5L284 154.1L285 154.7L286 155.2L287 155.7L288 156.2L289 156.7L290 157.1L291 157.5L292 158L293 158.4L294 158.7L295 159.1L296 159.5L297 159.8L298 160.1L299 160.5L300 160.8" class="fit"/></g></g>
<rect x="180.3" y="78.6" width="119.69999999999999" height="89.4" class="ax"/>
</g>
<g id="pc">
<g clip-path="url(#cc)"><path d="M335.6 165.3L336.6 165.1L337.7 163.9L338.7 163.2L339.8 163.4L340.8 163.4L341.8 163.1L342.9 162.2L343.9 162.3L345 161.5L346 161.4L347 160.5L348.1 159.7L349.1 158.7L350.2 157.5L351.2 157.2L352.3 157L353.3 156.5L354.3 156.3L355.4 155.2L356.4 154.9L357.5 154L358.5 152.8L359.5 152.1L360.6 150.8L361.6 149.5L362.7 148.4L363.7 147.9L364.7 147.2L365.8 147L366.8 146.1L367.9 145.8L368.9 145.1L369.9 144.1L371 142.9L372 141.6L373.1 140.8L374.1 140.4L375.1 139.4L376.2 138.4L377.2 137.7L378.3 135.8L379.3 135.5L380.3 134.3L381.4 134.5L382.4 133.6L383.5 133.1L384.5 131.9L385.6 131L386.6 129.6L387.6 128.5L388.7 128.1L389.7 128.1L390.8 127.1L391.8 126.7L392.8 125.4L393.9 124.4L394.9 124.3L396 122.8L397 122.6L396.7 122.4L398.5 121L400 119.8L401.4 118.7L403.6 116.6L405.7 115.9L407.2 117.3L408.6 118.7L410 120.1L410.7 118.7M412.1 113L413.6 109.4L414.3 107.3L415.7 103.7L417.1 100.1L419.3 98L421.4 97.3L423.6 98.7L425 97.3L425.7 95.1L427 93.5" fill="none" stroke="#111" stroke-width="1.2" stroke-linejoin="round"/><circle cx="335.6" cy="165.3" r="0.95" fill="none" stroke="#111" stroke-width="0.7"/><circle cx="337.7" cy="163.9" r="0.95" fill="none" stroke="#111" stroke-width="0.7"/><circle cx="339.8" cy="163.4" r="0.95" fill="none" stroke="#111" stroke-width="0.7"/><circle cx="341.8" cy="163.1" r="0.95" fill="none" stroke="#111" stroke-width="0.7"/><circle cx="343.9" cy="162.3" r="0.95" fill="none" stroke="#111" stroke-width="0.7"/><circle cx="346" cy="161.4" r="0.95" fill="none" stroke="#111" stroke-width="0.7"/><circle cx="348.1" cy="159.7" r="0.95" fill="none" stroke="#111" stroke-width="0.7"/><circle cx="350.2" cy="157.5" r="0.95" fill="none" stroke="#111" stroke-width="0.7"/><circle cx="352.3" cy="157" r="0.95" fill="none" stroke="#111" stroke-width="0.7"/><circle cx="354.3" cy="156.3" r="0.95" fill="none" stroke="#111" stroke-width="0.7"/><circle cx="356.4" cy="154.9" r="0.95" fill="none" stroke="#111" stroke-width="0.7"/><circle cx="358.5" cy="152.8" r="0.95" fill="none" stroke="#111" stroke-width="0.7"/><circle cx="360.6" cy="150.8" r="0.95" fill="none" stroke="#111" stroke-width="0.7"/><circle cx="362.7" cy="148.4" r="0.95" fill="none" stroke="#111" stroke-width="0.7"/><circle cx="364.7" cy="147.2" r="0.95" fill="none" stroke="#111" stroke-width="0.7"/><circle cx="366.8" cy="146.1" r="0.95" fill="none" stroke="#111" stroke-width="0.7"/><circle cx="368.9" cy="145.1" r="0.95" fill="none" stroke="#111" stroke-width="0.7"/><circle cx="371" cy="142.9" r="0.95" fill="none" stroke="#111" stroke-width="0.7"/><circle cx="373.1" cy="140.8" r="0.95" fill="none" stroke="#111" stroke-width="0.7"/><circle cx="375.1" cy="139.4" r="0.95" fill="none" stroke="#111" stroke-width="0.7"/><circle cx="377.2" cy="137.7" r="0.95" fill="none" stroke="#111" stroke-width="0.7"/><circle cx="379.3" cy="135.5" r="0.95" fill="none" stroke="#111" stroke-width="0.7"/><circle cx="381.4" cy="134.5" r="0.95" fill="none" stroke="#111" stroke-width="0.7"/><circle cx="383.5" cy="133.1" r="0.95" fill="none" stroke="#111" stroke-width="0.7"/><circle cx="385.6" cy="131" r="0.95" fill="none" stroke="#111" stroke-width="0.7"/><circle cx="387.6" cy="128.5" r="0.95" fill="none" stroke="#111" stroke-width="0.7"/><circle cx="389.7" cy="128.1" r="0.95" fill="none" stroke="#111" stroke-width="0.7"/><circle cx="391.8" cy="126.7" r="0.95" fill="none" stroke="#111" stroke-width="0.7"/><circle cx="393.9" cy="124.4" r="0.95" fill="none" stroke="#111" stroke-width="0.7"/><circle cx="396" cy="122.8" r="0.95" fill="none" stroke="#111" stroke-width="0.7"/><circle cx="396.7" cy="122.4" r="1.15" fill="none" stroke="#000" stroke-width="0.85"/><circle cx="398.5" cy="121" r="1.15" fill="none" stroke="#000" stroke-width="0.85"/><circle cx="400" cy="119.8" r="1.15" fill="none" stroke="#000" stroke-width="0.85"/><circle cx="401.4" cy="118.7" r="1.15" fill="none" stroke="#000" stroke-width="0.85"/><circle cx="403.6" cy="116.6" r="1.15" fill="none" stroke="#000" stroke-width="0.85"/><circle cx="405.7" cy="115.9" r="1.15" fill="none" stroke="#000" stroke-width="0.85"/><circle cx="407.2" cy="117.3" r="1.15" fill="none" stroke="#000" stroke-width="0.85"/><circle cx="408.6" cy="118.7" r="1.15" fill="none" stroke="#000" stroke-width="0.85"/><circle cx="410" cy="120.1" r="1.15" fill="none" stroke="#000" stroke-width="0.85"/><circle cx="410.7" cy="118.7" r="1.15" fill="none" stroke="#000" stroke-width="0.85"/><circle cx="412.1" cy="113" r="1.15" fill="none" stroke="#000" stroke-width="0.85"/><circle cx="413.6" cy="109.4" r="1.15" fill="none" stroke="#000" stroke-width="0.85"/><circle cx="414.3" cy="107.3" r="1.15" fill="none" stroke="#000" stroke-width="0.85"/><circle cx="415.7" cy="103.7" r="1.15" fill="none" stroke="#000" stroke-width="0.85"/><circle cx="417.1" cy="100.1" r="1.15" fill="none" stroke="#000" stroke-width="0.85"/><circle cx="419.3" cy="98" r="1.15" fill="none" stroke="#000" stroke-width="0.85"/><circle cx="421.4" cy="97.3" r="1.15" fill="none" stroke="#000" stroke-width="0.85"/><circle cx="423.6" cy="98.7" r="1.15" fill="none" stroke="#000" stroke-width="0.85"/><circle cx="425" cy="97.3" r="1.15" fill="none" stroke="#000" stroke-width="0.85"/><circle cx="425.7" cy="95.1" r="1.15" fill="none" stroke="#000" stroke-width="0.85"/><circle cx="427" cy="93.5" r="1.15" fill="none" stroke="#000" stroke-width="0.85"/><path d="M326.6 167.8L327.1 167.8L327.6 167.7L328.1 167.7L328.6 167.7L329.1 167.6L329.6 167.6L330.1 167.5L330.6 167.4L331.1 167.4L331.6 167.3L332.1 167.2L332.6 167.1L333.1 167L333.6 166.9L334.1 166.8L334.6 166.7L335.1 166.5L335.6 166.4L336.1 166.3L336.6 166.1L337.1 166L337.6 165.8L338.1 165.6L338.6 165.5L339.1 165.3L339.6 165.1L340.1 164.9L340.6 164.7L341.1 164.5L341.6 164.3L342.1 164.1L342.6 163.9L343.1 163.6L343.6 163.4L344.1 163.2L344.6 162.9L345.1 162.7L345.6 162.4L346.1 162.1L346.6 161.9L347.1 161.6L347.6 161.3L348.1 161L348.6 160.7L349.1 160.4L349.6 160.1L350.1 159.8L350.6 159.5L351.1 159.2L351.6 158.9L352.1 158.6L352.6 158.2L353.1 157.9L353.6 157.6L354.1 157.2L354.6 156.9L355.1 156.5L355.6 156.2L356.1 155.8L356.6 155.5L357.1 155.1L357.6 154.7L358.1 154.4L358.6 154L359.1 153.6L359.6 153.2L360.1 152.9L360.6 152.5L361.1 152.1L361.6 151.7L362.1 151.3L362.6 150.9L363.1 150.5L363.6 150.1L364.1 149.7L364.6 149.3L365.1 148.9L365.6 148.5L366.1 148.1L366.6 147.7L367.1 147.3L367.6 146.9L368.1 146.5L368.6 146.1L369.1 145.7L369.6 145.3L370.1 144.9L370.6 144.5L371.1 144.1L371.6 143.6L372.1 143.2L372.6 142.8L373.1 142.4L373.6 142L374.1 141.6L374.6 141.2L375.1 140.8L375.6 140.4L376.1 140L376.6 139.5L377.1 139.1L377.6 138.7L378.1 138.3L378.6 137.9L379.1 137.5L379.6 137.1L380.1 136.7L380.6 136.3L381.1 135.9L381.5 135.5L382 135.1L382.5 134.7L383 134.3L383.5 133.9L384 133.5L384.5 133.2L385 132.8L385.5 132.4L386 132L386.5 131.6L387 131.2L387.5 130.8L388 130.5L388.5 130.1L389 129.7L389.5 129.3L390 128.9L390.5 128.6L391 128.2L391.5 127.8L392 127.5L392.5 127.1L393 126.7L393.5 126.3L394 126L394.5 125.6L395 125.2L395.5 124.9L396 124.5L396.5 124.1L397 123.8L397.5 123.4L398 123L398.5 122.6L399 122.3L399.5 121.9L400 121.5L400.5 121.2L401 120.8L401.5 120.4L402 120L402.5 119.7L403 119.3L403.5 118.9L404 118.5L404.5 118.1L405 117.7L405.5 117.3L406 116.9L406.5 116.5L407 116.1L407.5 115.7L408 115.3L408.5 114.9L409 114.4L409.5 114L410 113.6L410.5 113.1L411 112.7L411.5 112.2L412 111.7L412.5 111.3L413 110.8L413.5 110.3L414 109.8L414.5 109.3L415 108.8L415.5 108.2L416 107.7L416.5 107.2L417 106.6L417.5 106L418 105.4L418.5 104.8L419 104.2L419.5 103.6L420 103L420.5 102.3L421 101.6L421.5 100.9L422 100.2L422.5 99.5L423 98.8L423.5 98L424 97.2L424.5 96.5L425 95.6L425.5 94.8L426 93.9L426.5 93.1L427 92.2L427.5 91.2L428 90.3L428.5 89.3L429 88.3L429.5 87.3L430 86.2L430.5 85.1L431 84L431.5 82.8L432 81.7L432.5 80.5L433 79.2L433.5 78L434 76.6L434.5 75.3L435 73.9L435.5 72.5L436 71.1" fill="none" stroke="#ee1111" stroke-width="1.1"/></g>
<rect x="326.6" y="78.7" width="120.1" height="89" class="ax"/>
<path d="M331.0 106.6 L361.7 106.6 L361.7 119.4 C358 119.2 356 119.8 353.5 119.8 C350.5 119.8 348 119.6 345.5 120.6 C343 121.6 341 122.6 338.6 122.3 C336.5 122 335 121.2 333.6 121.3 C333.2 118.5 333.2 115.5 332.6 113 C332 110.5 331.3 108.6 331.0 106.6 Z" fill="#4a8fd2"/><rect x="361" y="106.4" width="42" height="2.2" fill="#3a86d0"/><circle cx="385.8" cy="107.4" r="6.2" fill="url(#pink)"/><line x1="385.8" y1="107" x2="385.8" y2="118" stroke="#6a2a3a" stroke-width="0.9"/><line x1="361.9" y1="115.3" x2="383.6" y2="115.3" stroke="#222" stroke-width="0.6"/><polygon points="385.4,115.3 382.6,114.1 382.6,116.5" fill="#222"/><line x1="333.9" y1="90.3" x2="333.9" y2="100.2" stroke="#111" stroke-width="0.9"/><line x1="333.5" y1="100.2" x2="342.6" y2="100.2" stroke="#111" stroke-width="0.9"/><polygon points="345.2,100.2 342.2,98.7 342.2,101.7" fill="#111"/><circle cx="333.9" cy="90.5" r="0.7" fill="#111"/>
</g>
<g stroke="#333" stroke-width="0.7"><line x1="198.7" y1="168.0" x2="198.7" y2="166.4"/><line x1="222.5" y1="168.0" x2="222.5" y2="166.4"/><line x1="246.3" y1="168.0" x2="246.3" y2="166.4"/><line x1="270.1" y1="168.0" x2="270.1" y2="166.4"/><line x1="293.9" y1="168.0" x2="293.9" y2="166.4"/><line x1="180.3" y1="147.1" x2="181.9" y2="147.1"/><line x1="180.3" y1="115.4" x2="181.9" y2="115.4"/><line x1="180.3" y1="83.8" x2="181.9" y2="83.8"/><line x1="326.6" y1="167.7" x2="326.6" y2="166.1"/><line x1="351.7" y1="167.7" x2="351.7" y2="166.1"/><line x1="376.8" y1="167.7" x2="376.8" y2="166.1"/><line x1="402" y1="167.7" x2="402" y2="166.1"/><line x1="427.1" y1="167.7" x2="427.1" y2="166.1"/><line x1="326.6" y1="167.7" x2="328.2" y2="167.7"/><line x1="326.6" y1="125.3" x2="328.2" y2="125.3"/><line x1="326.6" y1="82.9" x2="328.2" y2="82.9"/></g>
<line x1="268.7" y1="117.7" x2="268.7" y2="95.5" stroke="#111" stroke-width="0.8"/><polygon points="268.7,92.0 267.1,96.4 270.3,96.4" fill="#111"/>
<text x="15.7" y="88.4" font-size="5.5" textLength="6.9" lengthAdjust="spacingAndGlyphs" >(a)</text><text x="32.4" y="91.3" font-size="6.0" textLength="23.4" lengthAdjust="spacingAndGlyphs" >free-end</text><text x="0" y="0" font-size="5.5" text-anchor="middle" textLength="32" lengthAdjust="spacingAndGlyphs" transform="translate(6.6,134) rotate(-90)">optical signal</text><text x="0" y="0" font-size="5.5" text-anchor="middle" textLength="39.8" lengthAdjust="spacingAndGlyphs" transform="translate(45.6,180.6) rotate(12)">cantilever length</text><text x="0" y="0" font-size="5.5" text-anchor="middle" textLength="25" lengthAdjust="spacingAndGlyphs" transform="translate(117.9,172.2) rotate(-31)">frequency</text><text x="75.9" y="170" font-size="5.8" textLength="14.0" lengthAdjust="spacingAndGlyphs" style="fill:#fff;stroke:#fff" >base</text><text x="198.7" y="174.4" font-size="5.0" text-anchor="middle" >9.8</text><text x="222.5" y="174.4" font-size="5.0" text-anchor="middle" >10.0</text><text x="246.3" y="174.4" font-size="5.0" text-anchor="middle" >10.2</text><text x="270.1" y="174.4" font-size="5.0" text-anchor="middle" >10.4</text><text x="293.9" y="174.4" font-size="5.0" text-anchor="middle" >10.6</text><text x="178.6" y="148.8" font-size="4.8" text-anchor="end" >3</text><text x="178.6" y="117.2" font-size="4.8" text-anchor="end" >6</text><text x="178.6" y="85.5" font-size="4.8" text-anchor="end" >9</text><text x="0" y="0" font-size="5.0" text-anchor="middle" textLength="54" lengthAdjust="spacingAndGlyphs" transform="translate(169.2,123.3) rotate(-90)">Optical Signal (arb. unit)</text><text x="229" y="183.8" font-size="4.8" textLength="23.9" lengthAdjust="spacingAndGlyphs" style="font-style:italic" >ω/2π (kHz)</text><text x="287.4" y="90.6" font-size="5.7" textLength="7.0" lengthAdjust="spacingAndGlyphs" >(b)</text><text x="270.9" y="105.7" font-size="4.9" textLength="22.5" lengthAdjust="spacingAndGlyphs" >increasing</text><text x="270.9" y="111.2" font-size="4.9" textLength="26.4" lengthAdjust="spacingAndGlyphs" >drive power</text><text x="326.6" y="174.4" font-size="5.0" text-anchor="middle" >0</text><text x="351.7" y="174.4" font-size="5.0" text-anchor="middle" >100</text><text x="376.8" y="174.4" font-size="5.0" text-anchor="middle" >200</text><text x="402" y="174.4" font-size="5.0" text-anchor="middle" >300</text><text x="427.1" y="174.4" font-size="5.0" text-anchor="middle" >400</text><text x="324.9" y="169.4" font-size="4.8" text-anchor="end" >0</text><text x="324.9" y="127" font-size="4.8" text-anchor="end" >1</text><text x="324.9" y="84.6" font-size="4.8" text-anchor="end" >2</text><text x="0" y="0" font-size="5.0" text-anchor="middle" textLength="79" lengthAdjust="spacingAndGlyphs" transform="translate(314.6,123.1) rotate(-90)">Optical Signal at ω<tspan font-size="3.4" dy="0.9">c</tspan><tspan dy="-0.9"> / 2π (arb. unit)</tspan></text><text x="378.6" y="183.6" font-size="4.8" style="font-style:italic" >y<tspan font-size="3.4" dy="0.9">0</tspan><tspan dy="-0.9"> (μm)</tspan></text><text x="430.4" y="157.4" font-size="5.7" textLength="6.0" lengthAdjust="spacingAndGlyphs" >(c)</text><text x="328" y="91.5" font-size="5.4" >x</text><text x="345.5" y="104" font-size="5.4" >y</text><text x="371.6" y="122.6" font-size="6.0" >y<tspan font-size="4.0" dy="1.0">0</tspan></text><text x="124" y="69.4" font-size="4.5" >x</text><text x="110.5" y="74.9" font-size="4.5" >z</text><text x="132.7" y="79.6" font-size="4.5" >y</text><text x="75.9" y="74.3" font-size="5.0" textLength="6.9" lengthAdjust="spacingAndGlyphs" >PD</text><text x="154.2" y="78.8" font-size="5.0" textLength="6.6" lengthAdjust="spacingAndGlyphs" >OL</text><text x="120.3" y="112.3" font-size="5.2" textLength="14.0" lengthAdjust="spacingAndGlyphs" style="font-style:italic" >micro-</text><text x="120.3" y="119.2" font-size="5.2" textLength="22.4" lengthAdjust="spacingAndGlyphs" style="font-style:italic" >cantilever</text>
</svg>
</body></html>
